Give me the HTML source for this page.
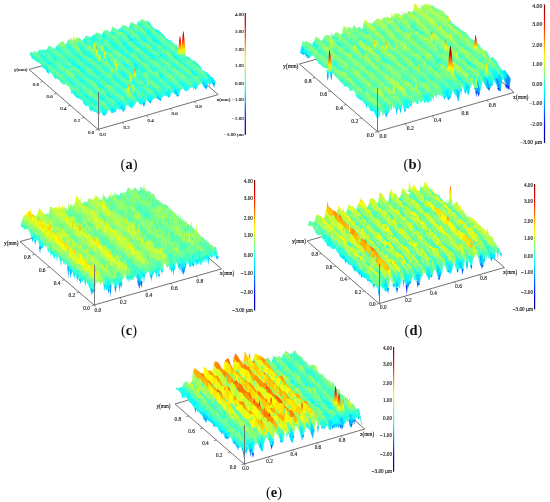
<!DOCTYPE html>
<html lang="en"><head><meta charset="utf-8"><title>Surface topography (a)-(e)</title>
<style>
html,body{margin:0;padding:0;background:#fff}
body{width:550px;height:502px;overflow:hidden}
svg{display:block}
text{font-family:"Liberation Serif","DejaVu Serif",serif;fill:#111;stroke:#111;stroke-width:.12}
text.cap{stroke:none;fill:#111}
path[class^=q]{stroke-width:1.6;stroke-linejoin:round}
.q0{fill:#000080;stroke:#000080}.r0{fill:#000080}
.q1{fill:#00009b;stroke:#00009b}.r1{fill:#00009b}
.q2{fill:#0000b7;stroke:#0000b7}.r2{fill:#0000b7}
.q3{fill:#0000d2;stroke:#0000d2}.r3{fill:#0000d2}
.q4{fill:#0000ee;stroke:#0000ee}.r4{fill:#0000ee}
.q5{fill:#000aff;stroke:#000aff}.r5{fill:#000aff}
.q6{fill:#0026ff;stroke:#0026ff}.r6{fill:#0026ff}
.q7{fill:#0041ff;stroke:#0041ff}.r7{fill:#0041ff}
.q8{fill:#005dff;stroke:#005dff}.r8{fill:#005dff}
.q9{fill:#0079ff;stroke:#0079ff}.r9{fill:#0079ff}
.q10{fill:#0094ff;stroke:#0094ff}.r10{fill:#0094ff}
.q11{fill:#00b0ff;stroke:#00b0ff}.r11{fill:#00b0ff}
.q12{fill:#00cbff;stroke:#00cbff}.r12{fill:#00cbff}
.q13{fill:#00e7ff;stroke:#00e7ff}.r13{fill:#00e7ff}
.q14{fill:#03fffc;stroke:#03fffc}.r14{fill:#03fffc}
.q15{fill:#1fffe0;stroke:#1fffe0}.r15{fill:#1fffe0}
.q16{fill:#3bffc4;stroke:#3bffc4}.r16{fill:#3bffc4}
.q17{fill:#56ffa9;stroke:#56ffa9}.r17{fill:#56ffa9}
.q18{fill:#72ff8d;stroke:#72ff8d}.r18{fill:#72ff8d}
.q19{fill:#8dff72;stroke:#8dff72}.r19{fill:#8dff72}
.q20{fill:#a9ff56;stroke:#a9ff56}.r20{fill:#a9ff56}
.q21{fill:#c4ff3b;stroke:#c4ff3b}.r21{fill:#c4ff3b}
.q22{fill:#e0ff1f;stroke:#e0ff1f}.r22{fill:#e0ff1f}
.q23{fill:#fcff03;stroke:#fcff03}.r23{fill:#fcff03}
.q24{fill:#ffe700;stroke:#ffe700}.r24{fill:#ffe700}
.q25{fill:#ffcb00;stroke:#ffcb00}.r25{fill:#ffcb00}
.q26{fill:#ffb000;stroke:#ffb000}.r26{fill:#ffb000}
.q27{fill:#ff9400;stroke:#ff9400}.r27{fill:#ff9400}
.q28{fill:#ff7900;stroke:#ff7900}.r28{fill:#ff7900}
.q29{fill:#ff5d00;stroke:#ff5d00}.r29{fill:#ff5d00}
.q30{fill:#ff4100;stroke:#ff4100}.r30{fill:#ff4100}
.q31{fill:#ff2600;stroke:#ff2600}.r31{fill:#ff2600}
.q32{fill:#ff0a00;stroke:#ff0a00}.r32{fill:#ff0a00}
.q33{fill:#ee0000;stroke:#ee0000}.r33{fill:#ee0000}
.q34{fill:#d20000;stroke:#d20000}.r34{fill:#d20000}
.q35{fill:#b70000;stroke:#b70000}.r35{fill:#b70000}
.q36{fill:#9b0000;stroke:#9b0000}.r36{fill:#9b0000}
.q37{fill:#800000;stroke:#800000}.r37{fill:#800000}
</style></head><body>
<svg width="550" height="502" viewBox="0 0 550 502">
<defs>
<filter id="bl" x="-5%" y="-10%" width="110%" height="120%"><feGaussianBlur stdDeviation="0.45"/></filter>
<linearGradient id="cba" x1="0" y1="0" x2="0" y2="1"><stop offset="0.000" stop-color="#800000"/><stop offset="0.036" stop-color="#a40000"/><stop offset="0.071" stop-color="#c80000"/><stop offset="0.107" stop-color="#ed0000"/><stop offset="0.143" stop-color="#ff1200"/><stop offset="0.179" stop-color="#ff3700"/><stop offset="0.214" stop-color="#ff5b00"/><stop offset="0.250" stop-color="#ff8000"/><stop offset="0.286" stop-color="#ffa400"/><stop offset="0.321" stop-color="#ffc800"/><stop offset="0.357" stop-color="#ffed00"/><stop offset="0.393" stop-color="#edff12"/><stop offset="0.429" stop-color="#c8ff37"/><stop offset="0.464" stop-color="#a4ff5b"/><stop offset="0.500" stop-color="#80ff80"/><stop offset="0.536" stop-color="#5bffa4"/><stop offset="0.571" stop-color="#37ffc8"/><stop offset="0.607" stop-color="#12ffed"/><stop offset="0.643" stop-color="#00edff"/><stop offset="0.679" stop-color="#00c8ff"/><stop offset="0.714" stop-color="#00a4ff"/><stop offset="0.750" stop-color="#0080ff"/><stop offset="0.786" stop-color="#005bff"/><stop offset="0.821" stop-color="#0037ff"/><stop offset="0.857" stop-color="#0012ff"/><stop offset="0.893" stop-color="#0000ed"/><stop offset="0.929" stop-color="#0000c8"/><stop offset="0.964" stop-color="#0000a4"/><stop offset="1.000" stop-color="#000080"/></linearGradient>
<linearGradient id="ga0" gradientUnits="userSpaceOnUse" x1="0" y1="36.0" x2="0" y2="55.0"><stop offset="0.00" stop-color="#8e0000"/><stop offset="0.17" stop-color="#de0000"/><stop offset="0.33" stop-color="#ff2f00"/><stop offset="0.50" stop-color="#ff8000"/><stop offset="0.67" stop-color="#ffd000"/><stop offset="0.83" stop-color="#deff21"/><stop offset="1.00" stop-color="#8eff71"/></linearGradient>
<linearGradient id="ga1" gradientUnits="userSpaceOnUse" x1="0" y1="31.0" x2="0" y2="55.0"><stop offset="0.00" stop-color="#800000"/><stop offset="0.17" stop-color="#ba0000"/><stop offset="0.33" stop-color="#ff1200"/><stop offset="0.50" stop-color="#ff6a00"/><stop offset="0.67" stop-color="#ffc100"/><stop offset="0.83" stop-color="#e5ff1a"/><stop offset="1.00" stop-color="#8eff71"/></linearGradient>
<linearGradient id="ga2" gradientUnits="userSpaceOnUse" x1="0" y1="35.0" x2="0" y2="44.0"><stop offset="0.00" stop-color="#ffed00"/><stop offset="0.17" stop-color="#f4ff0b"/><stop offset="0.33" stop-color="#d7ff28"/><stop offset="0.50" stop-color="#baff45"/><stop offset="0.67" stop-color="#9dff62"/><stop offset="0.83" stop-color="#80ff80"/><stop offset="1.00" stop-color="#62ff9d"/></linearGradient>
<linearGradient id="ga3" gradientUnits="userSpaceOnUse" x1="0" y1="37.0" x2="0" y2="44.0"><stop offset="0.00" stop-color="#f4ff0b"/><stop offset="0.17" stop-color="#dcff23"/><stop offset="0.33" stop-color="#c3ff3c"/><stop offset="0.50" stop-color="#abff54"/><stop offset="0.67" stop-color="#93ff6c"/><stop offset="0.83" stop-color="#7bff84"/><stop offset="1.00" stop-color="#62ff9d"/></linearGradient>
<linearGradient id="ga4" gradientUnits="userSpaceOnUse" x1="0" y1="45.0" x2="0" y2="57.0"><stop offset="0.00" stop-color="#ff6a00"/><stop offset="0.17" stop-color="#ff9800"/><stop offset="0.33" stop-color="#ffc600"/><stop offset="0.50" stop-color="#fff400"/><stop offset="0.67" stop-color="#dcff23"/><stop offset="0.83" stop-color="#aeff51"/><stop offset="1.00" stop-color="#80ff80"/></linearGradient>
<linearGradient id="ga5" gradientUnits="userSpaceOnUse" x1="0" y1="45.0" x2="0" y2="52.0"><stop offset="0.00" stop-color="#ffed00"/><stop offset="0.17" stop-color="#f6ff09"/><stop offset="0.33" stop-color="#dcff23"/><stop offset="0.50" stop-color="#c1ff3e"/><stop offset="0.67" stop-color="#a6ff59"/><stop offset="0.83" stop-color="#8cff73"/><stop offset="1.00" stop-color="#71ff8e"/></linearGradient>
<linearGradient id="ga6" gradientUnits="userSpaceOnUse" x1="0" y1="59.0" x2="0" y2="66.0"><stop offset="0.00" stop-color="#fffb00"/><stop offset="0.17" stop-color="#eaff15"/><stop offset="0.33" stop-color="#d2ff2d"/><stop offset="0.50" stop-color="#baff45"/><stop offset="0.67" stop-color="#a2ff5e"/><stop offset="0.83" stop-color="#89ff76"/><stop offset="1.00" stop-color="#71ff8e"/></linearGradient>
<linearGradient id="ga7" gradientUnits="userSpaceOnUse" x1="0" y1="68.0" x2="0" y2="78.0"><stop offset="0.00" stop-color="#ff4d00"/><stop offset="0.17" stop-color="#ff8000"/><stop offset="0.33" stop-color="#ffb200"/><stop offset="0.50" stop-color="#ffe500"/><stop offset="0.67" stop-color="#e5ff1a"/><stop offset="0.83" stop-color="#b2ff4d"/><stop offset="1.00" stop-color="#80ff80"/></linearGradient>
<linearGradient id="ga8" gradientUnits="userSpaceOnUse" x1="0" y1="74.0" x2="0" y2="83.0"><stop offset="0.00" stop-color="#ffd000"/><stop offset="0.17" stop-color="#ffef00"/><stop offset="0.33" stop-color="#efff10"/><stop offset="0.50" stop-color="#d0ff2f"/><stop offset="0.67" stop-color="#b0ff4f"/><stop offset="0.83" stop-color="#91ff6e"/><stop offset="1.00" stop-color="#71ff8e"/></linearGradient>
<linearGradient id="ga9" gradientUnits="userSpaceOnUse" x1="0" y1="84.0" x2="0" y2="93.0"><stop offset="0.00" stop-color="#ff8700"/><stop offset="0.17" stop-color="#ffb200"/><stop offset="0.33" stop-color="#ffde00"/><stop offset="0.50" stop-color="#f4ff0b"/><stop offset="0.67" stop-color="#c8ff37"/><stop offset="0.83" stop-color="#9dff62"/><stop offset="1.00" stop-color="#71ff8e"/></linearGradient>
<linearGradient id="ga10" gradientUnits="userSpaceOnUse" x1="0" y1="68.0" x2="0" y2="74.0"><stop offset="0.00" stop-color="#f4ff0b"/><stop offset="0.17" stop-color="#dcff23"/><stop offset="0.33" stop-color="#c3ff3c"/><stop offset="0.50" stop-color="#abff54"/><stop offset="0.67" stop-color="#93ff6c"/><stop offset="0.83" stop-color="#7bff84"/><stop offset="1.00" stop-color="#62ff9d"/></linearGradient>
<linearGradient id="ga11" gradientUnits="userSpaceOnUse" x1="0" y1="91.0" x2="0" y2="98.0"><stop offset="0.00" stop-color="#f4ff0b"/><stop offset="0.17" stop-color="#dcff23"/><stop offset="0.33" stop-color="#c3ff3c"/><stop offset="0.50" stop-color="#abff54"/><stop offset="0.67" stop-color="#93ff6c"/><stop offset="0.83" stop-color="#7bff84"/><stop offset="1.00" stop-color="#62ff9d"/></linearGradient>
<linearGradient id="ga12" gradientUnits="userSpaceOnUse" x1="0" y1="80.0" x2="0" y2="86.0"><stop offset="0.00" stop-color="#d7ff28"/><stop offset="0.17" stop-color="#c3ff3c"/><stop offset="0.33" stop-color="#b0ff4f"/><stop offset="0.50" stop-color="#9dff62"/><stop offset="0.67" stop-color="#89ff76"/><stop offset="0.83" stop-color="#76ff89"/><stop offset="1.00" stop-color="#62ff9d"/></linearGradient>
<linearGradient id="ga13" gradientUnits="userSpaceOnUse" x1="0" y1="43.0" x2="0" y2="52.0"><stop offset="0.00" stop-color="#ffde00"/><stop offset="0.17" stop-color="#fffb00"/><stop offset="0.33" stop-color="#e5ff1a"/><stop offset="0.50" stop-color="#c8ff37"/><stop offset="0.67" stop-color="#abff54"/><stop offset="0.83" stop-color="#8eff71"/><stop offset="1.00" stop-color="#71ff8e"/></linearGradient>
<linearGradient id="ga14" gradientUnits="userSpaceOnUse" x1="0" y1="51.0" x2="0" y2="61.0"><stop offset="0.00" stop-color="#ffa400"/><stop offset="0.17" stop-color="#ffc800"/><stop offset="0.33" stop-color="#ffed00"/><stop offset="0.50" stop-color="#edff12"/><stop offset="0.67" stop-color="#c8ff37"/><stop offset="0.83" stop-color="#a4ff5b"/><stop offset="1.00" stop-color="#80ff80"/></linearGradient>
<linearGradient id="ga15" gradientUnits="userSpaceOnUse" x1="0" y1="51.0" x2="0" y2="59.0"><stop offset="0.00" stop-color="#fffb00"/><stop offset="0.17" stop-color="#eaff15"/><stop offset="0.33" stop-color="#d2ff2d"/><stop offset="0.50" stop-color="#baff45"/><stop offset="0.67" stop-color="#a2ff5e"/><stop offset="0.83" stop-color="#89ff76"/><stop offset="1.00" stop-color="#71ff8e"/></linearGradient>
<linearGradient id="ga16" gradientUnits="userSpaceOnUse" x1="0" y1="37.0" x2="0" y2="42.0"><stop offset="0.00" stop-color="#e5ff1a"/><stop offset="0.17" stop-color="#d0ff2f"/><stop offset="0.33" stop-color="#baff45"/><stop offset="0.50" stop-color="#a4ff5b"/><stop offset="0.67" stop-color="#8eff71"/><stop offset="0.83" stop-color="#78ff87"/><stop offset="1.00" stop-color="#62ff9d"/></linearGradient>
<linearGradient id="ga17" gradientUnits="userSpaceOnUse" x1="0" y1="63.0" x2="0" y2="71.0"><stop offset="0.00" stop-color="#ffed00"/><stop offset="0.17" stop-color="#f6ff09"/><stop offset="0.33" stop-color="#dcff23"/><stop offset="0.50" stop-color="#c1ff3e"/><stop offset="0.67" stop-color="#a6ff59"/><stop offset="0.83" stop-color="#8cff73"/><stop offset="1.00" stop-color="#71ff8e"/></linearGradient>
<linearGradient id="ga18" gradientUnits="userSpaceOnUse" x1="0" y1="84.0" x2="0" y2="92.0"><stop offset="0.00" stop-color="#fffb00"/><stop offset="0.17" stop-color="#eaff15"/><stop offset="0.33" stop-color="#d2ff2d"/><stop offset="0.50" stop-color="#baff45"/><stop offset="0.67" stop-color="#a2ff5e"/><stop offset="0.83" stop-color="#89ff76"/><stop offset="1.00" stop-color="#71ff8e"/></linearGradient>
<linearGradient id="cbb" x1="0" y1="0" x2="0" y2="1"><stop offset="0.000" stop-color="#800000"/><stop offset="0.036" stop-color="#a40000"/><stop offset="0.071" stop-color="#c80000"/><stop offset="0.107" stop-color="#ed0000"/><stop offset="0.143" stop-color="#ff1200"/><stop offset="0.179" stop-color="#ff3700"/><stop offset="0.214" stop-color="#ff5b00"/><stop offset="0.250" stop-color="#ff8000"/><stop offset="0.286" stop-color="#ffa400"/><stop offset="0.321" stop-color="#ffc800"/><stop offset="0.357" stop-color="#ffed00"/><stop offset="0.393" stop-color="#edff12"/><stop offset="0.429" stop-color="#c8ff37"/><stop offset="0.464" stop-color="#a4ff5b"/><stop offset="0.500" stop-color="#80ff80"/><stop offset="0.536" stop-color="#5bffa4"/><stop offset="0.571" stop-color="#37ffc8"/><stop offset="0.607" stop-color="#12ffed"/><stop offset="0.643" stop-color="#00edff"/><stop offset="0.679" stop-color="#00c8ff"/><stop offset="0.714" stop-color="#00a4ff"/><stop offset="0.750" stop-color="#0080ff"/><stop offset="0.786" stop-color="#005bff"/><stop offset="0.821" stop-color="#0037ff"/><stop offset="0.857" stop-color="#0012ff"/><stop offset="0.893" stop-color="#0000ed"/><stop offset="0.929" stop-color="#0000c8"/><stop offset="0.964" stop-color="#0000a4"/><stop offset="1.000" stop-color="#000080"/></linearGradient>
<linearGradient id="gb0" gradientUnits="userSpaceOnUse" x1="0" y1="80.5" x2="0" y2="70.0"><stop offset="0.00" stop-color="#004cff"/><stop offset="0.17" stop-color="#0071ff"/><stop offset="0.33" stop-color="#0095ff"/><stop offset="0.50" stop-color="#00baff"/><stop offset="0.67" stop-color="#00deff"/><stop offset="0.83" stop-color="#04fffb"/><stop offset="1.00" stop-color="#28ffd7"/></linearGradient>
<linearGradient id="gb1" gradientUnits="userSpaceOnUse" x1="0" y1="80.0" x2="0" y2="70.0"><stop offset="0.00" stop-color="#004cff"/><stop offset="0.17" stop-color="#0071ff"/><stop offset="0.33" stop-color="#0095ff"/><stop offset="0.50" stop-color="#00baff"/><stop offset="0.67" stop-color="#00deff"/><stop offset="0.83" stop-color="#04fffb"/><stop offset="1.00" stop-color="#28ffd7"/></linearGradient>
<linearGradient id="gb2" gradientUnits="userSpaceOnUse" x1="0" y1="50.0" x2="0" y2="72.0"><stop offset="0.00" stop-color="#800000"/><stop offset="0.17" stop-color="#d90000"/><stop offset="0.33" stop-color="#ff3400"/><stop offset="0.50" stop-color="#ff8e00"/><stop offset="0.67" stop-color="#ffe800"/><stop offset="0.83" stop-color="#bcff43"/><stop offset="1.00" stop-color="#62ff9d"/></linearGradient>
<linearGradient id="gb3" gradientUnits="userSpaceOnUse" x1="0" y1="32.0" x2="0" y2="50.0"><stop offset="0.00" stop-color="#ffa400"/><stop offset="0.17" stop-color="#ffcb00"/><stop offset="0.33" stop-color="#fff200"/><stop offset="0.50" stop-color="#e5ff1a"/><stop offset="0.67" stop-color="#bfff40"/><stop offset="0.83" stop-color="#98ff67"/><stop offset="1.00" stop-color="#71ff8e"/></linearGradient>
<linearGradient id="gb4" gradientUnits="userSpaceOnUse" x1="0" y1="46.0" x2="0" y2="72.0"><stop offset="0.00" stop-color="#800000"/><stop offset="0.17" stop-color="#9d0000"/><stop offset="0.33" stop-color="#f40000"/><stop offset="0.50" stop-color="#ff4d00"/><stop offset="0.67" stop-color="#ffa400"/><stop offset="0.83" stop-color="#fffb00"/><stop offset="1.00" stop-color="#abff54"/></linearGradient>
<linearGradient id="gb5" gradientUnits="userSpaceOnUse" x1="0" y1="64.0" x2="0" y2="80.0"><stop offset="0.00" stop-color="#ffa400"/><stop offset="0.17" stop-color="#ffcd00"/><stop offset="0.33" stop-color="#fff600"/><stop offset="0.50" stop-color="#deff21"/><stop offset="0.67" stop-color="#b5ff4a"/><stop offset="0.83" stop-color="#8cff73"/><stop offset="1.00" stop-color="#62ff9d"/></linearGradient>
<linearGradient id="gb6" gradientUnits="userSpaceOnUse" x1="0" y1="35.0" x2="0" y2="50.0"><stop offset="0.00" stop-color="#9d0000"/><stop offset="0.17" stop-color="#e50000"/><stop offset="0.33" stop-color="#ff2f00"/><stop offset="0.50" stop-color="#ff7800"/><stop offset="0.67" stop-color="#ffc100"/><stop offset="0.83" stop-color="#f4ff0b"/><stop offset="1.00" stop-color="#abff54"/></linearGradient>
<linearGradient id="gb7" gradientUnits="userSpaceOnUse" x1="0" y1="39.0" x2="0" y2="52.0"><stop offset="0.00" stop-color="#ff5b00"/><stop offset="0.17" stop-color="#ff8c00"/><stop offset="0.33" stop-color="#ffbc00"/><stop offset="0.50" stop-color="#ffed00"/><stop offset="0.67" stop-color="#e1ff1e"/><stop offset="0.83" stop-color="#b0ff4f"/><stop offset="1.00" stop-color="#80ff80"/></linearGradient>
<linearGradient id="gb8" gradientUnits="userSpaceOnUse" x1="0" y1="31.0" x2="0" y2="42.0"><stop offset="0.00" stop-color="#ff6a00"/><stop offset="0.17" stop-color="#ff9800"/><stop offset="0.33" stop-color="#ffc600"/><stop offset="0.50" stop-color="#fff400"/><stop offset="0.67" stop-color="#dcff23"/><stop offset="0.83" stop-color="#aeff51"/><stop offset="1.00" stop-color="#80ff80"/></linearGradient>
<linearGradient id="gb9" gradientUnits="userSpaceOnUse" x1="0" y1="41.0" x2="0" y2="52.0"><stop offset="0.00" stop-color="#ff6a00"/><stop offset="0.17" stop-color="#ff9800"/><stop offset="0.33" stop-color="#ffc600"/><stop offset="0.50" stop-color="#fff400"/><stop offset="0.67" stop-color="#dcff23"/><stop offset="0.83" stop-color="#aeff51"/><stop offset="1.00" stop-color="#80ff80"/></linearGradient>
<linearGradient id="gb10" gradientUnits="userSpaceOnUse" x1="0" y1="84.0" x2="0" y2="96.0"><stop offset="0.00" stop-color="#ffde00"/><stop offset="0.17" stop-color="#fffe00"/><stop offset="0.33" stop-color="#e1ff1e"/><stop offset="0.50" stop-color="#c1ff3e"/><stop offset="0.67" stop-color="#a2ff5e"/><stop offset="0.83" stop-color="#82ff7d"/><stop offset="1.00" stop-color="#62ff9d"/></linearGradient>
<linearGradient id="gb11" gradientUnits="userSpaceOnUse" x1="0" y1="83.0" x2="0" y2="94.0"><stop offset="0.00" stop-color="#ffde00"/><stop offset="0.17" stop-color="#fffe00"/><stop offset="0.33" stop-color="#e1ff1e"/><stop offset="0.50" stop-color="#c1ff3e"/><stop offset="0.67" stop-color="#a2ff5e"/><stop offset="0.83" stop-color="#82ff7d"/><stop offset="1.00" stop-color="#62ff9d"/></linearGradient>
<linearGradient id="gb12" gradientUnits="userSpaceOnUse" x1="0" y1="11.0" x2="0" y2="20.0"><stop offset="0.00" stop-color="#ffd000"/><stop offset="0.17" stop-color="#fff200"/><stop offset="0.33" stop-color="#eaff15"/><stop offset="0.50" stop-color="#c8ff37"/><stop offset="0.67" stop-color="#a6ff59"/><stop offset="0.83" stop-color="#84ff7b"/><stop offset="1.00" stop-color="#62ff9d"/></linearGradient>
<linearGradient id="gb13" gradientUnits="userSpaceOnUse" x1="0" y1="15.0" x2="0" y2="24.0"><stop offset="0.00" stop-color="#ff8700"/><stop offset="0.17" stop-color="#ffb200"/><stop offset="0.33" stop-color="#ffde00"/><stop offset="0.50" stop-color="#f4ff0b"/><stop offset="0.67" stop-color="#c8ff37"/><stop offset="0.83" stop-color="#9dff62"/><stop offset="1.00" stop-color="#71ff8e"/></linearGradient>
<linearGradient id="gb14" gradientUnits="userSpaceOnUse" x1="0" y1="13.0" x2="0" y2="20.0"><stop offset="0.00" stop-color="#fffb00"/><stop offset="0.17" stop-color="#e8ff17"/><stop offset="0.33" stop-color="#cdff32"/><stop offset="0.50" stop-color="#b3ff4c"/><stop offset="0.67" stop-color="#98ff67"/><stop offset="0.83" stop-color="#7dff82"/><stop offset="1.00" stop-color="#62ff9d"/></linearGradient>
<linearGradient id="gb15" gradientUnits="userSpaceOnUse" x1="0" y1="63.0" x2="0" y2="76.0"><stop offset="0.00" stop-color="#ffc100"/><stop offset="0.17" stop-color="#ffe300"/><stop offset="0.33" stop-color="#f9ff06"/><stop offset="0.50" stop-color="#d7ff28"/><stop offset="0.67" stop-color="#b5ff4a"/><stop offset="0.83" stop-color="#93ff6c"/><stop offset="1.00" stop-color="#71ff8e"/></linearGradient>
<linearGradient id="gb16" gradientUnits="userSpaceOnUse" x1="0" y1="43.0" x2="0" y2="52.0"><stop offset="0.00" stop-color="#ffed00"/><stop offset="0.17" stop-color="#f6ff09"/><stop offset="0.33" stop-color="#dcff23"/><stop offset="0.50" stop-color="#c1ff3e"/><stop offset="0.67" stop-color="#a6ff59"/><stop offset="0.83" stop-color="#8cff73"/><stop offset="1.00" stop-color="#71ff8e"/></linearGradient>
<linearGradient id="gb17" gradientUnits="userSpaceOnUse" x1="0" y1="41.0" x2="0" y2="50.0"><stop offset="0.00" stop-color="#ff8700"/><stop offset="0.17" stop-color="#ffb200"/><stop offset="0.33" stop-color="#ffde00"/><stop offset="0.50" stop-color="#f4ff0b"/><stop offset="0.67" stop-color="#c8ff37"/><stop offset="0.83" stop-color="#9dff62"/><stop offset="1.00" stop-color="#71ff8e"/></linearGradient>
<linearGradient id="gb18" gradientUnits="userSpaceOnUse" x1="0" y1="44.0" x2="0" y2="52.0"><stop offset="0.00" stop-color="#f4ff0b"/><stop offset="0.17" stop-color="#deff21"/><stop offset="0.33" stop-color="#c8ff37"/><stop offset="0.50" stop-color="#b3ff4c"/><stop offset="0.67" stop-color="#9dff62"/><stop offset="0.83" stop-color="#87ff78"/><stop offset="1.00" stop-color="#71ff8e"/></linearGradient>
<linearGradient id="gb19" gradientUnits="userSpaceOnUse" x1="0" y1="52.0" x2="0" y2="60.0"><stop offset="0.00" stop-color="#fffb00"/><stop offset="0.17" stop-color="#eaff15"/><stop offset="0.33" stop-color="#d2ff2d"/><stop offset="0.50" stop-color="#baff45"/><stop offset="0.67" stop-color="#a2ff5e"/><stop offset="0.83" stop-color="#89ff76"/><stop offset="1.00" stop-color="#71ff8e"/></linearGradient>
<linearGradient id="gb20" gradientUnits="userSpaceOnUse" x1="0" y1="50.0" x2="0" y2="60.0"><stop offset="0.00" stop-color="#ffd000"/><stop offset="0.17" stop-color="#ffef00"/><stop offset="0.33" stop-color="#efff10"/><stop offset="0.50" stop-color="#d0ff2f"/><stop offset="0.67" stop-color="#b0ff4f"/><stop offset="0.83" stop-color="#91ff6e"/><stop offset="1.00" stop-color="#71ff8e"/></linearGradient>
<linearGradient id="gb21" gradientUnits="userSpaceOnUse" x1="0" y1="78.0" x2="0" y2="88.0"><stop offset="0.00" stop-color="#ffed00"/><stop offset="0.17" stop-color="#f4ff0b"/><stop offset="0.33" stop-color="#d7ff28"/><stop offset="0.50" stop-color="#baff45"/><stop offset="0.67" stop-color="#9dff62"/><stop offset="0.83" stop-color="#80ff80"/><stop offset="1.00" stop-color="#62ff9d"/></linearGradient>
<linearGradient id="cbc" x1="0" y1="0" x2="0" y2="1"><stop offset="0.000" stop-color="#800000"/><stop offset="0.036" stop-color="#a40000"/><stop offset="0.071" stop-color="#c80000"/><stop offset="0.107" stop-color="#ed0000"/><stop offset="0.143" stop-color="#ff1200"/><stop offset="0.179" stop-color="#ff3700"/><stop offset="0.214" stop-color="#ff5b00"/><stop offset="0.250" stop-color="#ff8000"/><stop offset="0.286" stop-color="#ffa400"/><stop offset="0.321" stop-color="#ffc800"/><stop offset="0.357" stop-color="#ffed00"/><stop offset="0.393" stop-color="#edff12"/><stop offset="0.429" stop-color="#c8ff37"/><stop offset="0.464" stop-color="#a4ff5b"/><stop offset="0.500" stop-color="#80ff80"/><stop offset="0.536" stop-color="#5bffa4"/><stop offset="0.571" stop-color="#37ffc8"/><stop offset="0.607" stop-color="#12ffed"/><stop offset="0.643" stop-color="#00edff"/><stop offset="0.679" stop-color="#00c8ff"/><stop offset="0.714" stop-color="#00a4ff"/><stop offset="0.750" stop-color="#0080ff"/><stop offset="0.786" stop-color="#005bff"/><stop offset="0.821" stop-color="#0037ff"/><stop offset="0.857" stop-color="#0012ff"/><stop offset="0.893" stop-color="#0000ed"/><stop offset="0.929" stop-color="#0000c8"/><stop offset="0.964" stop-color="#0000a4"/><stop offset="1.000" stop-color="#000080"/></linearGradient>
<linearGradient id="cbd" x1="0" y1="0" x2="0" y2="1"><stop offset="0.000" stop-color="#800000"/><stop offset="0.036" stop-color="#a40000"/><stop offset="0.071" stop-color="#c80000"/><stop offset="0.107" stop-color="#ed0000"/><stop offset="0.143" stop-color="#ff1200"/><stop offset="0.179" stop-color="#ff3700"/><stop offset="0.214" stop-color="#ff5b00"/><stop offset="0.250" stop-color="#ff8000"/><stop offset="0.286" stop-color="#ffa400"/><stop offset="0.321" stop-color="#ffc800"/><stop offset="0.357" stop-color="#ffed00"/><stop offset="0.393" stop-color="#edff12"/><stop offset="0.429" stop-color="#c8ff37"/><stop offset="0.464" stop-color="#a4ff5b"/><stop offset="0.500" stop-color="#80ff80"/><stop offset="0.536" stop-color="#5bffa4"/><stop offset="0.571" stop-color="#37ffc8"/><stop offset="0.607" stop-color="#12ffed"/><stop offset="0.643" stop-color="#00edff"/><stop offset="0.679" stop-color="#00c8ff"/><stop offset="0.714" stop-color="#00a4ff"/><stop offset="0.750" stop-color="#0080ff"/><stop offset="0.786" stop-color="#005bff"/><stop offset="0.821" stop-color="#0037ff"/><stop offset="0.857" stop-color="#0012ff"/><stop offset="0.893" stop-color="#0000ed"/><stop offset="0.929" stop-color="#0000c8"/><stop offset="0.964" stop-color="#0000a4"/><stop offset="1.000" stop-color="#000080"/></linearGradient>
<linearGradient id="gd0" gradientUnits="userSpaceOnUse" x1="0" y1="185.5" x2="0" y2="204.0"><stop offset="0.00" stop-color="#ff5b00"/><stop offset="0.17" stop-color="#ff8c00"/><stop offset="0.33" stop-color="#ffbc00"/><stop offset="0.50" stop-color="#ffed00"/><stop offset="0.67" stop-color="#e1ff1e"/><stop offset="0.83" stop-color="#b0ff4f"/><stop offset="1.00" stop-color="#80ff80"/></linearGradient>
<linearGradient id="gd1" gradientUnits="userSpaceOnUse" x1="0" y1="182.0" x2="0" y2="192.0"><stop offset="0.00" stop-color="#ffde00"/><stop offset="0.17" stop-color="#fff900"/><stop offset="0.33" stop-color="#eaff15"/><stop offset="0.50" stop-color="#d0ff2f"/><stop offset="0.67" stop-color="#b5ff4a"/><stop offset="0.83" stop-color="#9aff65"/><stop offset="1.00" stop-color="#80ff80"/></linearGradient>
<linearGradient id="cbe" x1="0" y1="0" x2="0" y2="1"><stop offset="0.000" stop-color="#800000"/><stop offset="0.036" stop-color="#a40000"/><stop offset="0.071" stop-color="#c80000"/><stop offset="0.107" stop-color="#ed0000"/><stop offset="0.143" stop-color="#ff1200"/><stop offset="0.179" stop-color="#ff3700"/><stop offset="0.214" stop-color="#ff5b00"/><stop offset="0.250" stop-color="#ff8000"/><stop offset="0.286" stop-color="#ffa400"/><stop offset="0.321" stop-color="#ffc800"/><stop offset="0.357" stop-color="#ffed00"/><stop offset="0.393" stop-color="#edff12"/><stop offset="0.429" stop-color="#c8ff37"/><stop offset="0.464" stop-color="#a4ff5b"/><stop offset="0.500" stop-color="#80ff80"/><stop offset="0.536" stop-color="#5bffa4"/><stop offset="0.571" stop-color="#37ffc8"/><stop offset="0.607" stop-color="#12ffed"/><stop offset="0.643" stop-color="#00edff"/><stop offset="0.679" stop-color="#00c8ff"/><stop offset="0.714" stop-color="#00a4ff"/><stop offset="0.750" stop-color="#0080ff"/><stop offset="0.786" stop-color="#005bff"/><stop offset="0.821" stop-color="#0037ff"/><stop offset="0.857" stop-color="#0012ff"/><stop offset="0.893" stop-color="#0000ed"/><stop offset="0.929" stop-color="#0000c8"/><stop offset="0.964" stop-color="#0000a4"/><stop offset="1.000" stop-color="#000080"/></linearGradient>
<linearGradient id="ge0" gradientUnits="userSpaceOnUse" x1="0" y1="386.0" x2="0" y2="406.0"><stop offset="0.00" stop-color="#800000"/><stop offset="0.17" stop-color="#cd0000"/><stop offset="0.33" stop-color="#ff1c00"/><stop offset="0.50" stop-color="#ff6a00"/><stop offset="0.67" stop-color="#ffb700"/><stop offset="0.83" stop-color="#f9ff06"/><stop offset="1.00" stop-color="#abff54"/></linearGradient>
<linearGradient id="ge1" gradientUnits="userSpaceOnUse" x1="0" y1="393.0" x2="0" y2="411.0"><stop offset="0.00" stop-color="#ba0000"/><stop offset="0.17" stop-color="#fe0000"/><stop offset="0.33" stop-color="#ff4300"/><stop offset="0.50" stop-color="#ff8700"/><stop offset="0.67" stop-color="#ffcb00"/><stop offset="0.83" stop-color="#efff10"/><stop offset="1.00" stop-color="#abff54"/></linearGradient>
<linearGradient id="ge2" gradientUnits="userSpaceOnUse" x1="0" y1="399.0" x2="0" y2="411.0"><stop offset="0.00" stop-color="#ff6a00"/><stop offset="0.17" stop-color="#ff9500"/><stop offset="0.33" stop-color="#ffc100"/><stop offset="0.50" stop-color="#ffed00"/><stop offset="0.67" stop-color="#e5ff1a"/><stop offset="0.83" stop-color="#baff45"/><stop offset="1.00" stop-color="#8eff71"/></linearGradient>
<linearGradient id="ge3" gradientUnits="userSpaceOnUse" x1="0" y1="398.0" x2="0" y2="409.0"><stop offset="0.00" stop-color="#ffa400"/><stop offset="0.17" stop-color="#ffc800"/><stop offset="0.33" stop-color="#ffed00"/><stop offset="0.50" stop-color="#edff12"/><stop offset="0.67" stop-color="#c8ff37"/><stop offset="0.83" stop-color="#a4ff5b"/><stop offset="1.00" stop-color="#80ff80"/></linearGradient>
<linearGradient id="ge4" gradientUnits="userSpaceOnUse" x1="0" y1="397.0" x2="0" y2="408.0"><stop offset="0.00" stop-color="#e50000"/><stop offset="0.17" stop-color="#ff1e00"/><stop offset="0.33" stop-color="#ff5600"/><stop offset="0.50" stop-color="#ff8e00"/><stop offset="0.67" stop-color="#ffc600"/><stop offset="0.83" stop-color="#fffe00"/><stop offset="1.00" stop-color="#c8ff37"/></linearGradient>
<linearGradient id="ge5" gradientUnits="userSpaceOnUse" x1="0" y1="402.0" x2="0" y2="415.0"><stop offset="0.00" stop-color="#f40000"/><stop offset="0.17" stop-color="#ff2f00"/><stop offset="0.33" stop-color="#ff6a00"/><stop offset="0.50" stop-color="#ffa400"/><stop offset="0.67" stop-color="#ffde00"/><stop offset="0.83" stop-color="#e5ff1a"/><stop offset="1.00" stop-color="#abff54"/></linearGradient>
<linearGradient id="ge6" gradientUnits="userSpaceOnUse" x1="0" y1="353.0" x2="0" y2="362.0"><stop offset="0.00" stop-color="#ff6a00"/><stop offset="0.17" stop-color="#ff8c00"/><stop offset="0.33" stop-color="#ffae00"/><stop offset="0.50" stop-color="#ffd000"/><stop offset="0.67" stop-color="#fff200"/><stop offset="0.83" stop-color="#eaff15"/><stop offset="1.00" stop-color="#c8ff37"/></linearGradient>
</defs>
<rect width="550" height="502" fill="#fff"/>
<!-- panel a -->
<path d="M98.0 129.4 L29.0 69.5 L149.2 34.7 L218.2 94.6 Z" fill="none" stroke="#444" stroke-width=".75"/>
<path d="M98.0 129.4 l2.0 1.7M98.0 129.4 l-2.5 0.7M122.0 122.4 l2.0 1.7M84.2 117.4 l-2.5 0.7M146.1 115.5 l2.0 1.7M70.4 105.4 l-2.5 0.7M170.1 108.5 l2.0 1.7M56.6 93.5 l-2.5 0.7M194.2 101.6 l2.0 1.7M42.8 81.5 l-2.5 0.7" stroke="#444" stroke-width=".6" fill="none"/>
<g filter="url(#bl)">
<g transform="scale(0.2500)">
<path class="q15" d="M593 98l-11-6 6-9 10 7zM656 152l-11-10-10-2 5-12 11 9 10 13zM677 171l-10-12 5 1 10 1zM709 199l-11-11 5-8 11 15zM793 274l-11-8-10-10-11-11-10-12 5-4 10 12 11 2 10 8 11 11zM824 300l-10-14 5 2 10 3z"/>
<path class="q14" d="M603 116l-10-18 5-8 11 18zM635 140l-11-9-10-11 5-4 11 3 10 9zM667 159l-11-7 5-2 11 10zM719 211l-10-12 5-4 10 10zM751 233l-11-8 5 2 11 2zM814 286l-11-9-10-3 5-12 10 21 11 5zM845 321l-10-10-11-11 5-9 11 13 10 6z"/>
<path class="q13" d="M614 120l-11-4 6-8 10 8zM740 225l-10-1-11-13 5-6 11 14 10 8zM856 338l-11-17 5-11 11 18z"/>
<path class="q16" d="M698 188l-10-18-11 1 5-10 11 13 10 6z"/>
<path class="q15" d="M588 97l-11-13 5 8 11 6zM672 163l-11 0-10-16-11-11-10-6 5 10 10 2 11 10 11 7 10 12zM703 199l-10-13-11-8 6-8 10 18 11 11zM819 295l-10-4-11-16-10-11-11-7-10-11-11-5-11-7-10-9 5 0 11 8 10 12 11 11 10 10 11 8 10 3 11 9 10 14z"/>
<path class="q14" d="M630 130l-11-8-10-7-11-6-10-12 5 1 10 18 11 4 10 11 11 9zM735 225l-11-6-10-15-11-5 6 0 10 12 11 13 10 1zM830 308l-11-13 5 5 11 11z"/>
<path class="q16" d="M682 178l-10-15 5 8 11-1z"/>
<path class="q13" d="M840 326l-10-18 5 3 10 10z"/>
<path class="q12" d="M851 334l-11-8 5-5 11 17z"/>
<path class="q16" d="M740 231l-10-15-11-6-10-13-11-3-10-20-11 0-10-8-11-12-10-8-11-9-10-7-11-15-10-9-11-9-10-8-11-9 5 4 11 13 10 12 11 6 10 7 11 8 10 6 11 11 10 16 11 0 10 15 11 8 10 13 11 5 10 15 11 6 10 9zM761 242l-10-1 5 0 11 5zM824 297l-10-5-11-8-10-16 5 7 11 16 10 4 11 13z"/>
<path class="q15" d="M751 241l-11-10 5 3 11 7zM835 317l-11-20 6 11 10 18z"/>
<path class="q17" d="M793 268l-11-6-10-13-11-7 6 4 10 11 11 7 10 11z"/>
<path class="q14" d="M845 327l-10-10 5 9 11 8z"/>
<path class="q18" d="M609 113l-10-5-11-18-10-7-11-5 5 2 11 9 10 8 11 9 10 9zM651 148l-10-10 5 8 10 8zM704 197l-11-14-10-5 5-4 10 20 11 3zM735 222l-10-10-11-6 5 4 11 6 10 15zM819 299l-10-13-11-11-10-5-11-9-10-7-11-11 5-1 11 7 10 13 11 6 10 16 11 8 10 5z"/>
<path class="q17" d="M641 138l-11-2-10-12-11-11 5 2 11 15 10 7 11 9zM683 178l-11-4-10-14-11-12 5 6 11 12 10 8 11 0zM714 206l-10-9 5 0 10 13zM756 243l-10-5-11-16 5 9 11 10 10 1zM830 307l-11-8 5-2 11 20z"/>
<path class="q15" d="M840 331l-10-24 5 10 10 10z"/>
<path class="q18" d="M657 164l-11-10-10-12-11-6-10-13-11-8-10-4-11-10-10-11-11-9 5-3 11 5 10 7 11 18 10 5 11 11 10 12 11 2 10 10 11 12zM699 200l-11-14-10-5 5-3 10 5 11 14zM730 227l-10-6 5-9 10 10zM814 299l-10-9-11-11-10-5 5-4 10 5 11 11 10 13z"/>
<path class="q17" d="M678 181l-11-6-10-11 5-4 10 14 11 4zM720 221l-11-8-10-13 5-3 10 9 11 6zM783 274l-11-6-10-8-11-12-10-3-11-18 5-5 11 16 10 5 11 11 10 7 11 9zM825 313l-11-14 5 0 11 8z"/>
<path class="q16" d="M835 334l-10-21 5-6 10 24z"/>
<path class="q17" d="M610 132l-11-8-11-13-10-9-11-1-10-13 5-7 11 9 10 11 11 10 10 4 11 8zM673 185l-11-7-10-17-11 1-10-9-11-17 5 0 11 6 10 12 11 10 10 11 11 6zM704 215l-10-15 5 0 10 13zM820 315l-11-7-10-10-11-14-10-4-11-13-10-7-11-13-10-5 5 3 10 3 11 12 10 8 11 6 10 5 11 11 10 9 11 14z"/>
<path class="q18" d="M620 136l-10-4 5-9 10 13zM694 200l-11-5-10-10 5-4 10 5 11 14z"/>
<path class="q16" d="M736 242l-11-6-10-8-11-13 5-2 11 8 10 6 11 18z"/>
<path class="q15" d="M830 334l-10-19 5-2 10 21z"/>
<path class="q16" d="M583 127l-10-15-11-11-10-14 5 1 10 13 11 1 10 9zM636 163l-11-2-10-13-11-7 6-9 10 4 11 17 10 9zM678 198l-11-1-10-14 5-5 11 7 10 10zM699 227l-11-17 6-10 10 15zM741 258l-10-12-11-10-10-6 5-2 10 8 11 6 10 5zM804 311l-10-14-11-1-10-10-11-13 5-6 11 13 10 4 11 14 10 10z"/>
<path class="q15" d="M604 141l-10-3-11-11 5-16 11 13 11 8zM710 230l-11-3 5-12 11 13zM815 328l-11-17 5-3 11 7z"/>
<path class="q17" d="M657 183l-11-11-10-9 5-1 11-1 10 17zM688 210l-10-12 5-3 11 5zM762 273l-10-15-11 0 5-11 11 13 10 7z"/>
<path class="q14" d="M825 349l-10-21 5-13 10 19z"/>
<path class="q15" d="M557 112l-10-13 5-12 10 14zM610 159l-11-19 5 1 11 7zM683 220l-10-9-11-12-10-6-11-11-10-9 5-10 10 9 11 11 10 14 11 1 10 12zM757 288l-11-13-10-15-11-2-10-14-11-7 6-7 10 6 11 10 10 12 11 0 10 15zM788 304l-10-3 5-5 11 1zM810 328l-11-18 5 1 11 17z"/>
<path class="q14" d="M568 128l-11-16 5-11 11 11zM599 140l-10-2 5 0 10 3zM631 173l-11-2-10-12 5-11 10 13 11 2zM704 237l-10-4-11-13 5-10 11 17 11 3zM778 301l-11-5-10-8 5-15 11 13 10 10z"/>
<path class="q13" d="M589 138l-11-3-10-7 5-16 10 15 11 11z"/>
<path class="q16" d="M799 310l-11-6 6-7 10 14z"/>
<path class="q12" d="M820 353l-10-25 5 0 10 21z"/>
<path class="q13" d="M563 117l-11-2-10-9 5-7 10 13 11 16zM615 166l-10-11 5 4 10 12zM689 231l-11-10 5-1 11 13zM815 344l-11-18 6 2 10 25z"/>
<path class="q14" d="M584 130l-11-10-10-3 5 11 10 7 11 3zM605 155l-11-10 5-5 11 19zM678 221l-10-16-11-3-10-10-11-11-10-9-11-6 5 5 11 2 10 9 11 11 10 6 11 12 10 9zM720 248l-10-1-11-12-10-4 5 2 10 4 11 7 10 14zM773 301l-11-10-10-9-11-10 5 3 11 13 10 8 11 5z"/>
<path class="q15" d="M594 145l-10-15 5 8 10 2zM741 272l-10-11-11-13 5 10 11 2 10 15zM783 302l-10-1 5 0 10 3zM804 326l-10-14 5-2 11 18z"/>
<path class="q16" d="M794 312l-11-10 5 2 11 6z"/>
<path class="q14" d="M547 106l-10-10 5 10 10 9z"/>
<path class="q15" d="M558 104l-11 2 5 9 11 2zM663 203l-11-7-10-11-11-5-10-10-11-5-10-17 5 7 10 11 11 6 10 9 11 11 10 10 11 3zM694 231l-10-10-11-17 5 17 11 10 10 4zM736 266l-10-3 5-2 10 11zM778 307l-10-11 5 5 10 1zM810 337l-11-14 5 3 11 18z"/>
<path class="q16" d="M568 119l-10-15 5 13 10 3zM600 148l-11-14-10-7 5 3 10 15 11 10zM673 204l-10-1 5 2 10 16zM726 263l-11-18-10-8-11-6 5 4 11 12 10 1 11 13zM768 296l-11-17-10-7-11-6 5 6 11 10 10 9 11 10zM799 323l-10-12-11-4 5-5 11 10 10 14z"/>
<path class="q17" d="M579 127l-11-8 5 1 11 10z"/>
<path class="q16" d="M542 99l-11-7 6 4 10 10zM626 179l-10-14-11-11-10-7 5 1 10 17 11 5 10 10zM773 304l-10-15 5 7 10 11z"/>
<path class="q18" d="M584 133l-10-14-11-8-10-8-11-4 5 7 11-2 10 15 11 8 10 7zM679 211l-11-2 5-5 11 17zM763 289l-11-12-10-8 5 3 10 7 11 17z"/>
<path class="q17" d="M595 147l-11-14 5 1 11 14zM668 209l-10-11-11-10-10-11-11 2 5 1 11 5 10 11 11 7 10 1zM742 269l-11-5-10-9-11-12-10-6-11-13-10-13 5 10 10 10 11 6 10 8 11 18 10 3 11 6zM805 327l-11-13-10-9-11-1 5 3 11 4 10 12 11 14z"/>
<path class="q18" d="M558 118l-11-10-10-11-11-8 5 3 11 7 11 4 10 8zM579 140l-11-13 6-8 10 14zM610 163l-10-12 5 3 11 11zM663 207l-10-3-11-12-11-7 6-8 10 11 11 10 10 11zM789 317l-10-9-11-8-10-15-11-2-10-7-11-12-10-10-11-10-10-4-11-20 5 4 11 13 10 6 11 12 10 9 11 5 10 8 11 12 10 15 11 1 10 9z"/>
<path class="q19" d="M568 127l-10-9 5-7 11 8zM684 220l-10-7-11-6 5 2 11 2 10 13z"/>
<path class="q17" d="M600 151l-11-1-10-10 5-7 11 14 10 7zM631 185l-10-9-11-13 6 2 10 14 11-2zM800 337l-11-20 5-3 11 13z"/>
<path class="q18" d="M542 110l-10-9-11-5 5-7 11 8 10 11zM668 217l-10-1 5-9 11 6zM710 261l-10-14-11-10-10-6 5-11 11 20 10 4 11 10zM763 304l-10-10-11-7 5-4 11 2 10 15z"/>
<path class="q17" d="M574 147l-11-14-10-8-11-15 5-2 11 10 10 9 11 13zM616 179l-11-12-10-1-11-13 5-3 11 1 10 12 11 13zM658 216l-11-14-10-3-11-8 5-6 11 7 11 12 10 3zM742 287l-11-7-10-9-11-10 6-7 10 10 11 12 10 7zM795 336l-11-11-10-7-11-14 5-4 11 8 10 9 11 20z"/>
<path class="q16" d="M584 153l-10-6 5-7 10 10zM626 191l-10-12 5-3 10 9z"/>
<path class="q19" d="M679 231l-11-14 6-4 10 7z"/>
<path class="q16" d="M527 108l-11 1 5-13 11 5zM674 240l-11-6-10-7-11-14-10-10-11-8-10-8-11-11-10-6 5-4 10 1 11 12 10 12 11 8 10 3 11 14 10 1 11 14zM789 349l-10-22-11-6-10-9-11-8-10-4-11-13-10-8-11-9-10-16 5-7 10 14 11 10 10 9 11 7 11 7 10 10 11 14 10 7 11 11z"/>
<path class="q18" d="M537 111l-10-3 5-7 10 9z"/>
<path class="q17" d="M548 131l-11-20 5-1 11 15zM695 254l-11-7-10-7 5-9 10 6 11 10z"/>
<path class="q15" d="M590 170l-11-11-10-5-11-7-10-16 5-6 10 8 11 14 10 6 11 13z"/>
<path class="q14" d="M522 121l-11-1 5-11 11-1zM585 175l-11-11-10-8-11-9 5 0 11 7 10 5 11 11zM658 239l-10-7-11-15 5-4 11 14 10 7zM711 284l-11-6-10-9 5-15 10 16 11 9zM784 356l-10-23 5-6 10 22z"/>
<path class="q16" d="M543 129l-11-1-10-7 5-13 10 3 11 20zM774 333l-11-13-10-6 5-2 10 9 11 6z"/>
<path class="q15" d="M553 147l-10-18 5 2 10 16zM637 217l-10-12-11-4-10-10-11-9-10-7 5-5 10 6 11 11 10 8 11 8 10 10zM690 269l-11-22-10-1-11-7 5-5 11 6 10 7 11 7zM753 314l-11-3-10-16-11-4-10-7 5-5 10 8 11 13 10 4 11 8z"/>
<path class="q13" d="M517 124l-11-16 5 12 11 1zM695 277l-10-9 5 1 10 9z"/>
<path class="q14" d="M527 130l-10-6 5-3 10 7zM611 200l-10-4 5-5 10 10zM664 245l-11-5-10-8-11-14 5-1 11 15 10 7 11 7zM716 294l-10-11-11-6 5 1 11 6 10 7zM779 352l-10-17 5-2 10 23z"/>
<path class="q15" d="M601 196l-11-21-10-7-11-6-10-11-11-9-10-6-11-6 5-2 11 1 10 18 11 9 10 8 11 11 10 7 11 9zM632 218l-10-11-11-7 5 1 11 4 10 12zM685 268l-11-18-10-5 5 1 10 1 11 22zM748 316l-11-10-10-8-11-4 5-3 11 4 10 16 11 3z"/>
<path class="q16" d="M769 335l-11-13-10-6 5-2 10 6 11 13z"/>
<path class="q15" d="M522 123l-11-11-10-9 5 5 11 16 10 6zM606 194l-10-8 5 10 10 4zM659 244l-11-10-10-12-11-11 5 7 11 14 10 8 11 5zM690 263l-10-4-11-8 5-1 11 18 10 9zM711 287l-10-13 5 9 10 11zM774 346l-10-16 5 5 10 17z"/>
<path class="q16" d="M596 186l-11-10-11-5-10-12-11-11-10-12-11-10-10-3 5 7 11 6 10 6 11 9 10 11 11 6 10 7 11 21zM627 211l-10-7-11-10 5 6 11 7 10 11zM669 251l-10-7 5 1 10 5zM701 274l-11-11 5 14 11 6zM722 293l-11-6 5 7 11 4zM764 330l-11-11 5 3 11 13z"/>
<path class="q17" d="M753 319l-10-12-11-10-10-4 5 5 10 8 11 10 10 6z"/>
<path class="q17" d="M517 115l-11-4-10-9 5 1 10 9 11 11zM590 177l-10-6-11-2-10-15 5 5 10 12 11 5 11 10zM622 208l-11-8-10-14 5 8 11 10 10 7zM674 247l-10-1-11-12-10-5-11-19 6 12 10 12 11 10 10 7 11 8zM717 290l-11-12 5 9 11 6zM759 331l-11-13 5 1 11 11z"/>
<path class="q18" d="M559 154l-11-16-10-6-11-15-10-2 5 8 10 3 11 10 10 12 11 11zM601 186l-11-9 6 9 10 8zM632 210l-10-2 5 3 11 11zM706 278l-11-10-10-8-11-13 6 12 10 4 11 11 10 13zM748 318l-10-12-11-8-10-8 5 3 10 4 11 10 10 12z"/>
<path class="q16" d="M769 347l-10-16 5-1 10 16z"/>
<path class="q17" d="M501 112l-10-10 5 0 10 9zM575 177l-11-12-10-6 5-5 10 15 11 2zM753 332l-10-14 5 0 11 13z"/>
<path class="q18" d="M554 159l-11-15-10-3-11-13-10-7-11-9 5-1 11 4 10 2 11 15 10 6 11 16zM585 178l-10-1 5-6 10 6zM743 318l-11-5-10-17-11-5-10-8-11-12-10-4-11-11-10-7-11-11-10-13-11-7-10-4-11-13-10-8 5-7 10 14 11 8 10 2 11 19 10 5 11 12 10 1 11 13 10 8 11 10 11 12 10 8 11 8 10 12z"/>
<path class="q19" d="M596 193l-11-15 5-1 11 9z"/>
<path class="q16" d="M764 344l-11-12 6-1 10 16z"/>
<path class="q17" d="M580 189l-10-4-11-13-10-11-11-10-10-1-11-15-10-10-11-8-10-8 5-7 10 10 11 9 10 7 11 13 10 3 11 15 10 6 11 12 10 1zM612 220l-11-15 5-4 11 13zM675 267l-11-5-10-10-11-4-10-5 5-18 10 13 11 11 10 7 11 11zM759 347l-11-13-10-8-11-13 5 0 11 5 10 14 11 12z"/>
<path class="q18" d="M601 205l-10-14-11-2 5-11 11 15 10 8zM727 313l-10-14-11-4-10-11-11-6-10-11 5 0 10 4 11 12 10 8 11 5 10 17z"/>
<path class="q16" d="M633 243l-11-7-10-16 5-6 10 4 11 7z"/>
<path class="q16" d="M491 119l-10-5 5-5 10 8zM512 143l-10-18 5 0 10 10zM596 218l-10-12-11-9-10-14-11-11-10 3 5-14 10 11 11 13 10 4 11 2 10 14zM659 268l-10-5-11-16 5 1 11 4 10 10zM743 342l-10-8-11-7 5-14 11 13 10 8z"/>
<path class="q17" d="M502 125l-11-6 5-2 11 8zM722 327l-10-19-11-6-10-8-11-11-10-13-11-2 5-6 11 5 10 11 11 6 10 11 11 4 10 14z"/>
<path class="q15" d="M544 175l-11-11-10-8-11-13 5-8 11 15 10 1 11 10zM638 247l-10-3-11-10-10-5-11-11 5-13 11 15 10 16 11 7 10 5zM754 358l-11-16 5-8 11 13z"/>
<path class="q15" d="M507 156l-11-22-10-1-11-16 6-3 10 5 11 6 10 18zM570 206l-10-14-11-4 5-16 11 11 10 14zM633 252l-10-9-11-5 5-4 11 10 10 3zM686 299l-11-7 5-9 11 11zM717 329l-10-8 5-13 10 19z"/>
<path class="q13" d="M528 168l-11-2-10-10 5-13 11 13 10 8z"/>
<path class="q14" d="M549 188l-11-7-10-13 5-4 11 11 10-3zM612 238l-10-7-11-6-10-14-11-5 5-9 11 9 10 12 11 11 10 5zM749 361l-11-12-10-8-11-12 5-2 11 7 10 8 11 16z"/>
<path class="q16" d="M675 292l-10-11-11-15-10-6-11-8 5-5 11 16 10 5 11 2 10 13zM707 321l-11-16-10-6 5-5 10 8 11 6z"/>
<path class="q14" d="M502 144l-11-3-10-10-11-2 5-12 11 16 10 1 11 22zM533 175l-10-7 5 0 10 13zM575 209l-10-7-11-6-10-7 5-1 11 4 10 14 11 5zM607 238l-11-9-10-14 5 10 11 6 10 7zM744 364l-11-17-10-7-11-9 5-2 11 12 10 8 11 12z"/>
<path class="q13" d="M523 168l-11-11-10-13 5 12 10 10 11 2zM544 189l-11-14 5 6 11 7z"/>
<path class="q15" d="M586 215l-11-6 6 2 10 14zM638 263l-10-8-11-6-10-11 5 0 11 5 10 9 11 8zM681 295l-11-1-10-14 5 1 10 11 11 7zM712 331l-10-14-11-13 5 1 11 16 10 8z"/>
<path class="q16" d="M660 280l-11-10-11-7 6-3 10 6 11 15zM691 304l-10-9 5 4 10 6z"/>
<path class="q14" d="M476 129l-11-7 5 7 11 2z"/>
<path class="q15" d="M486 133l-10-4 5 2 10 10zM560 195l-11-10-10-4-11-13-10-6-11-14 5 9 11 11 10 7 11 14 10 7 11 6zM612 246l-10-13 5 5 10 11zM665 287l-11-7 6 0 10 14zM738 356l-10-10-11-6-10-17 5 8 11 9 10 7 11 17z"/>
<path class="q16" d="M507 148l-10-14-11-1 5 8 11 3 10 13zM602 233l-11-13-10-9-11-4-10-12 5 7 10 7 11 6 10 14 11 9zM654 280l-10-9-11-13-10-11-11-1 5 3 11 6 10 8 11 7 11 10zM675 298l-10-11 5 7 11 1zM707 323l-11-8-10-14 5 3 11 13 10 14z"/>
<path class="q17" d="M686 301l-11-3 6-3 10 9z"/>
<path class="q16" d="M481 127l-10-2-11-12 5 9 11 7 10 4zM607 243l-10-10 5 0 10 13zM733 350l-10-8-11-12 5 10 11 6 10 10z"/>
<path class="q18" d="M502 144l-10-10-11-7 5 6 11 1 10 14zM628 248l-10-4 5 3 10 11zM702 315l-11-7-10-9 5 2 10 14 11 8z"/>
<path class="q17" d="M597 233l-11-10-10-6-11-13-10-13-11-6-10-12-11-8-10-5-11-16 5 4 11 14 10 6 11 13 10 4 11 10 10 12 11 4 10 9 11 13zM618 244l-11-1 5 3 11 1zM681 299l-11-8-10-7-11-9-10-9-11-18 5 10 11 13 10 9 11 7 10 11 11 3zM712 330l-10-15 5 8 10 17z"/>
<path class="q17" d="M476 128l-10-7-11-8 5 0 11 12 10 2zM602 240l-10-10-11-5-10-12-11-12 5 3 11 13 10 6 11 10 10 10zM728 355l-10-17-11-8 5 0 11 12 10 8z"/>
<path class="q19" d="M497 143l-10-11-11-4 5-1 11 7 10 10zM634 265l-11-15-10-5 5-1 10 4 11 18zM686 306l-10-10 5 3 10 9z"/>
<path class="q18" d="M560 201l-10-11-11-3-10-13-11-15-10-10-11-6 5 1 11 16 10 5 11 8 10 12 11 6 10 13zM613 245l-11-5 5 3 11 1zM676 296l-11-2-10-12-11-6-10-11 5 1 10 9 11 9 10 7 11 8zM707 330l-10-6-11-18 5 2 11 7 10 15z"/>
<path class="q18" d="M471 124l-11-4-10-13 5 6 11 8 10 7zM524 178l-11-7-10-11-11-10-11-11 6-7 10 11 11 6 10 10 11 15zM545 190l-11-2 5-1 11 3zM566 216l-11-15 5 0 11 12zM618 270l-10-20-11-11-10-5 5-4 10 10 11 5 10 5zM671 302l-11-7-10-5 5-8 10 12 11 2zM702 334l-10-13-11-8 5-7 11 18 10 6z"/>
<path class="q19" d="M481 139l-10-15 5 4 11 4zM555 201l-10-11 5 0 10 11zM681 313l-10-11 5-6 10 10z"/>
<path class="q17" d="M534 188l-10-10 5-4 10 13zM587 234l-11-5-10-13 5-3 10 12 11 5zM650 290l-11-7-10-11-11-2 5-20 11 15 10 11 11 6zM723 358l-10-13-11-11 5-4 11 8 10 17z"/>
<path class="q17" d="M455 132l-10-9 5-16 10 13zM539 199l-10-3-11-13-10-5 5-7 11 7 10 10 11 2zM560 225l-10-17 5-7 11 15zM603 258l-11-15-11-5-10-8 5-1 11 5 10 5 11 11zM697 342l-10-15-11-6-10-9-11-5 5-12 11 7 10 11 11 8 10 13z"/>
<path class="q18" d="M476 151l-10-19-11 0 5-12 11 4 10 15zM550 208l-11-9 6-9 10 11z"/>
<path class="q16" d="M508 178l-11-9-10-6-11-12 5-12 11 11 11 10 10 11zM571 230l-11-5 6-9 10 13zM613 271l-10-13 5-8 10 20zM655 307l-10-9-11-9-10-7 5-10 10 11 11 7 10 5zM718 363l-10-10-11-11 5-8 11 11 10 13z"/>
<path class="q15" d="M624 282l-11-11 5-1 11 2z"/>
<path class="q14" d="M450 141l-10-4 5-14 10 9zM503 191l-11-12-10-12 5-4 10 6 11 9zM650 315l-11-7-10-14 5-5 11 9 10 9zM713 384l-10-27 5-4 10 10z"/>
<path class="q16" d="M471 149l-10-8-11 0 5-9 11 0 10 19zM545 218l-11-4 5-15 11 9zM597 263l-10-9-11-10-10-5 5-9 10 8 11 5 11 15zM681 338l-10-10-11-9 6-7 10 9 11 6z"/>
<path class="q15" d="M482 167l-11-18 5 2 11 12zM534 214l-10-7-11-12-10-4 5-13 10 5 11 13 10 3zM566 239l-11-5-10-16 5-10 10 17 11 5zM629 294l-11-10-10-10-11-11 6-5 10 13 11 11 10 7zM660 319l-10-4 5-8 11 5zM703 357l-11-8-11-11 6-11 10 15 11 11z"/>
<path class="q14" d="M445 137l-10-11 5 11 10 4zM487 176l-10-7 5-2 10 12zM529 206l-10-1-11-5 5-5 11 12 10 7zM571 249l-10-6-11-7-10-10 5-8 10 16 11 5 10 5zM634 307l-10-8-11-13-10-8-11-8 5-7 11 11 10 10 11 10 10 14zM655 322l-10-6 5-1 10 4zM697 364l-10-12-11-4-10-16 5-4 10 10 11 11 11 8z"/>
<path class="q15" d="M456 143l-11-6 5 4 11 0zM477 169l-11-14 5-6 11 18zM540 226l-11-20 5 8 11 4zM592 270l-10-15-11-6 5-5 11 10 10 9zM666 332l-11-10 5-3 11 9z"/>
<path class="q16" d="M466 155l-10-12 5-2 10 8z"/>
<path class="q13" d="M508 200l-10-7-11-17 5 3 11 12 10 4zM645 316l-11-9 5 1 11 7z"/>
<path class="q12" d="M708 382l-11-18 6-7 10 27z"/>
<path class="q16" d="M472 162l-11-13-10-6-11-9-10-12 5 4 10 11 11 6 10 12 11 14zM598 267l-11-11-10-1 5 0 10 15 11 8z"/>
<path class="q15" d="M493 180l-11-13-10-5 5 7 10 7 11 17zM577 255l-11-8-10-14-11-14-10-7-11 2-10-6 5-3 10 1 11 20 10 10 11 7 10 6 11 6zM671 339l-10-13-11-9-10-8-11-14-10-1-11-10-10-17 5 11 10 8 11 13 10 8 11 9 10 6 11 10 10 16z"/>
<path class="q14" d="M514 208l-11-18-10-10 5 13 10 7 11 5zM692 364l-10-16-11-9 5 9 11 4 10 12z"/>
<path class="q12" d="M703 378l-11-14 5 0 11 18z"/>
<path class="q17" d="M446 141l-11-10-11-10 6 1 10 12 11 9zM488 178l-11-15 5 4 11 13zM551 231l-11-13 5 1 11 14zM582 255l-10-6 5 6 10 1zM603 276l-10-11 5 2 10 17zM624 285l-10 5 5 4 10 1zM656 321l-11-7-10-12 5 7 10 8 11 9z"/>
<path class="q18" d="M477 163l-10-11-11-13-10 2 5 2 10 6 11 13 10 5zM540 218l-10-5 5-1 10 7zM593 265l-11-10 5 1 11 11zM635 302l-11-17 5 10 11 14z"/>
<path class="q16" d="M498 190l-10-12 5 2 10 10zM530 213l-11-4 5 5 11-2zM572 249l-11-2-10-16 5 2 10 14 11 8zM614 290l-11-14 5 8 11 10zM687 351l-10-11-11-6-10-13 5 5 10 13 11 9 10 16z"/>
<path class="q15" d="M519 209l-10-6-11-13 5 0 11 18 10 6z"/>
<path class="q14" d="M698 375l-11-24 5 13 11 14z"/>
<path class="q18" d="M451 145l-11-5-10-11-11-7 5-1 11 10 11 10 10-2zM482 182l-10-18 5-1 11 15zM556 237l-10-10-11-10-11-1 6-3 10 5 11 13 10 16zM598 276l-10-8-11-16-10-3 5 0 10 6 11 10 10 11zM619 296l-10-8 5 2 10-5zM640 315l-10-16 5 3 10 12zM682 352l-10-14 5 2 10 11z"/>
<path class="q19" d="M472 164l-11-12-10-7 5-6 11 13 10 11zM630 299l-11-3 5-11 11 17z"/>
<path class="q17" d="M503 193l-10-5-11-6 6-4 10 12 11 13zM524 216l-10-6 5-1 11 4zM567 249l-11-12 5 10 11 2zM609 288l-11-12 5 0 11 14zM672 338l-11-4-10-11-11-8 5-1 11 7 10 13 11 6z"/>
<path class="q16" d="M514 210l-11-17 6 10 10 6zM693 365l-11-13 5-1 11 24z"/>
<path class="q18" d="M435 146l-10-14-11-5 5-5 11 7 10 11zM624 310l-10-15-11-7-10-10-11-10-10-7-11-8-10-8-11-10-10-10-11-7 5-2 11 1 11 10 10 10 11 12 10 3 11 16 10 8 11 12 10 8 11 3zM677 353l-10-13 5-2 10 14z"/>
<path class="q17" d="M519 218l-10-12-11-6-10-9-11-6-10-8-11-9-10-11-11-11 5-6 11 5 10 7 11 12 10 18 11 6 10 5 11 17 10 6zM667 340l-11 2-11-19-10-5-11-8 6-11 10 16 11 8 10 11 11 4zM688 369l-11-16 5-1 11 13z"/>
<path class="q16" d="M441 164l-11-14-10-7-11-7 5-9 11 5 10 14 11 11zM493 202l-10-2-11-9 5-6 11 6 10 9zM567 272l-11-4-10-13-11-10-10-12-11-3-10-15 5-9 10 12 11 7 10 10 11 10 10 8 11 8zM630 322l-11-3-10-13 5-11 10 15 11 8zM661 348l-10-1-11-12 5-12 11 19 11-2zM682 377l-10-21 5-3 11 16z"/>
<path class="q15" d="M472 191l-10-8-11-8-10-11 5-7 10 11 11 9 10 8z"/>
<path class="q17" d="M504 215l-11-13 5-2 11 6zM609 306l-11-8-10-14-11-7-10-5 5-11 10 7 11 10 10 10 11 7zM640 335l-10-13 5-4 10 5zM672 356l-11-8 6-8 10 13z"/>
<path class="q14" d="M415 150l-11 0 5-14 11 7zM467 195l-10-3-11-13-10-13 5-2 10 11 11 8 10 8zM509 231l-10-6 5-10 10 15zM572 288l-10-4-11-12-10-14-11-6 5-7 11 10 10 13 11 4 10 5zM677 391l-10-21 5-14 10 21z"/>
<path class="q15" d="M436 166l-11-13-10-3 5-7 10 7 11 14zM499 225l-11-12-10-13-11-5 5-4 11 9 10 2 11 13zM530 252l-10-10-11-11 5-1 11 3 10 12zM583 291l-11-3 5-11 11 7zM656 357l-10-6-11-10-10-9-11-10-10-4-11-21 5 1 11 8 10 13 11 3 10 13 11 12 10 1z"/>
<path class="q16" d="M593 297l-10-6 5-7 10 14zM667 370l-11-13 5-9 11 8z"/>
<path class="q13" d="M410 161l-11-19 5 8 11 0zM462 201l-10-3-11-19 5 0 11 13 10 3zM557 279l-11-1-10-6-11-16-10-8 5-6 10 10 11 6 10 14 11 12zM641 360l-11-14 5-5 11 10zM672 385l-10-13 5-2 10 21z"/>
<path class="q14" d="M420 165l-10-4 5-11 10 3zM441 179l-10-12 5-1 10 13zM473 202l-11-1 5-6 11 5zM494 221l-11-4 5-4 11 12zM515 248l-11-19 5 2 11 11zM567 283l-10-4 5 5 10 4zM630 346l-10-8-11-10-10-12 5 2 10 4 11 10 10 9zM662 372l-11-13-10 1 5-9 10 6 11 13z"/>
<path class="q15" d="M431 167l-11-2 5-12 11 13zM483 217l-10-15 5-2 10 13zM504 229l-10-8 5 4 10 6zM578 292l-11-9 5 5 11 3zM599 316l-11-18 5-1 11 21z"/>
<path class="q16" d="M588 298l-10-6 5-1 10 6z"/>
<path class="q14" d="M404 151l-10-13 5 4 11 19zM425 167l-10-7 5 5 11 2zM457 190l-11 3-10-18 5 4 11 19 10 3zM552 269l-11 4-10-23-11-6 5 12 11 16 10 6 11 1zM646 356l-10-6-11-7-10-12-11-10 5 7 11 10 10 8 11 14 10-1zM667 384l-10-20 5 8 10 13z"/>
<path class="q13" d="M415 160l-11-9 6 10 10 4z"/>
<path class="q15" d="M436 175l-11-8 6 0 10 12zM488 215l-10-5-11-11-10-9 5 11 11 1 10 15 11 4zM520 244l-10-8-11-10 5 3 11 19 10 8zM604 321l-10-15 5 10 10 12zM657 364l-11-8 5 3 11 13z"/>
<path class="q16" d="M499 226l-11-11 6 6 10 8zM594 306l-11-9-10-5-11-13-10-10 5 10 10 4 11 9 10 6 11 18z"/>
<path class="q16" d="M452 186l-11-11-10-6-11-12-10-6-11-17-10-1 5 5 10 13 11 9 10 7 11 8 10 18 11-3zM483 217l-10-8-11-12 5 2 11 11 10 5zM504 235l-10-10 5 1 11 10zM546 272l-10-8-11-18 6 4 10 23 11-4zM567 291l-10-7 5-5 11 13zM631 339l-11-8-10-10 5 10 10 12 11 7zM652 370l-11-24 5 10 11 8z"/>
<path class="q17" d="M462 197l-10-11 5 4 10 9zM494 225l-11-8 5-2 11 11zM515 237l-11-2 6 1 10 8zM557 284l-11-12 6-3 10 10zM578 290l-11 1 6 1 10 5zM610 321l-11-11 5 11 11 10zM641 346l-10-7 5 11 10 6z"/>
<path class="q18" d="M525 246l-10-9 5 7 11 6zM599 310l-11-15-10-5 5 7 11 9 10 15z"/>
<path class="q15" d="M662 383l-10-13 5-6 10 20z"/>
<path class="q18" d="M415 154l-10-1-11-15-10-7 5 2 10 1 11 17 10 6zM436 174l-10-15 5 10 10 6zM520 250l-10-10-11-9 5 4 11 2 10 9zM636 352l-11-12-10-14-11-1-10-17 5 2 11 11 10 10 11 8 10 7z"/>
<path class="q19" d="M426 159l-11-5 5 3 11 12zM594 308l-11-12-10 2 5-8 10 5 11 15z"/>
<path class="q17" d="M499 231l-10-9-11-7-10-5-11-9-10-5-11-22 5 1 11 11 10 11 11 12 10 8 11 8 10 10zM531 267l-11-17 5-4 11 18zM573 298l-11-7 5 0 11-1zM646 359l-10-7 5-6 11 24z"/>
<path class="q16" d="M562 291l-10-6-11-10-10-8 5-3 10 8 11 12 10 7zM657 377l-11-18 6 11 10 13z"/>
<path class="q17" d="M400 156l-11-8-10-8 5-9 10 7 11 15zM463 203l-11-6-10-8-11-9 5-6 11 22 10 5 11 9zM536 273l-10-10-11-10 5-3 11 17 10 8zM599 330l-10-8 5-14 10 17zM641 368l-10-16 5 0 10 7z"/>
<path class="q18" d="M431 180l-10-9-11-8-10-7 5-3 10 1 11 5 10 15zM515 253l-10-8-11-8-10-17-11-6-10-11 5 7 10 5 11 7 10 9 11 9 10 10zM589 322l-11-17-10 2 5-9 10-2 11 12zM631 352l-11-10-10-9-11-3 5-5 11 1 10 14 11 12z"/>
<path class="q16" d="M568 307l-11-13-10-5-11-16 5 2 11 10 10 6 11 7zM652 383l-11-15 5-9 11 18z"/>
<path class="q16" d="M416 185l-11-14-10-11-11-2-10-19 5 1 10 8 11 8 10 7 11 8zM594 333l-10-4-11-13-10-11-11-6-10-13-11-9 5-4 11 16 10 5 11 13 10-2 11 17 10 8z"/>
<path class="q17" d="M447 199l-10-2-11-12-10 0 5-14 10 9 11 9 10 8zM531 277l-10-12-11-5-10-9-11-8-10-14 5-9 10 17 11 8 10 8 11 10 10 10zM605 335l-11-2 5-3 11 3zM636 375l-10-19 5-4 10 16z"/>
<path class="q18" d="M479 229l-11-13-10-5-11-12 5-2 11 6 10 11 11 6zM626 356l-11-10-10-11 5-2 10 9 11 10z"/>
<path class="q15" d="M647 385l-11-10 5-7 11 15z"/>
<path class="q15" d="M389 165l-10-5-11-14 6-7 10 19 11 2zM421 190l-11-4-10-13 5-2 11 14 10 0zM516 276l-11-3-10-16-11-9 5-5 11 8 10 9 11 5zM589 339l-10-5-11-10-10-9-11-13-10-8 5-8 10 13 11 6 10 11 11 13 10 4zM631 381l-10-16 5-9 10 19z"/>
<path class="q16" d="M400 173l-11-8 6-5 10 11zM442 203l-11-1-10-12 5-5 11 12 10 2zM484 248l-10-14 5-5 10 14zM537 294l-11-9-10-9 5-11 10 12 11 9zM621 365l-11-6-10-6-11-14 5-6 11 2 10 11 11 10z"/>
<path class="q17" d="M474 234l-11-7-10-8-11-16 5-4 11 12 10 5 11 13z"/>
<path class="q14" d="M642 400l-11-19 5-6 11 10z"/>
<path class="q15" d="M374 161l-11-11 5-4 11 14zM447 232l-10-12-11-15-10-9-11-3-10-16-11-5 5-7 11 8 10 13 11 4 10 12 11 1 11 16zM489 258l-10-11 5 1 11 9zM531 301l-10-17-11-11-10-3 5 3 11 3 10 9 11 9z"/>
<path class="q14" d="M384 172l-10-11 5-1 10 5zM458 235l-11-3 6-13 10 8zM500 270l-11-12 6-1 10 16zM616 378l-11-10-10-10-11-13-10-9-11-15-10-3-11-10-11-7 6-7 10 8 11 13 10 9 11 10 10 5 11 14 10 6 11 6z"/>
<path class="q16" d="M479 247l-11-12-10 0 5-8 11 7 10 14z"/>
<path class="q13" d="M626 392l-10-14 5-13 10 16z"/>
<path class="q12" d="M637 397l-11-5 5-11 11 19z"/>
<path class="q15" d="M411 184l-11 4-10-16-11-7-10-4-11-14 5 3 11 11 10 11 11 5 10 16 11 3zM463 242l-10-13 5 6 10 0zM495 265l-11-10 5 3 11 12zM516 290l-11-15 5-2 11 11zM579 345l-11-18-10-4-11-5 6 0 10 3 11 15 10 9z"/>
<path class="q16" d="M421 205l-10-21 5 12 10 9zM484 255l-10-8-11-5 5-7 11 12 10 11zM505 275l-10-10 5 5 10 3z"/>
<path class="q14" d="M432 219l-11-14 5 0 11 15zM453 229l-11-2 5 5 11 3zM547 318l-10-9-11-7-10-12 5-6 10 17 11 7 11 10zM621 377l-11-11-10-2-11-10-10-9 5 0 11 13 10 10 11 10 10 14z"/>
<path class="q13" d="M442 227l-10-8 5 1 10 12zM631 394l-10-17 5 15 11 5z"/>
<path class="q16" d="M364 157l-11-10 5 0 11 14zM385 165l-11 9 5-9 11 7zM437 209l-10 4 5 6 10 8zM553 317l-11-11-10-8-11-9-10-10-11-5 5 1 11 15 10 12 11 7 10 9 11 5zM605 361l-10-8-11-11-10-10 5 13 10 9 11 10 10 2zM626 382l-10-13 5 8 10 17z"/>
<path class="q15" d="M374 174l-10-17 5 4 10 4zM427 213l-11-13 5 5 11 14z"/>
<path class="q17" d="M416 200l-10-15-11-12-10-8 5 7 10 16 11-4 10 21zM500 274l-10-15-11-8-10-12-11-7-10-12-11-11 5 18 11 2 10 13 11 5 10 8 11 10 10 10zM574 332l-11-13-10-2 5 6 10 4 11 18zM616 369l-11-8 5 5 11 11z"/>
<path class="q17" d="M359 154l-11-11 5 4 11 10zM380 170l-11-2 5 6 11-9zM422 208l-11-11 5 3 11 13zM621 393l-10-22 5-2 10 13z"/>
<path class="q16" d="M369 168l-10-14 5 3 10 17z"/>
<path class="q18" d="M411 197l-10-9-11-8-10-10 5-5 10 8 11 12 10 15zM432 211l-10-3 5 5 10-4zM611 371l-11-11-10-10-11-8-10-8-11-7-10-12-11-9-10-11-11-13-10-4-11-10-10-10-11-6-10-7-11-12-10-9 5-4 10 12 11 7 10 12 11 8 10 15 11 5 10 10 11 9 10 8 11 11 10 2 11 13 10 10 11 11 10 8 11 8z"/>
<path class="q19" d="M443 224l-11-13 5-2 11 11z"/>
<path class="q17" d="M353 160l-10-14 5-3 11 11zM396 190l-11-5-11-7-10-11 5 1 11 2 10 10 11 8zM417 208l-11-8 5-3 11 11zM574 346l-10-7-11-7-10-8-11-8-10-11 5-10 10 11 11 9 10 12 11 7 10 8z"/>
<path class="q16" d="M364 167l-11-7 6-6 10 14zM616 394l-10-19 5-4 10 22z"/>
<path class="q18" d="M406 200l-10-10 5-2 10 9zM522 305l-11-13-10-11-11-8-10-14-11-10-10-4-11-9-10-9-11-10-10-9 5 0 10 3 11 13 10 9 11 12 10 7 11 6 10 10 11 10 10 4 11 13zM606 375l-11-15-10-2-11-12 5-4 11 8 10 10 11 11z"/>
<path class="q16" d="M411 216l-10-5-11-7-10-17-11-6-10-8-11-11-10-9 5-7 10 14 11 7 10 11 11 7 11 5 10 10 11 8zM559 341l-11-2-10-14-11-8-10-15 5 3 10 11 11 8 10 8 11 7z"/>
<path class="q17" d="M464 255l-11-2-10-7-11-14-10-17-11 1 6-8 10 9 11 10 10 9 11 9 10 4zM517 302l-11-4-10-12-11-8-11-12 6-7 10 14 11 8 10 11 11 13zM601 383l-11-14-10-12-11-15-10-1 5-2 10 7 11 12 10 2 11 15z"/>
<path class="q18" d="M474 266l-10-11 5-6 11 10z"/>
<path class="q15" d="M611 397l-10-14 5-8 10 19z"/>
<path class="q15" d="M343 166l-10-6 5-7 10 9zM364 187l-10-15 5 1 10 8zM385 212l-10-21 5-4 10 17zM406 217l-10 4 5-10 10 5zM448 259l-10-7-11-10 5-10 11 14 10 7zM501 306l-11-9-10-9 5-10 11 8 10 12zM553 350l-10-6-11-11-10-11 5-5 11 8 10 14 11 2zM595 393l-10-12 5-12 11 14z"/>
<path class="q16" d="M354 172l-11-6 5-4 11 11zM375 191l-11-4 5-6 11 6zM427 242l-10-9-11-16 5-1 11-1 10 17zM480 288l-11-14-10-5-11-10 5-6 11 2 10 11 11 12zM522 322l-11-8-10-8 5-8 11 4 10 15zM585 381l-11-15-10-6-11-10 6-9 10 1 11 15 10 12z"/>
<path class="q14" d="M396 221l-11-9 5-8 11 7zM606 407l-11-14 6-10 10 14z"/>
<path class="q14" d="M338 176l-10-8 5-8 10 6zM380 210l-10-16 5-3 10 21zM401 227l-10-7 5 1 10-4zM454 274l-11-7-10-9-11-12-10-11 5-2 10 9 11 10 10 7 11 10zM538 343l-11-4-10-8-11-7-10-12-11-10-10-15 5 1 10 9 11 9 10 8 11 8 10 11 11 11zM590 395l-10-22 5 8 10 12z"/>
<path class="q15" d="M370 194l-11-2-10-13-11-3 5-10 11 6 10 15 11 4zM412 235l-11-8 5-10 11 16zM475 287l-11-16-10 3 5-5 10 5 11 14zM580 373l-11-2-10-8-11-13-10-7 5 1 10 6 11 10 10 6 11 15z"/>
<path class="q13" d="M391 220l-11-10 5 2 11 9zM601 410l-11-15 5-2 11 14z"/>
<path class="q14" d="M333 167l-10-5 5 6 10 8zM396 226l-10-9-11-10 5 3 11 10 10 7zM449 270l-11-8-10-9-11-3-10-17 5 2 10 11 11 12 10 9 11 7zM522 333l-10-5-11-11-10-7-11-9-10-10 5-4 10 15 11 10 10 12 11 7 10 8zM564 374l-10-12 5 1 10 8z"/>
<path class="q15" d="M375 207l-10-14-11-10-10-9-11-7 5 9 11 3 10 13 11 2 10 16zM407 233l-11-7 5 1 11 8zM459 275l-10-5 5 4 10-3zM554 362l-11-15-10-3-11-11 5 6 11 4 10 7 11 13zM585 388l-10-7-11-7 5-3 11 2 10 22z"/>
<path class="q16" d="M470 291l-11-16 5-4 11 16z"/>
<path class="q13" d="M596 409l-11-21 5 7 11 15z"/>
<path class="q16" d="M328 166l-11-14 6 10 10 5zM381 215l-11-16 5 8 11 10zM412 239l-10-13-11-2 5 2 11 7 10 17zM444 260l-11-7-10-7 5 7 10 9 11 8zM465 282l-11-10 5 3 11 16zM549 357l-11-9-10-14-11-4-10-12 5 10 10 5 11 11 10 3 11 15zM580 382l-10-10 5 9 10 7z"/>
<path class="q17" d="M370 199l-10-18-11-1-10-11-11-3 5 1 11 7 10 9 11 10 10 14zM454 272l-10-12 5 10 10 5z"/>
<path class="q15" d="M391 224l-10-9 5 2 10 9zM423 246l-11-7 5 11 11 3zM507 318l-11-2-10-13-11-6-10-15 5 9 10 10 11 9 10 7 11 11zM570 372l-11-1-10-14 5 5 10 12 11 7zM591 402l-11-20 5 6 11 21z"/>
<path class="q17" d="M344 183l-11-8-10-11-11-11 5-1 11 14 11 3 10 11zM417 249l-10-17-11-2-10-15-11-12 6 12 10 9 11 2 10 13 11 7zM502 318l-11-7-10-14-11-8-10-6-11-13 5 2 11 10 10 15 11 6 10 13 11 2zM565 370l-11-7-10-11-11-8 5 4 11 9 10 14 11 1zM586 393l-11-13 5 2 11 20z"/>
<path class="q18" d="M354 187l-10-4 5-3 11 1zM375 203l-10-11 5 7 11 16zM449 270l-11-11-10-14-11 4 6-3 10 7 11 7 10 12zM533 344l-10-13-11-11-10-2 5 0 10 12 11 4 10 14zM575 380l-10-10 5 2 10 10z"/>
<path class="q19" d="M365 192l-11-5 6-6 10 18z"/>
<path class="q18" d="M318 163l-11-13 5 3 11 11zM349 185l-10 1 5-3 10 4zM423 253l-11-12-10-5-11-11-10-7-11-9 5-6 11 12 10 15 11 2 10 17 11-4zM444 275l-11-12 5-4 11 11zM517 341l-10-17-11-4-10-14-11-5-10-12-11-5 6-1 10 6 11 8 10 14 11 7 10 2 11 11zM570 385l-10-18-11 1-11-14-10-4 5-6 11 8 10 11 11 7 10 10z"/>
<path class="q17" d="M339 186l-11-14-10-9 5 1 10 11 11 8zM454 284l-10-9 5-5 11 13zM528 350l-11-9 6-10 10 13zM581 406l-11-21 5-5 11 13z"/>
<path class="q19" d="M370 209l-10-12-11-12 5 2 11 5 10 11zM433 263l-10-10 5-8 10 14z"/>
<path class="q18" d="M323 176l-10-9-11-11 5-6 11 13 10 9zM355 206l-11-13 5-8 11 12zM418 263l-11-15-10-3 5-9 10 5 11 12zM554 375l-10-9 5 2 11-1z"/>
<path class="q17" d="M344 193l-10-4-11-13 5-4 11 14 10-1zM397 245l-11-13-10-8-11-5-10-13 5-9 10 12 11 9 10 7 11 11zM544 366l-11-5-10-8-11-12-10-1-11-12-10-15-11-5-10-14-11-2-10-15-11-5-10-9 5-10 10 10 11 12 10 9 11 5 10 12 11 5 10 14 11 4 10 17 11 9 10 4 11 14zM565 393l-11-18 6-8 10 18z"/>
<path class="q15" d="M575 419l-10-26 5-8 11 21z"/>
<path class="q17" d="M308 175l-11-11 5-8 11 11z"/>
<path class="q16" d="M350 217l-11-9-10-11-11-12-10-10 5-8 10 9 11 13 10 4 11 13zM486 331l-10-13-11 0-10-16-11-11-10-3-11-14-10-11-11 0-10-12-11-9-10-8 5-10 10 8 11 13 10 3 11 15 10 9 11 5 10 15 11 2 10 14 11 5 10 15zM518 361l-11-12 5-8 11 12zM560 395l-11-7-10-8-11-4 5-15 11 5 10 9 11 18z"/>
<path class="q15" d="M371 234l-11-12-10-5 5-11 10 13 11 5zM507 349l-10-4-11-14 5-3 11 12 10 1zM528 376l-10-15 5-8 10 8z"/>
<path class="q14" d="M570 412l-10-17 5-2 10 26z"/>
<path class="q14" d="M408 274l-11-5-10-15-11-4-10-16-11 1-10-15-11-12-10-7-11-6-10-8-11-11 5-12 11 11 10 10 11 12 10 11 11 9 10 5 11 12 10 8 11 9 10 12 11 0zM471 329l-11-1-10-19 5-7 10 16 11 0zM534 381l-11-3-10-12-11-9-10-9-11-8 5-9 11 14 10 4 11 12 10 15 11 4zM565 416l-10-18 5-3 10 17z"/>
<path class="q15" d="M450 309l-11-11-10-11-11-6-10-7 5-11 10 11 11 14 10 3 11 11zM481 340l-10-11 5-11 10 13zM555 398l-11-7-10-10 5-1 10 8 11 7z"/>
<path class="q14" d="M403 271l-11-8-11-8-10-8-11-11-10-8-11-8-10-12-11-7-10-11-11-12-10-4 5 2 11 11 10 8 11 6 10 7 11 12 10 15 11-1 10 16 11 4 10 15 11 5zM466 325l-11-13 5 16 11 1zM529 380l-11-6-10-13-11-3-10-5-11-20 5 7 11 8 10 9 11 9 10 12 11 3zM560 414l-10-11 5-5 10 18z"/>
<path class="q15" d="M455 312l-10-9-11-7-10-6-11-11-10-8 5 3 10 7 11 6 10 11 11 11 10 19zM476 333l-10-8 5 4 10 11zM550 403l-11-13-10-10 5 1 10 10 11 7z"/>
<path class="q15" d="M292 179l-10-9 5 4 10 4zM366 242l-11-4-10-12-11-11-10-13 5 6 10 12 11 8 10 8 11 11zM492 347l-11-8-10-5 5-1 11 20 10 5zM555 408l-10-8-11-15 5 5 11 13 10 11z"/>
<path class="q16" d="M324 202l-11-16-10-7-11 0 5-1 11 12 10 11 11 7zM429 291l-11-7-10-12-11-12-10-6-11-10-10-2 5 5 10 8 11 8 11 8 10 8 11 11 10 6zM471 334l-11-13-10-11 5 2 11 13 10 8zM534 385l-10-13-11-8-10-5-11-12 5 11 11 3 10 13 11 6 10 10z"/>
<path class="q17" d="M450 310l-11-16-10-3 5 5 11 7 10 9z"/>
<path class="q17" d="M287 177l-10-20 5 13 10 9zM329 217l-10-20 5 5 10 13zM361 232l-11-3 5 9 11 4zM424 286l-11 1-10-13 5-2 10 12 11 7zM497 352l-10-5-11-7-10-9-11-10-10-12 5 1 10 11 11 13 10 5 11 8 11 12zM539 394l-10-18 5 9 11 15z"/>
<path class="q18" d="M298 173l-11 4 5 2 11 0zM319 197l-11-16 5 5 11 16zM403 274l-11-9-10-12-11-10-10-11 5 10 10 2 11 10 10 6 11 12zM445 309l-11-11-10-12 5 5 10 3 11 16zM508 354l-11-2 6 7 10 5zM529 376l-11-13 6 9 10 13z"/>
<path class="q19" d="M308 181l-10-8 5 6 10 7zM518 363l-10-9 5 10 11 8z"/>
<path class="q16" d="M350 229l-10-5-11-7 5-2 11 11 10 12zM550 404l-11-10 6 6 10 8z"/>
<path class="q18" d="M293 181l-11-5-10-14 5-5 10 20 11-4zM324 207l-10-9 5-1 10 20zM377 263l-11-17-10-4-11-15 5 2 11 3 10 11 11 10zM398 269l-11-4 5 0 11 9zM440 309l-11-10-10 1 5-14 10 12 11 11zM503 363l-11-3 5-8 11 2zM534 396l-10-11 5-9 10 18z"/>
<path class="q19" d="M314 198l-11-14-10-3 5-8 10 8 11 16zM524 385l-11-20 5-2 11 13z"/>
<path class="q17" d="M345 227l-10-7-11-13 5 10 11 7 10 5zM387 265l-10-2 5-10 10 12zM419 300l-11-14-10-17 5 5 10 13 11-1zM492 360l-10-8-11-13-10-10-11-6-10-14 5 0 10 12 11 10 10 9 11 7 10 5zM545 406l-11-10 5-2 11 10z"/>
<path class="q20" d="M513 365l-10-2 5-9 10 9z"/>
<path class="q17" d="M288 191l-11-6-10-11 5-12 10 14 11 5zM372 262l-11-7-10-10-11-12-10-6 5-7 10 7 11 15 10 4 11 17zM393 275l-11 0 5-10 11 4zM445 320l-10-1-11-9-10-11-11-15 5 2 11 14 10-1 11 10 10 14zM477 352l-11-6-10-16 5-1 10 10 11 13zM498 372l-11-5 5-7 11 3zM529 397l-10-10 5-2 10 11z"/>
<path class="q18" d="M298 192l-10-1 5-10 10 3zM330 227l-11-18-10-7 5-4 10 9 11 13zM403 284l-10-9 5-6 10 17zM456 330l-11-10 5 3 11 6zM519 387l-11-8-10-7 5-9 10 2 11 20z"/>
<path class="q19" d="M309 202l-11-10 5-8 11 14z"/>
<path class="q16" d="M382 275l-10-13 5 1 10 2zM487 367l-10-15 5 0 10 8zM540 417l-11-20 5-1 11 10z"/>
<path class="q15" d="M282 200l-10-13-11-7 6-6 10 11 11 6zM430 329l-11-11 5-8 11 9zM493 386l-11-12-10-13 5-9 10 15 11 5zM535 422l-11-21 5-4 11 20z"/>
<path class="q16" d="M293 203l-11-3 6-9 10 1zM419 318l-10-13-11-7-10-8-11-11-10-12-11-10-10-10-11-9-11-11 6 0 10 6 11 12 10 10 11 7 10 13 11 0 10 9 11 15 10 11zM440 330l-10-1 5-10 10 1zM472 361l-11-9-10-10 5-12 10 16 11 6zM503 384l-10 2 5-14 10 7z"/>
<path class="q17" d="M324 227l-10-7-11-7-10-10 5-11 11 10 10 7 11 18zM451 342l-11-12 5-10 11 10zM524 401l-10-8-11-9 5-5 11 8 10 10z"/>
<path class="q14" d="M288 213l-11-11-10-1-11-10 5-11 11 7 10 13 11 3zM393 302l-11-6-10-12 5-5 11 11 10 8zM456 360l-10-9-11-9-11-9-10-6-11-17 6-5 10 13 11 11 10 1 11 12 10 10zM509 410l-11-10-10-11-11-15 5 0 11 12 10-2 11 9zM530 429l-11-17 5-11 11 21z"/>
<path class="q15" d="M372 284l-11-16-10 1-11-11-10-10-11-2-10-16-11-14-10-3 5-10 10 10 11 7 10 7 11 11 11 9 10 10 11 10 10 12zM403 310l-10-8 5-4 11 7zM477 374l-10-11-11-3 5-8 11 9 10 13zM519 412l-10-2 5-17 10 8z"/>
<path class="q13" d="M262 188l-11-1 5 4 11 10zM314 244l-10-15 5 1 10 16zM419 330l-10-4-11-9 5-7 11 17 10 6zM451 362l-11-11 6 0 10 9zM524 432l-10-18-11-8-10-8-11-17 6 8 10 11 11 10 10 2 11 17z"/>
<path class="q14" d="M293 219l-10-8-11-4-10-19 5 13 10 1 11 11 10 3zM356 273l-10-3-11-14-10-13-11 1 5 2 11 2 10 10 11 11 10-1zM398 317l-10-11-11-18 5 8 11 6 10 8zM440 351l-10-13-11-8 5 3 11 9 11 9zM461 365l-10-3 5-2 11 3z"/>
<path class="q15" d="M304 229l-11-10 5-3 11 14zM377 288l-10-11-11-4 5-5 11 16 10 12zM482 381l-10-10-11-6 6-2 10 11 11 15z"/>
<path class="q16" d="M267 190l-10-9-11-2 5 8 11 1 10 19zM299 225l-11-13-10-9 5 8 10 8 11 10zM372 291l-10-16-11-8 5 6 11 4 10 11zM477 375l-10-6-11-5 5 1 11 6 10 10zM509 404l-11-14 5 16 11 8z"/>
<path class="q15" d="M278 203l-11-13 5 17 11 4zM351 267l-10-7-11-5-10-10-11-17-10-3 5 4 10 15 11-1 10 13 11 14 10 3zM456 364l-10-10-11-12-10-8-11-10-10-11-11-7-10-10-11-5 5-3 11 18 10 11 11 9 10 4 11 8 10 13 11 11 10 3zM498 390l-10 2-11-17 5 6 11 17 10 8z"/>
<path class="q14" d="M519 419l-10-15 5 10 10 18z"/>
<path class="q18" d="M252 166l-11 5 5 8 11 2zM273 198l-11-12 5 4 11 13zM504 405l-11-18-10-8 5 13 10-2 11 14z"/>
<path class="q19" d="M262 186l-10-20 5 15 10 9z"/>
<path class="q17" d="M294 223l-11-14-10-11 5 5 10 9 11 13zM483 379l-11-6-10-6-11-20-10-6-11-4-10-12-11-6-10-14-11-1-10-14-11-5-10-12-11-7-10-12-11-9-10-7 5 7 10 10 11 5 10 7 11 8 10 16 11 5 10 10 11 7 10 11 11 10 10 8 11 12 10 10 11 5 10 6 11 17z"/>
<path class="q16" d="M315 238l-11 0-10-15 5 2 10 3 11 17zM514 425l-10-20 5-1 10 15z"/>
<path class="q19" d="M257 193l-11-10-10-7 5-5 11-5 10 20zM446 357l-10-10 5-6 10 6z"/>
<path class="q18" d="M278 215l-11-12-10-10 5-7 11 12 10 11zM331 261l-11-12-10-12 5 1 10 7 11 9zM373 297l-11-18-10-5 5-1 10 12 11 5zM436 347l-11-13-10-3-11-10-10-6 5-10 10 14 11 6 10 12 11 4zM457 371l-11-14 5-10 11 20zM499 404l-11-10-10-11-11-9 5-1 11 6 10 8 11 18z"/>
<path class="q17" d="M310 237l-11-11-10 1-11-12 5-6 11 14 10 15 11 0zM352 274l-11-3-10-10 5-7 10 12 11 7zM394 315l-11-8-10-10 5-7 10 14 11 1zM467 374l-10-3 5-4 10 6z"/>
<path class="q16" d="M509 420l-10-16 5 1 10 20z"/>
<path class="q18" d="M262 203l-10-11-11-9-10-3 5-4 10 7 11 10 10 10zM315 249l-11-6-10-15-11-7 6 6 10-1 11 11 10 12zM367 294l-10-8-11-5 6-7 10 5 11 18zM441 359l-10-9-11-9-10-6 5-4 10 3 11 13 10 10zM483 397l-10-10-11-5 5-8 11 9 10 11z"/>
<path class="q17" d="M283 221l-10-5-11-13 5 0 11 12 11 12zM346 281l-10-10-11-12-10-10 5 0 11 12 10 10 11 3zM378 308l-11-14 6 3 10 10zM410 335l-11-1 5-13 11 10zM462 382l-10-5-11-18 5-2 11 14 10 3zM494 414l-11-17 5-3 11 10z"/>
<path class="q16" d="M399 334l-11-12-10-14 5-1 11 8 10 6zM504 420l-10-6 5-10 10 16z"/>
<path class="q17" d="M289 242l-11-14-10-12-11 0-10-11-11-14-10-6 5-5 10 3 11 9 10 11 11 13 10 5 11 7zM320 267l-10-6 5-12 10 10zM362 305l-10-9-11-13 5-2 11 5 10 8zM446 375l-10-11-11-10-10-6 5-7 11 9 10 9 11 18z"/>
<path class="q16" d="M310 261l-11-7-10-12 5-14 10 15 11 6zM341 283l-10-4-11-12 5-8 11 12 10 10zM383 323l-10-5-11-13 5-11 11 14 10 14zM415 348l-11-1 6-12 10 6zM478 410l-11-8-10-13-11-14 6 2 10 5 11 5 10 10z"/>
<path class="q15" d="M404 347l-10-13-11-11 5-1 11 12 11 1zM499 438l-11-21-10-7 5-13 11 17 10 6z"/>
<path class="q15" d="M263 229l-11-10-10-7-11-12-10-4 5-11 10 6 11 14 10 11 11 0zM284 257l-11-19 5-10 11 14zM389 345l-11-16-10-4-11-15-10-6-11-9-10-10 5-6 10 4 11 13 10 9 11 13 10 5 11 11zM420 367l-10-8 5-11 10 6zM452 397l-11-12 5-10 11 14z"/>
<path class="q16" d="M273 238l-10-9 5-13 10 12zM441 385l-10-10-11-8 5-13 11 10 10 11z"/>
<path class="q14" d="M326 285l-11-1-10-12-11-15-10 0 5-15 10 12 11 7 10 6 11 12zM410 359l-11-1-10-13 5-11 10 13 11 1zM483 427l-10-10-11-9-10-11 5-8 10 13 11 8 10 7z"/>
<path class="q13" d="M494 447l-11-20 5-10 11 21z"/>
<path class="q14" d="M226 200l-10-2 5-2 10 4zM342 296l-11 2-10-9-11-15-10-5-11-9 5-3 11 15 10 12 11 1 10 10 11 9zM384 337l-11-6-10-9-11-14 5 2 11 15 10 4 11 16zM426 385l-11-16-10-12 5 2 10 8 11 8z"/>
<path class="q15" d="M268 241l-10-13-11-8-10-12-11-8 5 0 11 12 10 7 11 10 10 9zM352 308l-10-12 5 8 10 6z"/>
<path class="q13" d="M289 260l-10-7-11-12 5-3 11 19 10 0zM405 357l-11-4-10-16 5 8 10 13 11 1zM478 428l-10-11-11-11-10-5-11-4-10-12 5-10 10 10 11 12 10 11 11 9 10 10z"/>
<path class="q12" d="M489 435l-11-7 5-1 11 20z"/>
<path class="q15" d="M253 225l-11 0-11-16-10-9-11-9 6 7 10 2 11 8 10 12 11 8zM326 293l-10-15-11-7-10-3-11-13-10-8-11-18 5 12 11 12 10 7 11 9 10 5 11 15 10 9zM368 326l-10-12 5 8 10 9zM421 367l-11-2-10-9-11-17 5 14 11 4 10 12 11 16zM452 398l-10-10 5 13 10 5z"/>
<path class="q16" d="M263 229l-10-4 5 3 10 13zM358 314l-11-5-10-18-11 2 5 5 11-2 10 12 11 14zM389 339l-10-9-11-4 5 5 11 6 10 16z"/>
<path class="q14" d="M442 388l-11-1-10-20 5 18 10 12 11 4zM484 436l-11-17-10-2-11-19 5 8 11 11 10 11 11 7z"/>
<path class="q16" d="M247 219l-10-5-11-12-10-5-11-5 5-1 11 9 10 9 11 16 11 0zM300 267l-11-7-10-8-11-12 6 7 10 8 11 13 10 3zM353 315l-11-6-11-9 6-9 10 18 11 5zM468 417l-10-16-11-3-10-10-11-7-10-16 5 2 10 20 11 1 10 10 11 19 10 2z"/>
<path class="q17" d="M268 240l-10-9-11-12 6 6 10 4 11 18zM331 300l-10-14-11-11-10-8 5 4 11 7 10 15 11-2zM374 328l-11-5-10-8 5-1 10 12 11 4zM416 365l-11-12-10-4-11-9 5-1 11 17 10 9 11 2z"/>
<path class="q18" d="M384 340l-10-12 5 2 10 9z"/>
<path class="q15" d="M479 438l-11-21 5 2 11 17z"/>
<path class="q17" d="M221 205l-10-9-11-10 5 6 11 5 10 5zM326 300l-10-16 5 2 10 14zM358 319l-11-4-10-8 5 2 11 6 10 8zM442 395l-11-4-10-12 5 2 11 7 10 10zM463 417l-10-12 5-4 10 16z"/>
<path class="q18" d="M316 284l-11-6-10-11-11-12-10-9-11-8-10-7-11-9-10-13-11-4 5-3 11 12 10 5 11 12 10 9 11 12 10 8 11 7 10 8 11 11zM389 343l-10-5-11-14-10-5 5 4 11 5 10 12 11 9zM421 379l-11-18 6 4 10 16zM453 405l-11-10 5 3 11 3z"/>
<path class="q16" d="M337 307l-11-7 5 0 11 9z"/>
<path class="q19" d="M410 361l-10-9-11-9 6 6 10 4 11 12z"/>
<path class="q15" d="M474 437l-11-20 5 0 11 21z"/>
<path class="q18" d="M237 223l-10-12-11-5-10-13-11-10 5 3 11 10 10 9 11 4 10 13zM279 264l-10-10 5-8 10 9zM321 297l-10-17-11-6 5 4 11 6 10 16zM374 339l-11-7-10-5-11-15 5 3 11 4 10 5 11 14zM416 379l-11-6-10-12 5-9 10 9 11 18zM458 413l-11-9-10-5 5-4 11 10 10 12z"/>
<path class="q17" d="M269 254l-11-6-10-11-11-14 5-1 11 9 10 7 11 8zM300 274l-10 2-11-12 5-9 11 12 10 11zM342 312l-10-6-11-9 5 3 11 7 10 8zM437 399l-11-9-10-11 5 0 10 12 11 4z"/>
<path class="q19" d="M395 361l-11-13-10-9 5-1 10 5 11 9z"/>
<path class="q16" d="M468 433l-10-20 5 4 11 20z"/>
<path class="q17" d="M211 207l-10 0-11-12 5-12 11 10 10 13zM243 241l-11-10-10-12 5-8 10 12 11 14zM285 270l-11-5-10-6 5-5 10 10 11 12zM348 337l-11-16-10-10-11-2-10-18 5-11 10 17 11 9 10 6 11 15zM369 342l-11 3 5-13 11 7zM390 375l-11-19 5-8 11 13zM453 421l-11-11-10-9-11-1 5-10 11 9 10 5 11 9z"/>
<path class="q18" d="M222 219l-11-12 5-1 11 5zM306 291l-11-14-10-7 5 6 10-2 11 6zM379 356l-10-14 5-3 10 9z"/>
<path class="q16" d="M264 259l-11-9-10-9 5-4 10 11 11 6zM358 345l-10-8 5-10 10 5zM421 400l-10-10-11-5-10-10 5-14 10 12 11 6 10 11zM463 442l-10-21 5-8 10 20z"/>
<path class="q15" d="M196 211l-11-10 5-6 11 12zM269 278l-10-14 5-5 10 6zM353 344l-10-1-11-11-10-12-11-8-10-12 5-9 10 18 11 2 10 10 11 16 10 8zM385 381l-11-15 5-10 11 19zM427 408l-11-4 5-4 11 1zM458 443l-10-15 5-7 10 21z"/>
<path class="q16" d="M259 264l-11-10-10-13-11-1-10-16-11-6-10-7 5-4 10 0 11 12 10 12 11 10 10 9 11 9zM280 280l-11-2 5-13 11 5zM301 300l-11-7 5-16 11 14zM374 366l-10-14-11-8 5 1 11-3 10 14zM448 428l-11-14-10-6 5-7 10 9 11 11z"/>
<path class="q17" d="M290 293l-10-13 5-10 10 7z"/>
<path class="q14" d="M416 404l-10-2-11-15-10-6 5-6 10 10 11 5 10 10z"/>
<path class="q15" d="M211 239l-10-24-11-6-10 2 5-10 11 10 10 7 11 6zM264 278l-11-13-10-10-11-3-10-11 5-1 11 1 10 13 11 10 10 14zM317 323l-11-9 5-2 11 8zM369 370l-10-14-11-4 5-8 11 8 10 14zM443 440l-11-17-10-13-11-6 5 0 11 4 10 6 11 14z"/>
<path class="q14" d="M222 241l-11-2 6-15 10 16zM306 314l-10-2-11-13-11-5-10-16 5 0 11 2 10 13 11 7 10 12zM348 352l-10-8-11-11-10-10 5-3 10 12 11 11 10 1zM411 404l-10-10-11-9-10 0-11-15 5-4 11 15 10 6 11 15 10 2z"/>
<path class="q13" d="M453 451l-10-11 5-12 10 15z"/>
<path class="q15" d="M185 202l-10-1 5 10 10-2zM248 265l-10-8-11-11-10-6-11-17 5 16 11 2 10 11 11 3 10 10zM438 430l-11-10-10-6-11-11-10-8-11-15-11-7-10-8-11-9-10-12-11-7-10-9-11-8-10-11 5 5 11 9 10 10 11 11 10 8 11 4 10 14 11 15 10 0 11 9 10 10 11 6 10 13 11 17z"/>
<path class="q16" d="M206 223l-10-7-11-14 5 7 11 6 10 24z"/>
<path class="q14" d="M301 309l-11-2-10-14-11-8-10 0-11-20 5 0 11 13 10 16 11 5 11 13 10 2z"/>
<path class="q13" d="M448 451l-10-21 5 10 10 11z"/>
<path class="q16" d="M222 245l-10-11-11-9-10-5-11-10-10-12 5 3 10 1 11 14 10 7 11 17 10 6zM264 277l-10-7-11-14 5 9 11 20 10 0zM327 335l-10-5-11-12 5 2 11 8 10 9zM432 431l-10-19-11-6-10-10-11-9 6 8 10 8 11 11 10 6 11 10z"/>
<path class="q17" d="M243 256l-10-12-11 1 5 1 11 11 10 8zM306 318l-10-19-11-10-10-5-11-7 5 8 11 8 10 14 11 2 10 11zM390 387l-10-13-11-3-10-15-11-6-10-12-11-3 5 2 11 7 10 12 11 9 10 8 11 7 11 15z"/>
<path class="q15" d="M443 442l-11-11 6-1 10 21z"/>
<path class="q16" d="M186 214l-11-4-10-7 5-5 10 12 11 10zM438 441l-11-19 5 9 11 11z"/>
<path class="q17" d="M228 254l-11-12-10-13-11 1-10-16 5 6 10 5 11 9 10 11 11-1zM333 340l-11-5-10-11-11-13 5 7 11 12 10 5 11 3zM354 366l-11-14 5-2 11 6z"/>
<path class="q18" d="M270 279l-11-4-10-9-11-4-10-8 5-10 10 12 11 14 10 7 11 7zM301 311l-10-7 5-5 10 19zM343 352l-10-12 5-2 10 12zM375 373l-11-7-10 0 5-10 10 15 11 3zM427 422l-10-15-11-3-10-12-11-13 5 8 11 9 10 10 11 6 10 19z"/>
<path class="q19" d="M291 304l-11-18-10-7 5 5 10 5 11 10zM385 379l-10-6 5 1 10 13z"/>
<path class="q17" d="M181 222l-11-13-10-10 5 4 10 7 11 4zM233 264l-10-6-11-9-10-12-11-5 5-2 11-1 10 13 11 12 10 8zM349 363l-11-14-10 1-11-15-10-10 5-1 10 11 11 5 10 12 11 14zM401 410l-10-5 5-13 10 12zM433 438l-11-12 5-4 11 19z"/>
<path class="q16" d="M191 232l-10-10 5-8 10 16z"/>
<path class="q18" d="M265 289l-11-8-10-16-11-1 5-2 11 4 10 9 11 4zM307 325l-11-9-10-15 5 3 10 7 11 13zM359 366l-10-3 5 3 10 0zM391 405l-11-14-10-13 5-5 10 6 11 13zM422 426l-10-13-11-3 5-6 11 3 10 15z"/>
<path class="q19" d="M286 301l-11-9-10-3 5-10 10 7 11 18zM370 378l-11-12 5 0 11 7z"/>
<path class="q16" d="M186 232l-11-10-10-1-11-16 6-6 10 10 11 13 10 10zM228 266l-11-3-10-8-11-18 6 0 10 12 11 9 10 6zM323 354l-11-11 5-8 11 15zM396 415l-10-9-11-9 5-6 11 14 10 5zM428 450l-11-14 5-10 11 12z"/>
<path class="q17" d="M196 237l-10-5 5 0 11 5zM260 295l-11-11 5-3 11 8zM312 343l-10-9-11-8-10-14 5-11 10 15 11 9 10 10zM333 359l-10-5 5-4 10-1zM375 397l-10-15 5-4 10 13zM417 436l-10-9-11-12 5-5 11 3 10 13z"/>
<path class="q18" d="M249 284l-10-11-11-7 5-2 11 1 10 16zM281 312l-11-12-10-5 5-6 10 3 11 9zM354 363l-10-1-11-3 5-10 11 14 10 3z"/>
<path class="q19" d="M365 382l-11-19 5 3 11 12z"/>
<path class="q15" d="M181 238l-11-5-10-6-11-15 5-7 11 16 10 1 11 10zM223 275l-11-7-10-11-11-6 5-14 11 18 10 8 11 3zM296 338l-10-1-11-13 6-12 10 14 11 8zM328 369l-11-13-10-11 5-2 11 11 10 5zM391 420l-10-5-11-13 5-5 11 9 10 9zM412 449l-10-21 5-1 10 9z"/>
<path class="q16" d="M191 251l-10-13 5-6 10 5zM275 324l-10-12-11-10-10-9-11-12-10-6 5-9 11 7 10 11 11 11 10 5 11 12zM307 345l-11-7 6-4 10 9zM338 377l-10-8 5-10 11 3zM370 402l-10-8 5-12 10 15zM402 428l-11-8 5-5 11 12z"/>
<path class="q17" d="M360 394l-11-13-11-4 6-15 10 1 11 19z"/>
<path class="q14" d="M423 456l-11-7 5-13 11 14z"/>
<path class="q14" d="M197 262l-11-8-10-11-11-11-10-1-11-15 5-4 11 15 10 6 11 5 10 13 11 6zM218 283l-11-15 5 0 11 7zM291 346l-10-13-11-11-10-5 5-5 10 12 11 13 10 1zM386 427l-11-5-10-8-11-12-10-9-11-9-10-10 5-5 10 8 11 4 11 13 10 8 11 13 10 5zM407 449l-11-14 6-7 10 21z"/>
<path class="q15" d="M207 268l-10-6 5-5 10 11zM260 317l-11-15-10-3-11-10-10-6 5-8 10 6 11 12 10 9 11 10zM302 346l-11 0 5-8 11 7zM323 374l-11-22 5 4 11 13zM396 435l-10-8 5-7 11 8z"/>
<path class="q16" d="M312 352l-10-6 5-1 10 11z"/>
<path class="q13" d="M417 463l-10-14 5 0 11 7z"/>
<path class="q15" d="M181 252l-10-17-11-8-10-11-11-10 5 10 11 15 10 1 11 11 10 11zM234 289l-11-5-10-7-11-11-10-5 5 1 10 6 11 15 10 6 11 10zM297 342l-11 0-10-12-11-6-10-10-11-14 5 2 11 15 10 5 11 11 10 13 11 0zM318 367l-11-11 5-4 11 22zM391 430l-10-8 5 5 10 8z"/>
<path class="q14" d="M192 261l-11-9 5 2 11 8zM381 422l-11-4-10-14-11-11-10-9-11-8-10-9 5 7 10 10 11 9 10 9 11 12 10 8 11 5zM402 441l-11-11 5 5 11 14z"/>
<path class="q16" d="M244 300l-10-11 5 10 10 3zM307 356l-10-14 5 4 10 6z"/>
<path class="q13" d="M412 455l-10-14 5 8 10 14z"/>
<path class="q17" d="M166 235l-11-15-10-8-11-4 5-2 11 10 10 11 11 8zM250 301l-11-1-10-12-11-13-10-5 5 7 10 7 11 5 10 11 11 14zM397 430l-11-6-10-9 5 7 10 8 11 11z"/>
<path class="q16" d="M208 270l-11-6-10-11-11-9-10-9 5 0 10 17 11 9 10 5 11 11zM376 415l-11-9-10-5-11-10-10-4-11-13-10-12-11-7-10-7-11-16-10-2-11-11-10-18 5 13 10 10 11 6 10 12 11 0 10 14 11 11 10 9 11 8 10 9 11 11 10 14 11 4zM407 448l-10-18 5 11 10 14z"/>
<path class="q17" d="M139 214l-10-1 5-5 11 4zM192 260l-11-10-10-7-11-8-10-9 5-6 11 15 10 9 11 9 10 11zM308 353l-11 3-10-10-11-13-10-3-11-15 5 4 11 11 10 2 11 16 10 7 11 7zM339 392l-10-16-11-8 5 6 11 13 10 4zM381 424l-10-3-11-17-10 1 5-4 10 5 11 9 10 9zM402 448l-10-10 5-8 10 18z"/>
<path class="q18" d="M150 226l-11-12 6-2 10 8zM255 315l-10-14-11-1-10-19-11-4-10-12-11-5 5 4 11 6 10 5 11 13 10 12 11 1 10 18zM318 368l-10-15 5 9 10 12zM392 438l-11-14 5 0 11 6z"/>
<path class="q16" d="M350 405l-11-13 5-1 11 10z"/>
<path class="q17" d="M134 218l-10-10 5 5 10 1zM187 264l-11-1-10-15-11-14 5 1 11 8 10 7 11 10zM239 312l-10-6 5-6 11 1zM271 333l-11 0-10-16 5-2 11 15 10 3zM334 397l-10-12-11-4-10-14-11-8-11-19 6 6 10 10 11-3 10 15 11 8 10 16zM355 402l-10 6 5-3 10-1zM376 434l-10-15 5 2 10 3z"/>
<path class="q18" d="M155 234l-10-7-11-9 5-4 11 12 10 9zM229 306l-11-19-10-5-11-6-10-12 5-4 11 5 10 12 11 4 10 19zM250 317l-11-5 6-11 10 14zM281 340l-10-7 5 0 11 13zM366 419l-11-17 5 2 11 17z"/>
<path class="q16" d="M345 408l-11-11 5-5 11 13zM397 456l-10-12-11-10 5-10 11 14 10 10z"/>
<path class="q16" d="M171 269l-10-18-11-3-10-6-11-11-10-13 5-10 10 10 11 9 10 7 11 14 10 15zM203 287l-11 2 5-13 11 6zM255 334l-10-6-11-10-10-6-11-9 5-16 11 19 10 6 11 5 10 16zM329 401l-11-6 6-10 10 12zM360 434l-10-15-11 0 6-11 10-6 11 17z"/>
<path class="q15" d="M192 289l-10-11-11-9 5-6 11 1 10 12zM318 395l-10-6-11-9-10-13 5-8 11 8 10 14 11 4zM339 419l-10-18 5-4 11 11zM392 455l-11-8-10-4-11-9 6-15 10 15 11 10 10 12z"/>
<path class="q17" d="M213 303l-10-16 5-5 10 5zM266 336l-11-2 5-1 11 0zM287 367l-11-21 5-6 11 19z"/>
<path class="q18" d="M276 346l-10-10 5-3 10 7z"/>
<path class="r10" d="M707 380l4 9 4-9zM821 346l4 13 4-13zM852 335l4 17 4-17z"/>
<path class="r11" d="M637 397l4 8 4-8zM572 414l4 12 4-12zM597 407l4 8 4-8zM823 340l4 18 4-18zM573 411l4 16 4-16zM638 395l4 10 4-10zM570 414l4 13 4-13z"/>
<path class="r12" d="M846 330l4 10 4-10zM675 382l4 6 4-6zM854 330l4 14 4-14zM561 413l4 8 4-8zM631 393l4 6 4-6zM778 351l4 9 4-9z"/>
<path class="r13" d="M611 167l3-9 3 9zM407 161l3-6 3 6zM410 328l3-7 3 7zM513 165l3-7 3 7zM318 246l3-6 3 6zM390 352l3-8 3 8zM485 440l3-11 3 11zM545 277l3-7 3 7zM457 439l4 10 4-10zM482 432l4 9 4-9zM739 359l4 6 4-6zM419 451l4 9 4-9zM458 439l4 12 4-12zM409 453l4 9 4-9zM835 329l4 18 4-18zM712 368l4 6 4-6zM443 446l4 8 4-8zM496 431l4 10 4-10zM455 440l4 10 4-10zM627 390l4 6 4-6zM420 451l4 8 4-8zM361 434l4 16 4-16zM333 412l4 5 4-5zM184 281l4 11 4-11zM189 285l4 14 4-14zM303 385l4 8 4-8z"/>
<path class="r14" d="M361 414l3-14 3 14zM560 412l3-13 3 13zM362 417l3-18 3 18zM338 222l3-6 3 6zM472 126l3-8 3 8zM369 373l3-7 3 7zM591 401l3-14 3 14zM698 238l3-6 3 6zM568 204l3-6 3 6zM684 271l3-14 3 14zM487 352l3-10 3 10zM447 196l3-11 3 11zM518 337l3-7 3 7zM657 379l4 7 4-7zM648 380l4 8 4-8zM588 401l4 6 4-6zM578 398l4 16 4-16zM841 324l4 7 4-7zM770 342l4 21 4-21zM735 354l4 9 4-9zM646 381l4 10 4-10zM555 409l4 8 4-8zM441 442l4 6 4-6zM217 306l4 12 4-12zM294 377l4 6 4-6zM357 431l4 10 4-10zM125 227l4 11 4-11zM341 416l4 13 4-13zM356 430l4 12 4-12zM167 265l4 8 4-8zM359 433l4 6 4-6zM372 442l4 6 4-6zM218 307l4 10 4-10zM212 302l4 9 4-9zM358 432l4 7 4-7zM283 364l4 14 4-14zM133 236l4 5 4-5z"/>
<path class="r15" d="M606 236l3-7 3 7zM477 378l3-7 3 7zM552 363l3-8 3 8zM597 319l3-12 3 12zM618 240l3-7 3 7zM365 164l3-11 3 11zM632 140l3-16 3 16zM455 232l3-10 3 10zM352 394l3-8 3 8zM596 195l3-10 3 10zM822 303l3-11 3 11zM490 298l3-7 3 7zM467 202l3-6 3 6zM582 352l3-10 3 10zM311 229l3-6 3 6zM560 372l3-7 3 7zM422 169l3-6 3 6zM395 395l3-13 3 13zM395 357l3-15 3 15zM468 324l3-8 3 8zM277 327l3-6 3 6zM321 202l3-10 3 10zM482 383l3-14 3 14zM338 222l3-12 3 12zM517 168l3-23 3 23zM221 202l3-11 3 11zM488 176l3-11 3 11zM637 228l3-10 3 10zM611 368l3-7 3 7zM260 236l3-10 3 10zM524 381l3-13 3 13zM357 318l3-6 3 6zM538 174l3-11 3 11zM373 158l3-12 3 12zM339 178l3-10 3 10zM445 176l3-16 3 16zM447 310l3-10 3 10zM419 287l3-7 3 7zM350 265l3-12 3 12zM335 389l3-16 3 16zM606 315l3-7 3 7zM451 144l3-7 3 7zM685 272l3-13 3 13zM649 196l3-13 3 13zM655 327l3-7 3 7zM374 420l3-23 3 23zM685 364l4 9 4-9zM715 358l4 10 4-10zM438 438l4 9 4-9zM426 441l4 6 4-6zM394 451l4 6 4-6zM652 375l4 6 4-6zM689 364l4 7 4-7zM250 330l4 12 4-12zM150 246l4 7 4-7zM379 445l4 5 4-5zM242 326l4 7 4-7zM164 260l4 9 4-9zM241 325l4 11 4-11z"/>
<path class="r16" d="M574 115l3-9 3 9zM750 321l3-8 3 8zM690 262l3-7 3 7zM508 282l3-6 3 6zM560 108l3-11 3 11zM482 124l3-10 3 10zM415 165l3-17 3 17zM429 296l3-17 3 17zM366 367l3-12 3 12zM703 190l3-16 3 16zM343 228l3-16 3 16zM548 408l3-11 3 11zM454 196l3-14 3 14zM350 340l3-9 3 9zM254 230l3-14 3 14zM628 206l3-9 3 9zM499 404l3-11 3 11zM351 355l3-9 3 9zM567 293l3-6 3 6zM564 98l3-7 3 7zM505 355l3-15 3 15zM510 280l3-6 3 6zM392 142l3-7 3 7zM240 261l3-8 3 8zM186 261l3-17 3 17zM542 273l3-8 3 8zM317 372l3-9 3 9zM749 279l3-27 3 27zM771 287l3-7 3 7zM590 257l3-8 3 8zM584 398l3-13 3 13zM578 293l3-7 3 7zM699 319l3-7 3 7zM179 275l3-16 3 16zM422 203l3-14 3 14zM370 441l3-12 3 12zM437 214l3-11 3 11zM402 234l3-11 3 11zM492 131l3-10 3 10zM386 345l3-8 3 8zM322 357l3-6 3 6zM470 196l3-13 3 13zM774 286l3-6 3 6zM363 245l3-10 3 10zM404 219l3-7 3 7zM263 198l3-18 3 18zM334 262l3-14 3 14zM468 193l3-13 3 13zM402 404l3-7 3 7zM330 258l3-8 3 8zM322 397l3-10 3 10zM359 174l3-9 3 9zM418 288l3-12 3 12zM501 231l3-11 3 11zM719 255l3-8 3 8zM481 388l3-6 3 6zM713 294l3-14 3 14zM437 266l3-19 3 19zM389 171l3-8 3 8zM566 274l3-11 3 11zM761 342l4 8 4-8zM726 350l4 6 4-6zM760 341l4 10 4-10zM757 342l4 11 4-11zM200 285l4 11 4-11zM254 331l4 9 4-9zM159 251l4 5 4-5z"/>
<path class="r17" d="M255 222l3-22 3 22zM249 333l3-11 3 11zM621 211l3-7 3 7zM669 172l3-9 3 9zM617 209l3-13 3 13zM427 189l3-6 3 6zM549 149l3-9 3 9zM499 232l3-15 3 15zM638 330l3-7 3 7zM191 215l3-9 3 9zM452 191l3-10 3 10zM758 265l3-13 3 13zM567 252l3-12 3 12zM308 338l3-7 3 7zM560 175l3-12 3 12zM485 181l3-7 3 7zM440 376l3-13 3 13zM509 413l3-10 3 10zM799 311l3-11 3 11zM536 408l3-13 3 13zM220 258l3-6 3 6zM349 400l3-9 3 9zM528 256l3-11 3 11zM404 336l3-8 3 8zM553 341l3-7 3 7zM203 292l3-13 3 13zM790 273l3-11 3 11zM197 268l3-8 3 8zM759 266l3-12 3 12zM625 135l3-7 3 7zM539 354l3-6 3 6zM558 262l3-13 3 13zM641 167l3-7 3 7zM407 268l3-16 3 16zM154 208l3-7 3 7zM565 168l3-12 3 12zM380 299l3-7 3 7zM256 261l3-15 3 15zM649 321l3-9 3 9zM557 179l3-6 3 6zM596 232l3-15 3 15zM259 330l3-8 3 8zM631 367l3-10 3 10zM730 245l3-6 3 6zM260 283l3-19 3 19zM493 287l3-9 3 9zM206 234l3-6 3 6zM412 327l3-13 3 13zM375 378l3-11 3 11zM275 206l3-7 3 7zM442 141l3-12 3 12zM311 364l3-17 3 17zM327 170l3-8 3 8zM264 335l4 12 4-12z"/>
<path class="r18" d="M525 228l3-10 3 10zM262 337l3-6 3 6zM801 295l3-6 3 6zM758 341l3-18 3 18zM446 320l3-8 3 8zM530 187l3-11 3 11zM441 365l3-7 3 7zM698 277l3-10 3 10zM255 318l3-11 3 11zM500 320l3-15 3 15zM484 399l3-11 3 11zM717 294l3-8 3 8zM344 231l3-21 3 21zM443 154l3-12 3 12zM243 319l3-11 3 11zM500 162l3-9 3 9zM705 303l3-14 3 14zM588 285l3-10 3 10zM559 114l3-11 3 11zM789 317l3-11 3 11zM248 225l3-11 3 11zM334 351l3-9 3 9zM589 265l3-7 3 7zM572 97l3-8 3 8zM448 188l3-11 3 11zM313 303l3-18 3 18zM569 218l3-15 3 15zM320 297l3-10 3 10zM309 252l3-8 3 8zM339 181l3-8 3 8zM402 284l3-10 3 10zM410 339l3-14 3 14zM648 208l3-13 3 13zM678 274l3-9 3 9zM525 219l3-6 3 6zM430 440l3-16 3 16zM263 193l3-11 3 11zM568 387l3-16 3 16zM552 241l3-11 3 11zM490 394l3-15 3 15zM653 204l3-10 3 10zM485 349l3-8 3 8zM657 205l3-6 3 6zM436 415l3-15 3 15zM419 387l3-7 3 7zM268 339l4 6 4-6z"/>
<path class="r19" d="M726 265l3-16 3 16zM203 196l3-12 3 12zM545 110l3-10 3 10zM665 256l3-10 3 10zM553 243l3-10 3 10zM521 381l3-7 3 7zM541 238l3-15 3 15zM471 220l3-10 3 10zM446 226l3-9 3 9zM357 365l3-17 3 17zM689 316l3-6 3 6zM589 359l3-14 3 14zM713 292l3-11 3 11zM275 210l3-14 3 14zM587 179l3-6 3 6zM440 219l3-7 3 7zM361 238l3-7 3 7zM657 286l3-21 3 21zM556 245l3-12 3 12zM547 104l3-14 3 14zM303 359l3-13 3 13zM234 217l3-8 3 8zM427 168l3-9 3 9zM435 263l3-8 3 8zM589 181l3-11 3 11zM611 127l3-6 3 6z"/>
<path class="r20" d="M503 365l3-11 3 11zM242 303l3-10 3 10zM628 299l3-22 3 22zM666 212l3-19 3 19zM752 287l3-12 3 12zM422 249l3-14 3 14zM386 346l3-11 3 11zM364 327l3-12 3 12zM482 388l3-20 3 20z"/>
</g>
<path d="M177.2 55.0 L178.3 49.3 L179.1 41.3 L179.7 36.8 L180.0 36.0 L180.3 36.8 L181.0 41.3 L181.8 49.3 L182.8 55.0Z" fill="url(#ga0)"/>
<path d="M180.5 55.0 L181.6 47.8 L182.4 37.7 L183.0 32.0 L183.3 31.0 L183.6 32.0 L184.3 37.7 L185.1 47.8 L186.1 55.0Z" fill="url(#ga1)"/>
<path d="M71.8 44.0 L72.5 41.3 L73.0 37.5 L73.4 35.4 L73.6 35.0 L73.8 35.4 L74.3 37.5 L74.8 41.3 L75.4 44.0Z" fill="url(#ga2)"/>
<path d="M74.9 44.0 L75.6 41.9 L76.0 39.0 L76.3 37.3 L76.5 37.0 L76.7 37.3 L77.1 39.0 L77.5 41.9 L78.1 44.0Z" fill="url(#ga3)"/>
<path d="M95.1 57.0 L95.8 53.4 L96.3 48.4 L96.8 45.5 L97.0 45.0 L97.2 45.5 L97.7 48.4 L98.2 53.4 L98.9 57.0Z" fill="url(#ga4)"/>
<path d="M100.0 52.0 L100.8 49.9 L101.3 47.0 L101.8 45.3 L102.0 45.0 L102.2 45.3 L102.8 47.0 L103.3 49.9 L104.0 52.0Z" fill="url(#ga5)"/>
<path d="M113.0 66.0 L113.8 63.9 L114.3 61.0 L114.8 59.3 L115.0 59.0 L115.2 59.3 L115.8 61.0 L116.3 63.9 L117.0 66.0Z" fill="url(#ga6)"/>
<path d="M133.1 78.0 L133.8 75.0 L134.3 70.8 L134.8 68.4 L135.0 68.0 L135.2 68.4 L135.7 70.8 L136.2 75.0 L136.9 78.0Z" fill="url(#ga7)"/>
<path d="M128.5 83.0 L129.3 80.3 L129.8 76.5 L130.3 74.4 L130.5 74.0 L130.7 74.4 L131.3 76.5 L131.8 80.3 L132.5 83.0Z" fill="url(#ga8)"/>
<path d="M126.5 93.0 L127.2 90.3 L127.7 86.5 L128.2 84.4 L128.4 84.0 L128.6 84.4 L129.1 86.5 L129.6 90.3 L130.3 93.0Z" fill="url(#ga9)"/>
<path d="M110.1 74.0 L110.8 72.2 L111.3 69.7 L111.8 68.2 L112.0 68.0 L112.2 68.2 L112.7 69.7 L113.2 72.2 L113.9 74.0Z" fill="url(#ga10)"/>
<path d="M126.2 98.0 L126.9 95.9 L127.4 93.0 L127.8 91.3 L128.0 91.0 L128.2 91.3 L128.7 93.0 L129.2 95.9 L129.8 98.0Z" fill="url(#ga11)"/>
<path d="M146.2 86.0 L146.9 84.2 L147.4 81.7 L147.8 80.2 L148.0 80.0 L148.2 80.2 L148.7 81.7 L149.2 84.2 L149.8 86.0Z" fill="url(#ga12)"/>
<path d="M92.7 52.0 L93.4 49.3 L93.9 45.5 L94.3 43.4 L94.5 43.0 L94.7 43.4 L95.2 45.5 L95.7 49.3 L96.3 52.0Z" fill="url(#ga13)"/>
<path d="M97.7 61.0 L98.4 58.0 L98.9 53.8 L99.3 51.4 L99.5 51.0 L99.7 51.4 L100.2 53.8 L100.7 58.0 L101.3 61.0Z" fill="url(#ga14)"/>
<path d="M102.7 59.0 L103.4 56.6 L103.9 53.2 L104.3 51.3 L104.5 51.0 L104.7 51.3 L105.2 53.2 L105.7 56.6 L106.3 59.0Z" fill="url(#ga15)"/>
<path d="M69.9 42.0 L70.6 40.5 L71.0 38.4 L71.3 37.2 L71.5 37.0 L71.7 37.2 L72.1 38.4 L72.5 40.5 L73.1 42.0Z" fill="url(#ga16)"/>
<path d="M114.7 71.0 L115.4 68.6 L115.9 65.2 L116.3 63.3 L116.5 63.0 L116.7 63.3 L117.2 65.2 L117.7 68.6 L118.3 71.0Z" fill="url(#ga17)"/>
<path d="M131.2 92.0 L131.9 89.6 L132.4 86.2 L132.8 84.3 L133.0 84.0 L133.2 84.3 L133.7 86.2 L134.2 89.6 L134.8 92.0Z" fill="url(#ga18)"/>
</g>
<path d="M98.5 129.4 V92.0" stroke="#6a6a70" stroke-width=".9" fill="none"/>
<rect x="244.7" y="13.0" width="1.2" height="121.9" fill="url(#cba)"/>
<text x="243.7" y="16.4" font-size="5.0" text-anchor="end">4.00</text>
<text x="243.7" y="32.5" font-size="5.0" text-anchor="end">3.00</text>
<text x="243.7" y="51.0" font-size="5.0" text-anchor="end">2.00</text>
<text x="243.7" y="67.4" font-size="5.0" text-anchor="end">1.00</text>
<text x="243.7" y="85.4" font-size="5.0" text-anchor="end">0.00</text>
<text x="243.7" y="101.4" font-size="5.0" text-anchor="end">−1.00</text>
<text x="243.7" y="119.8" font-size="5.0" text-anchor="end">−2.00</text>
<text x="243.7" y="135.8" font-size="5.0" text-anchor="end">−3.00 µm</text>
<text x="27.5" y="71.2" font-size="5.0" text-anchor="end">y(mm)</text>
<text x="216.7" y="101.4" font-size="5.0" text-anchor="start">x(mm)</text>
<text x="102.5" y="135.6" font-size="5.0" text-anchor="middle">0.0</text>
<text x="126.5" y="128.6" font-size="5.0" text-anchor="middle">0.2</text>
<text x="150.6" y="121.6" font-size="5.0" text-anchor="middle">0.4</text>
<text x="174.6" y="114.7" font-size="5.0" text-anchor="middle">0.6</text>
<text x="198.7" y="107.7" font-size="5.0" text-anchor="middle">0.8</text>
<text x="91.0" y="134.1" font-size="5.0" text-anchor="middle">0.0 </text>
<text x="77.2" y="122.1" font-size="5.0" text-anchor="middle">0.2 </text>
<text x="63.4" y="110.1" font-size="5.0" text-anchor="middle">0.4 </text>
<text x="49.6" y="98.1" font-size="5.0" text-anchor="middle">0.6 </text>
<text x="35.8" y="86.1" font-size="5.0" text-anchor="middle">0.8 </text>
<text x="129.0" y="169.0" font-size="14.5" text-anchor="middle" class="cap">(<tspan font-weight="bold">a</tspan>)</text>
<!-- panel b -->
<path d="M377.4 131.6 L299.4 64.0 L436.0 24.8 L514.0 92.4 Z" fill="none" stroke="#444" stroke-width=".75"/>
<path d="M377.4 131.6 l2.0 1.7M377.4 131.6 l-2.5 0.7M404.7 123.8 l2.0 1.7M361.8 118.1 l-2.5 0.7M432.0 115.9 l2.0 1.7M346.2 104.6 l-2.5 0.7M459.4 108.1 l2.0 1.7M330.6 91.0 l-2.5 0.7M486.7 100.2 l2.0 1.7M315.0 77.5 l-2.5 0.7" stroke="#444" stroke-width=".6" fill="none"/>
<g filter="url(#bl)">
<g transform="scale(0.2500)">
<path class="q17" d="M1740 33l-12-11 5 11 12 4zM1846 129l-11-7-12-11-12-9-12-23 6 10 12 10 12 9 11 8 12 10zM1942 213l-12-12-12-9-12-5-12-9-12-17-12-15 6 3 12 9 12 5 12 10 12 20 11 9 12 3zM1977 251l-12-19 6-4 12 13z"/>
<path class="q18" d="M1751 38l-11-5 5 4 12 3zM1799 79l-12-15 6 10 12 15zM1870 146l-12-11-12-6 6-3 12 3 12 20z"/>
<path class="q19" d="M1787 64l-12-2-12-4-12-20 6 2 12 3 12 12 12 19z"/>
<path class="q16" d="M1965 232l-12 5-11-24 5-8 12 31 12-8z"/>
<path class="q15" d="M1989 267l-12-16 6-10 12 22z"/>
<path class="q14" d="M2013 290l-12-8-12-15 6-4 12 23 12-6z"/>
<path class="q13" d="M2025 319l-12-29 6-10 11 16z"/>
<path class="q10" d="M2037 351l-12-32 5-23 12 19z"/>
<path class="q18" d="M1734 27l-12 2 6-7 12 11zM1793 92l-12-14-12-9-11-11-12-15 5-5 12 20 12 4 12 2 12 15z"/>
<path class="q19" d="M1746 43l-12-16 6 6 11 5z"/>
<path class="q17" d="M1817 113l-12-14-12-7 6-13 12 23 12 9zM1936 217l-12-7-12-17-12-17-12-1-12-15-12-4-11-14-12-7-12-9 6-4 11 7 12 6 12 11 12 15 12 17 12 9 12 5 12 9 12 12z"/>
<path class="q16" d="M1829 126l-12-13 6-2 12 11zM1983 252l-12 1-12-15-11-17-12-4 6-4 11 24 12-5 12 19 12 16z"/>
<path class="q15" d="M2007 280l-12-10-12-18 6 15 12 15 12 8z"/>
<path class="q13" d="M2019 312l-12-32 6 10 12 29z"/>
<path class="q8" d="M2031 346l-12-34 6 7 12 32z"/>
<path class="q18" d="M1775 79l-11-22-12-4-12-5-12-7-12-17 6 5 12-2 12 16 12 15 11 11 12 9zM1799 96l-12-9 6 5 12 7zM1906 194l-12-9-12-15-11-14-12-4-12-20-12-4 6 7 12 7 11 14 12 4 12 15 12 1 12 17zM1930 198l-12 2 6 10 12 7zM1954 229l-12-14 6 6 11 17z"/>
<path class="q17" d="M1787 87l-12-8 6-1 12 14zM1835 128l-12-12-12-4-12-16 6 3 12 14 12 13 12 9zM1918 200l-12-6 6-1 12 17zM1989 271l-12-13-11-10-12-19 5 9 12 15 12-1 12 18z"/>
<path class="q19" d="M1942 215l-12-17 6 19 12 4z"/>
<path class="q16" d="M2001 292l-12-21 6-1 12 10z"/>
<path class="q14" d="M2013 303l-12-11 6-12 12 32z"/>
<path class="q10" d="M2025 345l-12-42 6 9 12 34z"/>
<path class="q19" d="M1746 54l-12-11-12-20-12-5 6 6 12 17 12 7 12 5zM1770 79l-12-21 6-1 11 22zM1805 106l-12-16-11-12 5 9 12 9 12 16zM1877 165l-12-13-12-6 6 6 12 4 11 14z"/>
<path class="q20" d="M1758 58l-12-4 6-1 12 4zM1936 221l-12-17-12-8 6 4 12-2 12 17z"/>
<path class="q18" d="M1782 78l-12 1 5 0 12 8zM1853 146l-12-4-12-11-12-4-12-21 6 6 12 4 12 12 12 4 12 20zM1912 196l-12-9-12-11-11-11 5 5 12 15 12 9 12 6zM1960 241l-12-2-12-18 6-6 12 14 12 19z"/>
<path class="q17" d="M1984 270l-12-15-12-14 6 7 11 10 12 13z"/>
<path class="q16" d="M1995 279l-11-9 5 1 12 21z"/>
<path class="q15" d="M2007 292l-12-13 6 13 12 11z"/>
<path class="q13" d="M2019 319l-12-27 6 11 12 42z"/>
<path class="q21" d="M1716 29l-11-14 5 3 12 5zM1788 89l-12-22 6 11 11 12z"/>
<path class="q20" d="M1776 67l-12 2-12-11-12-9-12-8-12-12 6-6 12 20 12 11 12 4 12 21 12-1zM1800 97l-12-8 5 1 12 16zM1883 178l-12-16-12-2 6-8 12 13 11 11z"/>
<path class="q19" d="M1859 160l-12-15-12-13-12-15-12-3-11-17 5 9 12 21 12 4 12 11 12 4 12 6zM1966 246l-12-10-12-10-12-6-12-9-12-6-11-22-12-5 5-2 12 11 12 9 12 8 12 17 12 18 12 2 12 14z"/>
<path class="q18" d="M1978 262l-12-16 6 9 12 15zM2002 279l-12 1 5-1 12 13z"/>
<path class="q17" d="M1990 280l-12-18 6 8 11 9z"/>
<path class="q16" d="M2013 314l-11-35 5 13 12 27z"/>
<path class="q21" d="M1711 27l-12-9 6-3 11 14zM1782 90l-12-2 6-21 12 22z"/>
<path class="q20" d="M1770 88l-12-9-12-14-12-13-12-12-11-13 5 2 12 12 12 8 12 9 12 11 12-2zM1841 151l-12-16-11-1-12-16-12-10-12-18 6-1 12 8 11 17 12 3 12 15 12 13zM1865 167l-12-12 6 5 12 2zM1889 186l-12-3 6-5 12 5zM1960 248l-12-16-12-5-12-11 6 4 12 6 12 10 12 10z"/>
<path class="q19" d="M1853 155l-12-4 6-6 12 15zM1877 183l-12-16 6-5 12 16zM1924 216l-11-5-12-9-12-16 6-3 11 22 12 6 12 9zM1972 271l-12-23 6-2 12 16z"/>
<path class="q18" d="M1996 298l-12-19-12-8 6-9 12 18 12-1z"/>
<path class="q16" d="M2008 314l-12-16 6-19 11 35z"/>
<path class="q20" d="M1740 62l-11-1-12-14-12-14-12-10 6-5 12 9 11 13 12 12 12 13z"/>
<path class="q19" d="M1752 86l-12-24 6 3 12 14zM1788 120l-12-18-12-9 6-5 12 2 12 18zM1883 198l-12-15-12-1 6-15 12 16 12 3z"/>
<path class="q18" d="M1764 93l-12-7 6-7 12 9zM1859 182l-12-11-12-6-11-18-12-9-12-11-12-7 6-12 12 10 12 16 11 1 12 16 12 4 12 12zM1919 245l-12-25-12-6-12-16 6-12 12 16 12 9 11 5zM1954 266l-12-4-11-9 5-26 12 5 12 16z"/>
<path class="q17" d="M1931 253l-12-8 5-29 12 11zM1966 285l-12-19 6-18 12 23z"/>
<path class="q15" d="M1978 308l-12-23 6-14 12 8z"/>
<path class="q14" d="M1990 318l-12-10 6-29 12 19z"/>
<path class="q12" d="M2002 363l-12-45 6-20 12 16z"/>
<path class="q20" d="M1711 54l-12-21-12-11 6 1 12 10 12 14z"/>
<path class="q18" d="M1770 108l-12-11-11-5-12-9-12-15-12-14 6-7 12 14 11 1 12 24 12 7 12 9z"/>
<path class="q17" d="M1830 168l-12-14-12-4-12-14-12-13-12-15 6-6 12 18 12 7 12 11 12 9 11 18zM1865 203l-12-14 6-7 12 1zM1901 235l-12-21 6 0 12 6z"/>
<path class="q16" d="M1853 189l-11-9-12-12 5-3 12 6 12 11zM1889 214l-12 2-12-13 6-20 12 15 12 16zM1925 249l-12-17-12 3 6-15 12 25 12 8zM1948 273l-11-10 5-1 12 4z"/>
<path class="q15" d="M1937 263l-12-14 6 4 11 9zM1960 291l-12-18 6-7 12 19z"/>
<path class="q14" d="M1972 299l-12-8 6-6 12 23z"/>
<path class="q13" d="M1984 314l-12-15 6 9 12 10z"/>
<path class="q9" d="M1996 363l-12-49 6 4 12 45z"/>
<path class="q19" d="M1705 52l-12-3-12-14 6-13 12 11 12 21z"/>
<path class="q18" d="M1717 68l-12-16 6 2 12 14zM1753 92l-12-14-12-2 6 7 12 9 11 5z"/>
<path class="q17" d="M1729 76l-12-8 6 0 12 15zM1765 126l-12-34 5 5 12 11zM1836 172l-12-15-12-7-12-12-12-2 6 0 12 14 12 4 12 14 12 12zM1919 252l-12-13-12-18-12-9 6 2 12 21 12-3 12 17z"/>
<path class="q16" d="M1788 136l-12-11-11 1 5-18 12 15 12 13zM1860 203l-12-20-12-11 6 8 11 9 12 14zM1883 212l-12 1 6 3 12-2zM1955 278l-12-7-12-8-12-11 6-3 12 14 11 10 12 18z"/>
<path class="q15" d="M1871 213l-11-10 5 0 12 13zM1966 300l-11-22 5 13 12 8z"/>
<path class="q14" d="M1978 316l-12-16 6-1 12 15z"/>
<path class="q10" d="M1990 345l-12-29 6-2 12 49z"/>
<path class="q18" d="M1699 53l-12-3-11-12 5-3 12 14 12 3zM1842 186l-12-16-12-5-12-16-12-14-12-11-11-5 5 6 12 11 12 2 12 12 12 7 12 15 12 11zM1901 229l-12-6-11-18-12-1 5 9 12-1 12 9 12 18z"/>
<path class="q19" d="M1747 102l-12-22-12-7-12-15-12-5 6-1 12 16 12 8 12 2 12 14z"/>
<path class="q17" d="M1771 119l-12-11-12-6 6-10 12 34 11-1zM1866 204l-12-11-12-7 6-3 12 20 11 10zM1925 257l-12-14-12-14 6 10 12 13 12 11z"/>
<path class="q16" d="M1961 289l-12-10-12-1-12-21 6 6 12 8 12 7 11 22z"/>
<path class="q15" d="M1973 306l-12-17 5 11 12 16z"/>
<path class="q13" d="M1984 327l-11-21 5 10 12 29z"/>
<path class="q19" d="M1694 49l-12-7-12-9 6 5 11 12 12 3zM1741 94l-12-16 6 2 12 22zM1800 144l-11-8-12-6-12-10 6-1 11 5 12 11 12 14zM1884 223l-12-21-12 0 6 2 12 1 11 18z"/>
<path class="q20" d="M1729 78l-12-13-12-4-11-12 5 4 12 5 12 15 12 7z"/>
<path class="q18" d="M1765 120l-12-10-12-16 6 8 12 6 12 11zM1860 202l-12-15-12 3-12-22-12-7-12-17 6 5 12 16 12 5 12 16 12 7 12 11zM1955 281l-12-7-12-24-12 0-12-3-12-9-11-15 5 0 12 6 12 14 12 14 12 21 12 1 12 10z"/>
<path class="q17" d="M1967 308l-12-27 6 8 12 17z"/>
<path class="q15" d="M1979 321l-12-13 6-2 11 21z"/>
<path class="q21" d="M1688 45l-12-8-12-20 6 16 12 9 12 7zM1735 89l-12-13-12 0 6-11 12 13 12 16z"/>
<path class="q20" d="M1711 76l-11-8-12-23 6 4 11 12 12 4zM1747 106l-12-17 6 5 12 16zM1818 166l-11-17-12-5-12-9-12-18-12-6 6 9 12 10 12 6 11 8 12 17 12 7zM1937 263l-12-7-12-11 6 5 12 0 12 24z"/>
<path class="q19" d="M1759 111l-12-5 6 4 12 10zM1830 181l-12-15 6 2 12 22zM1878 225l-12-13-12-15-12 1 6-11 12 15 12 0 12 21zM1913 245l-11-10 5 12 12 3zM1949 289l-12-26 6 11 12 7z"/>
<path class="q18" d="M1842 198l-12-17 6 9 12-3zM1902 235l-12 0-12-10 6-2 11 15 12 9zM1961 296l-12-7 6-8 12 27z"/>
<path class="q16" d="M1973 317l-12-21 6 12 12 13z"/>
<path class="q22" d="M1670 34l-12-17 6 0 12 20z"/>
<path class="q21" d="M1682 56l-12-22 6 3 12 8zM1729 93l-11-8 5-9 12 13zM1777 134l-12-15-12-2 6-6 12 6 12 18z"/>
<path class="q20" d="M1694 67l-12-11 6-11 12 23zM1718 85l-12-2 5-7 12 0zM1753 117l-12-14-12-10 6-4 12 17 12 5zM1813 173l-12-16-12-2-12-21 6 1 12 9 12 5 11 17zM1872 216l-12-13-12-10 6 4 12 15 12 13zM1931 276l-11-15-12-11-12-10-12-14 6 9 12 0 11 10 12 11 12 7z"/>
<path class="q19" d="M1706 83l-12-16 6 1 11 8zM1848 193l-12-3-11-6-12-11 5-7 12 15 12 17 12-1zM1884 226l-12-10 6 9 12 10zM1943 294l-12-18 6-13 12 26z"/>
<path class="q18" d="M1955 302l-12-8 6-5 12 7z"/>
<path class="q16" d="M1967 334l-12-32 6-6 12 21z"/>
<path class="q21" d="M1664 47l-12-2 6-28 12 17z"/>
<path class="q20" d="M1676 63l-12-16 6-13 12 22zM1736 110l-12-11-12-10 6-4 11 8 12 10zM1771 145l-12-12 6-14 12 15zM1866 234l-12-23-12 5 6-23 12 10 12 13z"/>
<path class="q19" d="M1712 89l-12-11-12-2-12-13 6-7 12 11 12 16 12 2zM1759 133l-12-2-11-21 5-7 12 14 12 2zM1783 157l-12-12 6-11 12 21zM1842 216l-11-16 5-10 12 3zM1878 247l-12-13 6-18 12 10zM1914 281l-12-25-12 4 6-20 12 10 12 11z"/>
<path class="q18" d="M1831 200l-12-6-12-11-12-13-12-13 6-2 12 2 12 16 12 11 11 6zM1890 260l-12-13 6-21 12 14zM1926 282l-12-1 6-20 11 15z"/>
<path class="q17" d="M1938 306l-12-24 5-6 12 18z"/>
<path class="q16" d="M1949 317l-11-11 5-12 12 8z"/>
<path class="q14" d="M1961 352l-12-35 6-15 12 32z"/>
<path class="q17" d="M1658 63l-11-6 5-12 12 2zM1789 181l-12-15-12-7-11-15-12-4-12-11 6-19 11 21 12 2 12 12 12 12 12 13zM1825 212l-12-13 6-5 12 6zM1860 250l-11-22-12 3 5-15 12-5 12 23z"/>
<path class="q18" d="M1730 129l-12-13-12-13-12-12-12-4-12-21-12-3 6-16 12 16 12 13 12 2 12 11 12 10 12 11z"/>
<path class="q16" d="M1813 199l-12-10-12-8 6-11 12 13 12 11zM1837 231l-12-19 6-12 11 16zM1920 297l-12-6-12-15-12 1 6-17 12-4 12 25 12 1z"/>
<path class="q15" d="M1884 277l-12-14-12-13 6-16 12 13 12 13zM1932 320l-12-23 6-15 12 24z"/>
<path class="q13" d="M1944 336l-12-16 6-14 11 11z"/>
<path class="q11" d="M1955 357l-11-21 5-19 12 35z"/>
<path class="q16" d="M1653 68l-12-9 6-2 11 6zM1736 134l-12-10 6 5 12 11zM1819 212l-12-12-12-6-12-18-12-6-11-16 5 5 12 7 12 15 12 8 12 10 12 13zM1902 286l-12-19 6 9 12 15z"/>
<path class="q17" d="M1724 124l-12-12-12-5-12-18-12-5-11-14-12-2 5-5 12 3 12 21 12 4 12 12 12 13 12 13zM1760 154l-12-7-12-13 6 6 12 4 11 15z"/>
<path class="q15" d="M1855 249l-12-17-12-10-12-10 6 0 12 19 12-3 11 22zM1890 267l-12 6 6 4 12-1zM1914 294l-12-8 6 5 12 6z"/>
<path class="q14" d="M1878 273l-11-16-12-8 5 1 12 13 12 14zM1926 314l-12-20 6 3 12 23z"/>
<path class="q12" d="M1938 332l-12-18 6 6 12 16z"/>
<path class="q10" d="M1950 355l-12-23 6 4 11 21z"/>
<path class="q18" d="M1778 163l-12-1-12-14-12-11-12-6-12-9-12-11-12-20-11-4-12-11-12-12-12-14-12-5 6 14 12 9 12 2 11 14 12 5 12 18 12 5 12 12 12 10 12 13 12 7 11 16 12 6z"/>
<path class="q17" d="M1825 215l-12-11-12-13-12-1-11-27 5 13 12 18 12 6 12 12 12 10zM1920 290l-12-8-12-7-12-5 6-3 12 19 12 8 12 20z"/>
<path class="q16" d="M1837 238l-12-23 6 7 12 10zM1884 270l-11-7-12-21-12 1 6 6 12 8 11 16 12-6z"/>
<path class="q15" d="M1849 243l-12-5 6-6 12 17zM1932 316l-12-26 6 24 12 18z"/>
<path class="q13" d="M1944 333l-12-17 6 16 12 23z"/>
<path class="q19" d="M1641 57l-12-3 6-9 12 5zM1701 116l-12-19-12-10-12-11 6 0 12 11 11 4 12 20zM1736 133l-12-5 6 3 12 6zM1784 176l-12-4-12-17-12-13 6 6 12 14 12 1 11 27zM1819 209l-12-9-11-9 5 0 12 13 12 11zM1914 299l-12-16 6-1 12 8z"/>
<path class="q20" d="M1665 76l-12-19-12 0 6-7 12 14 12 12zM1748 142l-12-9 6 4 12 11z"/>
<path class="q18" d="M1724 128l-12-2-11-10 5-5 12 11 12 9zM1796 191l-12-15 5 14 12 1zM1902 283l-11-5-12-15-12-6 6 6 11 7 12 5 12 7z"/>
<path class="q17" d="M1867 257l-12-3-12-13-12-14-12-18 6 6 12 23 12 5 12-1 12 21zM1926 313l-12-14 6-9 12 26z"/>
<path class="q16" d="M1938 326l-12-13 6 3 12 17z"/>
<path class="q18" d="M1635 55l-12-1 6 0 12 3zM1861 250l-12-10-12-9 6 10 12 13 12 3zM1932 322l-12-24-11 1 5 0 12 14 12 13z"/>
<path class="q20" d="M1683 93l-12-15-12-2-12-16-12-5 6 2 12 0 12 19 12 11 12 10zM1754 157l-12-9-12-9 6-6 12 9 12 13zM1825 215l-11-15-12-10-12 1 6 0 11 9 12 9 12 18z"/>
<path class="q19" d="M1730 139l-12-3-11-22-12-14-12-7 6 4 12 19 11 10 12 2 12 5zM1790 191l-12-7-12-9-12-18 6-2 12 17 12 4 12 15zM1837 231l-12-16 6 12 12 14zM1909 299l-12-24-12 0-12-14-12-11 6 7 12 6 12 15 11 5 12 16z"/>
<path class="q19" d="M1630 59l-12-3 5-2 12 1zM1725 141l-12-13-12-8 6-6 11 22 12 3zM1784 191l-12-8-12-13-12-9 6-4 12 18 12 9 12 7zM1843 238l-12 0-11-14 5-9 12 16 12 9zM1879 272l-12-6-12-8 6-8 12 11 12 14zM1915 304l-12-4-12-15 6-10 12 24 11-1z"/>
<path class="q20" d="M1701 120l-12-14-12-3-12-15-12-8-12-8-11-13 5-4 12 5 12 16 12 2 12 15 12 7 12 14zM1748 161l-12-14-11-6 5-2 12 9 12 9zM1796 200l-12-9 6 0 12-1zM1820 224l-12-13 6-11 11 15zM1855 258l-12-20 6 2 12 10zM1891 285l-12-13 6 3 12 0z"/>
<path class="q21" d="M1808 211l-12-11 6-10 12 10z"/>
<path class="q18" d="M1927 336l-12-32 5-6 12 24z"/>
<path class="q18" d="M1624 63l-12-5 6-2 12 3zM1647 98l-11-26 5 0 12 8zM1683 129l-12-16-12-5 6-20 12 15 12 3zM1719 151l-12-8 6-15 12 13zM1778 197l-12-1 6-13 12 8zM1826 241l-12-10 6-7 11 14zM1849 268l-11-13 5-17 12 20zM1909 325l-12-18-12-9-12-11-12-5 6-16 12 6 12 13 12 15 12 4z"/>
<path class="q19" d="M1636 72l-12-9 6-4 11 13zM1707 143l-12-21-12 7 6-23 12 14 12 8zM1766 196l-12-25-11-4-12-7-12-9 6-10 11 6 12 14 12 9 12 13zM1814 231l-12-9-12-8-12-17 6-6 12 9 12 11 12 13zM1838 255l-12-14 5-3 12 0z"/>
<path class="q17" d="M1659 108l-12-10 6-18 12 8zM1861 282l-12-14 6-10 12 8z"/>
<path class="q15" d="M1921 360l-12-35 6-21 12 32z"/>
<path class="q17" d="M1618 72l-12-4 6-10 12 5zM1642 106l-12-27 6-7 11 26zM1737 186l-12-15-12-10-12-12-12-14-12-6 6 0 12-7 12 21 12 8 12 9 12 7zM1796 234l-12-12-12-17-11-3 5-6 12 1 12 17 12 8zM1832 264l-12-12-12-2 6-19 12 10 12 14z"/>
<path class="q18" d="M1630 79l-12-7 6-9 12 9zM1761 202l-12-21-12 5 6-19 11 4 12 25z"/>
<path class="q15" d="M1654 115l-12-9 5-8 12 10zM1867 301l-11-8-12-15 5-10 12 14 12 5zM1903 345l-12-23 6-15 12 18z"/>
<path class="q16" d="M1677 129l-12-7-11-7 5-7 12 5 12 16zM1808 250l-12-16 6-12 12 9zM1844 278l-12-14 6-9 11 13zM1891 322l-12-10-12-11 6-14 12 11 12 9z"/>
<path class="q11" d="M1915 373l-12-28 6-20 12 35z"/>
<path class="q17" d="M1624 93l-12-17-12-14 6 6 12 4 12 7zM1743 188l-12-9-12-23-12-8-12 4 6-3 12 12 12 10 12 15 12-5z"/>
<path class="q16" d="M1636 95l-12-2 6-14 12 27zM1695 152l-12-3 6-14 12 14zM1790 236l-12-16-11-4-12-8-12-20 6-7 12 21 11 3 12 17 12 12zM1850 280l-12-10-12-4 6-2 12 14 12 15z"/>
<path class="q15" d="M1683 149l-11-12-12-17-12-2-12-23 6 11 12 9 11 7 12 7 12 6zM1826 266l-12-4-12-8-12-18 6-2 12 16 12 2 12 12zM1885 316l-11-4-12-15-12-17 6 13 11 8 12 11 12 10z"/>
<path class="q14" d="M1897 340l-12-24 6 6 12 23z"/>
<path class="q10" d="M1909 376l-12-36 6 5 12 28z"/>
<path class="q18" d="M1606 77l-12-23 6 8 12 14zM1701 148l-11 2 5 2 12-4zM1844 277l-12-14 6 7 12 10z"/>
<path class="q16" d="M1618 87l-12-10 6-1 12 17zM1690 150l-12-16-12-6-12-10-12-13 6 13 12 2 12 17 11 12 12 3zM1761 209l-12-13 6 12 12 8zM1820 260l-12-7-12-17 6 18 12 8 12 4zM1891 329l-11-21 5 8 12 24z"/>
<path class="q17" d="M1642 105l-12-24-12 6 6 6 12 2 12 23zM1749 196l-12-10-12-3-12-13 6-14 12 23 12 9 12 20zM1796 236l-11-15-12-6-12-6 6 7 11 4 12 16 12 18zM1832 263l-12-3 6 6 12 4zM1880 308l-12-13-12-11-12-7 6 3 12 17 12 15 11 4z"/>
<path class="q19" d="M1713 170l-12-22 6 0 12 8z"/>
<path class="q12" d="M1903 359l-12-30 6 11 12 36z"/>
<path class="q19" d="M1601 68l-12-9 5-5 12 23zM1636 100l-12-12-12-12 6 11 12-6 12 24zM1707 154l-11-8-12-6 6 10 11-2 12 22zM1743 190l-12-15-12-10 6 18 12 3 12 10zM1791 235l-12-19-12 1 6-2 12 6 11 15zM1850 275l-12-7-12-3 6-2 12 14 12 7zM1874 296l-12-7 6 6 12 13z"/>
<path class="q18" d="M1612 76l-11-8 5 9 12 10zM1648 117l-12-17 6 5 12 13zM1684 140l-12-8-12-6 6 2 12 6 12 16zM1719 165l-12-11 6 16 12 13zM1767 217l-12-8-12-19 6 6 12 13 12 6zM1803 246l-12-11 5 1 12 17zM1826 265l-12-6 6 1 12 3zM1886 320l-12-24 6 12 11 21z"/>
<path class="q17" d="M1660 126l-12-9 6 1 12 10zM1814 259l-11-13 5 7 12 7z"/>
<path class="q20" d="M1862 289l-12-14 6 9 12 11z"/>
<path class="q15" d="M1898 345l-12-25 5 9 12 30z"/>
<path class="q20" d="M1630 91l-11-11-12-12-12-7-12-9 6 7 12 9 11 8 12 12 12 12zM1737 186l-12-7-11-11-12-6-12-13-12-12 6 3 12 6 11 8 12 11 12 10 12 15zM1821 254l-12-7 5 12 12 6zM1868 307l-12-13-12-17 6-2 12 14 12 7z"/>
<path class="q19" d="M1642 112l-12-21 6 9 12 17zM1678 137l-12-11 6 6 12 8zM1749 207l-12-21 6 4 12 19zM1809 247l-12 0-12-11-12-10-12-13 6 4 12-1 12 19 12 11 11 13zM1880 316l-12-9 6-11 12 24z"/>
<path class="q18" d="M1666 126l-12 3-12-17 6 5 12 9 12 6zM1761 213l-12-6 6 2 12 8zM1892 314l-12 2 6 4 12 25z"/>
<path class="q21" d="M1844 277l-12-15-11-8 5 11 12 3 12 7z"/>
<path class="q20" d="M1589 63l-12-1 6-10 12 9zM1637 113l-12-12-12-13 6-8 11 11 12 21zM1672 139l-12-2 6-11 12 11zM1850 299l-12-16 6-6 12 17zM1886 340l-12-31 6 7 12-2z"/>
<path class="q21" d="M1613 88l-12-10-12-15 6-2 12 7 12 12zM1838 283l-11-9-12-11-12-14 6-2 12 7 11 8 12 15z"/>
<path class="q18" d="M1648 125l-11-12 5-1 12 17zM1791 251l-12-10-12-6-12-8-12-23 6 3 12 6 12 13 12 10 12 11z"/>
<path class="q19" d="M1660 137l-12-12 6 4 12-3zM1743 204l-11-13-12 2-12-17-12-13-12-3-12-21 6-2 12 12 12 13 12 6 11 11 12 7 12 21zM1803 249l-12 2 6-4 12 0zM1874 309l-12 6-12-16 6-5 12 13 12 9z"/>
<path class="q19" d="M1595 101l-12-25-12-5 6-9 12 1 12 15zM1833 298l-12-14-12-11-12-7 6-17 12 14 12 11 11 9z"/>
<path class="q18" d="M1738 220l-12-19-12-13-12-4-12-13-12-9-12-11-12-8-11-5-12-16-12-3-12-21-12 3 6-23 12 10 12 13 12 12 11 12 12 12 12 2 12 21 12 3 12 13 12 17 12-2 11 13zM1797 266l-12-7 6-8 12-2zM1845 312l-12-14 5-15 12 16zM1868 332l-12-7 6-10 12-6z"/>
<path class="q17" d="M1785 259l-12-1-12-22-11-2-12-14 5-16 12 23 12 8 12 6 12 10zM1856 325l-11-13 5-13 12 16zM1880 350l-12-18 6-23 12 31z"/>
<path class="q17" d="M1577 90l-11-21 5 2 12 5zM1672 174l-11-13 5-10 12 11zM1720 213l-12-8-12-18-12 4 6-20 12 13 12 4 12 13zM1815 299l-12-15-12-8 6-10 12 7 12 11z"/>
<path class="q16" d="M1637 143l-12-5-12-22-12 2-12-15-12-13 6-14 12 25 12-3 12 21 12 3 12 16zM1661 161l-12 6 5-24 12 8zM1684 191l-12-17 6-12 12 9zM1767 263l-11-21-12-7-12-11-12-11 6-12 12 19 12 14 11 2 12 22zM1791 276l-12-13 6-4 12 7zM1827 318l-12-19 6-15 12 14z"/>
<path class="q15" d="M1649 167l-12-24 6-5 11 5zM1779 263l-12 0 6-5 12 1zM1863 347l-12-12-12-14-12-3 6-20 12 14 11 13 12 7z"/>
<path class="q13" d="M1874 380l-11-33 5-15 12 18z"/>
<path class="q17" d="M1584 90l-12-5-12-10 6-6 11 21 12 13z"/>
<path class="q16" d="M1619 132l-12-19-12-6-11-17 5 13 12 15 12-2 12 22zM1679 175l-12-4-12-7 6-3 11 13 12 17zM1738 236l-12-15-12-11-12-9-12 7 6-21 12 18 12 8 12 11 12 11zM1797 290l-12-14-11-14-12-2 5 3 12 0 12 13 12 8z"/>
<path class="q15" d="M1655 164l-12-16-12-5-12-11 6 6 12 5 12 24 12-6zM1690 208l-11-33 5 16 12-4zM1762 260l-12 0-12-24 6-1 12 7 11 21zM1809 306l-12-16 6-6 12 15zM1845 331l-12-6 6-4 12 14z"/>
<path class="q14" d="M1833 325l-12-12-12-7 6-7 12 19 12 3zM1857 346l-12-15 6 4 12 12z"/>
<path class="q13" d="M1869 359l-12-13 6 1 11 33z"/>
<path class="q17" d="M1566 89l-12-18 6 4 12 10zM1625 134l-12-6-12-8-11-11 5-2 12 6 12 19 12 11zM1673 182l-12-11-12-18 6 11 12 7 12 4zM1720 223l-12-11-11-15 5 4 12 9 12 11z"/>
<path class="q18" d="M1590 109l-12-21-12 1 6-4 12 5 11 17zM1649 153l-12-19-12 0 6 9 12 5 12 16z"/>
<path class="q16" d="M1697 197l-12-6-12-9 6-7 11 33 12-7zM1732 232l-12-9 6-2 12 15zM1803 294l-11-14-12-3-12-13-12-5 6 1 12 2 11 14 12 14 12 16z"/>
<path class="q15" d="M1756 259l-12-14-12-13 6 4 12 24 12 0zM1851 338l-12-9-12-7-12-8-12-20 6 12 12 7 12 12 12 6 12 15z"/>
<path class="q14" d="M1863 370l-12-32 6 8 12 13z"/>
<path class="q19" d="M1584 106l-12-22-12-9-12-7 6 3 12 18 12-1 12 21zM1631 138l-12-5 6 1 12 0zM1655 161l-12-16 6 8 12 18z"/>
<path class="q17" d="M1608 127l-12-9-12-12 6 3 11 11 12 8zM1714 221l-11-16 5 7 12 11zM1762 257l-12-3-12-15 6 6 12 14 12 5zM1845 330l-12-8-12-13 6 13 12 7 12 9z"/>
<path class="q18" d="M1619 133l-11-6 5 1 12 6zM1703 205l-12-10-12-17-12-5-12-12 6 10 12 11 12 9 12 6 11 15zM1738 239l-12-16-12-2 6 2 12 9 12 13zM1798 294l-12-22-12-13-12-2 6 7 12 13 12 3 11 14z"/>
<path class="q20" d="M1643 145l-12-7 6-4 12 19z"/>
<path class="q16" d="M1821 309l-11-2-12-13 5 0 12 20 12 8zM1857 352l-12-22 6 8 12 32z"/>
<path class="q20" d="M1554 71l-12 2 6-5 12 7zM1578 98l-12-18 6 4 12 22zM1649 163l-12-15-11-8 5-2 12 7 12 16zM1780 271l-12-8 6-4 12 13z"/>
<path class="q21" d="M1566 80l-12-9 6 4 12 9z"/>
<path class="q19" d="M1590 113l-12-15 6 8 12 12zM1626 140l-12-11-12-8 6 6 11 6 12 5zM1732 239l-11-21-12-1-12-21-12 2-12-13-12-15-12-7 6-2 12 12 12 5 12 17 12 10 11 16 12 2 12 16zM1768 263l-12-1 6-5 12 2zM1827 321l-11-21-12-6-12-14-12-9 6 1 12 22 12 13 11 2 12 13z"/>
<path class="q18" d="M1602 121l-12-8 6 5 12 9zM1756 262l-12-15-12-8 6 0 12 15 12 3zM1851 339l-12-7-12-11 6 1 12 8 12 22z"/>
<path class="q19" d="M1548 87l-11-18 5 4 12-2zM1620 142l-12 0-12-18-12-13-12-2-12-11 6-18 12 18 12 15 12 8 12 8 12 11zM1691 205l-12-7-12-12-12-3-12-25 6 5 12 7 12 15 12 13 12-2zM1762 271l-12-10 6 1 12 1zM1834 324l-12 0-12-12 6-12 11 21 12 11z"/>
<path class="q20" d="M1560 98l-12-11 6-16 12 9zM1643 158l-11-9-12-7 6-2 11 8 12 15zM1727 235l-12-18-12-7-12-5 6-9 12 21 12 1 11 21zM1810 312l-12-19-12-5-12-20-12 3 6-8 12 8 12 9 12 14 12 6z"/>
<path class="q18" d="M1750 261l-11-5-12-21 5 4 12 8 12 15zM1845 358l-11-34 5 8 12 7z"/>
<path class="q19" d="M1543 88l-12-11 6-8 11 18zM1590 129l-12-7 6-11 12 13zM1626 154l-12 0 6-12 12 7zM1650 177l-12-15 5-4 12 25zM1709 244l-12-22 6-12 12 7z"/>
<path class="q18" d="M1555 103l-12-15 5-1 12 11zM1578 122l-12-2 6-11 12 2zM1614 154l-12-14-12-11 6-5 12 18 12 0zM1697 222l-12 1-12-19-12-12-11-15 5 6 12 3 12 12 12 7 12 5zM1721 249l-12-5 6-27 12 18zM1804 320l-12-2-12-13-12-8-11-11 5-15 12-3 12 20 12 5 12 19z"/>
<path class="q17" d="M1566 120l-11-17 5-5 12 11zM1757 286l-12-9-12-10-12-18 6-14 12 21 11 5 12 10zM1828 359l-12-20-12-19 6-8 12 12 12 0z"/>
<path class="q20" d="M1638 162l-12-8 6-5 11 9z"/>
<path class="q16" d="M1840 367l-12-8 6-35 11 34z"/>
<path class="q17" d="M1549 109l-12-9-12-12 6-11 12 11 12 15zM1596 148l-12-7-11-12-12-8 5-1 12 2 12 7 12 11zM1679 228l-11-21-12 3-12-20 6-13 11 15 12 12 12 19z"/>
<path class="q16" d="M1561 121l-12-12 6-6 11 17zM1727 275l-12-19-12-11-12-6-12-11 6-5 12-1 12 22 12 5 12 18zM1810 341l-12-9-12-10 6-4 12 2 12 19z"/>
<path class="q18" d="M1644 190l-12-3-12-15-12-21-12-3 6-8 12 14 12 0 12 8 12 15z"/>
<path class="q15" d="M1786 322l-12-8-11-12-12-4-12-16-12-7 6-8 12 10 12 9 11 11 12 8 12 13z"/>
<path class="q14" d="M1822 363l-12-22 6-2 12 20z"/>
<path class="q12" d="M1834 404l-12-41 6-4 12 8z"/>
<path class="q18" d="M1531 87l-12-8 6 9 12 12z"/>
<path class="q17" d="M1543 108l-12-21 6 13 12 9zM1602 164l-12-15-11-12-12-7 6-1 11 12 12 7 12 3z"/>
<path class="q16" d="M1567 130l-12-9-12-13 6 1 12 12 12 8zM1614 177l-12-13 6-13 12 21zM1709 261l-12-23-11-4-12-17-12 2 6-12 11 21 12 11 12 6 12 11zM1792 329l-11-21-12-10-12 1 6 3 11 12 12 8 12 10z"/>
<path class="q15" d="M1662 219l-12-6-12-10-12-13-12-13 6-5 12 15 12 3 12 20 12-3zM1721 274l-12-13 6-5 12 19zM1757 299l-12-11 6 10 12 4zM1816 357l-12-17-12-11 6 3 12 9 12 22z"/>
<path class="q14" d="M1745 288l-12-1-12-13 6 1 12 7 12 16z"/>
<path class="q12" d="M1828 370l-12-13 6 6 12 41z"/>
<path class="q19" d="M1537 92l-12-4-12-13 6 4 12 8 12 21zM1775 314l-12-27 6 11 12 10z"/>
<path class="q18" d="M1573 132l-12-12-12-10-12-18 6 16 12 13 12 9 12 7zM1692 241l-12-18-12-9 6 3 12 17 11 4zM1763 287l-12 9 6 3 12-1z"/>
<path class="q17" d="M1585 158l-12-26 6 5 11 12zM1608 165l-11-6 5 5 12 13zM1668 214l-12-2 6 7 12-2zM1703 244l-11-3 5-3 12 23zM1787 326l-12-12 6-6 11 21z"/>
<path class="q16" d="M1597 159l-12-1 5-9 12 15zM1656 212l-12-17-12 2-12-15-12-17 6 12 12 13 12 13 12 10 12 6zM1715 267l-12-23 6 17 12 13zM1751 296l-12-10-12-9 6 10 12 1 12 11zM1799 350l-12-24 5 3 12 11z"/>
<path class="q15" d="M1727 277l-12-10 6 7 12 13zM1810 353l-11-3 5-10 12 17z"/>
<path class="q14" d="M1822 381l-12-28 6 4 12 13z"/>
<path class="q20" d="M1543 106l-12-10-11-10-12-11 5 0 12 13 12 4 12 18z"/>
<path class="q19" d="M1567 128l-12-3-12-19 6 4 12 10 12 12zM1615 169l-12-7 5 3 12 17zM1674 218l-12-5-12-12 6 11 12 2 12 9z"/>
<path class="q18" d="M1579 146l-12-18 6 4 12 26zM1603 162l-12-4 6 1 11 6zM1626 191l-11-22 5 13 12 15zM1650 201l-12-3 6-3 12 17zM1710 264l-12-20-12 2-12-28 6 5 12 18 11 3 12 23zM1769 319l-12-16-12-13 6 6 12-9 12 27z"/>
<path class="q17" d="M1591 158l-12-12 6 12 12 1zM1638 198l-12-7 6 6 12-2zM1745 290l-12-3-12-16-11-7 5 3 12 10 12 9 12 10zM1781 326l-12-7 6-5 12 12z"/>
<path class="q16" d="M1817 349l-12-1-12-12-12-10 6 0 12 24 11 3 12 28z"/>
<path class="q20" d="M1561 129l-12-11-12-12-11-2-12-18-12-5 6-6 12 11 11 10 12 10 12 19 12 3zM1644 198l-11-11 5 11 12 3zM1668 220l-12 1 6-8 12 5z"/>
<path class="q19" d="M1573 146l-12-17 6-1 12 18zM1633 187l-12-9-12 4-12-17-12-8 6 1 12 4 12 7 11 22 12 7zM1656 221l-12-23 6 3 12 12zM1680 240l-12-20 6-2 12 28zM1751 300l-12-18-11-9-12-10-12-6-12-7 6-6 12 20 11 7 12 16 12 3 12 13z"/>
<path class="q18" d="M1585 157l-12-11 6 0 12 12zM1692 250l-12-10 6 6 12-2zM1763 310l-12-10 6 3 12 16zM1811 361l-12-19-12-7 6 1 12 12 12 1z"/>
<path class="q17" d="M1787 335l-12-6-12-19 6 9 12 7 12 10z"/>
<path class="q20" d="M1532 118l-12-21-12-12-12 1 6-5 12 5 12 18 11 2zM1591 163l-12-15-12-11-12-5-11-4 5-10 12 11 12 17 12 11 12 8zM1639 202l-12-7-12-13 6-4 12 9 11 11zM1746 299l-12-18-12 3 6-11 11 9 12 18z"/>
<path class="q19" d="M1544 128l-12-10 5-12 12 12zM1615 182l-12-2-12-17 6 2 12 17 12-4zM1674 244l-12-16-12-6-11-20 5-4 12 23 12-1 12 20zM1722 284l-12-16-12-4 6-7 12 6 12 10zM1757 311l-11-12 5 1 12 10z"/>
<path class="q18" d="M1698 264l-12-11-12-9 6-4 12 10 12 7zM1793 355l-12-17-12-12-12-15 6-1 12 19 12 6 12 7z"/>
<path class="q16" d="M1805 377l-12-22 6-13 12 19z"/>
<path class="q19" d="M1514 113l-12-12-12-8 6-7 12-1 12 12zM1562 155l-12-8 5-15 12 5zM1633 215l-12-13-12-3-12-25-12 8-12-24 6-10 12 15 12 17 12 2 12 13 12 7z"/>
<path class="q18" d="M1526 129l-12-16 6-16 12 21zM1550 147l-12-5 6-14 11 4zM1645 229l-12-14 6-13 11 20zM1752 324l-12-8-12-10-12-13-12-13-12-15-12-6 6-6 12 11 12 4 12 16 12-3 12 18 11 12z"/>
<path class="q17" d="M1538 142l-12-13 6-11 12 10zM1680 259l-12-5-11-6-12-19 5-7 12 6 12 16 12 9zM1763 345l-11-21 5-13 12 15z"/>
<path class="q20" d="M1573 158l-11-3 5-18 12 11z"/>
<path class="q16" d="M1787 359l-12-10-12-4 6-19 12 12 12 17z"/>
<path class="q14" d="M1799 391l-12-32 6-4 12 22z"/>
<path class="q17" d="M1508 129l-12-18-12-3 6-15 12 8 12 12zM1591 195l-11-8-12-11-12-14-12-7 6-8 12 8 11 3 12 24 12-8zM1639 242l-12-19-12-10-12-15 6 1 12 3 12 13 12 14zM1686 274l-11-7 5-8 12 6zM1710 297l-12-20 6 3 12 13z"/>
<path class="q16" d="M1544 155l-12-15-12-2-12-9 6-16 12 16 12 13 12 5zM1675 267l-12-4 5-9 12 5zM1722 319l-12-22 6-4 12 13zM1758 339l-12-9-12-9 6-5 12 8 11 21z"/>
<path class="q18" d="M1603 198l-12-3 6-21 12 25zM1698 277l-12-3 6-9 12 15z"/>
<path class="q15" d="M1663 263l-12-2-12-19 6-13 12 19 11 6zM1734 321l-12-2 6-13 12 10zM1781 372l-11-21-12-12 5 6 12 4 12 10z"/>
<path class="q13" d="M1793 397l-12-25 6-13 12 32z"/>
<path class="q17" d="M1491 108l-12-16 5 16 12 3zM1550 156l-12-5-12-13-12-13 6 13 12 2 12 15 12 7zM1597 199l-11-13 5 9 12 3zM1621 226l-12-24 6 11 12 10zM1704 295l-11-7-12-12 5-2 12 3 12 20z"/>
<path class="q16" d="M1514 125l-12-8-11-9 5 3 12 18 12 9zM1586 186l-12 2-12-12-12-20 6 6 12 14 12 11 11 8zM1633 242l-12-16 6-3 12 19zM1681 276l-12-12-12-13 6 12 12 4 11 7zM1716 312l-12-17 6 2 12 22zM1764 351l-12-8-12-25-12 0 6 3 12 9 12 9 12 12z"/>
<path class="q18" d="M1609 202l-12-3 6-1 12 15z"/>
<path class="q15" d="M1657 251l-12-2-12-7 6 0 12 19 12 2zM1728 318l-12-6 6 7 12 2zM1776 363l-12-12 6 0 11 21z"/>
<path class="q13" d="M1788 387l-12-24 5 9 12 25z"/>
<path class="q17" d="M1520 137l-11 0-12-17-12-6-12-16 6-6 12 16 11 9 12 8 12 13zM1556 170l-12-3-12-19 6 3 12 5 12 20zM1580 187l-12-4 6 5 12-2zM1615 228l-11-10 5-16 12 24zM1710 304l-11-12-12-6-12-10-12-15-12-8-12-14-12-9 6 12 12 7 12 2 12 13 12 12 12 12 11 7 12 17zM1746 342l-12-12-12-8 6-4 12 0 12 25z"/>
<path class="q18" d="M1532 148l-12-11 6 1 12 13zM1604 218l-12-16-12-15 6-1 11 13 12 3z"/>
<path class="q16" d="M1568 183l-12-13 6 6 12 12zM1627 230l-12-2 6-2 12 16zM1722 322l-12-18 6 8 12 6zM1770 366l-12-14-12-10 6 1 12 8 12 12z"/>
<path class="q14" d="M1782 388l-12-22 6-3 12 24z"/>
<path class="q18" d="M1515 136l-12-16-12-5-12-9-12-16 6 8 12 16 12 6 12 17 11 0zM1562 182l-12-17-12-12-12-13 6 8 12 19 12 3 12 13zM1586 201l-12-5 6-9 12 15zM1657 269l-12-21 6 5 12 8zM1705 302l-12-6 6-4 11 12z"/>
<path class="q19" d="M1526 140l-11-4 5 1 12 11zM1645 248l-12-17-11-3 5 2 12 9 12 14z"/>
<path class="q17" d="M1574 196l-12-14 6 1 12 4zM1622 228l-12-3-12-10-12-14 6 1 12 16 11 10 12 2zM1693 296l-12-9-12-9-12-9 6-8 12 15 12 10 12 6zM1717 321l-12-19 5 2 12 18zM1764 357l-12-10-12-13-12-1 6-3 12 12 12 10 12 14z"/>
<path class="q16" d="M1728 333l-11-12 5 1 12 8z"/>
<path class="q15" d="M1776 391l-12-34 6 9 12 22z"/>
<path class="q20" d="M1533 156l-12-17-12-10-12-18-12-8-12-9-12-15 6 11 12 16 12 9 12 5 12 16 11 4 12 13zM1639 250l-11-20-12-2 6 0 11 3 12 17z"/>
<path class="q19" d="M1556 178l-12-12-11-10 5-3 12 12 12 17zM1616 228l-12-12 6 9 12 3zM1651 253l-12-3 6-2 12 21zM1699 300l-12-13 6 9 12 6zM1746 335l-11-4 5 3 12 13z"/>
<path class="q18" d="M1604 216l-12-7-12-7-12-12-12-12 6 4 12 14 12 5 12 14 12 10zM1687 287l-12-7-12-14-12-13 6 16 12 9 12 9 12 9zM1735 331l-12-9-12-13-12-9 6 2 12 19 11 12 12 1zM1758 355l-12-20 6 12 12 10z"/>
<path class="q17" d="M1770 367l-12-12 6 2 12 34z"/>
<path class="q21" d="M1491 123l-12-8-12-14-11-12 5-10 12 15 12 9 12 8z"/>
<path class="q20" d="M1515 146l-12-7-12-16 6-12 12 18 12 10zM1657 277l-11-28-12-6-12-1 6-12 11 20 12 3 12 13z"/>
<path class="q19" d="M1574 206l-12-26-11-6-12 4-12-21-12-11 6-7 12 17 11 10 12 12 12 12 12 12zM1622 242l-12-10-12-12-12-7 6-4 12 7 12 12 12 2zM1693 305l-12-12-12-6-12-10 6-11 12 14 12 7 12 13zM1753 355l-12-5-12-15 6-4 11 4 12 20z"/>
<path class="q18" d="M1586 213l-12-7 6-4 12 7zM1729 335l-12-4-12-9-12-17 6-5 12 9 12 13 12 9zM1764 380l-11-25 5 0 12 12z"/>
<path class="q18" d="M1545 184l-12-11-12-5-12-8-12-13-12-6-12-11-11-13-12-1 6-27 11 12 12 14 12 8 12 16 12 7 12 11 12 21 12-4zM1628 261l-12-8 6-11 12 1zM1652 285l-12-17 6-19 11 28zM1675 306l-11-16 5-3 12 6zM1747 367l-12-16-12-6 6-10 12 15 12 5z"/>
<path class="q19" d="M1569 206l-12-10-12-12 6-10 11 6 12 26zM1640 268l-12-7 6-18 12 6z"/>
<path class="q17" d="M1616 253l-12-7-12-9-12-7-11-24 5 0 12 7 12 7 12 12 12 10zM1664 290l-12-5 5-8 12 10zM1687 326l-12-20 6-13 12 12zM1723 345l-12-12-12-2 6-9 12 9 12 4zM1759 381l-12-14 6-12 11 25z"/>
<path class="q16" d="M1699 331l-12-5 6-21 12 17z"/>
<path class="q16" d="M1527 187l-12-6-12-13-12-14-11-7-12-9-12-12-12-5 6-5 12 1 11 13 12 11 12 6 12 13 12 8 12 5zM1622 270l-12-5-12-16 6-3 12 7 12 8zM1646 296l-12-23 6-5 12 17zM1682 328l-12-24 5 2 12 20z"/>
<path class="q17" d="M1563 220l-12-18-12-7-12-8 6-14 12 11 12 12 12 10zM1634 273l-12-3 6-9 12 7zM1670 304l-12-13-12 5 6-11 12 5 11 16zM1753 373l-12-6-12-8-12-11-12-15-12-4 6 2 12 2 12 12 12 6 12 16 12 14z"/>
<path class="q15" d="M1575 239l-12-19 6-14 11 24zM1598 249l-12 0 6-12 12 9zM1693 329l-11-1 5-2 12 5z"/>
<path class="q14" d="M1586 249l-11-10 5-9 12 7z"/>
<path class="q16" d="M1450 130l-12-22 6 13 12 5zM1557 212l-12-6-12-4-12-20-12-12-11-5-12-3 5-8 12 14 12 13 12 6 12 8 12 7 12 18zM1616 263l-12-3 6 5 12 5zM1688 328l-12-6-12-6 6-12 12 24 11 1zM1735 366l-12 2-12-15 6-5 12 11 12 8z"/>
<path class="q15" d="M1486 162l-12-6-12-18-12-8 6-4 12 12 12 9 11 7zM1569 231l-12-19 6 8 12 19zM1604 260l-11-3 5-8 12 16z"/>
<path class="q14" d="M1593 257l-12-9-12-17 6 8 11 10 12 0z"/>
<path class="q17" d="M1664 316l-12-24-12-7-12-14-12-8 6 7 12 3 12 23 12-5 12 13zM1711 353l-12-16-11-9 5 1 12 4 12 15zM1747 378l-12-12 6 1 12 6z"/>
<path class="q16" d="M1480 154l-12-18-12-2-12-8-12-14 6-4 12 22 12 8 12 18 12 6zM1587 237l-12-5-12-13 6 12 12 17 12 9zM1717 356l-11-11 5 8 12 15z"/>
<path class="q17" d="M1492 153l-12 1 6 8 12 3zM1563 219l-12-6-12-7-12-17-11-9 5 2 12 20 12 4 12 6 12 19zM1611 264l-12-16-12-11 6 20 11 3 12 3zM1682 328l-12-15-12-8-12-4-12-18 6 2 12 7 12 24 12 6 12 6zM1706 345l-12-17 5 9 12 16zM1729 363l-12-7 6 12 12-2z"/>
<path class="q18" d="M1516 180l-12-10-12-17 6 12 11 5 12 12zM1634 283l-12-11-11-8 5-1 12 8 12 14zM1694 328l-12 0 6 0 11 9zM1741 378l-12-15 6 3 12 12z"/>
<path class="q17" d="M1450 124l-12 1-11-13 5 0 12 14 12 8zM1640 300l-11-15 5-2 12 18z"/>
<path class="q18" d="M1474 138l-12 3-12-17 6 10 12 2 12 18zM1629 285l-12-9-12-14-12-9 6-5 12 16 11 8 12 11zM1688 329l-12 0-12-15-12-18-12 4 6 1 12 4 12 8 12 15 12 0zM1712 346l-12-1 6 0 11 11zM1735 382l-11-20 5 1 12 15z"/>
<path class="q19" d="M1569 218l-12-9-12 3-12-30-11 1-12-21-12 1-12-12-12-13 6 16 12-1 12 17 12 10 11 9 12 17 12 7 12 6 12 13zM1593 253l-12-21 6 5 12 11zM1700 345l-12-16 6-1 12 17zM1724 362l-12-16 5 10 12 7z"/>
<path class="q20" d="M1581 232l-12-14 6 14 12 5z"/>
<path class="q18" d="M1445 129l-12-9-12-10 6 2 11 13 12-1zM1646 303l-11-5-12-12-12-10-12-20 6 6 12 14 12 9 11 15 12-4zM1682 332l-12-6-12-18 6 6 12 15 12 0zM1730 384l-12-24 6 2 11 20z"/>
<path class="q19" d="M1468 149l-12-13-11-7 5-5 12 17 12-3zM1599 256l-12-10 6 7 12 9zM1658 308l-12-5 6-7 12 18zM1694 344l-12-12 6-3 12 16z"/>
<path class="q20" d="M1516 180l-12-4-12-10-12-10-12-7 6-11 12 13 12 12 12-1 12 21zM1587 246l-12-14-12-6-12-4-11-22-12-5 5-13 12 30 12-3 12 9 12 14 12 21zM1718 360l-12-24-12 8 6 1 12 1 12 16z"/>
<path class="q21" d="M1528 195l-12-15 6 3 11-1z"/>
<path class="q19" d="M1427 126l-12-25 6 9 12 10zM1546 226l-12-5-12-15-12-15-12-8-12-14-12-11-12-3-11-13 5-6 12 13 12 7 12 10 12 10 12 4 12 15 12 5 11 22zM1617 282l-12-11-12-2-12-13-12-15-11-4 5-11 12 6 12 14 12 10 12 20 12 10zM1664 328l-11-12 5-8 12 18zM1700 356l-12 0 6-12 12-8z"/>
<path class="q18" d="M1451 142l-12-1-12-15 6-6 12 9 11 7zM1558 237l-12-11 5-4 12 4zM1653 316l-12-2-12-21-12-11 6 4 12 12 11 5 12 5zM1688 356l-12-18-12-10 6-2 12 6 12 12z"/>
<path class="q20" d="M1712 368l-12-12 6-20 12 24z"/>
<path class="q17" d="M1724 405l-12-37 6-8 12 24z"/>
<path class="q18" d="M1421 127l-12-9 6-17 12 25zM1457 159l-12-16-12-11 6 9 12 1 11 13zM1623 304l-12-12-12-1 6-20 12 11 12 11zM1659 340l-12-18 6-6 11 12z"/>
<path class="q17" d="M1433 132l-12-5 6-1 12 15zM1576 276l-12-22-12-9-12-7-12-17-12-9-12-6-12-11-12-12-11-4-12-20 5-4 12 3 12 11 12 14 12 8 12 15 12 15 12 5 12 11 11 4 12 15zM1599 291l-12-7 6-15 12 2zM1647 322l-12-5-12-13 6-11 12 21 12 2zM1682 363l-11-18-12-5 5-12 12 10 12 18zM1706 381l-12-1 6-24 12 12z"/>
<path class="q16" d="M1587 284l-11-8 5-20 12 13zM1694 380l-12-17 6-7 12 0z"/>
<path class="q15" d="M1718 400l-12-19 6-13 12 37z"/>
<path class="q18" d="M1415 130l-12-17 6 5 12 9zM1439 146l-12-1 6-13 12 11z"/>
<path class="q17" d="M1427 145l-12-15 6-3 12 5zM1451 171l-12-25 6-3 12 16zM1629 313l-12 0 6-9 12 13z"/>
<path class="q15" d="M1510 224l-12-8-11-7-12-15-12-10-12-13 6-12 12 20 11 4 12 12 12 11 12 6zM1546 258l-12-16 6-4 12 7zM1582 276l-12-4 6 4 11 8zM1689 384l-12-18 5-3 12 17z"/>
<path class="q16" d="M1534 242l-12-15-12-3 6-12 12 9 12 17zM1570 272l-12-16-12 2 6-13 12 9 12 22zM1617 313l-12-11-12-16-11-10 5 8 12 7 12 1 12 12zM1677 366l-12-11-12-11-12-3-12-28 6 4 12 5 12 18 12 5 11 18z"/>
<path class="q14" d="M1712 412l-12-19-11-9 5-4 12 1 12 19z"/>
<path class="q18" d="M1409 129l-11-20 5 4 12 17z"/>
<path class="q17" d="M1433 157l-12-15-12-13 6 1 12 15 12 1zM1600 298l-12-16-12-11-12-6-12-10 6 1 12 16 12 4 11 10 12 16z"/>
<path class="q16" d="M1445 167l-12-10 6-11 12 25zM1516 229l-11-19-12-4 5 10 12 8 12 3zM1552 255l-12 3 6 0 12-2zM1671 368l-12-20-12-2-12-21-12 3-12-18-11-12 5 4 12 11 12 0 12 28 12 3 12 11 12 11z"/>
<path class="q15" d="M1493 206l-12-3-12-17-12 2-12-21 6 4 12 13 12 10 12 15 11 7zM1528 251l-12-22 6-2 12 15zM1683 378l-12-10 6-2 12 18z"/>
<path class="q14" d="M1540 258l-12-7 6-9 12 16zM1706 401l-11-9-12-14 6 6 11 9 12 19z"/>
<path class="q19" d="M1404 125l-12-14 6-2 11 20z"/>
<path class="q18" d="M1416 134l-12-9 5 4 12 13zM1511 223l-12-12 6-1 11 19zM1606 298l-12-11-12 0-12-15-12-11-12-7 6 1 12 10 12 6 12 11 12 16 11 12z"/>
<path class="q17" d="M1439 160l-12-7-11-19 5 8 12 15 12 10zM1499 211l-12-3-12-16-12-6 6 0 12 17 12 3 12 4zM1546 254l-12-8 6 12 12-3zM1641 345l-12-24-11 0-12-23 5 12 12 18 12-3 12 21z"/>
<path class="q16" d="M1463 186l-12-9-12-17 6 7 12 21 12-2zM1522 241l-11-18 5 6 12 22zM1689 378l-12-5-12-9-12-14-12-5 6 1 12 2 12 20 12 10 12 14z"/>
<path class="q15" d="M1534 246l-12-5 6 10 12 7zM1701 402l-12-24 6 14 11 9z"/>
<path class="q18" d="M1457 175l-12-7-11-11-12-11-12-3-12-6-12-16 6-10 12 14 12 9 11 19 12 7 12 17 12 9zM1588 290l-12 0-12-17-12-8-12-13-11-5-12-23 5 17 12 5 12 8 12 7 12 11 12 15 12 0zM1647 342l-11-13-12-4-12-6 6 2 11 0 12 24 12 5zM1683 368l-12-6 6 11 12 5z"/>
<path class="q19" d="M1517 224l-12-12-12-7-12-18-12-3-12-9 6 11 12 6 12 16 12 3 12 12 11 18zM1600 314l-12-24 6-3 12 11z"/>
<path class="q17" d="M1612 319l-12-5 6-16 12 23zM1671 362l-12-2-12-18 6 8 12 14 12 9zM1695 403l-12-35 6 10 12 24z"/>
<path class="q19" d="M1416 157l-12-28-12-4-12-19 6 15 12 16 12 6 12 3zM1440 169l-12-4 6-8 11 11zM1523 247l-12-25 6 2 12 23zM1582 294l-12-15-12-8-11-13-12-3 5-3 12 13 12 8 12 17 12 0zM1630 334l-12-7 6-2 12 4zM1665 356l-12-6-11-15 5 7 12 18 12 2z"/>
<path class="q18" d="M1428 165l-12-8 6-11 12 11zM1535 255l-12-8 6 0 11 5zM1594 307l-12-13 6-4 12 24zM1618 327l-12-8 6 0 12 6zM1689 386l-12-14 6-4 12 35z"/>
<path class="q20" d="M1463 180l-11-8-12-3 5-1 12 7 12 9zM1511 222l-12 1-12-26 6 8 12 7 12 12zM1642 335l-12-1 6-5 11 13zM1677 372l-12-16 6 6 12 6z"/>
<path class="q21" d="M1487 197l-12-2-12-15 6 4 12 3 12 18z"/>
<path class="q17" d="M1606 319l-12-12 6 7 12 5z"/>
<path class="q21" d="M1386 122l-12-12 6-4 12 19zM1481 209l-12-16-11-14-12-6 6-1 11 8 12 15 12 2z"/>
<path class="q20" d="M1398 149l-12-27 6 3 12 4zM1446 173l-12 1 6-5 12 3zM1517 234l-12-9-12-3-12-13 6-12 12 26 12-1 12 25zM1576 293l-11-18-12-7-12-5 6-5 11 13 12 8 12 15zM1671 383l-11-25-12-1-12-16-12-9 6 2 12 1 11 15 12 6 12 16z"/>
<path class="q18" d="M1434 174l-12-10-12-4-12-11 6-20 12 28 12 8 12 4zM1612 320l-12 1-12-17 6 3 12 12 12 8zM1683 408l-12-25 6-11 12 14z"/>
<path class="q19" d="M1541 263l-12-6-12-23 6 13 12 8 12 3zM1588 304l-12-11 6 1 12 13zM1624 332l-12-12 6 7 12 7z"/>
<path class="q19" d="M1381 141l-12-8 5-23 12 12zM1440 189l-12-13 6-2 12-1zM1476 218l-12-1-12-21 6-17 11 14 12 16zM1511 256l-12-17 6-14 12 9zM1571 308l-12-25-12 4 6-19 12 7 11 18zM1630 352l-12-7-12-10 6-15 12 12 12 9z"/>
<path class="q18" d="M1392 157l-11-16 5-19 12 27zM1499 239l-12-2-11-19 5-9 12 13 12 3zM1547 287l-12-17-12-9-12-5 6-22 12 23 12 6 12 5zM1606 335l-12-10-12-11-11-6 5-15 12 11 12 17 12-1zM1666 382l-12-6-12-7-12-17 6-11 12 16 12 1 11 25z"/>
<path class="q17" d="M1428 176l-12 6-12-24-12-1 6-8 12 11 12 4 12 10zM1678 392l-12-10 5 1 12 25z"/>
<path class="q20" d="M1452 196l-12-7 6-16 12 6z"/>
<path class="q16" d="M1375 141l-12 4 6-12 12 8zM1470 231l-12 1-12-20-12-4-12-15-12-9-12-21 6-5 12 24 12-6 12 13 12 7 12 21 12 1zM1529 280l-12 3-12-17-11-14-12-13 5-2 12 2 12 17 12 5 12 9zM1612 351l-12-2-11-19 5-5 12 10 12 10z"/>
<path class="q17" d="M1398 163l-11-6-12-16 6 0 11 16 12 1zM1482 239l-12-8 6-13 11 19zM1589 330l-12-14-12-8-12-3-12-15-12-10 6-10 12 17 12-4 12 25 11 6 12 11zM1672 415l-12-20-12-21-12 3-12-23-12-3 6-6 12 7 12 17 12 7 12 6 12 10z"/>
<path class="q15" d="M1369 147l-12 1 6-3 12-4zM1452 218l-12-8-12-7-12-15 6 5 12 15 12 4 12 20zM1666 413l-12-25 6 7 12 20z"/>
<path class="q16" d="M1416 188l-11-8-12-9-12-11-12-13 6-6 12 16 11 6 12 21 12 9zM1464 227l-12-9 6 14 12-1zM1559 315l-12-10-12-11-12-17-11-14-12-7-12-4-12-20 6 7 12 13 11 14 12 17 12-3 12 10 12 15 12 3zM1595 339l-12-8 6-1 11 19zM1642 382l-12-3-12-18 6-7 12 23 12-3z"/>
<path class="q17" d="M1476 232l-12-5 6 4 12 8zM1583 331l-12-18-12 2 6-7 12 8 12 14zM1618 361l-11-18-12-4 5 10 12 2 12 3zM1654 388l-12-6 6-8 12 21z"/>
<path class="q16" d="M1363 147l-12-2 6 3 12-1zM1399 180l-12-19 6 10 12 9zM1541 297l-12-5 6 2 12 11zM1636 379l-11-1-12-14 5-3 12 18 12 3z"/>
<path class="q17" d="M1387 161l-12-11-12-3 6 0 12 13 12 11zM1458 221l-12-4-12-17-11-13-12-7-12 0 6 0 11 8 12 15 12 7 12 8 12 9zM1494 250l-12-4-12-11 6-3 12 20 12 4zM1529 292l-11-18 5 3 12 17zM1553 302l-12-5 6 8 12 10zM1589 337l-12-5-12-17 6-2 12 18 12 8zM1613 364l-12-13 6-8 11 18zM1660 405l-12-18 6 1 12 25z"/>
<path class="q18" d="M1470 235l-12-14 6 6 12 5zM1518 274l-12-13-12-11 6 6 12 7 11 14zM1565 315l-12-13 6 13 12-2zM1601 351l-12-14 6 2 12 4zM1648 387l-12-8 6 3 12 6z"/>
<path class="q17" d="M1357 138l-12-5 6 12 12 2zM1631 386l-12-26 6 18 11 1z"/>
<path class="q18" d="M1405 179l-12-3-12-14-12-6-12-18 6 9 12 3 12 11 12 19 12 0zM1452 225l-11-10-12-8 5-7 12 17 12 4zM1536 293l-12-6-12-23 6 10 11 18 12 5zM1571 319l-12-7 6 3 12 17zM1619 360l-12-1-12-25 6 17 12 13 12 14zM1654 410l-12-30-11 6 5-7 12 8 12 18z"/>
<path class="q19" d="M1429 207l-12-18-12-10 6 1 12 7 11 13zM1512 264l-12-3-12-10-12-18-12-15-12 7 6-4 12 14 12 11 12 4 12 11 12 13zM1559 312l-12-12-11-7 5 4 12 5 12 13zM1595 334l-12-8-12-7 6 13 12 5 12 14z"/>
<path class="q19" d="M1352 132l-12 0 5 1 12 5zM1375 162l-12-22 6 16 12 6zM1458 234l-11-14-12-18-12-11-12-3-12-6 6-3 12 10 12 18 12 8 11 10 12-7zM1530 288l-12-1-12-15-12-8-12-15 6 2 12 10 12 3 12 23 12 6zM1637 391l-12-17 6 12 11-6z"/>
<path class="q20" d="M1363 140l-11-8 5 6 12 18zM1482 249l-12-17 6 1 12 18zM1565 313l-11-7-12-5-12-13 6 5 11 7 12 12 12 7zM1625 374l-12-24 6 10 12 26z"/>
<path class="q18" d="M1399 182l-12-8-12-12 6 0 12 14 12 3zM1649 402l-12-11 5-11 12 30z"/>
<path class="q21" d="M1470 232l-12 2 6-16 12 15zM1613 350l-12-8-12-16-12 0-12-13 6 6 12 7 12 8 12 25 12 1z"/>
<path class="q18" d="M1346 143l-12 1 6-12 12 0zM1405 198l-12-9-12-13 6-2 12 8 12 6zM1524 304l-12-14 6-3 12 1z"/>
<path class="q20" d="M1370 158l-12-5-12-10 6-11 11 8 12 22zM1429 211l-12-14-12 1 6-10 12 3 12 11zM1476 252l-11-10-12-15 5 7 12-2 12 17zM1548 324l-12-24 6 1 12 5zM1595 357l-12-4-11-12-12-9 5-19 12 13 12 0 12 16zM1619 383l-12-15 6-18 12 24z"/>
<path class="q19" d="M1381 176l-11-18 5 4 12 12zM1453 227l-12 2-12-18 6-9 12 18 11 14zM1512 290l-12-13-12-8-12-17 6-3 12 15 12 8 12 15zM1536 300l-12 4 6-16 12 13zM1560 332l-12-8 6-18 11 7zM1631 387l-12-4 6-9 12 17z"/>
<path class="q21" d="M1607 368l-12-11 6-15 12 8z"/>
<path class="q17" d="M1643 420l-12-33 6 4 12 11z"/>
<path class="q17" d="M1352 165l-12-7-12-16 6 2 12-1 12 10zM1399 202l-11-7-12-1-12-18 6-18 11 18 12 13 12 9zM1530 328l-12-25-12-1-12-14-11-3-12-17 5-16 12 17 12 8 12 13 12 14 12-4zM1589 373l-11-8-12-18-12-6 6-9 12 9 11 12 12 4zM1625 402l-12-8 6-11 12 4z"/>
<path class="q18" d="M1364 176l-12-11 6-12 12 5zM1411 210l-12-8 6-4 12-1zM1471 268l-12-7-12-19-12-10-12-16 6-5 12 18 12-2 12 15 11 10zM1554 341l-12-21-12 8 6-28 12 24 12 8zM1613 394l-12-20-12-1 6-16 12 11 12 15z"/>
<path class="q19" d="M1423 216l-12-6 6-13 12 14z"/>
<path class="q16" d="M1637 428l-12-26 6-15 12 33z"/>
<path class="q15" d="M1334 162l-12 2 6-22 12 16zM1370 189l-12 3-12-17 6-10 12 11 12 18zM1501 308l-12-5-12-10-12-9-12-18 6-5 12 7 12 17 11 3 12 14zM1619 412l-12-11 6-7 12 8z"/>
<path class="q16" d="M1346 175l-12-13 6-4 12 7zM1405 227l-11-16-12-9-12-13 6 5 12 1 11 7 12 8zM1453 266l-12-17 6-7 12 19zM1536 330l-12-6-12-10-11-6 5-6 12 1 12 25 12-8zM1560 357l-12-10 6-6 12 6zM1607 401l-11-16 5-11 12 20z"/>
<path class="q17" d="M1441 249l-12-6-12-22-12 6 6-17 12 6 12 16 12 10zM1548 347l-12-17 6-10 12 21zM1596 385l-12-22-12-10-12 4 6-10 12 18 11 8 12 1z"/>
<path class="q14" d="M1631 432l-12-20 6-10 12 26z"/>
<path class="q16" d="M1340 173l-12-18-11-12 5 21 12-2 12 13zM1435 244l-12 3-11-7-12-17-12-14-12-6-12-11 6-3 12 13 12 9 11 16 12-6 12 22 12 6zM1471 274l-12-6-12-11 6 9 12 18 12 9zM1554 349l-12-7-12-2 6-10 12 17 12 10zM1602 401l-12-20 6 4 11 16z"/>
<path class="q14" d="M1352 191l-12-18 6 2 12 17zM1495 310l-12-6 6-1 12 5zM1625 431l-11-23 5 4 12 20z"/>
<path class="q15" d="M1364 192l-12-1 6 1 12-3zM1483 304l-12-30 6 19 12 10zM1530 340l-12-5-11-13-12-12 6-2 11 6 12 10 12 6zM1614 408l-12-7 5 0 12 11z"/>
<path class="q17" d="M1447 257l-12-13 6 5 12 17zM1566 357l-12-8 6 8 12-4zM1590 381l-12-4 6-14 12 22z"/>
<path class="q18" d="M1578 377l-12-20 6-4 12 10z"/>
<path class="q18" d="M1323 153l-12-11 6 1 11 12zM1441 256l-11-15 5 3 12 13z"/>
<path class="q17" d="M1335 161l-12-8 5 2 12 18zM1394 221l-12-15-12-13-12-6 6 5 12 11 12 6 12 14zM1430 241l-12-1 5 7 12-3zM1513 315l-12-15-12-11-12-4-12-3-12-12-12-14 6 1 12 11 12 6 12 30 12 6 12 12 11 13zM1596 392l-12-16-12-5-12-5-12-16-12-12-11-10 5 12 12 2 12 7 12 8 12 20 12 4 12 20z"/>
<path class="q16" d="M1358 187l-12-13-11-13 5 12 12 18 12 1zM1418 240l-12-12-12-7 6 2 12 17 11 7zM1525 328l-12-13 5 20 12 5zM1608 409l-12-17 6 9 12 7z"/>
<path class="q14" d="M1620 445l-12-36 6-1 11 23z"/>
<path class="q18" d="M1448 269l-12-14-12-12-12-6-12-20-12-4-12-10-12-14-12-5-11-11-12-14-12-2-12-16 6 1 12 11 12 8 11 13 12 13 12 6 12 13 12 15 12 7 12 12 12 1 11 15 12 14zM1471 287l-12-11 6 6 12 3zM1590 393l-12-18-12-6-12-15-11-3-12-19-12-2 6-2 11 10 12 12 12 16 12 5 12 5 12 16z"/>
<path class="q17" d="M1459 276l-11-7 5 1 12 12zM1602 405l-12-12 6-1 12 17z"/>
<path class="q19" d="M1519 330l-12-20-12-7-12-12-12-4 6-2 12 4 12 11 12 15 12 13z"/>
<path class="q15" d="M1614 417l-12-12 6 4 12 36z"/>
<path class="q18" d="M1311 153l-12-7 6-5 12 16zM1608 417l-12-20-12-12 6 8 12 12 12 12z"/>
<path class="q19" d="M1359 188l-12-3-12-19-12-4-12-9 6 4 12 2 12 14 11 11 12 5zM1584 385l-12-15-11-4-12-18-12 3-12-19-12 1-12-19-12-4-12-16-12-13-11-16-12-3-12-13-12-8-12-11-12-10-12-8-12-21 6 12 12 10 12 4 12 20 12 6 12 12 12 14 11 7 12 11 12 4 12 12 12 7 12 20 12 2 12 19 11 3 12 15 12 6 12 18z"/>
<path class="q20" d="M1370 191l-11-3 5 1 12 14z"/>
<path class="q18" d="M1305 155l-12 0 6-9 12 7zM1353 208l-12-19 6-4 12 3zM1519 340l-12 0-12-20 6-6 12 19 12-1zM1602 434l-12-36 6-1 12 20z"/>
<path class="q19" d="M1341 189l-12-11-12-14-12-9 6-2 12 9 12 4 12 19zM1495 320l-12-11-11-8-12-12-12-9-12-6-12-12-12-16-12-3-12-21-11-4-12-9-12-1 6-20 11 3 12 21 12 8 12 10 12 11 12 8 12 13 12 3 11 16 12 13 12 16 12 4zM1531 344l-12-4 6-8 12 19z"/>
<path class="q20" d="M1590 398l-12-15-11-10-12-3-12-13-12-13 6 7 12-3 12 18 11 4 12 15 12 12z"/>
<path class="q17" d="M1299 163l-11 0 5-8 12 0zM1371 236l-12-17-12-10-12-17 6-3 12 19 12 1 12 9zM1442 292l-12-9-12-10 6-11 12 12 12 6zM1478 314l-12 2-12-22 6-5 12 12 11 8zM1513 347l-12-1-11-15 5-11 12 20 12 0z"/>
<path class="q18" d="M1335 192l-12-11-12-10-12-8 6-8 12 9 12 14 12 11zM1418 273l-12-23-12-11-11-9-12 6 6-18 11 4 12 21 12 3 12 16zM1454 294l-12-2 6-12 12 9zM1490 331l-12-17 5-5 12 11zM1537 364l-12 0-12-17 6-7 12 4 12 13zM1585 420l-12-25 5-12 12 15z"/>
<path class="q19" d="M1573 395l-12-11-12-11-12-9 6-7 12 13 12 3 11 10z"/>
<path class="q16" d="M1596 432l-11-12 5-22 12 36z"/>
<path class="q15" d="M1294 177l-12-3 6-11 11 0zM1460 322l-12-10 6-18 12 22zM1496 357l-12-23 6-3 11 15zM1591 436l-12-10 6-6 11 12z"/>
<path class="q16" d="M1306 181l-12-4 5-14 12 8zM1377 244l-12-15-12-11-12 3-12-16 6-13 12 17 12 10 12 17 12-6zM1448 312l-12-19-12-7-12-11 6-2 12 10 12 9 12 2zM1472 323l-12-1 6-6 12-2zM1531 379l-12-10-11-12-12 0 5-11 12 1 12 17 12 0zM1579 426l-12-18 6-13 12 25z"/>
<path class="q17" d="M1329 205l-12-14-11-10 5-10 12 10 12 11zM1412 275l-11-16-12 0-12-15 6-14 11 9 12 11 12 23zM1484 334l-12-11 6-9 12 17zM1567 408l-12-12-12-4-12-13 6-15 12 9 12 11 12 11z"/>
<path class="q14" d="M1288 189l-12-25 6 10 12 3z"/>
<path class="q15" d="M1300 182l-12 7 6-12 12 4zM1383 256l-12-10 6-2 12 15zM1502 359l-12-5-12-14 6-6 12 23 12 0zM1585 438l-12-21 6 9 12 10z"/>
<path class="q16" d="M1347 217l-12-6-11-11-12-4-12-14 6-1 11 10 12 14 12 16 12-3zM1371 246l-12-15 6-2 12 15zM1407 268l-12 1-12-13 6 3 12 0 11 16zM1478 340l-12-16-12-18-12-7-12-1-11-20 5 8 12 7 12 19 12 10 12 1 12 11zM1573 417l-12-14-12-4-12-20-12-7-11-12-12-1 6-2 11 12 12 10 12 13 12 4 12 12 12 18z"/>
<path class="q17" d="M1359 231l-12-14 6 1 12 11zM1419 278l-12-10 5 7 12 11z"/>
<path class="q16" d="M1306 187l-12-7-12-19-12-7 6 10 12 25 12-7 12 14zM1496 353l-12-15-12-8 6 10 12 14 12 5z"/>
<path class="q17" d="M1318 193l-12-6 6 9 12 4zM1401 272l-12-19-12-4-12-15-12-9-12-8 6 0 12 14 12 15 12 10 12 13 12-1zM1472 330l-12-17 6 11 12 16zM1508 361l-12-8 6 6 12 1zM1579 424l-12-15-12-6-12-8-11-12 5-4 12 20 12 4 12 14 12 21z"/>
<path class="q18" d="M1341 217l-11-15-12-9 6 7 11 11 12 6zM1460 313l-12-3-11-17-12-12-12-7-12-2 6-4 12 10 11 20 12 1 12 7 12 18zM1532 383l-12-11-12-11 6-1 11 12 12 7z"/>
<path class="q19" d="M1288 171l-12-14-12-10 6 7 12 7 12 19zM1336 212l-12-6 6-4 11 15zM1395 269l-12-22-12-4 6 6 12 4 12 19zM1419 287l-12-9 6-4 12 7zM1514 356l-12-5-12-6-12-15-12-4-12-15-11-7-12-20 6 9 11 17 12 3 12 17 12 8 12 15 12 8 12 11zM1538 391l-12-28 6 20 11 12z"/>
<path class="q18" d="M1324 206l-12-8-12-20-12-7 6 9 12 7 12 6 12 9zM1371 243l-12-2-11-15-12-14 5 5 12 8 12 9 12 15zM1407 278l-12-9 6 3 12 2zM1573 420l-12-11-11-10-12-8 5 4 12 8 12 6 12 15z"/>
<path class="q20" d="M1431 284l-12 3 6-6 12 12zM1526 363l-12-7 6 16 12 11z"/>
<path class="q19" d="M1366 245l-12-14-12-4-12-10-12-19-12-12-12-6-12-7-11-12-12-1 5-13 12 10 12 14 12 7 12 20 12 8 12 6 12 14 11 15 12 2zM1389 273l-12-28 6 2 12 22zM1425 297l-12-8 6-2 12-3zM1461 328l-12-8-12-13 6-3 11 7 12 15zM1568 415l-12 2-12-19-12-15 6 8 12 8 11 10 12 11z"/>
<path class="q20" d="M1377 245l-11 0 5-2 12 4zM1437 307l-12-10 6-13 12 20zM1496 351l-12-10-12-13-11 0 5-2 12 4 12 15 12 6zM1532 383l-12-2 6-18 12 28z"/>
<path class="q18" d="M1413 289l-12-2-12-14 6-4 12 9 12 9z"/>
<path class="q21" d="M1520 381l-12-22-12-8 6 0 12 5 12 7z"/>
<path class="q17" d="M1265 179l-12-10 6-9 12 1z"/>
<path class="q18" d="M1277 181l-12-2 6-18 11 12zM1455 336l-12-10-12-5-12-14-12-4-12-29-11-4 5 3 12 14 12 2 12 8 12 10 12 13 12 8zM1562 436l-12-20-12-9 6-9 12 19 12-2z"/>
<path class="q19" d="M1300 196l-12-5-11-10 5-8 12 7 12 6zM1336 222l-12-3-12-19 6-2 12 19 12 10zM1384 270l-12-18 5-7 12 28zM1467 336l-12 0 6-8 11 0zM1538 407l-12-16-12-6-12-7-12-7-11-23 5-7 12 10 12 8 12 22 12 2 12 15z"/>
<path class="q20" d="M1312 200l-12-4 6-10 12 12zM1372 252l-12-4-12-24-12-2 6 5 12 4 12 14 11 0zM1479 348l-12-12 5-8 12 13z"/>
<path class="q14" d="M1259 196l-12-6 6-21 12 10z"/>
<path class="q15" d="M1271 194l-12 2 6-17 12 2z"/>
<path class="q17" d="M1283 191l-12 3 6-13 11 10zM1401 303l-11-14 5-15 12 29zM1461 353l-12-8-12-14 6-5 12 10 12 0zM1485 374l-12-4 6-22 11 23zM1532 428l-12-20-12-4 6-19 12 6 12 16z"/>
<path class="q18" d="M1295 208l-12-17 5 0 12 5zM1390 289l-12-9-12-10-12-5-12-22 6-19 12 24 12 4 12 18 11 4zM1473 370l-12-17 6-17 12 12z"/>
<path class="q19" d="M1342 243l-12-5-12-25-12-5-11 0 5-12 12 4 12 19 12 3 12 2z"/>
<path class="q16" d="M1437 331l-12 3-12-23-12-8 6 0 12 4 12 14 12 5zM1508 404l-11-13-12-17 5-3 12 7 12 7zM1556 447l-12-22-12 3 6-21 12 9 12 20z"/>
<path class="q13" d="M1253 192l-12-10 6 8 12 6z"/>
<path class="q14" d="M1265 195l-12-3 6 4 12-2zM1503 402l-12-1 6-10 11 13zM1538 439l-12-8 6-3 12-3z"/>
<path class="q16" d="M1289 218l-12-7-12-16 6-1 12-3 12 17zM1336 263l-12-13 6-12 12 5zM1408 321l-12-9-12-15-12-1-12-27-12 4 6-8 12 5 12 10 12 9 11 14 12 8zM1455 359l-12-4-12-18-12-9 6 6 12-3 12 14 12 8z"/>
<path class="q17" d="M1301 224l-12-6 6-10 11 0zM1324 250l-11-20 5-17 12 25z"/>
<path class="q18" d="M1313 230l-12-6 5-16 12 5z"/>
<path class="q15" d="M1348 273l-12-10 6-20 12 22zM1419 328l-11-7 5-10 12 23zM1491 401l-12-16-12-9-12-17 6-6 12 17 12 4 12 17zM1526 431l-12-20-11-9 5 2 12 4 12 20zM1550 452l-12-13 6-14 12 22z"/>
<path class="q15" d="M1247 184l-12-4 6 2 12 10zM1295 225l-12-7-12-13 6 6 12 7 12 6zM1390 311l-12-14-12-5-12-6-12-17-11-8-12-13 5 2 12 13 12 10 12-4 12 27 12 1 12 15zM1497 398l-12-10-12-6-12-4-12-15-12-20 6 12 12 4 12 17 12 9 12 16 12 1zM1532 438l-11-19 5 12 12 8z"/>
<path class="q16" d="M1271 205l-12-18-12-3 6 8 12 3 12 16zM1319 248l-12-13-12-10 6-1 12 6 11 20zM1402 308l-12 3 6 1 12 9zM1437 343l-11-5-12-17 5 7 12 9 12 18zM1521 419l-12-14-12-7 6 4 11 9 12 20z"/>
<path class="q17" d="M1414 321l-12-13 6 13 11 7z"/>
<path class="q13" d="M1544 462l-12-24 6 1 12 13z"/>
<path class="q16" d="M1242 174l-12 1 5 5 12 4zM1289 223l-12-7-12-14 6 3 12 13 12 7zM1348 278l-11-15-12-3 6 1 11 8 12 17zM1372 290l-12-5 6 7 12 5zM1444 359l-12-6-12-18 6 3 11 5 12 20zM1467 370l-12 2 6 6 12 4zM1527 423l-12-6 6 2 11 19z"/>
<path class="q17" d="M1265 202l-12-16-11-12 5 10 12 3 12 18zM1313 248l-12-25-12 0 6 2 12 10 12 13zM1384 294l-12-4 6 7 12 14zM1420 335l-12-17 6 3 12 17zM1479 373l-12-3 6 12 12 6zM1515 417l-12-19 6 7 12 14z"/>
<path class="q15" d="M1325 260l-12-12 6 0 12 13zM1360 285l-12-7 6 8 12 6zM1455 372l-11-13 5 4 12 15zM1539 435l-12-12 5 15 12 24z"/>
<path class="q18" d="M1408 318l-12-8-12-16 6 17 12-3 12 13zM1503 398l-12-6-12-19 6 15 12 10 12 7z"/>
<path class="q18" d="M1260 204l-12-20-12-10-12-9 6 10 12-1 11 12 12 16zM1295 229l-12-2 6-4 12 0zM1366 283l-11 1 5 1 12 5zM1414 334l-12-16 6 0 12 17zM1461 370l-11-6 5 8 12-2zM1521 418l-12-11-12-2-12-15 6 2 12 6 12 19 12 6z"/>
<path class="q17" d="M1283 227l-12-17-11-6 5-2 12 14 12 7zM1307 247l-12-18 6-6 12 25zM1355 284l-12-11-12-10-12-14 6 11 12 3 11 15 12 7zM1450 364l-12-10-12-12-12-8 6 1 12 18 12 6 11 13zM1533 461l-12-43 6 5 12 12z"/>
<path class="q16" d="M1319 249l-12-2 6 1 12 12z"/>
<path class="q19" d="M1402 318l-12-14-12-16-12-5 6 7 12 4 12 16 12 8zM1485 390l-12-15-12-5 6 0 12 3 12 19z"/>
<path class="q18" d="M1361 290l-12-10-12-10-12-11-12-11-12-8-12-11-12-15-11-10-12-7-12-10-12-2-12-15 6-5 12 9 12 10 12 20 11 6 12 17 12 2 12 18 12 2 12 14 12 10 12 11 11-1zM1432 348l-12-3-12-21 6 10 12 8 12 12z"/>
<path class="q20" d="M1396 312l-12-8-11-11-12-3 5-7 12 5 12 16 12 14zM1503 404l-12-9 6 10 12 2z"/>
<path class="q19" d="M1408 324l-12-12 6 6 12 16zM1491 395l-12-4-11 0-12-24-12-13-12-6 6 6 12 10 11 6 12 5 12 15 12 15zM1515 425l-12-21 6 3 12 11z"/>
<path class="q17" d="M1527 443l-12-18 6-7 12 43z"/>
<path class="q18" d="M1236 191l-12-11-12-16 6 6 12 15 12 2zM1331 273l-12-12-12-8 6-5 12 11 12 11zM1426 361l-12-15 6-1 12 3zM1474 394l-12-9-12-11 6-7 12 24 11 0zM1521 442l-12-19 6 2 12 18z"/>
<path class="q19" d="M1307 253l-12-20-11-1-12-19-12 1-12-19-12-4 6-4 12 10 12 7 11 10 12 15 12 11 12 8zM1391 321l-12-6-12-7-12-19-12-16-12 0 6-3 12 10 12 10 12 3 11 11 12 8zM1414 346l-12-16 6-6 12 21zM1450 374l-12-10-12-3 6-13 12 6 12 13zM1509 423l-12-2-11-17-12-10 5-3 12 4 12 9 12 21z"/>
<path class="q20" d="M1402 330l-11-9 5-9 12 12z"/>
<path class="q17" d="M1230 205l-12-10-11-11 5-20 12 16 12 11zM1456 398l-12-9-12-14-12-15-12-8-11-5-12-11-12-13-12-10 6-5 12 7 12 6 11 9 12 16 12 15 12 3 12 10 12 11z"/>
<path class="q18" d="M1337 287l-12-7-12-15-11-1-12-13-12-13-12-9-12-11-12-14-12 1 6-14 12 4 12 19 12-1 12 19 11 1 12 20 12 8 12 12 12 0zM1361 313l-12-17 6-7 12 19zM1480 416l-12-15-12-3 6-13 12 9 12 10z"/>
<path class="q19" d="M1349 296l-12-9 6-14 12 16z"/>
<path class="q16" d="M1515 462l-11-24-12 3-12-25 6-12 11 17 12 2 12 19z"/>
<path class="q13" d="M1213 214l-12-1 6-29 11 11z"/>
<path class="q14" d="M1224 218l-11-4 5-19 12 10zM1486 443l-12-16 6-11 12 25zM1510 478l-12-35 6-5 11 24z"/>
<path class="q15" d="M1236 230l-12-12 6-13 12-1zM1450 403l-12-6-12-15 6-7 12 14 12 9zM1498 443l-12 0 6-2 12-3z"/>
<path class="q16" d="M1248 219l-12 11 6-26 12 14zM1308 272l-12-1-12-11-12-13 6-9 12 13 12 13 11 1zM1403 361l-12-14-12-4-12-14-12-10 6-6 12 10 12 13 12 11 11 5zM1474 427l-12-11-12-13 6-5 12 3 12 15z"/>
<path class="q17" d="M1272 247l-12-17-12-11 6-1 12 11 12 9zM1355 319l-12-13-12-14-11-4-12-16 5-7 12 15 12 7 12 9 12 17zM1426 382l-11-22-12 1 5-9 12 8 12 15z"/>
<path class="r5" d="M2029 345l4 16 4-16z"/>
<path class="r6" d="M1989 352l4 10 4-10zM2024 342l4 16 4-16z"/>
<path class="r7" d="M2021 342l4 7 4-7zM2020 339l4 15 4-15zM1911 369l4 20 4-20zM1910 370l4 16 4-16z"/>
<path class="r8" d="M1901 363l4 26 4-26zM1952 352l4 13 4-13z"/>
<path class="r10" d="M1790 393l4 8 4-8z"/>
<path class="r11" d="M1911 365l3-21 3 21zM1616 439l4 10 4-10zM1541 457l4 15 4-15zM1796 385l4 12 4-12zM1206 210l4 9 4-9zM1209 211l4 11 4-11z"/>
<path class="r12" d="M1958 344l3-16 3 16zM1897 352l4 15 4-15zM1583 434l4 28 4-28zM1628 428l4 7 4-7zM1544 452l4 11 4-11zM1961 335l4 11 4-11zM1774 387l4 14 4-14zM1857 363l4 15 4-15zM1598 431l4 26 4-26zM1215 213l4 5 4-5zM1220 214l4 19 4-19zM1227 221l4 17 4-17zM1225 220l4 9 4-9zM1232 226l4 9 4-9zM1500 458l4 7 4-7z"/>
<path class="r13" d="M1862 359l3-16 3 16zM2018 303l3-9 3 9zM1548 446l4 8 4-8zM1965 323l4 25 4-25zM1840 356l4 23 4-23zM1479 437l4 7 4-7zM1462 417l4 18 4-18z"/>
<path class="r14" d="M1485 445l3-7 3 7zM1485 445l3-11 3 11zM1772 387l3-13 3 13zM1817 366l3-12 3 12zM1595 430l4 12 4-12zM1668 409l4 7 4-7zM1695 399l4 10 4-10zM1697 399l4 13 4-13zM1975 318l4 12 4-12zM2004 311l4 10 4-10zM1513 451l4 18 4-18zM1975 319l4 7 4-7zM2005 311l4 12 4-12zM1854 353l4 14 4-14zM1600 425l4 13 4-13zM1642 404l4 31 4-31zM1693 400l4 14 4-14zM1638 417l4 10 4-10zM1453 408l4 8 4-8zM1428 387l4 10 4-10zM1373 337l4 12 4-12zM1495 444l4 14 4-14zM1236 223l4 6 4-6zM1459 414l4 7 4-7z"/>
<path class="r15" d="M1751 257l3-15 3 15zM1449 368l3-8 3 8zM1874 312l3-10 3 10zM1755 260l3-7 3 7zM1534 432l3-13 3 13zM1250 183l3-15 3 15zM1689 391l3-14 3 14zM1917 305l3-11 3 11zM2001 295l3-19 3 19zM1457 378l3-9 3 9zM1473 156l3-8 3 8zM1801 375l3-11 3 11zM1433 392l3-8 3 8zM1277 174l3-8 3 8zM1411 185l3-7 3 7zM1764 369l4 27 4-27zM1972 316l4 8 4-8zM1601 421l4 15 4-15zM1729 380l4 25 4-25zM1681 398l4 16 4-16zM1397 356l4 9 4-9zM1492 440l4 7 4-7zM1361 325l4 10 4-10zM1359 323l4 5 4-5zM1272 249l4 10 4-10zM1320 286l4 12 4-12zM1424 381l4 11 4-11zM1489 440l4 6 4-6z"/>
<path class="r16" d="M1589 289l3-9 3 9zM1699 204l3-7 3 7zM1669 318l3-13 3 13zM1388 159l3-9 3 9zM1233 214l3-12 3 12zM1919 245l3-14 3 14zM1773 265l3-11 3 11zM1906 293l3-10 3 10zM1353 281l3-8 3 8zM1636 248l3-11 3 11zM2004 314l3-12 3 12zM1340 272l3-18 3 18zM1366 236l3-12 3 12zM1620 185l3-11 3 11zM1670 323l3-8 3 8zM1380 200l3-7 3 7zM1479 428l3-16 3 16zM1752 208l3-17 3 17zM1657 264l3-25 3 25zM1387 314l3-15 3 15zM1752 210l3-12 3 12zM1668 322l3-9 3 9zM1524 448l3-10 3 10zM1630 237l3-12 3 12zM1755 262l3-11 3 11zM1651 209l3-13 3 13zM1407 182l3-7 3 7zM1622 191l3-13 3 13zM1744 239l3-7 3 7zM1789 239l3-9 3 9zM1502 212l3-8 3 8zM1642 160l3-18 3 18zM1951 232l3-12 3 12zM1501 218l3-16 3 16zM1687 389l4 17 4-17zM1649 405l4 8 4-8zM1726 380l4 14 4-14zM1740 375l4 21 4-21zM1742 375l4 11 4-11zM1385 343l4 6 4-6zM1243 217l4 7 4-7zM1266 241l4 5 4-5zM1402 357l4 6 4-6zM1264 239l4 6 4-6zM1260 233l4 5 4-5z"/>
<path class="r17" d="M1913 242l3-11 3 11zM1499 264l3-18 3 18zM1748 257l3-21 3 21zM1454 271l3-13 3 13zM1488 256l3-14 3 14zM1800 251l3-10 3 10zM1934 262l3-30 3 30zM1358 193l3-19 3 19zM1810 207l3-8 3 8zM1469 289l3-30 3 30zM1655 123l3-14 3 14zM1542 347l3-11 3 11zM1816 109l3-10 3 10zM1829 165l3-7 3 7zM1620 122l3-10 3 10zM1714 305l3-20 3 20zM1953 269l3-8 3 8zM1575 410l3-8 3 8zM1497 303l3-16 3 16zM1309 181l3-7 3 7zM1683 287l3-14 3 14zM1928 255l3-24 3 24zM1488 351l3-9 3 9zM1403 173l3-17 3 17zM1514 173l3-15 3 15zM1648 351l3-8 3 8zM1405 318l3-23 3 23zM1507 209l3-7 3 7zM1658 211l3-15 3 15zM1755 353l3-10 3 10zM1448 366l3-26 3 26zM1521 188l3-14 3 14zM1491 161l3-12 3 12zM1805 305l3-23 3 23zM1349 147l3-23 3 23zM1438 294l3-14 3 14zM1541 382l3-10 3 10zM1466 190l3-20 3 20zM1349 220l3-10 3 10zM1653 307l3-9 3 9zM1547 248l3-16 3 16zM1475 192l3-23 3 23zM1942 274l3-20 3 20zM1809 312l3-16 3 16zM1846 322l3-23 3 23zM1648 118l3-9 3 9zM1498 203l3-8 3 8zM1502 114l3-8 3 8zM1712 359l3-10 3 10zM1338 272l3-17 3 17zM1605 308l3-12 3 12zM1488 338l3-15 3 15zM1613 315l3-21 3 21zM1370 203l3-14 3 14zM1844 245l3-11 3 11zM1639 203l3-8 3 8zM1618 319l3-14 3 14zM1562 404l3-12 3 12zM1819 215l3-20 3 20zM1488 111l3-8 3 8zM1381 193l3-7 3 7zM1362 150l3-8 3 8zM1928 319l4 8 4-8zM1848 339l4 12 4-12zM1534 433l4 9 4-9zM1562 416l4 32 4-32zM1745 373l4 11 4-11zM1684 383l4 27 4-27zM1571 418l4 20 4-20z"/>
<path class="r18" d="M1903 266l3-8 3 8zM1575 319l3-10 3 10zM1581 409l3-13 3 13zM1486 118l3-22 3 22zM1752 212l3-9 3 9zM1572 190l3-25 3 25zM1806 204l3-20 3 20zM1911 250l3-9 3 9zM1236 203l3-13 3 13zM1534 92l3-13 3 13zM1782 319l3-9 3 9zM1847 131l3-13 3 13zM1851 289l3-8 3 8zM1581 244l3-9 3 9zM1844 280l3-11 3 11zM1469 313l3-11 3 11zM1404 262l3-20 3 20zM1819 161l3-16 3 16zM1922 307l3-9 3 9zM1726 385l3-15 3 15zM1294 162l3-15 3 15zM1619 306l3-11 3 11zM1537 133l3-8 3 8zM1962 303l3-21 3 21zM1576 133l3-12 3 12zM1899 192l3-13 3 13zM1320 276l3-13 3 13zM1612 87l3-14 3 14zM1830 125l3-19 3 19zM1273 196l3-17 3 17zM1597 400l3-31 3 31zM1440 339l3-18 3 18zM1577 378l3-7 3 7zM1654 167l3-20 3 20zM1739 130l3-7 3 7zM1815 333l3-18 3 18zM1762 240l3-14 3 14zM1895 281l3-13 3 13zM1731 290l3-11 3 11zM1679 291l3-8 3 8zM1397 312l3-7 3 7zM1739 375l3-11 3 11zM1604 78l3-23 3 23zM1622 376l3-10 3 10zM1978 262l3-19 3 19zM1355 228l3-21 3 21zM1585 284l3-16 3 16zM1453 224l3-15 3 15zM1525 225l3-11 3 11zM1738 191l3-13 3 13zM1404 275l3-8 3 8zM1666 389l3-7 3 7zM1467 234l3-23 3 23zM1262 233l3-12 3 12zM1685 170l3-8 3 8zM1785 90l3-11 3 11zM1676 168l3-17 3 17zM1813 261l3-8 3 8zM1863 240l3-18 3 18zM1613 88l3-13 3 13zM1782 226l3-24 3 24zM1988 279l3-22 3 22zM1428 157l3-21 3 21zM1462 231l3-21 3 21zM1757 235l3-15 3 15zM1554 103l3-8 3 8zM1531 225l3-11 3 11zM1510 262l3-19 3 19zM1577 324l3-11 3 11zM1607 247l3-17 3 17zM1559 356l3-13 3 13zM1746 296l3-12 3 12zM1216 181l3-9 3 9zM1296 156l3-10 3 10zM1830 339l3-8 3 8zM1892 188l3-11 3 11zM1703 207l3-22 3 22zM1777 83l3-11 3 11zM1886 258l3-17 3 17zM1562 118l3-25 3 25zM1579 280l3-11 3 11zM1816 200l3-19 3 19zM1264 233l3-17 3 17zM1674 187l3-14 3 14zM1889 320l4 20 4-20zM1846 338l4 10 4-10zM1812 347l4 9 4-9zM1569 417l4 11 4-11z"/>
<path class="r19" d="M1465 381l3-8 3 8zM1567 417l3-14 3 14zM1924 210l3-27 3 27zM1642 395l3-14 3 14zM1726 67l3-11 3 11zM1625 139l3-17 3 17zM1969 264l3-12 3 12zM1538 227l3-19 3 19zM1698 341l3-10 3 10zM1820 185l3-13 3 13zM1344 281l3-14 3 14zM1632 58l3-8 3 8zM1340 147l3-9 3 9zM1719 330l3-15 3 15zM1518 290l3-13 3 13zM1301 247l3-10 3 10zM1800 301l3-16 3 16zM1466 301l3-13 3 13zM1442 128l3-9 3 9zM1749 54l3-15 3 15zM1524 168l3-9 3 9zM1232 177l3-9 3 9zM1775 232l3-7 3 7zM1681 112l3-8 3 8zM1579 191l3-8 3 8zM1840 158l3-14 3 14zM1685 127l3-23 3 23zM1617 135l3-9 3 9zM1593 303l3-10 3 10zM1756 362l3-17 3 17zM1704 179l3-13 3 13zM1538 223l3-10 3 10zM1768 302l3-12 3 12zM1593 296l3-18 3 18zM1506 431l3-14 3 14zM1650 303l3-9 3 9zM1508 135l3-29 3 29zM1419 301l3-11 3 11zM1761 318l3-10 3 10zM1563 295l3-8 3 8zM1684 378l3-15 3 15zM1404 231l3-11 3 11zM1882 216l3-7 3 7zM1542 399l3-23 3 23zM1451 145l3-8 3 8zM1287 195l3-13 3 13zM1451 143l3-10 3 10zM1624 88l3-9 3 9zM1418 113l3-7 3 7zM1495 241l3-14 3 14zM1525 431l3-15 3 15zM1288 179l3-24 3 24zM1417 125l3-16 3 16zM1611 291l3-11 3 11zM1894 236l3-19 3 19zM1585 209l3-11 3 11zM1437 252l3-16 3 16zM1567 418l3-14 3 14zM1383 169l3-16 3 16zM1324 270l3-18 3 18zM1718 30l3-16 3 16zM1353 202l3-16 3 16zM1654 273l3-11 3 11zM1403 324l3-13 3 13zM1588 291l3-17 3 17zM1429 368l3-17 3 17zM1652 186l3-14 3 14zM1598 317l3-14 3 14zM1290 234l3-8 3 8zM1380 176l3-15 3 15zM1691 78l3-8 3 8zM1746 297l3-7 3 7zM1584 158l3-12 3 12zM1354 287l3-23 3 23zM1654 183l3-20 3 20zM1574 276l3-18 3 18zM1756 259l3-10 3 10zM1554 312l3-8 3 8zM1442 221l3-14 3 14zM1573 80l3-25 3 25zM1697 261l3-8 3 8zM1719 197l3-13 3 13zM1585 305l3-8 3 8zM1897 237l3-17 3 17zM1476 289l3-8 3 8zM1283 228l3-13 3 13zM1462 187l3-14 3 14zM1679 233l3-14 3 14zM1432 137l3-10 3 10zM1886 317l4 16 4-16z"/>
<path class="r20" d="M1489 255l3-12 3 12zM1421 298l3-8 3 8zM1605 270l3-19 3 19zM1367 300l3-12 3 12zM1483 293l3-9 3 9zM1423 203l3-22 3 22zM1613 231l3-13 3 13zM1698 222l3-15 3 15zM1963 250l3-11 3 11zM1854 161l3-18 3 18zM1371 167l3-11 3 11zM1553 312l3-15 3 15zM1415 188l3-17 3 17zM1694 208l3-9 3 9zM1409 195l3-13 3 13zM1387 234l3-27 3 27zM1622 138l3-17 3 17zM1557 409l3-19 3 19zM1593 261l3-14 3 14zM1420 150l3-11 3 11zM1437 173l3-11 3 11zM1693 84l3-16 3 16zM1493 261l3-17 3 17zM1741 293l3-9 3 9zM1960 247l3-14 3 14zM1496 404l3-27 3 27zM1777 199l3-18 3 18zM1791 241l3-19 3 19zM1748 305l3-22 3 22zM1556 273l3-10 3 10zM1546 401l3-28 3 28zM1329 211l3-19 3 19zM1565 372l3-17 3 17zM1905 285l3-15 3 15zM1937 274l3-10 3 10zM1517 140l3-16 3 16zM1850 200l3-14 3 14zM1835 135l3-18 3 18zM1332 170l3-15 3 15zM1724 228l3-16 3 16zM1628 139l3-26 3 26zM1576 70l3-15 3 15zM1952 240l3-14 3 14zM1785 294l3-18 3 18zM1622 86l3-10 3 10zM1460 373l3-18 3 18zM1596 216l3-13 3 13zM1467 375l3-13 3 13zM1935 213l3-15 3 15zM1750 124l3-14 3 14zM1479 118l3-10 3 10zM1693 70l3-18 3 18zM1814 307l3-18 3 18zM1437 170l3-13 3 13zM1876 178l3-7 3 7zM1742 143l3-10 3 10zM1710 45l3-13 3 13zM1769 56l3-12 3 12zM1464 234l3-26 3 26zM1507 84l3-8 3 8zM1610 172l3-14 3 14zM1725 141l3-12 3 12zM1418 243l3-19 3 19zM1723 141l3-17 3 17zM1476 113l3-10 3 10zM1859 153l3-10 3 10zM1807 115l3-15 3 15zM1363 215l3-29 3 29zM1768 264l3-7 3 7zM1704 86l3-15 3 15zM1660 135l3-15 3 15zM1639 145l3-20 3 20zM1866 314l3-17 3 17zM1611 282l3-25 3 25z"/>
<path class="r21" d="M1399 224l3-19 3 19zM1791 194l3-13 3 13zM1619 197l3-20 3 20zM1518 371l3-9 3 9zM1591 125l3-23 3 23zM1568 322l3-13 3 13zM1808 204l3-8 3 8zM1525 90l3-26 3 26zM1463 196l3-12 3 12zM1647 60l3-9 3 9zM1310 196l3-13 3 13zM1525 339l3-18 3 18zM1618 194l3-19 3 19zM1671 281l3-33 3 33zM1702 65l3-17 3 17zM1641 251l3-27 3 27zM1769 270l3-21 3 21zM1714 361l3-15 3 15zM1814 314l3-21 3 21zM1510 363l3-7 3 7zM1743 298l3-18 3 18zM1914 215l3-26 3 26zM1611 175l3-19 3 19zM1498 168l3-8 3 8zM1555 272l3-30 3 30zM1843 241l3-10 3 10zM1658 73l3-13 3 13zM1450 275l3-15 3 15zM1552 359l3-11 3 11zM1714 92l3-17 3 17zM1744 109l3-12 3 12zM1421 207l3-15 3 15zM1735 145l3-13 3 13zM1824 221l3-10 3 10zM1425 293l3-10 3 10zM1603 74l3-20 3 20zM1936 230l3-17 3 17zM1728 84l3-11 3 11zM1740 198l3-30 3 30zM1667 135l3-12 3 12zM1842 276l3-10 3 10zM1672 38l3-8 3 8z"/>
<path class="r22" d="M1621 88l3-12 3 12zM1540 111l3-33 3 33zM1668 87l3-30 3 30zM1493 115l3-11 3 11zM1572 231l3-17 3 17zM1759 115l3-21 3 21zM1669 39l3-7 3 7zM1457 181l3-11 3 11zM1418 193l3-15 3 15zM1488 111l3-10 3 10z"/>
<path class="r23" d="M1682 46l3-20 3 20zM1800 154l3-29 3 29z"/>
</g>
<path d="M326.1 70.0 L326.8 73.2 L327.2 77.6 L327.6 80.1 L327.8 80.5 L328.0 80.1 L328.4 77.6 L328.9 73.2 L329.5 70.0Z" fill="url(#gb0)"/>
<path d="M329.5 70.0 L330.2 73.0 L330.6 77.2 L331.0 79.6 L331.2 80.0 L331.4 79.6 L331.8 77.2 L332.3 73.0 L332.9 70.0Z" fill="url(#gb1)"/>
<path d="M327.0 72.0 L328.0 65.4 L328.7 56.2 L329.3 50.9 L329.6 50.0 L329.9 50.9 L330.6 56.2 L331.3 65.4 L332.2 72.0Z" fill="url(#gb2)"/>
<path d="M329.4 50.0 L330.2 44.6 L330.7 37.0 L331.2 32.7 L331.4 32.0 L331.6 32.7 L332.2 37.0 L332.7 44.6 L333.4 50.0Z" fill="url(#gb3)"/>
<path d="M446.8 72.0 L448.2 64.2 L449.2 53.3 L450.0 47.0 L450.4 46.0 L450.8 47.0 L451.8 53.3 L452.7 64.2 L454.0 72.0Z" fill="url(#gb4)"/>
<path d="M450.1 80.0 L451.1 75.2 L451.7 68.5 L452.3 64.6 L452.5 64.0 L452.8 64.6 L453.4 68.5 L454.0 75.2 L454.9 80.0Z" fill="url(#gb5)"/>
<path d="M473.3 50.0 L474.2 45.5 L474.8 39.2 L475.4 35.6 L475.6 35.0 L475.9 35.6 L476.5 39.2 L477.1 45.5 L477.9 50.0Z" fill="url(#gb6)"/>
<path d="M443.4 52.0 L444.3 48.1 L444.9 42.6 L445.4 39.5 L445.6 39.0 L445.9 39.5 L446.4 42.6 L447.0 48.1 L447.8 52.0Z" fill="url(#gb7)"/>
<path d="M429.6 42.0 L430.4 38.7 L430.9 34.1 L431.4 31.4 L431.6 31.0 L431.8 31.4 L432.4 34.1 L432.9 38.7 L433.6 42.0Z" fill="url(#gb8)"/>
<path d="M384.0 52.0 L384.8 48.7 L385.3 44.1 L385.8 41.4 L386.0 41.0 L386.2 41.4 L386.8 44.1 L387.3 48.7 L388.0 52.0Z" fill="url(#gb9)"/>
<path d="M391.8 96.0 L392.7 92.4 L393.3 87.4 L393.8 84.5 L394.0 84.0 L394.3 84.5 L394.8 87.4 L395.4 92.4 L396.2 96.0Z" fill="url(#gb10)"/>
<path d="M413.8 94.0 L414.7 90.7 L415.3 86.1 L415.8 83.4 L416.0 83.0 L416.3 83.4 L416.8 86.1 L417.4 90.7 L418.2 94.0Z" fill="url(#gb11)"/>
<path d="M401.7 20.0 L402.4 17.3 L402.9 13.5 L403.3 11.4 L403.5 11.0 L403.7 11.4 L404.2 13.5 L404.7 17.3 L405.3 20.0Z" fill="url(#gb12)"/>
<path d="M446.1 24.0 L446.8 21.3 L447.3 17.5 L447.8 15.4 L448.0 15.0 L448.2 15.4 L448.7 17.5 L449.2 21.3 L449.9 24.0Z" fill="url(#gb13)"/>
<path d="M390.2 20.0 L390.9 17.9 L391.4 15.0 L391.8 13.3 L392.0 13.0 L392.2 13.3 L392.7 15.0 L393.2 17.9 L393.8 20.0Z" fill="url(#gb14)"/>
<path d="M484.3 76.0 L485.2 72.1 L485.8 66.6 L486.3 63.5 L486.5 63.0 L486.8 63.5 L487.3 66.6 L487.9 72.1 L488.7 76.0Z" fill="url(#gb15)"/>
<path d="M402.6 52.0 L403.6 49.3 L404.2 45.5 L404.8 43.4 L405.0 43.0 L405.3 43.4 L405.9 45.5 L406.5 49.3 L407.4 52.0Z" fill="url(#gb16)"/>
<path d="M372.8 50.0 L373.5 47.3 L374.0 43.5 L374.4 41.4 L374.6 41.0 L374.8 41.4 L375.3 43.5 L375.8 47.3 L376.4 50.0Z" fill="url(#gb17)"/>
<path d="M394.2 52.0 L394.9 49.6 L395.4 46.2 L395.8 44.3 L396.0 44.0 L396.2 44.3 L396.7 46.2 L397.2 49.6 L397.8 52.0Z" fill="url(#gb18)"/>
<path d="M426.0 60.0 L426.8 57.6 L427.3 54.2 L427.8 52.3 L428.0 52.0 L428.2 52.3 L428.8 54.2 L429.3 57.6 L430.0 60.0Z" fill="url(#gb19)"/>
<path d="M455.0 60.0 L455.8 57.0 L456.3 52.8 L456.8 50.4 L457.0 50.0 L457.2 50.4 L457.8 52.8 L458.3 57.0 L459.0 60.0Z" fill="url(#gb20)"/>
<path d="M473.8 88.0 L474.7 85.0 L475.3 80.8 L475.8 78.4 L476.0 78.0 L476.3 78.4 L476.8 80.8 L477.4 85.0 L478.2 88.0Z" fill="url(#gb21)"/>
</g>
<path d="M377.5 131.6 V88.0" stroke="#6a6a70" stroke-width=".9" fill="none"/>
<rect x="543.9" y="4.4" width="1.2" height="138.6" fill="url(#cbb)"/>
<text x="542.3" y="7.9" font-size="5.7" text-anchor="end">4.00</text>
<text x="542.3" y="26.3" font-size="5.7" text-anchor="end">3.00</text>
<text x="542.3" y="47.3" font-size="5.7" text-anchor="end">2.00</text>
<text x="542.3" y="65.9" font-size="5.7" text-anchor="end">1.00</text>
<text x="542.3" y="86.3" font-size="5.7" text-anchor="end">0.00</text>
<text x="542.3" y="104.5" font-size="5.7" text-anchor="end">−1.00</text>
<text x="542.3" y="125.9" font-size="5.7" text-anchor="end">−2.00</text>
<text x="542.3" y="143.9" font-size="5.7" text-anchor="end">−3.00 µm</text>
<text x="298.5" y="68.3" font-size="5.7" text-anchor="end">y(mm)</text>
<text x="513.0" y="99.3" font-size="5.7" text-anchor="start">x(mm)</text>
<text x="383.0" y="138.0" font-size="5.7" text-anchor="middle">0.0</text>
<text x="410.3" y="130.1" font-size="5.7" text-anchor="middle">0.2</text>
<text x="437.6" y="122.3" font-size="5.7" text-anchor="middle">0.4</text>
<text x="465.0" y="114.5" font-size="5.7" text-anchor="middle">0.6</text>
<text x="492.3" y="106.6" font-size="5.7" text-anchor="middle">0.8</text>
<text x="370.4" y="136.6" font-size="5.7" text-anchor="middle">0.0 </text>
<text x="354.8" y="123.1" font-size="5.7" text-anchor="middle">0.2 </text>
<text x="339.2" y="109.5" font-size="5.7" text-anchor="middle">0.4 </text>
<text x="323.6" y="96.0" font-size="5.7" text-anchor="middle">0.6 </text>
<text x="308.0" y="82.5" font-size="5.7" text-anchor="middle">0.8 </text>
<text x="412.5" y="169.0" font-size="14.5" text-anchor="middle" class="cap">(<tspan font-weight="bold">b</tspan>)</text>
<!-- panel c -->
<path d="M94.0 305.0 L20.0 241.6 L147.5 205.5 L221.5 268.9 Z" fill="none" stroke="#444" stroke-width=".75"/>
<path d="M94.0 305.0 l2.0 1.7M94.0 305.0 l-2.5 0.7M119.5 297.8 l2.0 1.7M79.2 292.3 l-2.5 0.7M145.0 290.6 l2.0 1.7M64.4 279.6 l-2.5 0.7M170.5 283.3 l2.0 1.7M49.6 267.0 l-2.5 0.7M196.0 276.1 l2.0 1.7M34.8 254.3 l-2.5 0.7" stroke="#444" stroke-width=".6" fill="none"/>
<g filter="url(#bl)">
<g transform="scale(0.2500)">
<path class="q15" d="M586 782l-11-19 5-1 11 13zM642 813l-11 10-11-26 5 7 12 8 11 9zM868 1030l-11-27 5-16 11 45z"/>
<path class="q16" d="M597 765l-11 17 5-7 12 9zM620 797l-11-8 5-13 11 28zM721 885l-11-9-11-22 5 13 11 7 12 6zM789 930l-11 4 5 7 11 0zM811 951l-11-4 6 12 11 2zM857 1003l-12-7-11-17 5-2 12 21 11-11z"/>
<path class="q17" d="M609 789l-12-24 6 19 11-8zM699 854l-11-10-12-5-11-9-11-10-12-7 6 8 11-3 11 5 12 25 11 0 11 19zM755 912l-11-1-11-23-12-3 6-5 11 5 11 9 12 10zM778 934l-12-23 6-1 11 31zM800 947l-11-17 5 11 12 18zM834 979l-11-15-12-13 6 10 11 11 11 5z"/>
<path class="q18" d="M766 911l-11 1 6-8 11 6z"/>
<path class="q16" d="M581 762l-12-3 6 4 11 19zM626 799l-12 2-11-19 6 7 11 8 11 26zM727 893l-11 2-11-32 5 13 11 9 12 3zM862 1000l-11-15 6 18 11 27z"/>
<path class="q17" d="M603 782l-11-11-11-9 5 20 11-17 12 24zM671 844l-11-13-12-4-11-23-11-5 5 24 11-10 12 7 11 10 11 9zM772 920l-11 5-11-7-12-30-11 5 6-5 11 23 11 1 11-1 12 23zM851 985l-11-4-11-2-12-12-11-5 5-11 12 13 11 15 11 17 12 7z"/>
<path class="q18" d="M682 841l-11 3 5-5 12 5zM705 863l-12-15 6 6 11 22zM806 962l-11-26-11 2-12-18 6 14 11-4 11 17 11 4z"/>
<path class="q19" d="M693 848l-11-7 6 3 11 10z"/>
<path class="q17" d="M575 771l-11-24 5 12 12 3zM711 884l-12-15 6-6 11 32zM767 922l-11 12-12-40 6 24 11 7 11-5zM834 987l-11-7-11-19 5 6 12 12 11 2z"/>
<path class="q18" d="M665 829l-11-6-11-5-11-11-12-11-11-14-11 0-11-18-12 7 6-9 11 9 11 11 11 19 12-2 11 5 11 23 12 4 11 13zM699 869l-11-7 5-14 12 15zM744 894l-11-5-11 1 5 3 11-5 12 30zM812 961l-11-14 5 15 11 5zM857 1012l-11-23-12-2 6-6 11 4 11 15z"/>
<path class="q19" d="M688 862l-11-19-12-14 6 15 11-3 11 7zM801 947l-12-18-11-9-11 2 5-2 12 18 11-2 11 26z"/>
<path class="q16" d="M722 890l-11-6 5 11 11-2z"/>
<path class="q17" d="M570 772l-11-4 5-21 11 24zM750 939l-11-35 5-10 12 40zM852 1025l-12-26-11 2-11-25 5 4 11 7 12 2 11 23z"/>
<path class="q18" d="M604 789l-12 0-11-20-11 3 5-1 12-7 11 18 11 0zM637 818l-11-5-11-12 5-5 12 11 11 11zM694 856l-11-1-12-1 6-11 11 19 11 7zM773 937l-12-5 6-10 11-2zM818 976l-11-11-12-6 6-12 11 14 11 19z"/>
<path class="q19" d="M615 801l-11-12 5-7 11 14zM671 854l-11-26-11-8-12-2 6 0 11 5 11 6 12 14zM739 904l-11-20-12-4-11-17-11-7 5 13 12 15 11 6 11-1 11 5zM795 959l-11-13-11-9 5-17 11 9 12 18z"/>
<path class="q16" d="M761 932l-11 7 6-5 11-12z"/>
<path class="q16" d="M564 762l-11 6 6 0 11 4zM745 946l-11-26 5-16 11 35zM790 971l-11 1 5-26 11 13zM835 1012l-11-8-12-22 6-6 11 25 11-2z"/>
<path class="q18" d="M576 778l-12-16 6 10 11-3zM643 836l-11-12 5-6 12 2zM666 868l-11-26 5-14 11 26zM688 880l-11-6 6-19 11 1zM734 920l-12-27 6-9 11 20z"/>
<path class="q17" d="M632 824l-11-1-11-7-12-5-11-16-11-17 5-9 11 20 12 0 11 12 11 12 11 5zM677 874l-11-6 5-14 12 1zM779 972l-12-31-11 5 5-14 12 5 11 9zM812 982l-11 2-11-13 5-12 12 6 11 11z"/>
<path class="q19" d="M655 842l-12-6 6-16 11 8zM722 893l-11-1-11-9-12-3 6-24 11 7 11 17 12 4z"/>
<path class="q15" d="M756 946l-11 0 5-7 11-7zM846 1030l-11-18 5-13 12 26z"/>
<path class="q16" d="M559 791l-11-16 5-7 11-6zM615 830l-11-8-11-24-11 0 5-3 11 16 12 5 11 7zM683 885l-11-3-12-32 6 18 11 6 11 6zM739 920l-11-12 6 12 11 26zM796 967l-12 0-11-7-11-10-11-5 5 1 11-5 12 31 11-1 11 13zM818 1001l-11-19 5 0 12 22zM841 1007l-11 8 5-3 11 18z"/>
<path class="q17" d="M582 798l-12-21-11 14 5-29 12 16 11 17zM627 822l-12 8 6-7 11 1zM660 850l-11 0-11-14 5 0 12 6 11 26zM706 902l-12-20-11 3 5-5 12 3 11 9zM807 982l-11-15 5 17 11-2z"/>
<path class="q18" d="M638 836l-11-14 5 2 11 12zM728 908l-11-9-11 3 5-10 11 1 12 27z"/>
<path class="q15" d="M751 945l-12-25 6 26 11 0zM830 1015l-12-14 6 3 11 8z"/>
<path class="q16" d="M565 787l-11-19-12-15 6 22 11 16 11-14zM610 823l-11-9 5 8 11 8zM835 1036l-11-34-11-8 5 7 12 14 11-8z"/>
<path class="q17" d="M576 784l-11 3 5-10 12 21zM599 814l-12-25 6 9 11 24zM621 823l-11 0 5 7 12-8zM644 854l-11-21 5 3 11 14zM678 875l-12-19 6 26 11 3zM779 961l-11-13-11-9-12-4-11-16 5 1 12 25 11 5 11 10 11 7zM813 994l-11-3-12-22 6-2 11 15 11 19z"/>
<path class="q18" d="M587 789l-11-5 6 14 11 0zM633 833l-12-10 6-1 11 14zM666 856l-11-10-11 8 5-4 11 0 12 32zM734 919l-11-4-12-17-11-11-11-16-11 4 5 10 11-3 12 20 11-3 11 9 11 12zM790 969l-11-8 5 6 12 0z"/>
<path class="q18" d="M548 775l-11-23 5 1 12 15zM571 788l-11-12 5 11 11-3zM593 801l-11-10 5-2 12 25zM650 853l-12-14-11 6-11-13 5-9 12 10 11 21 11-8zM751 938l-11-7-11-12-12 0-11-30 5 9 12 17 11 4 11 16 12 4zM796 983l-11-30 5 16 12 22zM819 995l-12-9 6 8 11 8z"/>
<path class="q17" d="M560 776l-12-1 6-7 11 19zM616 832l-11-9-12-22 6 13 11 9 11 0zM807 986l-11-3 6 8 11 3z"/>
<path class="q19" d="M582 791l-11-3 5-4 11 5zM706 889l-11-3-12-6-11-9-11-16-11-2 5-7 11 10 12 19 11-4 11 16 11 11zM774 938l-12 3-11-3 6 1 11 9 11 13z"/>
<path class="q20" d="M785 953l-11-15 5 23 11 8z"/>
<path class="q16" d="M830 1022l-11-27 5 7 11 34z"/>
<path class="q18" d="M565 797l-11-16-11-7-11-15 5-7 11 23 12 1 11 12zM599 813l-11-2-11 7 5-27 11 10 12 22zM678 892l-11-24 5 3 11 9zM723 921l-11-13 5 11 12 0zM746 945l-12-14 6 0 11 7zM802 992l-11-4-11-14 5-21 11 30 11 3zM825 1025l-12-34 6 4 11 27z"/>
<path class="q17" d="M577 818l-12-21 6-9 11 3zM622 828l-12 12-11-27 6 10 11 9 11 13z"/>
<path class="q19" d="M667 868l-11 4-12-23-11-17-11-4 5 17 11-6 12 14 11 2 11 16zM689 887l-11 5 5-12 12 6zM712 908l-11-18 5-1 11 30zM734 931l-11-10 6-2 11 12zM757 951l-11-6 5-7 11 3zM813 991l-11 1 5-6 12 9z"/>
<path class="q20" d="M701 890l-12-3 6-1 11 3zM780 974l-12-28-11 5 5-10 12-3 11 15z"/>
<path class="q18" d="M560 784l-11-5-12-4-11-9 6-7 11 15 11 7 11 16zM616 848l-11-18-11-11-11-17 5 9 11 2 11 27 12-12zM650 880l-11-40 5 9 12 23zM695 916l-11-5 5-24 12 3zM752 955l-12-4-11-16-11-13 5-1 11 10 12 14 11 6zM797 988l-12-6-11-14 6 6 11 14 11 4z"/>
<path class="q17" d="M583 802l-12 2-11-20 5 13 12 21 11-7zM684 911l-11-18-12-4-11-9 6-8 11-4 11 24 11-5zM819 1032l-11-25 5-16 12 34z"/>
<path class="q19" d="M628 842l-12 6 6-20 11 4zM718 922l-12-19-11 13 6-26 11 18 11 13zM774 968l-11-12-11-1 5-4 11-5 12 28zM808 1007l-11-19 5 4 11-1z"/>
<path class="q20" d="M639 840l-11 2 5-10 11 17z"/>
<path class="q18" d="M577 800l-11 19-11-30-12-5-11-13-11-14 5 9 11 9 12 4 11 5 11 20 12-2zM600 841l-12-22 6 0 11 11zM622 855l-11-10 5 3 12-6zM645 871l-12-14 6-17 11 40zM701 914l-11-2 5 4 11-13zM757 957l-11 9-11-23-11-14-12 2 6-9 11 13 11 16 12 4 11 1zM803 1011l-12-14-11-12-11-3 5-14 11 14 12 6 11 19z"/>
<path class="q19" d="M588 819l-11-19 6 2 11 17zM633 857l-11-2 6-13 11-2zM712 931l-11-17 5-11 12 19zM769 982l-12-25 6-1 11 12z"/>
<path class="q17" d="M611 845l-11-4 5-11 11 18z"/>
<path class="q16" d="M690 912l-11-3-12-10-11-6-11-22 5 9 11 9 12 4 11 18 11 5zM814 1031l-11-20 5-4 11 25z"/>
<path class="q19" d="M527 779l-12-28 6 6 11 14zM583 827l-11-25-12-7-11-19-11 12 5-4 12 5 11 30 11-19 11 19zM707 906l-11 4-12-14 6 16 11 2 11 17zM729 941l-11-11 6-1 11 14zM786 990l-11-13-12-14-11-5 5-1 12 25 11 3 11 12z"/>
<path class="q18" d="M538 788l-11-9 5-8 11 13zM662 884l-11-10-12-12-11 3-11-14-11-15-12-3 6 8 11 4 11 10 11 2 12 14 11 22 11 6zM752 958l-11 0-12-17 6 2 11 23 11-9zM797 1001l-11-11 5 7 12 14z"/>
<path class="q17" d="M594 833l-11-6 5-8 12 22zM684 896l-11 16-11-28 5 15 12 10 11 3z"/>
<path class="q20" d="M718 930l-11-24 5 25 12-2z"/>
<path class="q16" d="M808 1051l-11-50 6 10 11 20z"/>
<path class="q19" d="M521 780l-11-24 5-5 12 28zM544 785l-12-3 6 6 11-12zM578 822l-12-11-11-11 5-5 12 7 11 25zM611 846l-11-5 6-5 11 15zM656 893l-11-20-11-10-11-3 5 5 11-3 12 12 11 10zM702 922l-12 5-11-12-11-28 5 25 11-16 12 14 11-4zM747 966l-12-13 6 5 11 0z"/>
<path class="q18" d="M532 782l-11-2 6-1 11 9zM600 841l-11-7-11-12 5 5 11 6 12 3zM623 860l-12-14 6 5 11 14zM668 887l-12 6 6-9 11 28zM792 1015l-12-6-11-25 6-7 11 13 11 11z"/>
<path class="q20" d="M555 800l-11-15 5-9 11 19zM735 953l-11-26-11-2-11-3 5-16 11 24 11 11 12 17zM769 984l-11-17-11-1 5-8 11 5 12 14z"/>
<path class="q15" d="M803 1059l-11-44 5-14 11 50z"/>
<path class="q18" d="M572 840l-11-25-11-4-12-2-11-25-11 3-11-18 5-13 11 24 11 2 12 3 11 15 11 11 12 11zM617 864l-11-9-11-1 5-13 11 5 12 14zM674 923l-12-16-11-7 5-7 12-6 11 28zM764 997l-12-1 6-29 11 17z"/>
<path class="q17" d="M595 854l-12-1-11-13 6-18 11 12 11 7zM696 940l-11-6-11-11 5-8 11 12 12-5zM752 996l-11-13-11-12 5-18 12 13 11 1zM786 1010l-11-7-11-6 5-13 11 25 12 6z"/>
<path class="q19" d="M651 900l-11-29-11 1-12-8 6-4 11 3 11 10 11 20zM707 934l-11 6 6-18 11 3zM730 971l-11-20 5-24 11 26z"/>
<path class="q20" d="M719 951l-12-17 6-9 11 2z"/>
<path class="q15" d="M798 1033l-12-23 6 5 11 44z"/>
<path class="q16" d="M510 786l-11 12 6-29 11 18zM533 833l-11-37 5-12 11 25zM601 869l-12-6-11-13-11-13-12 0 6-22 11 25 11 13 12 1 11 1zM679 949l-11-31 6 5 11 11zM725 987l-12-26 6-10 11 20zM758 998l-11 11 5-13 12 1zM792 1040l-11-17 5-13 12 23z"/>
<path class="q17" d="M522 796l-12-10 6 1 11-3zM555 837l-11-19 6-7 11 4zM623 890l-11-19-11-2 5-14 11 9 12 8zM668 918l-11-5-11-7-12-11 6-24 11 29 11 7 12 16zM713 961l-11-3-11-5 5-13 11-6 12 17zM781 1023l-11-13-12-12 6-1 11 6 11 7z"/>
<path class="q15" d="M544 818l-11 15 5-24 12 2zM691 953l-12-4 6-15 11 6zM747 1009l-11-10-11-12 5-16 11 12 11 13z"/>
<path class="q18" d="M634 895l-11-5 6-18 11-1z"/>
<path class="q16" d="M505 783l-11-1 5 16 11-12zM528 799l-12-1 6-2 11 37zM618 877l-12 11-11-28-11-6-11-5-12-10-11-13 5 11 12 0 11 13 11 13 12 6 11 2 11 19zM652 917l-12-5-11-17 5 0 12 11 11 7zM674 930l-11-4 5-8 11 31zM719 970l-11 3-11-16-12-10 6 6 11 5 11 3 12 26zM787 1047l-11-42 5 18 11 17z"/>
<path class="q17" d="M516 798l-11-15 5 3 12 10zM550 826l-11-26-11-1 5 34 11-15 11 19zM629 895l-11-18 5 13 11 5zM663 926l-11-9 5-4 11 5zM753 982l-11 11 5 16 11-11zM776 1005l-12-1 6 6 11 13z"/>
<path class="q15" d="M685 947l-11-17 5 19 12 4zM742 993l-12-11-11-12 6 17 11 12 11 10z"/>
<path class="q18" d="M764 1004l-11-22 5 16 12 12z"/>
<path class="q18" d="M522 802l-11-6-11-25-12 4 6 7 11 1 11 15 12 1zM545 826l-12-28 6 2 11 26zM624 885l-12-3 6-5 11 18zM770 1016l-11-7-11-6-12-12 6 2 11-11 11 22 12 1z"/>
<path class="q19" d="M533 798l-11 4 6-3 11 1z"/>
<path class="q17" d="M567 847l-11-12-11-9 5 0 11 13 12 10zM612 882l-11-12 5 18 12-11zM691 954l-11-20-11-7-12 3-11-25-11-1-11-19 5 10 11 17 12 5 11 9 11 4 11 17 12 10zM736 991l-11-12-11-2 5-7 11 12 12 11z"/>
<path class="q16" d="M601 870l-11 3-12 3-11-29 6 2 11 5 11 6 11 28zM714 977l-12-17-11-6 6 3 11 16 11-3zM781 1045l-11-29 6-11 11 42z"/>
<path class="q18" d="M517 804l-12-17-11 2-11-17 5 3 12-4 11 25 11 6zM539 833l-11-27 5-8 12 28zM686 954l-11-15 5-5 11 20zM731 992l-11-23-12 2 6 6 11 2 11 12z"/>
<path class="q19" d="M528 806l-11-2 5-2 11-4z"/>
<path class="q16" d="M584 864l-11-7-11-5-11-2-12-17 6-7 11 9 11 12 11 29 12-3zM663 950l-11-21 5 1 12-3z"/>
<path class="q17" d="M652 929l-11-19-12-1-11-13-11-6-11-4-12-22 6 9 11-3 11 12 12 3 11 19 11 1 11 25zM675 939l-12 11 6-23 11 7zM708 971l-11-6-11-11 5 0 11 6 12 17zM765 1038l-12-27-11-12-11-7 5-1 12 12 11 6 11 7z"/>
<path class="q15" d="M776 1053l-11-15 5-22 11 29z"/>
<path class="q17" d="M500 799l-11 1-11-17 5-11 11 17 11-2zM579 883l-11-23-12-7 6-1 11 5 11 7zM624 906l-11-11-12-8 6 3 11 6 11 13zM703 977l-11-8-12-7-11-16 6-7 11 15 11 11 11 6zM748 1015l-11-10-12-1-11-19 6-16 11 23 11 7 11 12z"/>
<path class="q18" d="M534 821l-11 0-12-11-11-11 5-12 12 17 11 2 11 27zM647 924l-12-15-11-3 5 3 12 1 11 19zM714 985l-11-8 5-6 12-2z"/>
<path class="q16" d="M545 861l-11-40 5 12 12 17zM601 887l-11-4-11 0 5-19 12 22 11 4zM669 946l-11 2-11-24 5 5 11 21 12-11zM759 1038l-11-23 5-4 12 27z"/>
<path class="q15" d="M556 853l-11 8 6-11 11 2z"/>
<path class="q14" d="M771 1064l-12-26 6 0 11 15z"/>
<path class="q16" d="M517 834l-11-12-11-11-12-17-11-8 6-3 11 17 11-1 11 11 12 11zM551 847l-11 0-12-14 6-12 11 40 11-8zM585 876l-11-5-12-6 6-5 11 23 11 0zM630 929l-11-8 5-15 11 3zM686 959l-11 12-11-22 5-3 11 16 12 7zM720 992l-11 5-11-17 5-3 11 8 11 19zM754 1033l-11-10-12-15 6-3 11 10 11 23z"/>
<path class="q17" d="M528 833l-11 1 6-13 11 0zM562 865l-11-18 5 6 12 7zM619 921l-12-20-11-7-11-18 5 7 11 4 12 8 11 11zM664 949l-12-17-11 1-11-4 5-20 12 15 11 24 11-2zM698 980l-12-21 6 10 11 8zM731 1008l-11-16 5 12 12 1z"/>
<path class="q14" d="M765 1055l-11-22 5 5 12 26z"/>
<path class="q17" d="M489 807l-11-19-11-10 5 8 11 8 12 17zM546 843l-12 5-11-16-11-10 5 12 11-1 12 14 11 0zM636 912l-12 6-11-20-11-7-11-5-12-2-11-13-11-26 5 20 12 6 11 5 11 18 11 7 12 20 11 8 11 4zM692 978l-11-7-11-19-12-17 6 14 11 22 11-12 12 21zM737 1013l-11-11-11 4 5-14 11 16 12 15z"/>
<path class="q16" d="M512 822l-11-3-12-12 6 4 11 11 11 12zM715 1006l-12-14-11-14 6 2 11 17 11-5zM748 1033l-11-20 6 10 11 10z"/>
<path class="q18" d="M557 845l-11-2 5 4 11 18zM658 935l-11-13-11-10 5 21 11-1 12 17z"/>
<path class="q14" d="M760 1067l-12-34 6 0 11 22z"/>
<path class="q17" d="M506 818l-11 3-11-20-11 7-12-28 6-2 11 10 11 19 12 12 11 3zM687 968l-12-2 6 5 11 7zM721 1008l-12-19 6 17 11-4z"/>
<path class="q18" d="M529 819l-11 3-12-4 6 4 11 10 11 16zM585 871l-11 2-11-13 5 11 11 13 12 2zM630 928l-11-10 5 0 12-6zM675 966l-11-18 6 4 11 19zM709 989l-11-20-11-1 5 10 11 14 12 14zM743 1015l-11-3-11-4 5-6 11 11 11 20z"/>
<path class="q19" d="M563 860l-12-3-11-21-11-17 5 29 12-5 11 2 11 26zM597 889l-12-18 6 15 11 5zM619 918l-11-33 5 13 11 20zM642 926l-12 2 6-16 11 10zM664 948l-11-13 5 0 12 17z"/>
<path class="q20" d="M608 885l-11 4 5 2 11 7zM653 935l-11-9 5-4 11 13z"/>
<path class="q16" d="M754 1040l-11-25 5 18 12 34z"/>
<path class="q17" d="M478 799l-11-10-11-4 5-5 12 28 11-7zM501 832l-11-24 5 13 11-3zM636 954l-11-23 5-3 12-2zM749 1049l-11-27 5-7 11 25z"/>
<path class="q18" d="M490 808l-12-9 6 2 11 20zM512 826l-11 6 5-14 12 4zM580 894l-11-13 5-8 11-2zM625 931l-11-17 5 4 11 10zM659 955l-11-6-12 5 6-28 11 9 11 13zM738 1022l-12-3-11-17 6 6 11 4 11 3z"/>
<path class="q19" d="M524 834l-12-8 6-4 11-3zM569 881l-12-24-11 3-11-12 5-12 11 21 12 3 11 13zM591 895l-11-1 5-23 12 18zM614 914l-12-14 6-15 11 33zM715 1002l-11-22-11 3-12-10-11-17-11-1 5-7 11 18 12 2 11 1 11 20 12 19z"/>
<path class="q20" d="M535 848l-11-14 5-15 11 17zM602 900l-11-5 6-6 11-4z"/>
<path class="q18" d="M496 822l-12-16-11 4-11-16-12-12 6 3 11 4 11 10 12 9 11 24zM529 854l-11-6-11-9 5-13 12 8 11 14zM620 926l-12-5-11-15-11-2-12-13 6 3 11 1 11 5 12 14 11 17zM653 960l-11-13 6 2 11 6zM721 1016l-11-9-12 0-11-18-11-23 5 7 12 10 11-3 11 22 11 17z"/>
<path class="q17" d="M507 839l-11-17 5 10 11-6zM541 871l-12-17 6-6 11 12zM574 891l-11-4 6-6 11 13zM642 947l-11-10-11-11 5 5 11 23 12-5zM732 1032l-11-16 5 3 12 3z"/>
<path class="q19" d="M563 887l-11-32-11 16 5-11 11-3 12 24zM676 966l-11-6-12 0 6-5 11 1 11 17z"/>
<path class="q16" d="M744 1054l-12-22 6-10 11 27z"/>
<path class="q18" d="M479 810l-11-13-12-3-11-5 5-7 12 12 11 16 11-4zM501 840l-11-26 6 8 11 17zM580 896l-11-8-11-6-11-14-12 8 6-5 11-16 11 32 11 4 12 13zM625 932l-11 1-11-12 5 0 12 5 11 11zM682 991l-11-7-12-15 6-9 11 6 11 23zM716 1022l-12-19-11-9 5 13 12 0 11 9z"/>
<path class="q19" d="M490 814l-11-4 5-4 12 16zM603 921l-11-26-12 1 6 8 11 2 11 15zM659 969l-11-24-11-4-12-9 6 5 11 10 11 13 12 0z"/>
<path class="q17" d="M513 855l-12-15 6-1 11 9zM693 994l-11-3 5-2 11 18zM727 1047l-11-25 5-6 11 16z"/>
<path class="q16" d="M535 876l-11 0-11-21 5-7 11 6 12 17z"/>
<path class="q15" d="M738 1071l-11-24 5-15 12 22z"/>
<path class="q18" d="M451 798l-11-18 5 9 11 5zM507 831l-11-1-11 0 5-16 11 26 12 15zM541 856l-11 6 5 14 12-8zM620 944l-11-18-12-13 6 8 11 12 11-1zM665 982l-11-13 5 0 12 15zM688 1001l-12-7 6-3 11 3z"/>
<path class="q19" d="M485 830l-12-27-11-8-11 3 5-4 12 3 11 13 11 4zM597 913l-11 2-11-19-11-8-12-15-11-17 6 12 11 14 11 6 11 8 12-1 11 26zM631 944l-11 0 5-12 12 9zM654 969l-11-16 5-8 11 24zM710 1005l-11-20-11 16 5-7 11 9 12 19z"/>
<path class="q17" d="M519 860l-12-29 6 24 11 21zM676 994l-11-12 6 2 11 7zM721 1028l-11-23 6 17 11 25z"/>
<path class="q16" d="M530 862l-11-2 5 16 11 0z"/>
<path class="q20" d="M643 953l-12-9 6-3 11 4z"/>
<path class="q13" d="M733 1092l-12-64 6 19 11 24z"/>
<path class="q18" d="M446 794l-12-3 6-11 11 18zM491 824l-12 3 6 3 11 0zM524 851l-11 5-11-7 5-18 12 29 11 2zM581 905l-11 0 5-9 11 19zM682 1006l-11-16-11-15-12-11-11 8-11-20-11-8 5 0 11 0 12 9 11 16 11 13 11 12 12 7z"/>
<path class="q19" d="M457 796l-11-2 5 4 11-3zM479 827l-11-19 5-5 12 27zM502 849l-11-25 5 6 11 1zM570 905l-12-15-11-10-11-1-12-28 6 11 11-6 11 17 12 15 11 8zM592 908l-11-3 5 10 11-2zM615 944l-12-28 6 10 11 18zM694 996l-12 10 6-5 11-16zM716 1027l-11-14 5-8 11 23z"/>
<path class="q20" d="M468 808l-11-12 5-1 11 8zM603 916l-11-8 5 5 12 13zM705 1013l-11-17 5-11 11 20z"/>
<path class="q15" d="M727 1065l-11-38 5 1 12 64z"/>
<path class="q17" d="M440 809l-11-10 5-8 12 3zM553 907l-11-7-12-21 6 0 11 1 11 10zM677 1009l-11-14 5-5 11 16zM711 1048l-12-20 6-15 11 14z"/>
<path class="q18" d="M463 818l-12 2-11-11 6-15 11 2 11 12zM530 879l-11-15-11 0-12-17 6 2 11 7 11-5 12 28zM564 904l-11 3 5-17 12 15zM666 995l-12-8-11-15-11-2-12-22-11 3-11-12 5-23 12 28 11 8 11 20 11-8 12 11 11 15zM699 1028l-11-12-11-7 5-3 12-10 11 17z"/>
<path class="q19" d="M474 809l-11 9 5-10 11 19zM496 847l-11-16 6-7 11 25zM598 939l-11-7-12-20-11-8 6 1 11 0 11 3 11 8z"/>
<path class="q20" d="M485 831l-11-22 5 18 12-3z"/>
<path class="q16" d="M722 1053l-11-5 5-21 11 38z"/>
<path class="q16" d="M446 824l-11-8-12-11 6-6 11 10 11 11zM559 922l-12-13-11-2-11-16 5-12 12 21 11 7 11-3zM604 955l-11 1-12-17-11-1 5-26 12 20 11 7 11 12zM705 1043l-11-6-11-11-12-10 6-7 11 7 11 12 12 20z"/>
<path class="q17" d="M457 827l-11-3 5-4 12-2zM525 891l-11-12-12-15 6 0 11 0 11 15zM570 938l-11-16 5-18 11 8zM671 1016l-11-14-11-7-11-13-12-8-11-6-11-13 5-4 11-3 12 22 11 2 11 15 12 8 11 14z"/>
<path class="q18" d="M469 841l-12-14 6-9 11-9zM502 864l-11-24 5 7 12 17z"/>
<path class="q19" d="M491 840l-11 0-11 1 5-32 11 22 11 16z"/>
<path class="q15" d="M717 1072l-12-29 6 5 11 5z"/>
<path class="q16" d="M474 852l-11-1-11-14-11-16-12-12-11-3 5-1 12 11 11 8 11 3 12 14 11-1zM565 929l-12-17-11-6-11-11-11-2-12-8-11-3 5-18 12 15 11 12 11 16 11 2 12 13 11 16zM598 959l-11-7 6 4 11-1zM711 1055l-11-15-11-5-12-11-11-16 5 8 12 10 11 11 11 6 12 29z"/>
<path class="q18" d="M486 848l-12 4 6-12 11 0zM666 1008l-11-25-12 5 6 7 11 7 11 14z"/>
<path class="q17" d="M497 882l-11-34 5-8 11 24zM643 988l-11-15-11-3-11-15-12 4 6-4 11 13 11 6 12 8 11 13z"/>
<path class="q15" d="M587 952l-11-7-11-16 5 9 11 1 12 17z"/>
<path class="q18" d="M424 795l-11-13 5 24 11 3zM480 849l-11-7 5 10 12-4zM661 1011l-12-6-11-6 5-11 12-5 11 25z"/>
<path class="q17" d="M435 822l-11-27 5 14 12 12zM469 842l-11-12 5 21 11 1zM492 874l-12-25 6-1 11 34zM514 889l-11-22 5 18 12 8zM570 928l-11-6-11-2-11-19-12-1 6-5 11 11 11 6 12 17 11 16zM638 999l-11-16-11-4-12-11-11-9 5 0 12-4 11 15 11 3 11 15zM672 1024l-11-13 5-3 11 16zM706 1049l-12-14-11 7 6-7 11 5 11 15z"/>
<path class="q16" d="M458 830l-12-2-11-6 6-1 11 16 11 14zM503 867l-11 7 5 8 11 3zM525 900l-11-11 6 4 11 2zM593 959l-11-11-12-20 6 17 11 7 11 7zM683 1042l-11-18 5 0 12 11z"/>
<path class="q18" d="M475 853l-11-12-12-5-11-23-11 0-11-1-12-2 6-28 11 13 11 27 11 6 12 2 11 12 11 7zM509 883l-12-6 6-10 11 22zM588 948l-12-18-11 12 5-14 12 20 11 11zM644 1002l-11-26 5 23 11 6z"/>
<path class="q17" d="M497 877l-11-8-11-16 5-4 12 25 11-7zM565 942l-11-15-11-6-12-21-11-2-11-15 5 6 11 11 12 1 11 19 11 2 11 6zM610 981l-11-23-11-10 5 11 11 9 12 11zM633 976l-12 13 6-6 11 16zM666 1026l-11-13-11-11 5 3 12 6 11 13zM700 1058l-11-5 5-18 12 14z"/>
<path class="q16" d="M621 989l-11-8 6-2 11 4zM689 1053l-11-20-12-7 6-2 11 18 11-7z"/>
<path class="q17" d="M413 812l-11-12 5 10 12 2zM447 846l-11-1 5-32 11 23zM503 890l-11-5-11-16 5 0 11 8 12 6zM571 950l-11 0-12-27-11-8 6 6 11 6 11 15 11-12zM605 984l-12-18 6-8 11 23zM627 993l-11 1 5-5 12-13zM672 1044l-11-26 5 8 12 7z"/>
<path class="q18" d="M436 845l-12-28-11-5 6 0 11 1 11 0zM458 835l-11 11 5-10 12 5zM481 869l-12-18 6 2 11 16zM537 915l-11-12-11-16-12 3 6-7 11 15 11 2 12 21zM593 966l-11-6-11-10 5-20 12 18 11 10zM661 1018l-11-24-11 3-12-4 6-17 11 26 11 11 11 13z"/>
<path class="q19" d="M469 851l-11-16 6 6 11 12z"/>
<path class="q16" d="M616 994l-11-10 5-3 11 8zM684 1051l-12-7 6-11 11 20z"/>
<path class="q15" d="M695 1072l-11-21 5 2 11 5z"/>
<path class="q17" d="M430 833l-11-11-11-6-12-4 6-12 11 12 11 5 12 28zM475 881l-11-22 5-8 12 18zM509 905l-11-4 5-11 12-3zM622 994l-11-16-12 3-11-18-11-7-11-3-12-25 6 22 11 0 11 10 11 6 12 18 11 10 11-1zM678 1034l-11 0-11-6 5-10 11 26 12 7z"/>
<path class="q16" d="M442 845l-12-12 6 12 11 1zM498 901l-11-13-12-7 6-12 11 16 11 5zM689 1070l-11-36 6 17 11 21z"/>
<path class="q18" d="M464 859l-11-12-11-2 5 1 11-11 11 16zM554 928l-11-9-11 3-12-19-11 2 6-18 11 16 11 12 11 8 12 27zM633 994l-11 0 5-1 12 4zM656 1028l-12-10 6-24 11 24z"/>
<path class="q19" d="M644 1018l-11-24 6 3 11-3z"/>
<path class="q17" d="M402 799l-11 9 5 4 12 4zM504 893l-12-10-11-7-11-20 5 25 12 7 11 13 11 4zM594 971l-11 2-12-15 6-2 11 7 11 18z"/>
<path class="q18" d="M470 856l-11-5-12-8-11-7-11-6-11-17-12-14 6 17 11 6 11 11 12 12 11 2 11 12 11 22zM515 898l-11-5 5 12 11-2zM571 958l-11-33 6 28 11 3zM616 993l-11-15-11-7 5 10 12-3 11 16zM673 1050l-11-21-12-20-11-6 5 15 12 10 11 6 11 0z"/>
<path class="q19" d="M560 925l-11 0-11-14-12-11-11-2 5 5 12 19 11-3 11 9 12 25zM639 1003l-11-9-12-1 6 1 11 0 11 24z"/>
<path class="q16" d="M684 1080l-11-30 5-16 11 36z"/>
<path class="q19" d="M453 845l-11 3-11-14-12-19-11 3-11-14-11-20 5 24 11-9 12 14 11 17 11 6 11 7 12 8zM566 946l-11 4 5-25 11 33zM622 996l-11-17 5 14 12 1zM667 1030l-11-17 6 16 11 21z"/>
<path class="q20" d="M510 890l-12-9-11-11-11-12-11 4-12-17 6 6 11 5 11 20 11 7 12 10 11 5zM555 950l-12-27-11-16 6 4 11 14 11 0zM611 979l-11-18-11 0 5 10 11 7 11 15zM656 1013l-11-6-11-4-12-7 6-2 11 9 11 6 12 20z"/>
<path class="q21" d="M532 907l-11-15-11-2 5 8 11 2 12 11z"/>
<path class="q18" d="M589 961l-12 12-11-27 5 12 12 15 11-2z"/>
<path class="q17" d="M679 1058l-12-28 6 20 11 30z"/>
<path class="q20" d="M414 809l-11 3-12-21-11 0 6-7 11 20 11 14 11-3zM470 861l-11 0-11-15 5-1 12 17 11-4zM504 898l-11-9 5-8 12 9zM549 932l-11-15 5 6 12 27zM594 981l-11-10 6-10 11 0zM628 1005l-11-12-11-12 5-2 11 17 12 7z"/>
<path class="q21" d="M425 823l-11-14 5 6 12 19zM493 889l-11-22-12-6 6-3 11 12 11 11zM538 917l-11-2-12-7-11-10 6-8 11 2 11 15 11 16zM606 981l-12 0 6-20 11 18zM662 1020l-11-4-12-14-11 3 6-2 11 4 11 6 11 17z"/>
<path class="q19" d="M448 846l-11 3-12-26 6 11 11 14 11-3zM583 971l-11-10-11-7-12-22 6 18 11-4 11 27 12-12zM673 1055l-11-35 5 10 12 28z"/>
<path class="q20" d="M386 793l-11 9 5-11 11 0zM431 841l-11-20 5 2 12 26zM533 928l-12-9-11-11-11-11-11-7-12-1-11-20-11-13-12 5 6-15 11 15 11 0 12 6 11 22 11 9 11 10 12 7 11 2zM555 957l-11-23 5-2 12 22zM623 995l-11 7-12-12 6-9 11 12 11 12z"/>
<path class="q21" d="M420 821l-11-3-12-8-11-17 5-2 12 21 11-3 11 14zM544 934l-11-6 5-11 11 15zM657 1040l-12-24-11-4-11-17 5 10 11-3 12 14 11 4z"/>
<path class="q19" d="M442 861l-11-20 6 8 11-3zM600 990l-11-6-11-9-12-10-11-8 6-3 11 7 11 10 11 10 12 0zM668 1064l-11-24 5-20 11 35z"/>
<path class="q20" d="M381 799l-12 10 6-7 11-9zM403 825l-11-12 5-3 12 8zM460 888l-12-24-11-26-11 0 5 3 11 20 12-5 11 13zM493 898l-11-13-11-1 5 5 12 1 11 7zM538 937l-11 1-11-17-11-22 5 9 11 11 12 9 11 6zM617 999l-11 1-11-15 5 5 12 12 11-7zM651 1042l-11-11-11-16 5-3 11 4 12 24z"/>
<path class="q21" d="M392 813l-11-14 5-6 11 17zM426 838l-11-10-12-3 6-7 11 3 11 20zM505 899l-12-1 6-1 11 11zM629 1015l-12-16 6-4 11 17z"/>
<path class="q19" d="M471 884l-11 4 5-19 11 20zM595 985l-11-4-12-14-11-10-11 2-12-22 6-3 11 23 11 8 12 10 11 9 11 6z"/>
<path class="q18" d="M662 1055l-11-13 6-2 11 24z"/>
<path class="q19" d="M375 798l-11 8 5 3 12-10zM465 877l-11-3-11-18 5 8 12 24 11-4z"/>
<path class="q20" d="M398 816l-11 1-12-19 6 1 11 14 11 12zM556 952l-12-5-11-15-11-8-11-1-12-14-11 0-11-18-12-14 6 7 11 1 11 13 12 1 11 22 11 17 11-1 12 22 11-2zM589 984l-11-9-11-16 5 8 12 14 11 4zM657 1049l-11-21-11 0-12-12 6-1 11 16 11 11 11 13z"/>
<path class="q21" d="M409 819l-11-3 5 9 12 3zM443 856l-11-17 5-1 11 26zM567 959l-11-7 5 5 11 10zM623 1016l-11-18-11-12-12-2 6 1 11 15 11-1 12 16z"/>
<path class="q22" d="M432 839l-12-12-11-8 6 9 11 10 11 0z"/>
<path class="q20" d="M370 804l-11-8 5 10 11-8zM460 873l-11 7-11-15 5-9 11 18 11 3zM483 909l-12-25 6 7 11 18zM505 927l-11-7 5-11 12 14zM584 999l-11-27 5 3 11 9zM629 1022l-11-7-11 3 5-20 11 18 12 12z"/>
<path class="q21" d="M392 819l-11-10-11-5 5-6 12 19 11-1zM438 865l-12-8-11-10 5-20 12 12 11 17zM471 884l-11-11 5 4 12 14zM573 972l-12-13-11 6-11-23-11 8-12-31-11 8 6-4 11 1 11 8 11 15 12 5 11 7 11 16zM607 1018l-12-22-11 3 5-15 12 2 11 12zM640 1040l-11-18 6 6 11 0z"/>
<path class="q22" d="M415 847l-11-26-12-2 6-3 11 3 11 8z"/>
<path class="q19" d="M494 920l-11-11 5 0 11 0zM652 1071l-12-31 6-12 11 21z"/>
<path class="q20" d="M410 858l-12-21-11 6-11-18-12-2-11-24 6-3 11 8 11 5 11 10 12 2 11 26zM455 885l-12-14-11-3 6-3 11 15 11-7zM477 908l-11-12 5-12 12 25zM534 962l-12-19-11-8-11-6 5-2 11-8 12 31 11-8zM567 987l-11 8 5-36 12 13zM635 1046l-11-4-12-14 6-13 11 7 11 18z"/>
<path class="q19" d="M432 868l-11 0-11-10 5-11 11 10 12 8zM500 929l-12-3-11-18 6 1 11 11 11 7zM545 990l-11-28 5-20 11 23zM612 1028l-11-7-11-14-11-5-12-15 6-15 11 27 11-3 12 22 11-3z"/>
<path class="q21" d="M466 896l-11-11 5-12 11 11z"/>
<path class="q18" d="M556 995l-11-5 5-25 11-6z"/>
<path class="q17" d="M646 1087l-11-41 5-6 12 31z"/>
<path class="q18" d="M404 865l-11-16-11-6-12-15-11-4-11-11 5-14 11 24 12 2 11 18 11-6 12 21zM427 876l-12 9 6-17 11 0zM528 962l-11 5-11-11-12-6 6-21 11 6 11 8 12 19zM618 1051l-11-14-11-13-12-7-11-14-11 10 5-26 12 15 11 5 11 14 11 7 12 14z"/>
<path class="q17" d="M415 885l-11-20 6-7 11 10zM494 950l-11-13 5-11 12 3zM562 1013l-11-33-12 3-11-21 6 0 11 28 11 5 11-8zM630 1068l-12-17 6-9 11 4z"/>
<path class="q19" d="M483 937l-11-30-11 2-12-7-11-10-11-16 5-8 11 3 12 14 11 11 11 12 11 18z"/>
<path class="q16" d="M641 1075l-11-7 5-22 11 41z"/>
<path class="q18" d="M376 842l-11-8-11-18-12-9 6 6 11 11 11 4 12 15zM399 867l-12-26 6 8 11 16zM444 904l-11-13-12-13 6-2 11 16 11 10zM478 931l-12-18-11 7 6-11 11-2 11 30zM545 997l-11-25-11 10 5-20 11 21 12-3zM579 1016l-11-7 5-6 11 14z"/>
<path class="q19" d="M387 841l-11 1 6 1 11 6z"/>
<path class="q17" d="M421 878l-11 3-11-14 5-2 11 20 12-9zM455 920l-11-16 5-2 12 7zM523 982l-12-20-11-7-11-10-11-14 5 6 11 13 12 6 11 11 11-5zM568 1009l-11-8-12-4 6-17 11 33 11-10zM613 1056l-11-20-12 3-11-23 5 1 12 7 11 13 11 14z"/>
<path class="q16" d="M624 1064l-11-8 5-5 12 17z"/>
<path class="q15" d="M635 1101l-11-37 6 4 11 7z"/>
<path class="q18" d="M360 832l-12 3-11-26 5-2 12 9 11 18zM438 915l-11-27-11-8-11-13-12-12 6 12 11 14 11-3 12 13 11 13zM506 969l-11-28-11-2-12-2-11-21-11-2 5 6 11-7 12 18 11 14 11 10 11 7zM562 1006l-11-11 6 6 11 8zM607 1049l-11-17-11 0-11-26 5 10 11 23 12-3 11 20z"/>
<path class="q19" d="M393 855l-11-7-11-19-11 3 5 2 11 8 11-1 12 26zM574 1006l-12 0 6 3 11 7z"/>
<path class="q17" d="M450 914l-12 1 6-11 11 16zM551 995l-11 0-11-10-12-2 6-1 11-10 11 25 12 4zM619 1064l-12-15 6 7 11 8z"/>
<path class="q16" d="M517 983l-11-14 5-7 12 20z"/>
<path class="q15" d="M630 1078l-11-14 5 0 11 37z"/>
<path class="q17" d="M354 843l-11-3-11-25 5-6 11 26 12-3zM444 921l-11-18 5 12 12-1zM512 981l-11-21 5 9 11 14zM546 1011l-12-15-11-5 6-6 11 10 11 0zM625 1081l-12-19-11-8 5-5 12 15 11 14z"/>
<path class="q19" d="M410 887l-11-21-11-10-11-4-12-14-11 5 6-11 11-3 11 19 11 7 12 12 11 13zM478 924l-11 1 5 12 12 2zM501 960l-12-22 6 3 11 28zM580 1027l-12-15-11-5 5-1 12 0 11 26z"/>
<path class="q18" d="M433 903l-11-14-12-2 6-7 11 8 11 27zM467 925l-11-2-12-2 6-7 11 2 11 21zM557 1007l-11 4 5-16 11 11zM602 1054l-11-10-11-17 5 5 11 0 11 17z"/>
<path class="q20" d="M489 938l-11-14 6 15 11 2z"/>
<path class="q16" d="M523 991l-11-10 5 2 12 2z"/>
<path class="q18" d="M337 830l-11-15 6 0 11 25zM450 916l-11 2 5 3 12 2zM518 971l-11 4 5 6 11 10zM552 1011l-12-15-11-21 5 21 12 15 11-4zM608 1069l-11-33-12 3-11-17 6 5 11 17 11 10 11 8z"/>
<path class="q17" d="M349 833l-12-3 6 10 11 3zM439 918l-11-7 5-8 11 18zM507 975l-12-2 6-13 11 21z"/>
<path class="q19" d="M428 911l-12-27-11-6-11-1-11-22-12-6-11-13-11-3 5 10 11-5 12 14 11 4 11 10 11 21 12 2 11 14zM461 929l-11-13 6 7 11 2zM495 973l-11-30 5-5 12 22zM529 975l-11-4 5 20 11 5zM574 1022l-11-5-11-6 5-4 11 5 12 15z"/>
<path class="q20" d="M484 943l-11-9-12-5 6-4 11-1 11 14z"/>
<path class="q16" d="M619 1086l-11-17 5-7 12 19z"/>
<path class="q19" d="M343 826l-11-3-11-7 5-1 11 15 12 3zM400 874l-12-7-11-3-11-14 5-1 12 6 11 22 11 1zM422 905l-11-14 5-7 12 27zM490 955l-11-16-12 10-11-16-11-11 5-6 11 13 12 5 11 9 11 30zM591 1043l-11-5-11-25 5 9 11 17 12-3z"/>
<path class="q20" d="M366 850l-11-22-12-2 6 7 11 3 11 13zM411 891l-11-17 5 4 11 6zM512 959l-11 3 6 13 11-4zM535 995l-11-22 5 2 11 21zM569 1013l-12-1 6 5 11 5z"/>
<path class="q17" d="M433 925l-11-20 6 6 11 7z"/>
<path class="q18" d="M445 922l-12 3 6-7 11-2zM501 962l-11-7 5 18 12 2zM557 1012l-11 5-11-22 5 1 12 15 11 6zM603 1066l-12-23 6-7 11 33z"/>
<path class="q21" d="M524 973l-12-14 6 12 11 4z"/>
<path class="q16" d="M614 1093l-11-27 5 3 11 17z"/>
<path class="q19" d="M327 821l-12-6 6 1 11 7zM428 915l-11-25 5 15 11 20zM473 947l-11-8-11-23-12 7 6-1 11 11 11 16 12-10zM552 1013l-11-1-11-20 5 3 11 22 11-5zM597 1055l-11-13-11-1-12-13 6-15 11 25 11 5 12 23z"/>
<path class="q20" d="M338 823l-11-2 5 2 11 3zM372 843l-12 7 6 0 11 14zM417 890l-11-18-12 9-11-25 5 11 12 7 11 17 11 14zM496 969l-12-12-11-10 6-8 11 16 11 7zM530 992l-12-12 6-7 11 22zM563 1028l-11-15 5-1 12 1z"/>
<path class="q21" d="M360 850l-11-22-11-5 5 3 12 2 11 22zM383 856l-11-13 5 21 11 3zM507 960l-11 9 5-7 11-3z"/>
<path class="q18" d="M439 923l-11-8 5 10 12-3z"/>
<path class="q22" d="M518 980l-11-20 5-1 12 14z"/>
<path class="q17" d="M608 1082l-11-27 6 11 11 27z"/>
<path class="q20" d="M321 815l-11-17 5 17 12 6zM434 898l-11 8-12-16 6 0 11 25 11 8zM490 957l-11-11-11-4 5 5 11 10 12 12zM547 1000l-12 3-11-5-11-24 5 6 12 12 11 20 11 1zM580 1046l-11-17-11-16 5 15 12 13 11 1z"/>
<path class="q21" d="M411 890l-11-3-11-13-11-10-12-4-11-17-11-11-11-7-12-10 6 6 11 2 11 5 11 22 12-7 11 13 11 25 12-9 11 18zM468 942l-12-22-11-5-11-17 5 25 12-7 11 23 11 8zM558 1013l-11-13 5 13 11 15z"/>
<path class="q22" d="M513 974l-11-31-12 14 6 12 11-9 11 20z"/>
<path class="q19" d="M592 1063l-12-17 6-4 11 13z"/>
<path class="q17" d="M603 1109l-11-46 5-8 11 27z"/>
<path class="q23" d="M316 800l-11-16 5 14 11 17z"/>
<path class="q21" d="M350 853l-12-14-11-9-11-30 5 15 12 10 11 7 11 11zM429 914l-12-9-11-8-11-11-12-12-11-7 6-3 11 10 11 13 11 3 12 16 11-8zM474 945l-12-2-11-14 5-9 12 22 11 4zM519 989l-12-14 6-1 11 24zM564 1034l-11-11-12-17-11-4 5 1 12-3 11 13 11 16z"/>
<path class="q20" d="M372 867l-11-9-11-5 5-10 11 17 12 4zM530 1002l-11-13 5 9 11 5zM575 1036l-11-2 5-5 11 17z"/>
<path class="q22" d="M451 929l-11-5-11-10 5-16 11 17 11 5zM507 975l-11 5-11-20-11-15 5 1 11 11 12-14 11 31z"/>
<path class="q19" d="M586 1063l-11-27 5 10 12 17z"/>
<path class="q17" d="M598 1074l-12-11 6 0 11 46z"/>
<path class="q22" d="M310 814l-11 1 6-31 11 16zM389 876l-11-8 5 6 12 12zM547 998l-11 0-11-16-12-1-11-7 5 1 12 14 11 13 11 4 12 17z"/>
<path class="q21" d="M322 831l-12-17 6-14 11 30zM378 868l-11 7 5-8 11 7zM401 907l-12-31 6 10 11 11zM446 944l-12-24-11-8-11-2 5-5 12 9 11 10 11 5zM479 960l-11-8-11-3 5-6 12 2 11 15zM502 974l-11 6 5 0 11-5zM570 1038l-12 0-11-40 6 25 11 11 11 2z"/>
<path class="q20" d="M367 875l-11-11-12-9-11-7-11-17 5-1 11 9 12 14 11 5 11 9zM412 910l-11-3 5-10 11 8zM457 949l-11-5 5-15 11 14zM491 980l-12-20 6 0 11 20zM581 1051l-11-13 5-2 11 27z"/>
<path class="q19" d="M592 1085l-11-34 5 12 12 11z"/>
<path class="q20" d="M316 843l-11-18-11-2 5-8 11-1 12 17zM361 875l-11-14-11-10 5 4 12 9 11 11zM418 914l-12 5-11-26 6 14 11 3 11 2zM452 953l-12-15 6 6 11 5zM564 1043l-11 4 5-9 12 0z"/>
<path class="q19" d="M339 851l-11 1-12-9 6-12 11 17 11 7z"/>
<path class="q21" d="M373 878l-12-3 6 0 11-7zM395 893l-11-3 5-14 12 31zM440 938l-11-15-11-9 5-2 11 8 12 24zM508 1008l-11-21-12-23-11 5-11-17-11 1 5-4 11 3 11 8 12 20 11-6 11 7zM553 1047l-11-26 5-23 11 40zM576 1061l-12-18 6-5 11 13z"/>
<path class="q22" d="M384 890l-11-12 5-10 11 8zM542 1021l-12 1-11-31-11 17 5-27 12 1 11 16 11 0z"/>
<path class="q18" d="M587 1084l-11-23 5-10 11 34z"/>
<path class="q19" d="M300 828l-12-2 6-3 11 2zM345 875l-12-7-11-19-11-13 5 7 12 9 11-1 11 10zM536 1038l-11-7 5-9 12-1z"/>
<path class="q20" d="M311 836l-11-8 5-3 11 18zM469 976l-12-6-11-19-11-1-11-12-12-13-11-7-11-16-11 9-12-24-11-22-11 10 5-14 11 14 12 3 11 12 11 3 11 26 12-5 11 9 11 15 12 15 11-1 11 17zM525 1031l-11-11-12-10-11-27 6 4 11 21 11-17 11 31zM570 1058l-11-17-11-3-12 0 6-17 11 26 11-4 12 18z"/>
<path class="q21" d="M491 983l-11-10-11 3 5-7 11-5 12 23z"/>
<path class="q18" d="M581 1089l-11-31 6 3 11 23z"/>
<path class="q19" d="M317 861l-12-4-11-15-11-25 5 9 12 2 11 8 11 13zM351 890l-12-18 6 3 11-10zM384 905l-11-3-11-12 5-3 12 24 11-9zM463 977l-11-14-11 4-12-17-11-11-11-4-11-20 5 3 11 7 12 13 11 12 11 1 11 19 12 6zM508 1026l-11-23-11 5 5-25 11 27 12 10zM565 1076l-12-11-11-18-11-10-11-8 5 2 11 7 12 0 11 3 11 17z"/>
<path class="q18" d="M339 872l-11 12-11-23 5-12 11 19 12 7zM520 1029l-12-3 6-6 11 11z"/>
<path class="q20" d="M362 890l-11 0 5-25 11 22zM396 915l-12-10 6-3 11 16zM486 1008l-11-24-12-7 6-1 11-3 11 10z"/>
<path class="q17" d="M576 1099l-11-23 5-18 11 31z"/>
<path class="q19" d="M289 839l-11-12 5-10 11 25zM390 932l-11-20-11 2 5-12 11 3 12 10zM469 1000l-11-16-11-7 5-14 11 14 12 7zM492 1012l-12-9 6 5 11-5z"/>
<path class="q18" d="M311 854l-11-12-11-3 5 3 11 15 12 4zM368 914l-12 0 6-24 11 12zM447 977l-12-9-11-3-11-8-11-13-12-12 6-17 11 20 11 4 11 11 12 17 11-4zM480 1003l-11-3 6-16 11 24zM503 1038l-11-26 5-9 11 23zM559 1077l-11-12-11 1 5-19 11 18 12 11z"/>
<path class="q17" d="M323 886l-12-32 6 7 11 23zM356 914l-11-8-11-9 5-25 12 18 11 0zM537 1066l-12-6-11-18-11-4 5-12 12 3 11 8 11 10zM571 1087l-12-10 6-1 11 23z"/>
<path class="q16" d="M334 897l-11-11 5-2 11-12z"/>
<path class="q18" d="M306 874l-11-11-12-23-11 4 6-17 11 12 11 3 11 12zM385 945l-11-27-12 7 6-11 11-2 11 20zM475 1015l-11-20 5 5 11 3z"/>
<path class="q17" d="M317 878l-11-4 5-20 12 32zM419 977l-12-29-11 4-11-7 5-13 12 12 11 13 11 8zM464 995l-12 14-11-21-11 0 5-20 12 9 11 7 11 16zM486 1035l-11-20 5-12 12 9zM509 1040l-11-4 5 2 11 4z"/>
<path class="q15" d="M340 908l-12 0-11-30 6 8 11 11 11 9zM531 1070l-11-3 5-7 12 6zM565 1134l-11-37 5-20 12 10z"/>
<path class="q16" d="M362 925l-11-16-11-1 5-2 11 8 12 0zM430 988l-11-11 5-12 11 3zM498 1036l-12-1 6-23 11 26zM520 1067l-11-27 5 2 11 18zM554 1097l-11-12-12-15 6-4 11-1 11 12z"/>
<path class="q16" d="M278 867l-11-20 5-3 11-4zM368 927l-11 7-11-25-12 2 6-3 11 1 11 16 12-7zM391 960l-12-26 6 11 11 7zM413 985l-11-26 5-11 12 29zM436 993l-11-19 5 14 11 0zM458 1006l-11 3 5 0 12-14zM481 1019l-11 5 5-9 11 20zM503 1062l-11-31 6 5 11 4z"/>
<path class="q17" d="M312 889l-11-25-12-12-11 15 5-27 12 23 11 11 11 4zM379 934l-11-7 6-9 11 27zM402 959l-11 1 5-8 11-4zM470 1024l-12-18 6-11 11 20zM492 1031l-11-12 5 16 12 1z"/>
<path class="q15" d="M334 911l-11-5-11-17 5-11 11 30 12 0zM425 974l-12 11 6-8 11 11zM447 1009l-11-16 5-5 11 21zM537 1088l-11-23-11 4-12-7 6-22 11 27 11 3 12 15z"/>
<path class="q14" d="M548 1101l-11-13 6-3 11 12z"/>
<path class="q12" d="M560 1137l-12-36 6-4 11 37z"/>
<path class="q17" d="M306 884l-11-6-11-18-11-10-12-18 6 15 11 20 11-15 12 12 11 25zM340 894l-11 14 5 3 12-2zM385 952l-11-12 5-6 12 26zM408 958l-11 3 5-2 11 26zM475 1016l-11-3-11-19-11 1 5 14 11-3 12 18 11-5zM498 1038l-11-5 5-2 11 31z"/>
<path class="q16" d="M318 894l-12-10 6 5 11 17zM397 961l-12-9 6 8 11-1zM442 995l-12-8-11-1-11-28 5 27 12-11 11 19 11 16zM532 1074l-11-9-12-11-11-16 5 24 12 7 11-4 11 23z"/>
<path class="q15" d="M329 908l-11-14 5 12 11 5zM543 1096l-11-22 5 14 11 13z"/>
<path class="q18" d="M374 940l-11-26-12-7-11-13 6 15 11 25 11-7 11 7zM487 1033l-12-17 6 3 11 12z"/>
<path class="q12" d="M554 1131l-11-35 5 5 12 36z"/>
<path class="q18" d="M267 852l-11-13 5-7 12 18zM369 937l-12-16 6-7 11 26zM504 1059l-11-25-12-5-11-6-11-4-11-17-12 5 6-12 11-1 11 19 11 3 12 17 11 5 11 16z"/>
<path class="q17" d="M278 867l-11-15 6-2 11 10zM324 906l-12-16-11-8 5 2 12 10 11 14zM436 1007l-11-30-11 2-12-5-11-16-11-10-11-11 5 3 11 12 12 9 11-3 11 28 11 1 12 8zM538 1081l-12-2-11-7-11-13 5-5 12 11 11 9 11 22z"/>
<path class="q16" d="M301 882l-11 4-12-19 6-7 11 18 11 6z"/>
<path class="q19" d="M335 877l-11 29 5 2 11-14z"/>
<path class="q21" d="M346 892l-11-15 5 17 11 13z"/>
<path class="q20" d="M357 921l-11-29 5 15 12 7z"/>
<path class="q15" d="M549 1112l-11-31 5 15 11 35z"/>
<path class="q18" d="M262 853l-11-10 5-4 11 13zM329 919l-11-7 6-6 11-29zM386 954l-12-4-11-17 6 4 11 11 11 10zM476 1029l-11 3 5-9 11 6zM498 1052l-11-18 6 0 11 25z"/>
<path class="q17" d="M318 912l-11-16-11-12-12-22-11 11-11-20 5-1 11 15 12 19 11-4 11 8 12 16zM465 1032l-12 1-11-25-11-3-11-10-12-16-11-4-11-21 5 4 11 16 12 5 11-2 11 30 12-5 11 17 11 4zM510 1065l-12-13 6 7 11 13z"/>
<path class="q20" d="M352 921l-11-7-12 5 6-42 11 15 11 29z"/>
<path class="q19" d="M363 933l-11-12 5 0 12 16zM487 1034l-11-5 5 0 12 5z"/>
<path class="q16" d="M544 1101l-12-9-11-1-11-26 5 7 11 7 12 2 11 31z"/>
<path class="q18" d="M256 843l-11 4 6-4 11 10zM358 946l-11-20-12 4-11-34 5 23 12-5 11 7 11 12zM504 1058l-11 2 5-8 12 13z"/>
<path class="q17" d="M301 895l-11-6-11-8-11-15-12-23 6 10 11 20 11-11 12 22 11 12zM324 896l-11 16 5 0 11 7zM437 1013l-12-7-11-27-11 5-11-15-12-6-11-10-11-7 5-13 11 17 12 4 11 21 11 4 12 16 11 10 11 3zM493 1060l-11 2-11-16-12-11 6-3 11-3 11 5 11 18zM538 1089l-11-5-11-9-12-17 6 7 11 26 11 1 12 9z"/>
<path class="q16" d="M313 912l-12-17 6 1 11 16zM459 1035l-11-13-11-9 5-5 11 25 12-1z"/>
<path class="q19" d="M251 856l-11-28 5 19 11-4zM330 913l-11-16 5-1 11 34zM397 966l-11-9 6 12 11 15zM510 1072l-11-17 5 3 12 17z"/>
<path class="q18" d="M274 875l-12-23-11 4 5-13 12 23 11 15zM319 897l-12 8 6 7 11-16zM341 934l-11-21 5 17 12-4zM386 957l-11 5 5 1 12 6zM420 995l-11 2-12-31 6 18 11-5 11 27zM476 1036l-11-13 6 23 11 16zM499 1055l-11 2 5 3 11-2z"/>
<path class="q17" d="M307 905l-11-19-11 4-11-15 5 6 11 8 11 6 12 17zM375 962l-11-11-12-7-11-10 6-8 11 20 11 7 11 10zM465 1023l-11 9-11-10-12-3-11-24 5 11 12 7 11 9 11 13 12 11zM488 1057l-12-21 6 26 11-2zM521 1097l-11-25 6 3 11 9z"/>
<path class="q16" d="M533 1120l-12-23 6-13 11 5z"/>
<path class="q19" d="M246 846l-12-5 6-13 11 28zM291 860l-12 32 6-2 11-4zM347 940l-11-36 5 30 11 10zM415 988l-12-12-11-3 5-7 12 31 11-2zM460 1030l-12-12-11-13 6 17 11 10 11-9zM494 1051l-12-1 6 7 11-2z"/>
<path class="q20" d="M268 853l-11-11-11 4 5 10 11-4 12 23zM336 904l-12 12-11-22-11-5-11-29 5 26 11 19 12-8 11 16 11 21zM392 973l-11-28-11 5 5 12 11-5 11 9zM482 1050l-11-27-11 7 5-7 11 13 12 21zM505 1065l-11-14 5 4 11 17z"/>
<path class="q18" d="M279 892l-11-39 6 22 11 15zM370 950l-12 8 6-7 11 11zM437 1005l-11-8-11-9 5 7 11 24 12 3zM516 1084l-11-19 5 7 11 25z"/>
<path class="q17" d="M358 958l-11-18 5 4 12 7z"/>
<path class="q16" d="M527 1108l-11-24 5 13 12 23z"/>
<path class="q19" d="M240 840l-11-1 5 2 12 5zM364 950l-11-17-11 0 5 7 11 18 12-8zM511 1072l-12 0 6-7 11 19z"/>
<path class="q21" d="M251 834l-11 6 6 6 11-4zM308 898l-11-8-12-21-11-1 5 24 12-32 11 29 11 5zM443 1013l-11-18-12-9 6 11 11 8 11 13z"/>
<path class="q22" d="M263 861l-12-27 6 8 11 11z"/>
<path class="q20" d="M274 868l-11-7 5-8 11 39zM342 933l-12-10-11-6-11-19 5-4 11 22 12-12 11 36zM420 986l-11 5-11-9-11-12-12-1-11-19 6 0 11-5 11 28 11 3 12 12 11 9zM499 1072l-11-23-11-6-11-6-12-4-11-20 5 5 12 12 11-7 11 27 12 1 11 14z"/>
<path class="q17" d="M522 1117l-11-45 5 12 11 24z"/>
<path class="q20" d="M235 853l-12-18 6 4 11 1zM269 872l-12-3 6-8 11 7zM302 905l-11-20 6 5 11 8zM347 944l-11-9 6-2 11 0zM404 986l-11-6-12-9-11-15-11-17 5 11 11 19 12 1 11 12 11 9zM471 1043l-11-4-11-14-11-14 5 2 11 20 12 4 11 6zM505 1082l-11-27 5 17 12 0z"/>
<path class="q21" d="M257 869l-11-13-11-3 5-13 11-6 12 27zM291 885l-11-10-11-3 5-4 11 1 12 21zM359 939l-12 5 6-11 11 17zM438 1011l-12-4-11-14-11-7 5 5 11-5 12 9 11 18zM494 1055l-11-6-12-6 6 0 11 6 11 23z"/>
<path class="q19" d="M336 935l-11-6-11-4-12-20 6-7 11 19 11 6 12 10z"/>
<path class="q18" d="M517 1098l-12-16 6-10 11 45z"/>
<path class="q19" d="M229 845l-11 1 5-11 12 18zM320 919l-12 2 6 4 11 4z"/>
<path class="q20" d="M252 853l-11 4-12-12 6 8 11 3 11 13zM308 921l-11-30 5 14 12 20zM342 938l-11-2-11-17 5 10 11 6 11 9zM387 980l-11-14 5 5 12 9zM455 1037l-12-5 6-7 11 14zM500 1088l-11-30 5-3 11 27z"/>
<path class="q21" d="M297 891l-11-9-12 5-11-20-11-14 5 16 12 3 11 3 11 10 11 20zM376 966l-11-9-12-2-11-17 5 6 12-5 11 17 11 15zM443 1032l-11-16-11-8-11-11-12-16-11-1 6 0 11 6 11 7 11 14 12 4 11 14zM489 1058l-12 6-11-21-11-6 5 2 11 4 12 6 11 6z"/>
<path class="q18" d="M511 1113l-11-25 5-6 12 16z"/>
<path class="q20" d="M224 828l-11 12 5 6 11-1zM325 928l-11 5-11-28 5 16 12-2 11 17z"/>
<path class="q22" d="M235 841l-11-13 5 17 12 12zM292 890l-12 4 6-12 11 9zM427 1006l-11-10-12-9-11-12-11-13-12 5 6-1 11 14 11 1 12 16 11 11 11 8z"/>
<path class="q21" d="M280 894l-11-17-11 2-12-14-11-24 6 16 11-4 11 14 11 20 12-5zM303 905l-11-15 5 1 11 30zM370 967l-11-4-11-21-11-3-12-11 6 8 11 2 11 17 12 2 11 9zM494 1077l-11-16-11-1-11-20-12-13-11-8-11-13 5 10 11 16 12 5 11 6 11 21 12-6 11 30z"/>
<path class="q18" d="M506 1105l-12-28 6 11 11 25z"/>
<path class="q22" d="M219 840l-12-12 6 12 11-12zM241 862l-11-21 5 0 11 24zM297 907l-11-10-11-20-11-4 5 4 11 17 12-4 11 15zM354 946l-11-10-12-2-11-12 5 6 12 11 11 3 11 21zM376 970l-11-3 5 0 12-5zM421 1009l-11-1-11-15 5-6 12 9 11 10zM455 1044l-11-17 5 0 12 13z"/>
<path class="q23" d="M230 841l-11-1 5-12 11 13zM399 993l-11-26-12 3 6-8 11 13 11 12zM444 1027l-11-19-12 1 6-3 11 13 11 8z"/>
<path class="q21" d="M264 873l-12-2-11-9 5 3 12 14 11-2zM320 922l-11-9-12-6 6-2 11 28 11-5zM365 967l-11-21 5 17 11 4zM489 1071l-11 2-11-17-12-12 6-4 11 20 11 1 11 16z"/>
<path class="q20" d="M500 1093l-11-22 5 6 12 28z"/>
<path class="q21" d="M236 869l-12-14-11-5-11-22 5 0 12 12 11 1 11 21zM258 886l-11 0 5-15 12 2zM292 906l-11 6-12-15 6-20 11 20 11 10zM416 1023l-11 0-12-31 6 1 11 15 11 1zM461 1058l-11-9 5-5 12 12z"/>
<path class="q20" d="M247 886l-11-17 5-7 11 9zM495 1110l-11-32-12 7-11-27 6-2 11 17 11-2 11 22z"/>
<path class="q22" d="M269 897l-11-11 6-13 11 4zM303 918l-11-12 5 1 12 6zM371 973l-11-3-12-8-11-19 6-7 11 10 11 21 11 3zM427 1030l-11-7 5-14 12-1zM450 1049l-11-20 5-2 11 17z"/>
<path class="q23" d="M337 943l-11-9-11-26-12 10 6-5 11 9 11 12 12 2zM393 992l-11-11-11-8 5-3 12-3 11 26zM439 1029l-12 1 6-22 11 19z"/>
<path class="q19" d="M208 865l-12-6 6-31 11 22zM275 926l-11-6-11-16-11-9-12-13 6-13 11 17 11 0 11 11 12 15zM343 985l-11-3 5-39 11 19zM411 1031l-12 9-11-23 5-25 12 31 11 0zM490 1113l-12-24-11-2-11-17 5-12 11 27 12-7 11 32z"/>
<path class="q20" d="M230 882l-11-18-11 1 5-15 11 5 12 14zM298 940l-11-18-12 4 6-14 11-6 11 12zM332 982l-12-29 6-19 11 9zM354 981l-11 4 5-23 12 8zM388 1017l-11-10 5-26 11 11zM422 1048l-11-17 5-8 11 7zM456 1070l-12-8 6-13 11 9z"/>
<path class="q21" d="M320 953l-11-5-11-8 5-22 12-10 11 26zM377 1007l-11-20-12-6 6-11 11 3 11 8zM444 1062l-11-21-11 7 5-18 12-1 11 20z"/>
<path class="q17" d="M202 874l-11-16 5 1 12 6zM281 941l-11-4-11-19-12-10 6-4 11 16 11 6 12-4zM304 957l-12 2 6-19 11 8zM338 987l-12-9 6 4 11 3zM428 1076l-12-7-11-26 6-12 11 17 11-7zM473 1112l-11-12 5-13 11 2z"/>
<path class="q18" d="M247 908l-11-11-11-12-11-4-12-7 6-9 11-1 11 18 12 13 11 9zM292 959l-11-18 6-19 11 18zM326 978l-11-19 5-6 12 29zM349 999l-11-12 5-2 11-4zM405 1043l-11-19-11-11-12 11-11-26 6-11 11 20 11 10 11 23 12-9zM462 1100l-12-15-11-6-11-3 5-35 11 21 12 8 11 17z"/>
<path class="q19" d="M315 959l-11-2 5-9 11 5zM360 998l-11 1 5-18 12 6z"/>
<path class="q16" d="M484 1141l-11-29 5-23 12 24z"/>
<path class="q17" d="M208 878l-11-3-11-19 5 2 11 16 12 7zM265 927l-12-15 6 6 11 19zM298 964l-11-14 5 9 12-2zM366 1020l-11-8-12-9-11-20 6 4 11 12 11-1 11 26zM411 1059l-11-14 5-2 11 26zM467 1110l-11-29-11 3-11-16-12 5 6 3 11 3 11 6 12 15 11 12z"/>
<path class="q18" d="M253 912l-11-8-11-5-12-16-11-5 6 3 11 4 11 12 11 11 12 10zM332 983l-11-8-11-17-12 6 6-7 11 2 11 19 12 9zM377 1022l-11-2 5 4 12-11zM400 1045l-11-23 5 2 11 19z"/>
<path class="q16" d="M287 950l-11 3-11-26 5 10 11 4 11 18zM422 1073l-11-14 5 10 12 7z"/>
<path class="q19" d="M389 1022l-12 0 6-9 11 11z"/>
<path class="q15" d="M479 1135l-12-25 6 2 11 29z"/>
<path class="q18" d="M192 876l-12-17 6-3 11 19zM248 907l-11 17-12-31 6 6 11 5 11 8zM338 996l-11-10-12-11-11-8 6-9 11 17 11 8 11 20zM372 1020l-11-4 5 4 11 2zM406 1052l-12-9 6 2 11 14zM462 1100l-11-12-12 0-11-18-11-7 5 10 12-5 11 16 11-3 11 29z"/>
<path class="q17" d="M203 883l-11-7 5-1 11 3zM270 939l-11-18 6 6 11 26zM304 967l-11-1 5-2 12-6zM361 1016l-12-8-11-12 5 7 12 9 11 8zM417 1063l-11-11 5 7 11 14z"/>
<path class="q19" d="M225 893l-11-23-11 13 5-5 11 5 12 16zM259 921l-11-14 5 5 12 15zM394 1043l-11-17-11-6 5 2 12 0 11 23z"/>
<path class="q16" d="M293 966l-11-5-12-22 6 14 11-3 11 14zM473 1117l-11-17 5 10 12 25z"/>
<path class="q18" d="M197 868l-11-6-11 10 5-13 12 17 11 7zM276 942l-11-5-11-9 5-7 11 18 12 22zM321 990l-11-13-11-10-11-9 5 8 11 1 11 8 12 11zM355 1007l-11-6-11 6 5-11 11 12 12 8zM457 1111l-12-13-11-16-11-13-11-5-12-4-11-15-11-7-12-15 6-3 11 6 11 17 12 9 11 11 11 7 11 18 12 0 11 12z"/>
<path class="q19" d="M220 899l-11-14-12-17 6 15 11-13 11 23zM254 928l-12-9 6-12 11 14zM366 1023l-11-16 6 9 11 4z"/>
<path class="q17" d="M242 919l-11 8-11-28 5-6 12 31 11-17zM288 958l-12-16 6 19 11 5zM333 1007l-12-17 6-4 11 10z"/>
<path class="q16" d="M468 1141l-11-30 5-11 11 17z"/>
<path class="q18" d="M181 871l-12-2 6 3 11-10zM215 902l-12-11 6-6 11 14zM282 973l-11-19-11-21-12 2-11-12 5-4 12 9 11 9 11 5 12 16zM338 998l-11 11 6-2 11-6zM395 1064l-11-21-12-4-11-16 5 0 12 15 11 7 11 15zM417 1073l-11 4 6-13 11 5z"/>
<path class="q19" d="M203 891l-11-11-11-9 5-9 11 6 12 17zM361 1023l-11-13-12-12 6 3 11 6 11 16zM440 1090l-11-17-12 0 6-4 11 13 11 16z"/>
<path class="q17" d="M237 923l-11-1-11-20 5-3 11 28 11-8zM327 1009l-11-14-11-2-12-24-11 4 6-15 11 9 11 10 11 13 12 17zM406 1077l-11-13 5-4 12 4zM451 1114l-11-24 5 8 12 13z"/>
<path class="q14" d="M462 1155l-11-41 6-3 11 30z"/>
<path class="q19" d="M187 887l-12-31-11-6 5 19 12 2 11 9zM220 911l-11-34-11 9 5 5 12 11 11 20zM254 943l-11-25-11-13 5 18 11 12 12-2zM344 1007l-11-5 5-4 12 12zM435 1087l-12-8-11-10 5 4 12 0 11 17z"/>
<path class="q18" d="M198 886l-11 1 5-7 11 11zM232 905l-12 6 6 11 11 1zM265 950l-11-7 6-10 11 21zM333 1002l-11 3 5 4 11-11zM412 1069l-11-13-12 3-11-25-11 13-11-33 5 9 11 16 12 4 11 21 11 13 11-4zM446 1102l-11-15 5 3 11 24z"/>
<path class="q17" d="M322 1005l-11-16-12-14-11 0-11-4-12-21 6 4 11 19 11-4 12 24 11 2 11 14z"/>
<path class="q20" d="M356 1014l-12-7 6 3 11 13z"/>
<path class="q16" d="M457 1119l-11-17 5 12 11 41z"/>
<path class="q21" d="M170 854l-11-18 5 14 11 6zM350 1008l-11-7 5 6 12 7z"/>
<path class="q20" d="M181 884l-11-30 5 2 12 31zM204 898l-12-23 6 11 11-9zM271 943l-11-16-11 0-11-11-12-4 6-7 11 13 11 25 11 7 12 21zM305 978l-11-15-11-12 5 24 11 0 12 14zM339 1001l-11-2 5 3 11 5zM362 1030l-12-22 6 6 11 33zM429 1085l-11-12-11-4-12-16-11-15-11-10 5 6 11 25 12-3 11 13 11 10 12 8z"/>
<path class="q19" d="M192 875l-11 9 6 3 11-1zM226 912l-11 1-11-15 5-21 11 34 12-6zM283 951l-12-8 6 28 11 4zM328 999l-12-19-11-2 6 11 11 16 11-3zM373 1028l-11 2 5 17 11-13zM452 1108l-12-5-11-18 6 2 11 15 11 17z"/>
<path class="q22" d="M164 849l-11-1 6-12 11 18zM266 943l-11-19-12-5 6 8 11 0 11 16zM390 1052l-11-24-12 0 6 0 11 10 11 15z"/>
<path class="q21" d="M187 881l-11-24-12-8 6 5 11 30 11-9zM243 919l-11 6 6-9 11 11zM334 1009l-12-15-11-10-11-14-12-9-11-2-11-16 5 0 12 8 11 12 11 15 11 2 12 19 11 2zM367 1028l-11 4 6-2 11-2zM401 1060l-11-8 5 1 12 16z"/>
<path class="q20" d="M232 925l-11-17-11-7-12-11-11-9 5-6 12 23 11 15 11-1 12 4zM356 1032l-11-5-11-18 5-8 11 7 12 22zM435 1096l-11-8-12-14-11-14 6 9 11 4 11 12 11 18z"/>
<path class="q19" d="M446 1125l-11-29 5 7 12 5z"/>
<path class="q21" d="M170 888l-11-22-11-1 5-17 11 1 12 8zM204 891l-11 0 5-1 12 11zM261 954l-12-3-11-8 5-24 12 5 11 19zM306 983l-12 10-11-24 5-8 12 9 11 14zM385 1060l-12-10-11-1 5-21 12 0 11 24z"/>
<path class="q20" d="M193 891l-11 7-12-10 6-31 11 24 11 9zM238 943l-11-16-12 0-11-36 6 10 11 7 11 17 11-6zM283 969l-11 3-11-18 5-11 11 16 11 2zM317 1016l-11-33 5 1 11 10zM362 1049l-11-13 5-4 11-4zM418 1100l-11-22-11-5-11-13 5-8 11 8 11 14 12 14z"/>
<path class="q19" d="M328 1039l-11-23 5-22 12 15zM351 1036l-12-7 6-2 11 5zM430 1110l-12-10 6-12 11 8z"/>
<path class="q18" d="M339 1029l-11 10 6-30 11 18z"/>
<path class="q17" d="M441 1141l-11-31 5-14 11 29z"/>
<path class="q18" d="M165 899l-11-7-12-17 6-10 11 1 11 22zM187 912l-11 3 6-17 11-7zM266 976l-11 4-11-13-11-21 5-3 11 8 12 3 11 18zM311 1033l-11-31 6-19 11 33zM368 1063l-11 2-12-19-11-1 5-16 12 7 11 13 11 1zM413 1116l-11-20-12-6 6-17 11 5 11 22z"/>
<path class="q17" d="M176 915l-11-16 5-11 12 10zM334 1045l-11-17 5 11 11-10z"/>
<path class="q20" d="M199 913l-12-1 6-21 11 0z"/>
<path class="q19" d="M233 946l-12-13-11-8-11-12 5-22 11 36 12 0 11 16zM300 1002l-11-1-11-21-12-4 6-4 11-3 11 24 12-10zM390 1090l-11-20-11-7 5-13 12 10 11 13z"/>
<path class="q16" d="M323 1028l-12 5 6-17 11 23zM424 1138l-11-22 5-16 12 10z"/>
<path class="q14" d="M435 1162l-11-24 6-28 11 31z"/>
<path class="q18" d="M148 877l-11-16 5 14 12 17zM182 894l-11 4 5 17 11-3zM205 928l-12-7 6-8 11 12zM227 954l-11-20 5-1 12 13zM261 984l-11-26 5 22 11-4zM351 1057l-11-18-11-6-12-11 6 6 11 17 11 1 12 19zM374 1080l-12-15 6-2 11 7z"/>
<path class="q17" d="M171 898l-11-2-12-19 6 15 11 7 11 16zM250 958l-12 8-11-12 6-8 11 21 11 13zM317 1022l-11 1-11-8-11-11-12-2-11-18 5-8 12 4 11 21 11 1 11 31 12-5zM362 1065l-11-8 6 8 11-2zM408 1116l-12-15-11-5-11-16 5-10 11 20 12 6 11 20z"/>
<path class="q19" d="M193 921l-11-27 5 18 12 1zM216 934l-11-6 5-3 11 8z"/>
<path class="q15" d="M419 1136l-11-20 5 0 11 22z"/>
<path class="q13" d="M430 1145l-11-9 5 2 11 24z"/>
<path class="q18" d="M165 895l-11-6-11 1-11-19 5-10 11 16 12 19 11 2zM233 951l-11-9 5 12 11 12zM312 1012l-11 9-12-18-11-14-11-17-11 11 5 1 11 18 12 2 11 11 11 8 11-1zM368 1073l-11-15 5 7 12 15zM402 1097l-11-1 5 5 12 15z"/>
<path class="q20" d="M210 925l-11-17-11-12-11 4-12-5 6 3 11-4 11 27 12 7 11 6zM244 940l-11 11 5 15 12-8zM346 1043l-12-16 6 12 11 18z"/>
<path class="q19" d="M222 942l-12-17 6 9 11 20zM256 983l-12-43 6 18 11 26zM334 1027l-11 14-11-29 5 10 12 11 11 6zM357 1058l-11-15 5 14 11 8z"/>
<path class="q17" d="M391 1096l-11-6-12-17 6 7 11 16 11 5zM413 1125l-11-28 6 19 11 20z"/>
<path class="q15" d="M425 1145l-12-20 6 11 11 9z"/>
<path class="q19" d="M160 890l-11-2-12-22-11-8 6 13 11 19 11-1 11 6zM295 1003l-11-8 5 8 12 18zM385 1075l-11-4-11 4-11-21 5 4 11 15 12 17 11 6zM408 1112l-11-26 5 11 11 28z"/>
<path class="q20" d="M171 891l-11-1 5 5 12 5zM228 943l-12 4-11-31 5 9 12 17 11 9zM261 968l-11 8-11-25 5-11 12 43 11-11zM284 995l-11-6 5 0 11 14zM329 1032l-11-6-11-20-12-3 6 18 11-9 11 29 11-14zM352 1054l-12-6 6-5 11 15zM397 1086l-12-11 6 21 11 1z"/>
<path class="q21" d="M183 917l-12-26 6 9 11-4zM239 951l-11-8 5 8 11-11zM273 989l-12-21 6 4 11 17zM340 1048l-11-16 5-5 12 16z"/>
<path class="q22" d="M205 916l-11-13-11 14 5-21 11 12 11 17z"/>
<path class="q16" d="M419 1150l-11-38 5 13 12 20z"/>
<path class="q21" d="M132 865l-11-8 5 1 11 8zM166 896l-11 4 5-10 11 1zM245 971l-11-29-12 19 6-18 11 8 11 25zM301 1026l-11-23-11-16 5 8 11 8 12 3zM346 1048l-11-6-11-16-12 4 6-4 11 6 11 16 12 6zM391 1105l-11-21 5-9 12 11z"/>
<path class="q20" d="M143 887l-11-22 5 1 12 22zM188 917l-11 2-11-23 5-5 12 26 11-14zM211 957l-11-36 5-5 11 31zM279 987l-12 18-11-33-11-1 5 5 11-8 12 21 11 6zM312 1030l-11-4 6-20 11 20zM357 1061l-11-13 6 6 11 21zM380 1084l-11 8 5-21 11 4zM403 1103l-12 2 6-19 11 26z"/>
<path class="q19" d="M155 900l-12-13 6 1 11 2zM222 961l-11-4 5-10 12-4zM369 1092l-12-31 6 14 11-4zM414 1111l-11-8 5 9 11 38z"/>
<path class="q22" d="M200 921l-12-4 6-14 11 13z"/>
<path class="q22" d="M127 869l-12-25 6 13 11 8zM251 972l-12-22-11 1 6-9 11 29 11 1zM284 991l-11-4 6 0 11 16z"/>
<path class="q21" d="M138 874l-11-5 5-4 11 22zM206 929l-12-2-11-2-11-29-12 9 6-9 11 23 11-2 12 4 11 36zM228 951l-11-6 5 16 12-19zM273 987l-11 4 5 14 12-18zM296 1020l-12-29 6 12 11 23zM352 1064l-11-16-11-4-12-7 6-11 11 16 11 6 11 13zM386 1095l-11-25 5 14 11 21z"/>
<path class="q20" d="M160 905l-11-17-11-14 5 13 12 13 11-4zM217 945l-11-16 5 28 11 4zM262 991l-11-19 5 0 11 33zM318 1037l-11 1 5-8 12-4zM375 1070l-12 6-11-12 5-3 12 31 11-8zM408 1128l-11-33-11 0 5 10 12-2 11 8z"/>
<path class="q19" d="M307 1038l-11-18 5 6 11 4z"/>
<path class="q22" d="M121 855l-11 8 5-19 12 25zM155 885l-11-2-11-19 5 10 11 14 11 17zM178 914l-12-25 6 7 11 29zM268 996l-11-25-12-6 6 7 11 19 11-4zM290 1012l-11-25 5 4 12 29zM392 1104l-12-23-11 2-11-17-11-20-12 6-11-24-11-11-11-6 5 27 11-1 12 7 11 4 11 16 11 12 12-6 11 25 11 0z"/>
<path class="q23" d="M133 864l-12-9 6 14 11 5zM166 889l-11-4 5 20 12-9zM200 901l-11 15 5 11 12 2zM245 965l-11-6-11-14-12-12 6 12 11 6 11-1 12 22zM279 987l-11 9 5-9 11 4z"/>
<path class="q21" d="M189 916l-11-2 5 11 11 2zM302 1011l-12 1 6 8 11 18z"/>
<path class="q24" d="M211 933l-11-32 6 28 11 16z"/>
<path class="q20" d="M403 1137l-11-33 5-9 11 33z"/>
<path class="q23" d="M116 844l-11 13 5 6 11-8zM138 879l-11-6 6-9 11 19zM183 914l-11-9-11-11-11 8 5-17 11 4 12 25 11 2zM240 959l-11 0-12-14-11 3 5-15 12 12 11 14 11 6zM296 1004l-11 3-11-13 5-7 11 25 12-1zM330 1045l-11-12 5-5 11 24zM386 1099l-11-26-11-10-11 2 5 1 11 17 11-2 12 23z"/>
<path class="q24" d="M127 873l-11-29 5 11 12 9zM206 948l-11-28 5-19 11 32zM274 994l-12-25-11-4-11-6 5 6 12 6 11 25 11-9zM319 1033l-12-14-11-15 6 7 11 6 11 11zM353 1065l-12-28-11 8 5 7 12-6 11 20z"/>
<path class="q22" d="M150 902l-12-23 6 4 11 2z"/>
<path class="q25" d="M195 920l-12-6 6 2 11-15z"/>
<path class="q20" d="M398 1113l-12-14 6 5 11 33z"/>
<path class="q23" d="M110 863l-11-1 6-5 11-13zM133 887l-11-17 5 3 11 6zM156 896l-12 1 6 5 11-8zM234 959l-11 6-11-15-11-18-12-1 6-11 11 28 11-3 12 14 11 0zM291 1012l-11 13 5-18 11-3zM313 1030l-11 5 5-16 12 14zM358 1081l-11-7 6-9 11-2z"/>
<path class="q24" d="M122 870l-12-7 6-19 11 29zM189 931l-11-25-11 4-11-14 5-2 11 11 11 9 12 6zM246 971l-12-12 6 0 11 6zM268 998l-11-18 5-11 12 25zM302 1035l-11-23 5-8 11 15zM347 1074l-11-27-11-13-12-4 6 3 11 12 11-8 12 28zM381 1089l-11-14-12 6 6-18 11 10 11 26z"/>
<path class="q22" d="M144 897l-11-10 5-8 12 23zM280 1025l-12-27 6-4 11 13zM392 1115l-11-26 5 10 12 14z"/>
<path class="q25" d="M257 980l-11-9 5-6 11 4z"/>
<path class="q21" d="M139 905l-11-4-12-5-11-14-11-14 5-6 11 1 12 7 11 17 11 10zM285 1024l-11 20 6-19 11-13zM308 1059l-11-6 5-18 11-5zM353 1089l-11 1 5-16 11 7zM387 1125l-11-11 5-25 11 26z"/>
<path class="q22" d="M161 918l-11-1-11-12 5-8 12-1 11 14zM229 976l-11-7-12-11-11-6-11 1-11-19 5-28 11 25 12 1 11 18 11 15 11-6zM263 1010l-11-9 5-21 11 18zM297 1053l-12-29 6-12 11 23zM342 1090l-12-25 6-18 11 27zM376 1114l-12-2-11-23 5-8 12-6 11 14z"/>
<path class="q23" d="M173 934l-12-16 6-8 11-4zM252 1001l-12-18-11-7 5-17 12 12 11 9zM330 1065l-11-12-11 6 5-29 12 4 11 13z"/>
<path class="q20" d="M274 1044l-11-34 5-12 12 27z"/>
<path class="q19" d="M167 971l-11-28-11-2-12-12-11-19-11-10-11 1-12-17 6-16 11 14 11 14 12 5 11 4 11 12 11 1 12 16zM190 973l-11-4 5-16 11-1zM224 1007l-12-5 6-33 11 7zM257 1030l-11-5 6-24 11 9zM291 1070l-11-14 5-32 12 29zM314 1078l-11-2 5-17 11-6zM359 1122l-11-30-12 15-11-18 5-24 12 25 11-1 11 23zM381 1141l-11-10 6-17 11 11z"/>
<path class="q18" d="M179 969l-12 2 6-37 11 19zM280 1056l-11-11-12-15 6-20 11 34 11-20zM303 1076l-12-6 6-17 11 6zM370 1131l-11-9 5-10 12 2z"/>
<path class="q20" d="M212 1002l-11-33-11 4 5-21 11 6 12 11zM246 1025l-11-17-11-1 5-31 11 7 12 18zM325 1089l-11-11 5-25 11 12z"/>
<path class="q17" d="M106 910l-12-3-11-2 5-21 12 17 11-1zM128 950l-11-26 5-14 11 19zM184 980l-11-4 6-7 11 4zM207 1010l-11-10 5-31 11 33zM263 1050l-11-6-11-9-12-12-11 2 6-18 11 1 11 17 11 5 12 15zM353 1128l-11 0-11-15 5-6 12-15 11 30z"/>
<path class="q18" d="M117 924l-11-14 5-10 11 10zM196 1000l-12-20 6-7 11-4z"/>
<path class="q15" d="M139 966l-11-16 5-21 12 12zM173 976l-11 22-11-46 5-9 11 28 12-2zM297 1096l-11-11 5-15 12 6zM376 1166l-11-5 5-30 11 10z"/>
<path class="q16" d="M151 952l-12 14 6-25 11 2zM218 1025l-11-15 5-8 12 5zM286 1085l-11-13-12-22 6-5 11 11 11 14zM331 1113l-11 10-12-22-11-5 6-20 11 2 11 11 11 18zM365 1161l-12-33 6-6 11 9z"/>
<path class="r8" d="M562 1125l4 29 4-29zM553 1130l4 29 4-29z"/>
<path class="r9" d="M731 1080l4 21 4-21zM556 1134l4 10 4-10zM554 1132l4 19 4-19z"/>
<path class="r10" d="M549 1122l4 28 4-28zM458 1147l4 27 4-27zM431 1157l4 18 4-18zM725 1071l4 28 4-28zM438 1136l4 57 4-57zM156 986l4 30 4-30z"/>
<path class="r11" d="M555 1133l3-13 3 13zM601 1098l4 28 4-28zM690 1069l4 34 4-34zM632 1096l4 16 4-16zM734 1068l4 20 4-20zM474 1131l4 36 4-36zM278 1077l4 38 4-38zM156 988l4 10 4-10zM269 1065l4 51 4-51zM365 1159l4 19 4-19zM363 1158l4 24 4-24z"/>
<path class="r12" d="M428 1147l4 15 4-15zM770 1053l4 16 4-16zM867 1028l4 11 4-11zM716 1055l4 39 4-39zM758 1060l4 9 4-9zM738 1054l4 22 4-22zM572 1095l4 39 4-39zM863 1024l4 14 4-14zM683 1072l4 20 4-20zM482 1129l4 25 4-25zM769 1056l4 9 4-9zM781 1043l4 21 4-21zM829 1026l4 37 4-37zM476 1134l4 21 4-21zM360 1154l4 17 4-17zM305 1099l4 31 4-31zM293 1092l4 18 4-18zM163 986l4 10 4-10zM362 1158l4 15 4-15zM318 1118l4 19 4-19zM316 1119l4 9 4-9zM319 1117l4 15 4-15zM370 1161l4 12 4-12zM126 950l4 21 4-21zM293 1092l4 26 4-26zM137 961l4 20 4-20zM363 1159l4 14 4-14z"/>
<path class="r13" d="M820 1022l4 32 4-32zM688 1068l4 21 4-21zM414 1138l4 29 4-29zM831 1032l4 13 4-13zM789 1036l4 26 4-26zM686 1067l4 18 4-18zM722 1059l4 18 4-18zM643 1083l4 13 4-13zM691 1069l4 20 4-20zM623 1077l4 40 4-40zM812 1028l4 28 4-28zM374 1156l4 18 4-18zM694 1061l4 23 4-23zM420 1142l4 21 4-21zM782 1043l4 11 4-11zM606 1081l4 31 4-31zM423 1142l4 22 4-22zM785 1041l4 15 4-15zM711 1062l4 14 4-14zM313 1115l4 8 4-8zM200 1004l4 24 4-24zM282 1082l4 18 4-18zM240 1034l4 33 4-33zM273 1071l4 23 4-23zM164 983l4 10 4-10zM337 1123l4 23 4-23zM213 1020l4 18 4-18z"/>
<path class="r14" d="M724 1070l3-13 3 13zM424 1148l3-17 3 17zM854 1007l4 27 4-27zM472 1122l4 21 4-21zM827 1020l4 21 4-21zM608 1087l4 12 4-12zM521 1109l4 14 4-14zM597 1093l4 10 4-10zM566 1090l4 28 4-28zM644 1078l4 10 4-10zM420 1143l4 13 4-13zM676 1059l4 26 4-26zM794 1032l4 15 4-15zM790 1035l4 15 4-15zM823 1020l4 27 4-27zM515 1103l4 30 4-30zM618 1080l4 19 4-19zM645 1077l4 14 4-14zM324 1112l4 17 4-17zM353 1135l4 17 4-17zM352 1132l4 19 4-19zM355 1142l4 11 4-11zM122 942l4 9 4-9zM303 1097l4 12 4-12zM190 993l4 17 4-17zM206 1010l4 13 4-13zM224 1020l4 29 4-29zM189 992l4 20 4-20zM167 978l4 17 4-17zM327 1110l4 18 4-18z"/>
<path class="r15" d="M537 1090l3-10 3 10zM538 1089l3-12 3 12zM727 991l3-9 3 9zM806 1045l3-16 3 16zM326 900l3-9 3 9zM724 1054l3-11 3 11zM510 1102l4 26 4-26zM452 1113l4 30 4-30zM576 1087l4 23 4-23zM505 1106l4 17 4-17zM624 1076l4 10 4-10zM841 1019l4 9 4-9zM623 1077l4 11 4-11zM85 903l4 10 4-10zM144 952l4 12 4-12zM251 1042l4 14 4-14zM95 905l4 18 4-18zM252 1043l4 15 4-15zM252 1043l4 13 4-13zM259 1046l4 18 4-18zM347 1125l4 16 4-16zM236 1031l4 14 4-14z"/>
<path class="r16" d="M335 909l3-15 3 15zM734 994l3-9 3 9zM838 1022l3-11 3 11zM531 1080l3-14 3 14zM330 907l3-14 3 14zM801 1036l3-18 3 18zM230 928l3-10 3 10zM414 984l3-24 3 24zM275 955l3-13 3 13zM294 1094l3-26 3 26zM269 1004l3-11 3 11zM845 996l3-12 3 12zM576 865l3-12 3 12zM500 884l3-18 3 18zM747 945l3-9 3 9zM438 1142l3-22 3 22zM625 1078l3-11 3 11zM755 1035l3-8 3 8zM827 1014l3-17 3 17zM417 981l3-19 3 19zM331 913l3-13 3 13zM275 868l3-24 3 24zM416 1071l3-11 3 11zM670 933l3-9 3 9zM315 901l3-10 3 10zM612 832l3-14 3 14zM768 960l3-11 3 11zM417 979l3-12 3 12zM589 1080l4 10 4-10zM533 1094l4 19 4-19zM502 1102l4 18 4-18zM540 1097l4 12 4-12zM665 1059l4 14 4-14zM536 1090l4 18 4-18zM581 1083l4 13 4-13zM836 1009l4 16 4-16zM446 1109l4 34 4-34zM443 1121l4 17 4-17zM255 1044l4 13 4-13zM179 976l4 16 4-16zM174 975l4 10 4-10zM95 905l4 11 4-11zM96 905l4 16 4-16zM148 956l4 8 4-8zM92 904l4 11 4-11zM99 906l4 12 4-12zM147 949l4 10 4-10zM179 976l4 12 4-12zM91 904l4 11 4-11z"/>
<path class="r17" d="M572 942l3-11 3 11zM562 932l3-15 3 15zM562 839l3-12 3 12zM825 974l3-18 3 18zM734 1005l3-8 3 8zM762 1046l3-34 3 34zM579 940l3-15 3 15zM576 882l3-9 3 9zM715 893l3-10 3 10zM563 839l3-17 3 17zM598 959l3-11 3 11zM452 825l3-10 3 10zM589 865l3-12 3 12zM611 793l3-17 3 17zM488 870l3-12 3 12zM506 784l3-10 3 10zM757 947l3-9 3 9zM619 972l3-15 3 15zM522 808l3-16 3 16zM608 1083l3-19 3 19zM833 1018l3-25 3 25zM521 1107l3-16 3 16zM407 977l3-13 3 13zM526 1083l3-10 3 10zM586 941l3-13 3 13zM550 927l3-8 3 8zM413 1132l3-23 3 23zM687 949l3-19 3 19zM700 994l3-15 3 15zM598 890l3-11 3 11zM471 853l3-10 3 10zM667 1041l3-12 3 12zM401 1111l3-15 3 15zM545 1098l3-31 3 31zM522 835l3-9 3 9zM451 1009l3-25 3 25zM643 819l3-17 3 17zM198 1006l3-17 3 17zM612 823l3-10 3 10zM226 927l3-20 3 20zM780 969l3-12 3 12zM464 1109l3-14 3 14zM552 920l3-15 3 15zM621 890l3-9 3 9zM735 930l3-17 3 17zM591 962l3-16 3 16zM414 986l3-13 3 13zM700 965l3-18 3 18zM588 859l3-12 3 12zM384 945l3-17 3 17zM214 1012l3-12 3 12zM612 798l3-16 3 16zM573 767l3-18 3 18zM606 1085l3-11 3 11zM662 898l3-10 3 10zM599 885l3-12 3 12zM281 974l3-10 3 10zM591 1077l4 10 4-10zM444 1117l4 15 4-15zM451 1110l4 14 4-14zM669 1053l4 16 4-16zM446 1111l4 24 4-24zM102 908l4 13 4-13z"/>
<path class="r18" d="M585 952l3-34 3 34zM310 894l3-37 3 37zM544 820l3-11 3 11zM591 791l3-10 3 10zM522 902l3-16 3 16zM228 925l3-20 3 20zM831 978l3-14 3 14zM459 1103l3-9 3 9zM486 937l3-13 3 13zM741 1000l3-12 3 12zM760 1010l3-9 3 9zM533 904l3-18 3 18zM292 1080l3-26 3 26zM619 987l3-18 3 18zM718 882l3-21 3 21zM671 877l3-32 3 32zM675 910l3-15 3 15zM618 1073l3-20 3 20zM279 948l3-19 3 19zM658 882l3-10 3 10zM517 1060l3-34 3 34zM770 960l3-17 3 17zM534 831l3-9 3 9zM620 1068l3-17 3 17zM509 965l3-15 3 15zM231 1022l3-10 3 10zM742 1016l3-22 3 22zM606 900l3-10 3 10zM367 958l3-11 3 11zM649 829l3-15 3 15zM392 809l3-15 3 15zM303 1025l3-15 3 15zM243 933l3-14 3 14zM383 1084l3-13 3 13zM514 1075l3-26 3 26zM665 919l3-17 3 17zM512 827l3-14 3 14zM760 909l3-14 3 14zM264 855l3-15 3 15zM348 1003l3-13 3 13zM706 972l3-22 3 22zM353 1016l3-16 3 16zM615 885l3-24 3 24zM758 1000l3-15 3 15zM619 887l3-19 3 19zM424 967l3-11 3 11zM336 826l3-11 3 11zM274 951l3-16 3 16zM267 859l3-12 3 12zM562 862l3-21 3 21zM529 900l3-26 3 26zM498 958l3-19 3 19zM480 940l3-9 3 9zM435 1012l3-14 3 14zM305 877l3-25 3 25zM504 783l3-15 3 15zM547 993l3-30 3 30zM578 948l3-19 3 19zM758 1000l3-19 3 19zM710 973l3-25 3 25zM534 831l3-20 3 20zM263 865l3-14 3 14zM602 872l3-16 3 16zM431 840l3-12 3 12zM607 962l3-23 3 23zM192 999l3-33 3 33zM348 1012l3-11 3 11zM708 976l3-24 3 24zM498 902l3-24 3 24zM420 1069l3-22 3 22zM538 777l3-13 3 13zM701 945l3-9 3 9zM682 1020l3-12 3 12zM646 981l3-10 3 10zM621 902l3-16 3 16zM802 983l3-16 3 16zM429 816l3-12 3 12zM521 900l3-18 3 18zM288 956l3-23 3 23zM726 892l3-23 3 23zM416 1121l3-33 3 33zM704 872l3-14 3 14zM333 1104l3-10 3 10zM311 1031l3-16 3 16zM629 911l3-18 3 18zM472 866l3-9 3 9zM693 1041l3-26 3 26zM658 1013l3-14 3 14zM716 976l3-13 3 13zM399 984l3-17 3 17zM566 770l3-10 3 10zM732 897l3-18 3 18zM689 1030l3-19 3 19zM457 1020l3-9 3 9zM305 891l3-15 3 15zM542 807l3-9 3 9zM552 927l3-14 3 14zM602 900l3-20 3 20zM417 876l3-14 3 14zM541 923l3-12 3 12zM772 1006l3-12 3 12zM563 861l3-23 3 23zM490 803l3-28 3 28zM304 886l3-22 3 22zM593 963l3-19 3 19zM685 886l3-21 3 21zM346 916l3-15 3 15zM386 1093l3-19 3 19zM648 830l3-18 3 18zM752 1002l3-27 3 27zM416 993l3-21 3 21zM579 846l3-25 3 25zM606 783l3-12 3 12zM296 893l3-15 3 15zM450 908l3-9 3 9zM647 922l3-9 3 9zM454 1016l3-11 3 11zM655 910l3-11 3 11zM711 876l3-25 3 25zM603 822l3-21 3 21zM320 903l3-22 3 22zM681 914l3-25 3 25zM507 1043l3-14 3 14zM642 901l3-12 3 12zM437 844l3-9 3 9zM610 892l3-9 3 9zM376 955l3-10 3 10zM276 874l3-27 3 27zM290 893l3-15 3 15zM541 924l3-24 3 24zM505 1099l3-11 3 11zM729 917l3-14 3 14zM534 1055l3-12 3 12zM519 777l3-9 3 9zM719 972l3-25 3 25zM661 949l3-12 3 12zM407 1105l3-9 3 9zM752 1009l3-18 3 18zM423 911l3-9 3 9zM282 857l3-19 3 19zM282 974l3-22 3 22zM688 878l3-18 3 18zM503 903l3-17 3 17zM656 1000l3-13 3 13zM508 857l3-9 3 9zM433 974l3-15 3 15zM489 805l3-24 3 24zM370 1023l3-17 3 17zM562 1079l3-10 3 10zM731 988l3-16 3 16zM785 1022l3-12 3 12zM474 1015l3-17 3 17zM611 980l3-27 3 27zM540 1004l3-9 3 9zM273 950l3-33 3 33zM457 841l3-15 3 15zM542 920l3-18 3 18zM680 944l3-15 3 15zM408 1062l3-21 3 21zM297 1078l3-20 3 20zM629 897l3-28 3 28zM297 967l3-16 3 16zM320 1007l3-19 3 19zM282 970l3-18 3 18zM517 863l3-24 3 24zM448 1105l4 15 4-15zM410 1111l4 30 4-30z"/>
<path class="r19" d="M330 927l3-24 3 24zM214 926l3-11 3 11zM328 887l3-29 3 29zM291 862l3-23 3 23zM552 861l3-10 3 10zM707 888l3-14 3 14zM332 880l3-19 3 19zM496 884l3-21 3 21zM494 969l3-9 3 9zM635 910l3-14 3 14zM456 791l3-16 3 16zM568 938l3-18 3 18zM483 778l3-16 3 16zM349 836l3-23 3 23zM642 923l3-23 3 23zM570 764l3-22 3 22zM299 871l3-20 3 20zM535 906l3-21 3 21zM729 892l3-10 3 10zM365 924l3-21 3 21zM680 857l3-18 3 18zM572 891l3-26 3 26zM402 974l3-25 3 25zM596 782l3-17 3 17zM494 929l3-10 3 10zM598 818l3-24 3 24zM403 818l3-8 3 8zM364 829l3-9 3 9zM534 999l3-27 3 27zM601 840l3-14 3 14zM717 1031l3-18 3 18zM530 969l3-8 3 8zM437 976l3-22 3 22zM492 796l3-22 3 22zM418 996l3-20 3 20zM193 876l3-30 3 30zM796 992l3-17 3 17zM249 932l3-16 3 16zM351 1011l3-14 3 14zM511 967l3-34 3 34zM503 831l3-27 3 27zM357 1065l3-14 3 14zM660 993l3-14 3 14zM612 1064l3-26 3 26zM585 832l3-22 3 22zM634 935l3-14 3 14zM248 847l3-13 3 13zM598 851l3-19 3 19zM422 891l3-9 3 9zM749 940l3-18 3 18zM766 938l3-19 3 19zM347 944l3-29 3 29zM437 898l3-21 3 21zM468 874l3-26 3 26zM664 900l3-23 3 23zM599 821l3-33 3 33zM656 854l3-24 3 24zM486 947l3-23 3 23zM517 904l3-19 3 19zM209 958l3-19 3 19zM533 904l3-23 3 23zM110 917l3-26 3 26zM681 845l3-17 3 17zM305 893l3-23 3 23zM529 777l3-14 3 14zM434 918l3-18 3 18zM450 799l3-19 3 19zM624 832l3-15 3 15zM679 911l3-27 3 27zM377 1040l3-13 3 13zM677 898l3-23 3 23zM511 892l3-13 3 13zM625 973l3-31 3 31zM580 945l3-17 3 17zM624 957l3-17 3 17zM558 1007l3-18 3 18zM312 905l3-11 3 11zM223 895l3-13 3 13zM806 963l3-18 3 18zM531 775l3-14 3 14zM538 908l3-23 3 23zM362 926l3-26 3 26zM346 932l3-11 3 11zM627 839l3-16 3 16zM502 976l3-15 3 15zM193 886l3-9 3 9zM434 1017l3-17 3 17zM712 997l3-26 3 26zM716 905l3-11 3 11zM428 1108l3-12 3 12zM421 817l3-17 3 17zM516 837l3-15 3 15zM362 828l3-13 3 13zM324 968l3-9 3 9zM299 899l3-21 3 21zM380 846l3-10 3 10zM292 971l3-18 3 18zM451 841l3-18 3 18zM327 1041l3-26 3 26zM494 1045l3-10 3 10zM308 970l3-12 3 12zM464 999l3-14 3 14zM795 994l3-13 3 13zM257 979l3-20 3 20zM770 955l3-13 3 13zM585 1015l3-9 3 9zM394 1053l3-12 3 12zM176 980l3-28 3 28zM665 988l3-11 3 11zM643 823l3-23 3 23zM788 969l3-31 3 31zM480 809l3-12 3 12zM353 843l3-19 3 19zM693 915l3-15 3 15zM261 924l3-21 3 21zM620 833l3-14 3 14zM231 948l3-17 3 17zM613 884l3-14 3 14zM411 997l3-15 3 15zM676 906l3-9 3 9zM769 1011l3-10 3 10zM717 919l3-20 3 20zM537 886l3-24 3 24zM414 994l3-27 3 27zM666 1033l3-24 3 24zM588 889l3-20 3 20zM290 997l3-14 3 14zM675 874l3-35 3 35zM477 936l3-25 3 25zM742 946l3-15 3 15zM522 786l3-12 3 12zM393 864l3-19 3 19zM467 849l3-30 3 30zM336 1103l3-15 3 15zM202 924l3-13 3 13zM441 1007l3-18 3 18zM609 934l3-12 3 12zM388 970l3-24 3 24zM383 1090l3-27 3 27zM654 899l3-15 3 15zM645 944l3-15 3 15zM549 851l3-21 3 21zM414 1066l3-10 3 10zM526 902l3-19 3 19zM628 843l3-11 3 11zM242 902l3-18 3 18zM260 838l3-11 3 11zM739 935l3-12 3 12zM459 1010l3-28 3 28zM259 849l3-18 3 18zM372 933l3-17 3 17zM466 866l3-20 3 20zM314 1001l3-19 3 19zM455 788l3-24 3 24zM428 897l3-10 3 10zM533 818l3-9 3 9zM507 805l3-21 3 21zM150 887l3-19 3 19zM613 871l3-20 3 20zM581 1033l3-15 3 15zM331 987l3-15 3 15zM754 945l3-25 3 25zM515 801l3-25 3 25zM354 833l3-17 3 17zM625 897l3-17 3 17zM561 865l3-15 3 15zM390 1111l4 23 4-23zM384 1121l4 13 4-13z"/>
<path class="r20" d="M635 865l3-19 3 19zM540 1051l3-19 3 19zM271 842l3-41 3 41zM465 927l3-28 3 28zM232 918l3-13 3 13zM213 884l3-34 3 34zM298 896l3-35 3 35zM221 995l3-10 3 10zM369 1080l3-18 3 18zM702 937l3-23 3 23zM323 852l3-19 3 19zM497 822l3-33 3 33zM618 922l3-26 3 26zM507 842l3-15 3 15zM427 871l3-9 3 9zM758 944l3-12 3 12zM560 943l3-11 3 11zM630 879l3-16 3 16zM623 863l3-35 3 35zM359 1073l3-9 3 9zM288 989l3-18 3 18zM310 1023l3-22 3 22zM436 958l3-19 3 19zM600 1019l3-18 3 18zM572 812l3-9 3 9zM671 942l3-27 3 27zM501 1063l3-10 3 10zM665 862l3-15 3 15zM450 1086l3-12 3 12zM325 823l3-15 3 15zM417 824l3-23 3 23zM244 891l3-16 3 16zM576 978l3-13 3 13zM397 1124l3-13 3 13zM497 834l3-11 3 11zM241 841l3-9 3 9zM324 1006l3-25 3 25zM207 932l3-15 3 15zM762 910l3-31 3 31zM433 840l3-26 3 26zM564 1010l3-12 3 12zM683 876l3-10 3 10zM326 933l3-11 3 11zM709 911l3-14 3 14zM453 925l3-10 3 10zM412 795l3-27 3 27zM536 1052l3-24 3 24zM553 861l3-20 3 20zM628 997l3-11 3 11zM496 878l3-38 3 38zM237 1013l3-21 3 21zM456 899l3-18 3 18zM571 894l3-16 3 16zM608 790l3-19 3 19zM662 875l3-19 3 19zM403 1125l3-14 3 14zM408 820l3-22 3 22zM501 1083l3-16 3 16zM606 904l3-47 3 47zM610 848l3-26 3 26zM502 932l3-8 3 8zM543 867l3-12 3 12zM519 929l3-12 3 12zM555 1013l3-18 3 18zM634 843l3-20 3 20zM358 920l3-9 3 9zM467 859l3-9 3 9zM651 1047l3-18 3 18zM674 976l3-11 3 11zM572 1005l3-17 3 17zM368 1081l3-13 3 13zM791 970l3-25 3 25zM593 916l3-12 3 12zM624 834l3-11 3 11zM501 798l3-23 3 23zM845 995l3-25 3 25zM180 959l3-14 3 14zM580 1044l3-12 3 12zM558 1007l3-22 3 22zM498 1051l3-27 3 27zM438 817l3-12 3 12zM586 908l3-13 3 13zM378 1065l3-14 3 14zM219 880l3-18 3 18zM237 923l3-15 3 15zM755 943l3-17 3 17zM456 798l3-18 3 18zM356 920l3-19 3 19zM383 958l3-21 3 21zM364 957l3-10 3 10zM484 947l3-11 3 11zM233 844l3-23 3 23zM142 878l3-14 3 14zM349 1011l3-25 3 25zM764 936l3-34 3 34zM359 1003l3-23 3 23zM491 967l3-30 3 30zM401 921l3-9 3 9zM241 951l3-24 3 24zM488 945l3-23 3 23zM538 810l3-21 3 21zM365 1006l3-18 3 18zM270 987l3-22 3 22zM677 877l3-23 3 23zM402 816l3-9 3 9zM468 947l3-16 3 16zM533 788l3-32 3 32zM648 933l3-9 3 9zM425 1055l3-14 3 14zM402 1124l3-14 3 14zM789 991l3-18 3 18zM601 941l3-28 3 28zM577 767l3-36 3 36zM605 1024l3-21 3 21zM320 983l3-21 3 21zM641 854l3-14 3 14zM526 954l3-12 3 12zM435 1098l3-12 3 12zM295 1056l3-16 3 16zM603 803l3-37 3 37zM512 1090l3-20 3 20zM668 966l3-15 3 15zM218 929l3-18 3 18zM752 948l3-23 3 23zM511 1033l3-24 3 24zM602 785l3-16 3 16zM524 835l3-13 3 13zM503 975l3-28 3 28zM430 894l3-27 3 27zM745 974l3-26 3 26zM426 986l3-28 3 28zM260 963l3-14 3 14zM387 873l3-19 3 19zM334 970l3-14 3 14zM306 990l3-30 3 30zM193 872l3-15 3 15zM500 892l3-11 3 11zM478 1032l3-22 3 22zM658 980l3-31 3 31zM251 971l3-20 3 20zM699 871l3-15 3 15zM525 902l3-24 3 24zM167 947l3-12 3 12zM411 1077l3-27 3 27zM221 839l3-9 3 9z"/>
<path class="r21" d="M543 1042l3-16 3 16zM373 956l3-16 3 16zM699 1001l3-11 3 11zM572 992l3-23 3 23zM277 996l3-14 3 14zM555 1015l3-12 3 12zM530 984l3-16 3 16zM545 1044l3-15 3 15zM692 863l3-26 3 26zM410 911l3-11 3 11zM647 879l3-30 3 30zM461 939l3-13 3 13zM303 1061l3-26 3 26zM261 969l3-28 3 28zM328 1003l3-15 3 15zM435 1008l3-16 3 16zM393 811l3-11 3 11zM588 883l3-13 3 13zM598 1033l3-39 3 39zM391 858l3-25 3 25zM402 1069l3-12 3 12zM355 862l3-9 3 9zM560 984l3-26 3 26zM519 930l3-8 3 8zM736 964l3-39 3 39zM473 930l3-16 3 16zM183 928l3-16 3 16zM490 982l3-14 3 14zM387 855l3-34 3 34zM342 859l3-13 3 13zM392 967l3-12 3 12zM358 991l3-16 3 16zM642 946l3-15 3 15zM364 804l3-14 3 14zM114 899l3-27 3 27zM628 947l3-26 3 26zM649 1000l3-14 3 14zM344 858l3-18 3 18zM371 837l3-17 3 17zM397 885l3-9 3 9zM466 874l3-12 3 12zM303 825l3-14 3 14zM392 1095l3-12 3 12zM384 909l3-13 3 13zM342 1008l3-19 3 19zM272 946l3-29 3 29zM349 871l3-18 3 18zM532 939l3-22 3 22zM449 1034l3-18 3 18zM230 852l3-15 3 15zM459 816l3-40 3 40zM259 941l3-19 3 19zM407 1072l3-24 3 24zM328 825l3-9 3 9zM782 938l3-56 3 56zM551 870l3-26 3 26zM491 968l3-23 3 23zM224 914l3-13 3 13zM300 828l3-17 3 17zM394 839l3-21 3 21zM347 1040l3-24 3 24zM475 993l3-19 3 19zM530 924l3-10 3 10zM443 963l3-25 3 25zM298 1028l3-23 3 23zM537 869l3-23 3 23zM603 896l3-16 3 16zM475 943l3-17 3 17zM414 994l3-18 3 18zM337 1082l3-8 3 8zM354 804l3-21 3 21zM644 981l3-38 3 38zM356 1037l3-10 3 10zM220 913l3-17 3 17zM560 1026l3-8 3 8zM318 908l3-16 3 16zM320 820l3-35 3 35zM417 1084l3-15 3 15zM386 918l3-28 3 28zM299 908l3-9 3 9zM306 1034l3-19 3 19zM311 1021l3-16 3 16zM501 1074l3-23 3 23zM566 1033l3-12 3 12zM339 1088l3-20 3 20zM488 819l3-30 3 30zM692 892l3-14 3 14zM253 847l3-32 3 32zM622 936l3-28 3 28zM359 1033l3-13 3 13zM324 907l3-29 3 29zM438 1060l3-25 3 25zM386 974l3-15 3 15zM533 922l3-43 3 43zM235 875l3-10 3 10zM699 997l3-9 3 9zM270 995l3-21 3 21zM644 999l3-15 3 15zM541 786l3-29 3 29zM744 946l3-35 3 35zM754 945l3-40 3 40zM339 1041l3-16 3 16zM643 949l3-16 3 16zM391 801l3-14 3 14zM210 878l3-14 3 14zM495 913l3-13 3 13zM780 931l3-10 3 10zM419 996l3-11 3 11zM504 897l3-16 3 16zM261 861l3-9 3 9zM435 1106l3-19 3 19zM743 905l3-24 3 24zM460 802l3-23 3 23zM649 1034l3-19 3 19zM673 967l3-31 3 31zM456 1112l3-50 3 50zM178 908l3-33 3 33zM223 918l3-13 3 13zM470 979l3-16 3 16zM758 943l3-13 3 13zM397 925l3-26 3 26zM441 793l3-35 3 35zM377 973l3-10 3 10zM302 849l3-36 3 36zM223 949l3-19 3 19zM547 878l3-17 3 17zM659 1029l3-17 3 17zM272 997l3-16 3 16zM460 928l3-27 3 27zM536 1007l3-33 3 33zM550 860l3-16 3 16zM546 871l3-16 3 16zM454 1040l3-10 3 10zM238 845l3-17 3 17zM164 905l3-12 3 12zM527 803l3-20 3 20zM466 904l3-25 3 25zM350 848l3-11 3 11z"/>
<path class="r22" d="M424 913l3-9 3 9zM249 865l3-33 3 33zM142 884l3-33 3 33zM607 986l3-23 3 23zM532 942l3-13 3 13zM398 987l3-20 3 20zM296 1023l3-13 3 13zM101 887l3-34 3 34zM390 976l3-33 3 33zM222 948l3-28 3 28zM169 856l3-14 3 14zM169 900l3-30 3 30zM413 816l3-17 3 17zM340 942l3-28 3 28zM526 932l3-13 3 13zM416 933l3-28 3 28zM637 847l3-28 3 28zM261 870l3-24 3 24zM466 1033l3-11 3 11zM244 869l3-14 3 14zM462 939l3-14 3 14zM441 944l3-35 3 35zM519 996l3-18 3 18zM530 911l3-11 3 11zM320 993l3-16 3 16zM377 800l3-27 3 27zM199 961l3-12 3 12zM314 1035l3-22 3 22zM650 1014l3-10 3 10zM706 916l3-18 3 18zM289 882l3-12 3 12zM385 981l3-26 3 26zM158 866l3-16 3 16zM435 919l3-10 3 10zM594 968l3-15 3 15zM317 822l3-9 3 9zM465 1029l3-11 3 11zM364 855l3-22 3 22zM282 998l3-10 3 10zM706 1010l3-41 3 41zM233 843l3-29 3 29zM504 893l3-28 3 28zM202 920l3-12 3 12zM362 1036l3-12 3 12zM406 819l3-15 3 15zM476 942l3-27 3 27zM441 1061l3-33 3 33zM373 1085l3-22 3 22zM568 968l3-28 3 28zM385 962l3-18 3 18zM314 900l3-15 3 15zM280 910l3-28 3 28zM513 926l3-27 3 27zM335 1080l3-26 3 26zM186 879l3-17 3 17zM244 954l3-13 3 13zM246 975l3-24 3 24zM422 915l3-9 3 9zM501 1080l3-31 3 31zM434 926l3-13 3 13zM565 1040l3-14 3 14zM409 828l3-19 3 19zM290 885l3-16 3 16zM420 835l3-12 3 12zM209 965l3-11 3 11zM248 933l3-26 3 26zM312 925l3-25 3 25zM330 852l3-41 3 41zM510 928l3-13 3 13zM175 900l3-24 3 24zM396 822l3-19 3 19zM376 863l3-27 3 27zM409 816l3-21 3 21zM289 967l3-10 3 10zM387 818l3-23 3 23zM515 897l3-18 3 18zM425 870l3-43 3 43zM408 995l3-12 3 12zM572 1046l3-18 3 18zM622 1012l3-22 3 22zM186 912l3-14 3 14zM387 880l3-19 3 19zM399 819l3-10 3 10zM288 1009l3-12 3 12zM294 1020l3-8 3 8zM427 1016l3-21 3 21zM423 1077l3-29 3 29zM406 892l3-19 3 19zM287 1038l3-13 3 13zM540 939l3-18 3 18zM142 888l3-16 3 16zM369 1075l3-21 3 21z"/>
<path class="r23" d="M433 859l3-31 3 31zM509 963l3-20 3 20zM472 962l3-21 3 21zM389 913l3-33 3 33zM420 928l3-28 3 28zM434 1028l3-10 3 10zM467 946l3-20 3 20zM427 1013l3-9 3 9zM241 944l3-11 3 11zM416 831l3-16 3 16zM188 909l3-20 3 20zM473 1069l3-30 3 30zM259 936l3-22 3 22zM475 1048l3-24 3 24zM281 1032l3-21 3 21zM335 1051l3-12 3 12zM260 1005l3-21 3 21zM378 1082l3-25 3 25zM477 950l3-21 3 21zM164 853l3-10 3 10zM174 913l3-23 3 23zM402 1000l3-15 3 15zM130 894l3-17 3 17zM201 897l3-30 3 30zM754 967l3-40 3 40zM122 867l3-21 3 21zM307 1025l3-13 3 13zM323 1031l3-16 3 16zM361 971l3-18 3 18zM329 1040l3-19 3 19zM126 877l3-8 3 8zM639 1008l3-16 3 16zM528 907l3-26 3 26zM295 900l3-12 3 12zM283 1022l3-8 3 8zM585 985l3-31 3 31zM424 908l3-24 3 24zM383 1100l3-14 3 14zM190 907l3-13 3 13zM552 929l3-37 3 37zM325 932l3-13 3 13zM235 954l3-19 3 19zM143 901l3-9 3 9zM361 961l3-25 3 25zM456 944l3-31 3 31zM483 970l3-14 3 14zM225 952l3-9 3 9zM319 1029l3-24 3 24zM370 1084l3-18 3 18z"/>
<path class="r24" d="M229 948l3-32 3 32zM156 902l3-9 3 9zM275 886l3-21 3 21zM312 919l3-16 3 16zM309 1027l3-11 3 11zM230 953l3-17 3 17zM132 890l3-24 3 24zM120 865l3-19 3 19zM382 1100l3-21 3 21zM150 893l3-24 3 24zM186 920l3-20 3 20zM259 933l3-24 3 24zM130 867l3-10 3 10zM194 951l3-26 3 26zM247 837l3-20 3 20zM392 984l3-34 3 34zM229 843l3-16 3 16zM440 1026l3-24 3 24zM119 860l3-29 3 29zM367 1078l3-28 3 28zM285 1014l3-21 3 21zM204 944l3-20 3 20zM316 1036l3-9 3 9zM240 977l3-9 3 9zM215 946l3-15 3 15zM242 966l3-10 3 10zM387 973l3-9 3 9zM125 868l3-13 3 13zM169 904l3-16 3 16zM319 1053l3-16 3 16zM156 843l3-15 3 15zM426 1013l3-13 3 13zM311 918l3-18 3 18zM506 894l3-42 3 42zM345 1055l3-28 3 28zM160 902l3-35 3 35zM514 988l3-21 3 21zM166 919l3-20 3 20zM387 988l3-18 3 18z"/>
<path class="r25" d="M197 914l3-30 3 30zM128 866l3-14 3 14zM233 962l3-14 3 14zM378 1088l3-22 3 22zM289 909l3-44 3 44zM296 1010l3-19 3 19zM376 966l3-22 3 22zM119 873l3-23 3 23zM262 980l3-9 3 9zM170 911l3-17 3 17zM273 1000l3-28 3 28z"/>
<path class="r26" d="M317 922l3-40 3 40z"/>
</g>
</g>
<path d="M94.5 305.0 V265.0" stroke="#6a6a70" stroke-width=".9" fill="none"/>
<rect x="254.0" y="180.0" width="1.2" height="130.5" fill="url(#cbc)"/>
<text x="253.0" y="182.9" font-size="5.3" text-anchor="end">4.00</text>
<text x="253.0" y="200.0" font-size="5.3" text-anchor="end">3.00</text>
<text x="253.0" y="220.2" font-size="5.3" text-anchor="end">2.00</text>
<text x="253.0" y="237.2" font-size="5.3" text-anchor="end">1.00</text>
<text x="253.0" y="257.0" font-size="5.3" text-anchor="end">0.00</text>
<text x="253.0" y="274.7" font-size="5.3" text-anchor="end">−1.00</text>
<text x="253.0" y="294.3" font-size="5.3" text-anchor="end">−2.00</text>
<text x="253.0" y="311.5" font-size="5.3" text-anchor="end">−3.00 µm</text>
<text x="18.5" y="245.1" font-size="5.3" text-anchor="end">y(mm)</text>
<text x="219.8" y="275.4" font-size="5.3" text-anchor="start">x(mm)</text>
<text x="97.8" y="311.5" font-size="5.3" text-anchor="middle">0.0</text>
<text x="123.3" y="304.3" font-size="5.3" text-anchor="middle">0.2</text>
<text x="148.8" y="297.1" font-size="5.3" text-anchor="middle">0.4</text>
<text x="174.3" y="289.9" font-size="5.3" text-anchor="middle">0.6</text>
<text x="199.8" y="282.7" font-size="5.3" text-anchor="middle">0.8</text>
<text x="86.6" y="310.0" font-size="5.3" text-anchor="middle">0.0 </text>
<text x="71.8" y="297.4" font-size="5.3" text-anchor="middle">0.2 </text>
<text x="57.0" y="284.7" font-size="5.3" text-anchor="middle">0.4 </text>
<text x="42.2" y="272.0" font-size="5.3" text-anchor="middle">0.6 </text>
<text x="27.4" y="259.3" font-size="5.3" text-anchor="middle">0.8 </text>
<text x="129.0" y="334.8" font-size="14.5" text-anchor="middle" class="cap">(<tspan font-weight="bold">c</tspan>)</text>
<!-- panel d -->
<path d="M379.0 303.6 L307.0 241.0 L432.4 204.9 L504.4 267.5 Z" fill="none" stroke="#444" stroke-width=".75"/>
<path d="M379.0 303.6 l2.0 1.7M379.0 303.6 l-2.5 0.7M404.1 296.4 l2.0 1.7M364.6 291.1 l-2.5 0.7M429.2 289.2 l2.0 1.7M350.2 278.6 l-2.5 0.7M454.2 281.9 l2.0 1.7M335.8 266.0 l-2.5 0.7M479.3 274.7 l2.0 1.7M321.4 253.5 l-2.5 0.7" stroke="#444" stroke-width=".6" fill="none"/>
<g filter="url(#bl)">
<g transform="scale(0.2500)">
<path class="q20" d="M1960 962l-10-32 0 0 11 21z"/>
<path class="q18" d="M1990 991l-10-20-10-2-10-7 1-11 11 18 11 11 11 15z"/>
<path class="q15" d="M1999 1015l-9-24 4 4 11 21z"/>
<path class="q22" d="M1916 912l-10-23-11-11 0 0 11 14 11 7zM1945 938l-10-22-10-4 3-2 11 10 11 10z"/>
<path class="q21" d="M1925 912l-9 0 1-13 11 11z"/>
<path class="q20" d="M1955 952l-10-14 5-8 10 32z"/>
<path class="q19" d="M1984 985l-10-13-10-11-9-9 5 10 10 7 10 2 10 20z"/>
<path class="q17" d="M1994 1003l-10-18 6 6 9 24z"/>
<path class="q22" d="M1851 843l-10-7 0 0 11 11zM1939 934l-10-7-9-15-10-15-10-3-10-7-9-11 3-6 11 8 11 11 10 23 9 0 10 4 10 22zM1969 951l-10-6 5 16 10 11z"/>
<path class="q21" d="M1861 859l-10-16 1 4 10 17zM1881 876l-10-1 2-7 11 2zM1959 945l-10 1-10-12 6 4 10 14 9 9zM1978 983l-9-32 5 21 10 13z"/>
<path class="q20" d="M1871 875l-10-16 1 5 11 4z"/>
<path class="q18" d="M1988 1010l-10-27 6 2 10 18z"/>
<path class="q19" d="M1816 839l-10-18-9-14 0 0 11 17 11-10zM1875 889l-10-2-10-8-9-8 5-28 10 16 10 16 10 1zM1894 913l-9-4 5-22 10 7z"/>
<path class="q21" d="M1836 850l-10-8-10-3 3-25 11-2 11 24zM1914 931l-10-18-10 0 6-19 10 3 10 15zM1963 984l-10-11 6-28 10 6z"/>
<path class="q20" d="M1846 871l-10-21 5-14 10 7zM1885 909l-10-20 6-13 9 11zM1953 973l-10-7-9-13-10-14-10-8 6-19 9 15 10 7 10 12 10-1zM1973 986l-10-2 6-33 9 32z"/>
<path class="q18" d="M1982 1007l-9-21 5-3 10 27z"/>
<path class="q16" d="M1781 821l-10-17-9-12-10-6-10-6 0 0 11-1 11 19 11 9 11 8zM1859 891l-9 0-10-19 6-1 9 8 10 8zM1947 984l-9-2-10-16 6-13 9 13 10 7zM1977 1028l-10-15 6-27 9 21z"/>
<path class="q17" d="M1791 828l-10-7 5-6 11-8zM1840 872l-10-7-10-8-9-16-10-11 5-9 10 18 10 3 10 8 10 21zM1928 966l-10-13-10-6-9-9-10-11-10-13-10-16 6-9 10 20 9 4 10 0 10 18 10 8 10 14zM1967 1013l-10-25-10-4 6-11 10 11 10 2z"/>
<path class="q18" d="M1801 830l-10-2 6-21 9 14zM1869 898l-10-7 6-4 10 2z"/>
<path class="q14" d="M1746 800l-10-9-9-6-10-28 3 2 11 20 11 1 10 6zM1785 840l-9-8 5-11 10 7zM1864 922l-10-1-10-31 6 1 9 0 10 7z"/>
<path class="q15" d="M1776 832l-10-17-10-9-10-6 6-14 10 6 9 12 10 17zM1795 847l-10-7 6-12 10 2zM1824 875l-9-14 5-4 10 8zM1903 947l-10-9 6 0 9 9zM1961 1012l-9-3-10-15-10-19 6 7 9 2 10 4 10 25z"/>
<path class="q16" d="M1815 861l-10-20-10 6 6-17 10 11 9 16zM1844 890l-10-20-10 5 6-10 10 7 10 19zM1893 938l-10-15-10-10-9 9 5-24 10 16 10 13 10 11zM1932 975l-10-14-10-1-9-13 5 0 10 6 10 13 10 16z"/>
<path class="q13" d="M1971 1031l-10-19 6 1 10 15z"/>
<path class="q15" d="M1731 773l-10-4-10-4 6-8 10 28 9 6zM1789 839l-9-15-10-6-10-18 6 15 10 17 9 8 10 7zM1887 942l-10-5 6-14 10 15zM1946 996l-10-10 6 8 10 15z"/>
<path class="q16" d="M1760 800l-10-12-9-10-10-5 5 18 10 9 10 6 10 9zM1819 858l-10-4-10-5-10-10 6 8 10-6 10 20 9 14zM1848 890l-10-12 6 12 10 31zM1877 937l-9-16 5-8 10 10zM1907 954l-10-7-10-5 6-4 10 9 9 13zM1936 986l-10-23 6 12 10 19z"/>
<path class="q17" d="M1838 878l-9-9-10-11 5 17 10-5 10 20zM1917 955l-10-1 5 6 10 1z"/>
<path class="q14" d="M1868 921l-10 0-10-31 6 31 10 1 9-9zM1956 1019l-10-23 6 13 9 3z"/>
<path class="q18" d="M1926 963l-9-8 5 6 10 14z"/>
<path class="q13" d="M1966 1038l-10-19 5-7 10 19z"/>
<path class="q17" d="M1715 758l-9-9 5 16 10 4zM1794 840l-10-18 5 17 10 10zM1891 941l-9-15-10-16 5 27 10 5 10 5z"/>
<path class="q18" d="M1725 761l-10-3 6 11 10 4zM1803 843l-9-3 5 9 10 5zM1872 910l-10-19-10-1-10-10-9 4-10-11-10-20 6 5 10 11 9 9 10 12 10 31 10 0 9 16zM1901 941l-10 0 6 6 10 7zM1940 990l-9-20-10 3 5-10 10 23 10 10z"/>
<path class="q19" d="M1735 771l-10-10 6 12 10 5zM1784 822l-10-18-10 0-10-14 6 10 10 18 10 6 9 15zM1813 853l-10-10 6 11 10 4zM1921 973l-10-32-10 0 6 13 10 1 9 8z"/>
<path class="q20" d="M1754 790l-9-14-10-5 6 7 9 10 10 12z"/>
<path class="q16" d="M1950 1000l-10-10 6 6 10 23z"/>
<path class="q14" d="M1960 1025l-10-25 6 19 10 19z"/>
<path class="q21" d="M1749 790l-10-9-10-21-10-2-9-15-10-14 6 20 9 9 10 3 10 10 10 5 9 14zM1788 825l-10-15-10-2 6-4 10 18 10 18zM1866 911l-10-21 6 1 10 19zM1905 955l-9-23 5 9 10 0z"/>
<path class="q20" d="M1768 808l-9 4-10-22 5 0 10 14 10 0zM1827 864l-10-15-10 7-9-19-10-12 6 15 9 3 10 10 10 20 10 11zM1847 884l-10 10 5-14 10 10zM1896 932l-10-5-10-12-10-4 6-1 10 16 9 15 10 0zM1935 981l-10-15-10-5-10-6 6-14 10 32 10-3 9 20z"/>
<path class="q19" d="M1837 894l-10-30 6 20 9-4zM1944 994l-9-13 5 9 10 10z"/>
<path class="q22" d="M1856 890l-9-6 5 6 10 1z"/>
<path class="q16" d="M1954 1033l-10-39 6 6 10 25z"/>
<path class="q21" d="M1714 756l-10 0-10-7 6-20 10 14 9 15zM1763 813l-10-23-10-2-10-16 6 9 10 9 10 22 9-4zM1841 877l-10 6 6 11 10-10zM1870 911l-9-5 5 5 10 4zM1919 970l-10-13-9-20 5 18 10 6 10 5z"/>
<path class="q22" d="M1733 772l-9-1-10-15 5 2 10 2 10 21zM1821 874l-9-16-10-20-10-4-10-15-10-3-9-3 5-5 10 2 10 15 10 12 9 19 10-7 10 15zM1861 906l-10-21 5 5 10 21zM1880 912l-10-1 6 4 10 12z"/>
<path class="q20" d="M1831 883l-10-9 6-10 10 30zM1939 990l-10-4-10-16 6-4 10 15 9 13z"/>
<path class="q23" d="M1851 885l-10-8 6 7 9 6zM1900 937l-10-23-10-2 6 15 10 5 9 23z"/>
<path class="q18" d="M1949 1013l-10-23 5 4 10 39z"/>
<path class="q20" d="M1698 748l-9 3 5-2 10 7zM1728 787l-10 0 6-16 9 1zM1826 893l-10-14-10-9 6-12 9 16 10 9zM1914 976l-10-9 5-10 10 13z"/>
<path class="q21" d="M1718 787l-10-28-10-11 6 8 10 0 10 15zM1737 794l-9-7 5-15 10 16zM1806 870l-10-14 6-18 10 20zM1835 895l-9-2 5-10 10-6zM1865 919l-10-6 6-7 9 5zM1904 967l-10-2 6-28 9 20z"/>
<path class="q22" d="M1777 827l-10-14-10-4-10-8-10-7 6-6 10 2 10 23 9 3 10 3zM1796 856l-10-23 6 1 10 4zM1855 913l-10-12-10-6 6-18 10 8 10 21zM1894 965l-10-14-10-12-9-20 5-8 10 1 10 2 10 23z"/>
<path class="q23" d="M1786 833l-9-6 5-8 10 15z"/>
<path class="q19" d="M1943 1018l-10-23-10 0-9-19 5-6 10 16 10 4 10 23z"/>
<path class="q20" d="M1702 773l-9-5-10-22 6 5 9-3 10 11zM1781 865l-10-12 6-26 9 6z"/>
<path class="q19" d="M1712 786l-10-13 6-14 10 28zM1742 821l-10-11 5-16 10 7zM1771 853l-10-4 6-36 10 14zM1791 876l-10-11 5-32 10 23zM1859 947l-10-24-10-5-9-15-10-10 6 0 9 2 10 6 10 12 10 6zM1918 991l-10-6-10-3 6-15 10 9 9 19z"/>
<path class="q18" d="M1732 810l-10-2-10-22 6 1 10 0 9 7zM1761 849l-10-2-9-26 5-20 10 8 10 4zM1820 893l-10-2-10-11-9-4 5-20 10 14 10 9 10 14zM1888 976l-9-20-10-8-10-1 6-28 9 20 10 12 10 14zM1927 1014l-9-23 5 4 10 0z"/>
<path class="q17" d="M1898 982l-10-6 6-11 10 2z"/>
<path class="q16" d="M1937 1042l-10-28 6-19 10 23z"/>
<path class="q18" d="M1707 798l-10-11-10-14-10-7 6-20 10 22 9 5 10 13z"/>
<path class="q17" d="M1736 826l-10-7-10-17-9-4 5-12 10 22 10 2 10 11zM1785 875l-10-13 6 3 10 11zM1824 931l-10-23-10-6 6-11 10 2 10 10zM1844 941l-10-11 5-12 10 5zM1912 1014l-10-26-10-5 6-1 10 3 10 6z"/>
<path class="q16" d="M1746 845l-10-19 6-5 9 26zM1775 862l-10 10 6-19 10 12zM1804 902l-9-13-10-14 6 1 9 4 10 11zM1834 930l-10 1 6-28 9 15zM1853 962l-9-21 5-18 10 24zM1892 983l-9-5-10-8-10 0 6-22 10 8 9 20 10 6zM1922 1020l-10-6 6-23 9 23z"/>
<path class="q14" d="M1756 861l-10-16 5 2 10 2z"/>
<path class="q15" d="M1765 872l-9-11 5-12 10 4zM1863 970l-10-8 6-15 10 1z"/>
<path class="q13" d="M1932 1065l-10-45 5-6 10 28z"/>
<path class="q16" d="M1691 799l-10-18-9-3 5-12 10 7 10 14zM1838 936l-10-15-10-9-9-8-10-9-10-6-10-5-10-15-9-11 5 14 10-10 10 13 10 14 9 13 10 6 10 23 10-1 10 11zM1877 967l-10-1 6 4 10 8zM1897 1012l-10-21 5-8 10 5z"/>
<path class="q15" d="M1730 847l-9-17-10-8-10-13-10-10 6-12 10 11 9 4 10 17 10 7zM1848 952l-10-16 6 5 9 21zM1867 966l-10-9 6 13 10 0zM1916 1028l-10-14-9-2 5-24 10 26 10 6z"/>
<path class="q14" d="M1760 858l-10-3-10 1-10-9 6-21 10 19 10 16 9 11zM1857 957l-9-5 5 10 10 8z"/>
<path class="q17" d="M1887 991l-10-24 6 11 9 5z"/>
<path class="q11" d="M1926 1062l-10-34 6-8 10 45z"/>
<path class="q16" d="M1686 793l-10-14-10-9 6 8 9 3 10 18zM1744 843l-10-10 6 23 10-1zM1891 986l-10-5 6 10 10 21z"/>
<path class="q15" d="M1734 833l-9-2-10-16-10-1-10-17-9-4 5 6 10 10 10 13 10 8 9 17 10 9z"/>
<path class="q17" d="M1754 849l-10-6 6 12 10 3zM1783 878l-9-13-10-9 5 13 10 15 10 5zM1852 953l-10-8-10-13 6 4 10 16 9 5zM1881 981l-10-7 6-7 10 24zM1911 1008l-10-15-10-7 6 26 9 2 10 14z"/>
<path class="q18" d="M1764 856l-10-7 6 9 9 11zM1793 887l-10-9 6 11 10 6zM1832 932l-10-19 6 8 10 15zM1871 974l-9-21-10 0 5 4 10 9 10 1z"/>
<path class="q19" d="M1822 913l-9-13-10-13-10 0 6 8 10 9 9 8 10 9z"/>
<path class="q13" d="M1920 1052l-9-44 5 20 10 34z"/>
<path class="q18" d="M1680 774l-10-7-10-8 6 11 10 9 10 14zM1709 803l-10 3-9-26 5 17 10 17 10 1z"/>
<path class="q19" d="M1690 780l-10-6 6 19 9 4zM1729 818l-10-5-10-10 6 12 10 16 9 2zM1748 843l-9-14 5 14 10 6zM1836 925l-9-4-10-8 5 0 10 19 10 13z"/>
<path class="q20" d="M1739 829l-10-11 5 15 10 10zM1797 887l-10 0-9-20-10-1-10-12-10-11 6 6 10 7 10 9 9 13 10 9 10 0zM1846 929l-10-4 6 20 10 8zM1905 992l-10 3-10-26 6 17 10 7 10 15z"/>
<path class="q21" d="M1817 913l-10-18-10-8 6 0 10 13 9 13zM1885 969l-9-13-10-10-10-9-10-8 6 24 10 0 9 21 10 7 10 5z"/>
<path class="q17" d="M1915 1021l-10-29 6 16 9 44z"/>
<path class="q21" d="M1684 780l-10-14-10-11-9-15 5 19 10 8 10 7 10 6zM1713 804l-9-5 5 4 10 10zM1743 835l-10-2-10-18 6 3 10 11 9 14zM1821 911l-10-5 6 7 10 8zM1899 999l-10-9 6 5 10-3z"/>
<path class="q20" d="M1704 799l-10-4-10-15 6 0 9 26 10-3zM1909 1013l-10-14 6-7 10 29z"/>
<path class="q22" d="M1723 815l-10-11 6 9 10 5zM1762 845l-10-6-9-4 5 8 10 11 10 12zM1811 906l-10-15-9-8-10-21 5 25 10 0 10 8 10 18zM1831 925l-10-14 6 10 9 4zM1889 990l-9-25 5 4 10 26z"/>
<path class="q23" d="M1782 862l-10-9-10-8 6 21 10 1 9 20zM1850 944l-9-19-10 0 5 0 10 4 10 8z"/>
<path class="q24" d="M1880 965l-10-19-10-4-10 2 6-7 10 9 10 10 9 13z"/>
<path class="q23" d="M1669 765l-10-7-10-7 6-11 9 15 10 11zM1737 828l-10-15-10-6-9-5 5 2 10 11 10 18 10 2zM1825 917l-10-12 6 6 10 14z"/>
<path class="q22" d="M1678 781l-9-16 5 1 10 14zM1708 802l-10 0 6-3 9 5zM1903 1011l-9-32 5 20 10 14z"/>
<path class="q21" d="M1698 802l-10-12-10-9 6-1 10 15 10 4z"/>
<path class="q24" d="M1747 835l-10-7 6 7 9 4zM1815 905l-9-11-10-16-10-9 6 14 9 8 10 15 10 5zM1854 940l-9-5-10-12-10-6 6 8 10 0 9 19 10-2zM1894 979l-10-23 5 34 10 9z"/>
<path class="q25" d="M1786 869l-10-8-10-11-9-14-10-1 5 4 10 6 10 8 10 9 10 21zM1884 956l-10 4-10-12 6-2 10 19 9 25z"/>
<path class="q26" d="M1864 948l-10-8 6 2 10 4z"/>
<path class="q21" d="M1663 785l-10-16-10-10 6-8 10 7 10 7zM1712 829l-10 2-10-23-10-3 6-15 10 12 10 0 9 5z"/>
<path class="q20" d="M1682 805l-9-5-10-15 6-20 9 16 10 9z"/>
<path class="q23" d="M1741 853l-10-10-9-12-10-2 5-22 10 6 10 15 10 7zM1780 898l-9-8-10-13 5-27 10 11 10 8zM1810 928l-10-12-10-17 6-21 10 16 9 11zM1849 959l-10 0 6-24 9 5z"/>
<path class="q24" d="M1761 877l-10-19-10-5 6-18 10 1 9 14zM1790 899l-10-1 6-29 10 9zM1878 991l-10-9-9-15-10-8 5-19 10 8 10 12 10-4z"/>
<path class="q22" d="M1839 959l-10-13-10-8-9-10 5-23 10 12 10 6 10 12zM1898 1025l-10-31 6-15 9 32z"/>
<path class="q25" d="M1888 994l-10-3 6-35 10 23z"/>
<path class="q18" d="M1647 797l-9-18 5-20 10 10zM1736 880l-10-5-10-3 6-41 9 12 10 10zM1804 950l-10-6-10-5-9-28-10-1-10-13 6-20 10 13 9 8 10 1 10 17 10 12zM1843 993l-10-11-9-24 5-12 10 13 10 0z"/>
<path class="q17" d="M1667 814l-10-10-10-7 6-28 10 16 10 15zM1696 846l-9-12-10-4 5-25 10 3 10 23zM1716 872l-10-8 6-35 10 2z"/>
<path class="q16" d="M1677 830l-10-16 6-14 9 5zM1706 864l-10-18 6-15 10-2z"/>
<path class="q19" d="M1755 897l-10-15-9-2 5-27 10 5 10 19zM1824 958l-10-13-10 5 6-22 9 10 10 8zM1892 1031l-10-8-10-2-9-16-10-8-10-4 6-34 10 8 9 15 10 9 10 3 10 31z"/>
<path class="q14" d="M1661 822l-9-5-10-14-10-4 6-20 9 18 10 7 10 10zM1720 875l-10-5-9-10-10-12 5-2 10 18 10 8 10 3z"/>
<path class="q15" d="M1691 848l-10-11-10-13-10-2 6-8 10 16 10 4 9 12zM1740 897l-10-5-10-17 6 0 10 5 9 2zM1798 949l-9-1-10-15 5 6 10 5 10 6zM1886 1071l-9-37-10-4-10-11-10-12-10-15 6 1 10 4 10 8 9 16 10 2 10 8z"/>
<path class="q16" d="M1759 903l-10 4-9-10 5-15 10 15 10 13zM1779 933l-10-12 6-10 9 28zM1837 992l-9-16 5 6 10 11z"/>
<path class="q17" d="M1769 921l-10-18 6 7 10 1zM1808 957l-10-8 6 1 10-5zM1828 976l-10-7 6-11 9 24z"/>
<path class="q18" d="M1818 969l-10-12 6-12 10 13z"/>
<path class="q14" d="M1636 792l-10-4 6 11 10 4zM1881 1043l-10-12 6 3 9 37z"/>
<path class="q15" d="M1666 823l-10-6-10-21-10-4 6 11 10 14 9 5 10 2zM1793 952l-10-5-10-19 6 5 10 15 9 1zM1871 1031l-10-11 6 10 10 4z"/>
<path class="q16" d="M1734 883l-10-3-10-12-9-11-10-14-10 0-10-22-9 2 5 1 10 13 10 11 10 12 9 10 10 5 10 17 10 5zM1773 928l-10-11 6 4 10 12zM1802 962l-9-10 5-3 10 8zM1861 1020l-10-17-9-11-10-6 5 6 10 15 10 12 10 11z"/>
<path class="q17" d="M1763 917l-9-10-10-17-10-7 6 14 9 10 10-4 10 18zM1832 986l-10-8-10-12-10-4 6-5 10 12 10 7 9 16z"/>
<path class="q18" d="M1660 805l-10-5-10-5-9-17-10-7 5 17 10 4 10 4 10 21 10 6zM1709 853l-10-1-10-3-10-33 6 27 10 0 10 14 9 11zM1728 897l-9-39 5 22 10 3zM1758 899l-10 9 6-1 9 10zM1777 922l-10-12 6 18 10 19zM1865 1017l-9-10-10 0-10-20-10-8-10-9-9-11 5 7 10 12 10 8 10 6 9 11 10 17 10 11z"/>
<path class="q19" d="M1679 816l-9-3-10-8 6 18 9-2 10 22zM1719 858l-10-5 5 15 10 12zM1767 910l-9-11 5 18 10 11z"/>
<path class="q17" d="M1748 908l-10-4-10-7 6-14 10 7 10 17zM1807 959l-10-1-10-13-10-23 6 25 10 5 9 10 10 4zM1875 1041l-10-24 6 14 10 12z"/>
<path class="q20" d="M1625 780l-10-25 6 16 10 7zM1654 801l-10-5-9-8 5 7 10 5 10 5zM1684 839l-10-20 5-3 10 33zM1703 857l-10-13 6 8 10 1zM1723 867l-10-6 6-3 9 39zM1840 977l-10 10-9-19-10-12-10-7-10-14-10-4-9-10 5 1 10 23 10 13 10 1 9 11 10 9 10 8 10 20zM1860 1019l-10-26 6 14 9 10z"/>
<path class="q19" d="M1635 788l-10-8 6-2 9 17zM1693 844l-9-5 5 10 10 3zM1732 885l-9-18 5 30 10 7zM1752 909l-10-8 6 7 10-9z"/>
<path class="q21" d="M1664 808l-10-7 6 4 10 8zM1713 861l-10-4 6-4 10 5zM1762 901l-10 8 6-10 9 11zM1850 993l-10-16 6 30 10 0z"/>
<path class="q22" d="M1674 819l-10-11 6 5 9 3zM1772 921l-10-20 5 9 10 12z"/>
<path class="q18" d="M1742 901l-10-16 6 19 10 4z"/>
<path class="q17" d="M1869 1066l-9-47 5-2 10 24z"/>
<path class="q21" d="M1619 778l-10-22 6-1 10 25zM1649 807l-10-10-10-12 6 3 9 8 10 5zM1707 856l-9-2-10-17-10-10 6 12 9 5 10 13 10 4zM1746 897l-9-16 5 20 10 8zM1834 990l-9-6-10-21 6 5 9 19 10-10z"/>
<path class="q20" d="M1629 785l-10-7 6 2 10 8z"/>
<path class="q22" d="M1678 827l-10-12-10-8-9 0 5-6 10 7 10 11 10 20zM1737 881l-10-6-10-8-10-11 6 5 10 6 9 18 10 16zM1756 906l-10-9 6 12 10-8zM1815 963l-10-1-10-12-9-5-10-24-10-12 6 12 9 10 10 4 10 14 10 7 10 12zM1854 1015l-10-25 6 3 10 26z"/>
<path class="q23" d="M1766 909l-10-3 6-5 10 20zM1844 990l-10 0 6-13 10 16z"/>
<path class="q18" d="M1864 1024l-10-9 6 4 9 47z"/>
<path class="q21" d="M1614 773l-10 8 5-25 10 22zM1721 891l-10-8-9-13-10-15-10-5-10-9-9-7-10-14-10-14-10-17 6 8 10 10 9 0 10 8 10 12 10 10 10 17 9 2 10 11 10 8zM1819 996l-10-21 6-12 10 21zM1848 1028l-9-27-10 5 5-16 10 0 10 25z"/>
<path class="q22" d="M1633 789l-10-12-9-4 5 5 10 7 10 12zM1809 975l-10-12-9-15-10-7-10-5-10-5-9-11-10-15-10-7-10-7 6-16 10 6 9 16 10 9 10 3 10 12 10 24 9 5 10 12 10 1z"/>
<path class="q20" d="M1829 1006l-10-10 6-12 9 6z"/>
<path class="q19" d="M1858 1042l-10-14 6-13 10 9z"/>
<path class="q18" d="M1608 801l-10-11 6-9 10-8zM1706 904l-10-14-10-8-10-4-9-17-10-16-10-9 6-16 10 14 9 7 10 9 10 5 10 15 9 13zM1725 912l-9 3 5-24 10 7zM1764 954l-9 2 5-25 10 5zM1833 1032l-10-17-10-18 6-1 10 10 10-5z"/>
<path class="q19" d="M1618 812l-10-11 6-28 9 4zM1647 836l-10-12 6-18 10 14zM1745 943l-10-21-10-10 6-14 10 7 10 15zM1813 997l-9-7-10-6-10-6-10-5-10-19 6-18 10 5 10 7 9 15 10 12 10 21z"/>
<path class="q20" d="M1637 824l-9-9-10-3 5-35 10 12 10 17z"/>
<path class="q17" d="M1716 915l-10-11 5-21 10 8zM1755 956l-10-13 6-23 9 11zM1843 1046l-10-14 6-31 9 27z"/>
<path class="q15" d="M1852 1083l-9-37 5-18 10 14z"/>
<path class="q14" d="M1602 816l-9-3 5-23 10 11zM1837 1057l-10-16 6-9 10 14z"/>
<path class="q15" d="M1612 818l-10-2 6-15 10 11zM1681 890l-10-14 5 2 10 4zM1827 1041l-10-13 6-13 10 17z"/>
<path class="q16" d="M1622 823l-10-5 6-6 10 3zM1671 876l-10-15-10-5-10-13 6-7 10 9 10 16 9 17zM1749 950l-10-8-10-5-9-9-10-17-10-5-10-14-9-2 5-8 10 8 10 14 10 11 9-3 10 10 10 21 10 13zM1817 1028l-9-6-10-18-10-3-10-24-9-9 5 5 10 5 10 6 10 6 9 7 10 18z"/>
<path class="q17" d="M1641 843l-9-7-10-13 6-8 9 9 10 12zM1769 968l-10-14-10-4 6 6 9-2 10 19z"/>
<path class="q12" d="M1847 1074l-10-17 6-11 9 37z"/>
<path class="q13" d="M1597 810l-10 0 6 3 9 3z"/>
<path class="q15" d="M1665 886l-10-10-9-11-10-9-10-15-10-11-10-8-9-12 5 6 10 2 10 5 10 13 9 7 10 13 10 5 10 15zM1753 973l-10-8-9-14-10-13-10-10-10 2 6-19 10 17 9 9 10 5 10 8 10 4zM1783 1007l-10-16 5-14 10 24z"/>
<path class="q14" d="M1704 930l-10-4-9-11-10-18-10-11 6-10 10 14 9 2 10 14 10 5zM1831 1053l-9-19-10-2-10-3-10-9-9-13 5-6 10 3 10 18 9 6 10 13 10 16z"/>
<path class="q16" d="M1773 991l-10-12-10-6 6-19 10 14 9 9z"/>
<path class="q12" d="M1841 1074l-10-21 6 4 10 17z"/>
<path class="q16" d="M1611 818l-10 2-10-25-10-10 6 25 10 0 9 12 10 8zM1669 878l-10-12-9-13-10-14-10-5 6 22 10 9 9 11 10 10 10 11zM1718 929l-10-6 6 5 10 10zM1796 1003l-9-15-10-7-10-5-10-4-9-16-10-11 5 20 10 8 10 6 10 12 10 16 9 13 10 9zM1826 1038l-10-17-10 1 6 10 10 2 9 19z"/>
<path class="q17" d="M1630 834l-10-12-9-4 5 12 10 11 10 15zM1738 945l-10-20-10 4 6 9 10 13 9 14z"/>
<path class="q15" d="M1689 898l-10-14-10-6 6 19 10 18 9 11zM1708 923l-9-7 5 14 10-2zM1806 1022l-10-19 6 26 10 3z"/>
<path class="q14" d="M1699 916l-10-18 5 28 10 4zM1836 1073l-10-35 5 15 10 21z"/>
<path class="q20" d="M1585 781l-9-8 5 12 10 10zM1644 855l-10-24-10-7 6 10 10 5 10 14zM1732 932l-10-11-9-6 5 14 10-4 10 20z"/>
<path class="q19" d="M1624 824l-9 4-10-22-10-8-10-17 6 14 10 25 10-2 9 4 10 12zM1673 884l-9-20-10-7-10-2 6-2 9 13 10 12 10 6zM1713 915l-10-5 5 13 10 6zM1742 946l-10-14 6 13 10 11zM1810 1018l-9-10-10-11-10 8 6-17 9 15 10 19 10-1z"/>
<path class="q18" d="M1703 910l-10-13-10-2-10-11 6 0 10 14 10 18 9 7zM1781 1005l-10-15-10-19-9 2-10-27 6 10 9 16 10 4 10 5 10 7zM1820 1038l-10-20 6 3 10 17z"/>
<path class="q14" d="M1830 1086l-10-48 6 0 10 35z"/>
<path class="q21" d="M1648 847l-10-5-9-11-10-4-10-16-10-7-10-10-9-7-10-11 6-3 9 8 10 17 10 8 10 22 9-4 10 7 10 24 10 2zM1687 885l-9-8-10-16 5 23 10 11 10 2zM1746 950l-10-16 6 12 10 27z"/>
<path class="q22" d="M1668 861l-10-11-10-3 6 10 10 7 9 20zM1736 934l-10-12-9-5-10-6-10-19-10-7 6 12 10 13 10 5 9 6 10 11 10 14z"/>
<path class="q20" d="M1766 974l-10-12-10-12 6 23 9-2 10 19zM1814 1023l-9-6-10-11-10-9 6 0 10 11 9 10 10 20z"/>
<path class="q19" d="M1785 997l-10-7-9-16 5 16 10 15 10-8z"/>
<path class="q15" d="M1824 1072l-10-49 6 15 10 48z"/>
<path class="q22" d="M1613 827l-10-15-9-15-10-4-10-10-10-24 6 17 10 11 9 7 10 10 10 7 10 16zM1643 852l-10-10-10-8 6-3 9 11 10 5zM1682 898l-10-14 6-7 9 8zM1740 947l-9-5-10 2-10-20-10-17 6 4 10 6 9 5 10 12 10 16zM1770 980l-10-17 6 11 9 16zM1809 1007l-10 0-10-10-10-11 6 11 10 9 10 11 9 6z"/>
<path class="q21" d="M1623 834l-10-7 6 0 10 4zM1779 986l-9-6 5 10 10 7z"/>
<path class="q23" d="M1672 884l-10-16-10-4-9-12 5-5 10 3 10 11 10 16zM1701 907l-10-9-9 0 5-13 10 7 10 19zM1760 963l-10-17-10 1 6 3 10 12 10 12z"/>
<path class="q20" d="M1819 1030l-10-23 5 16 10 49z"/>
<path class="q22" d="M1568 804l-9-31 5-14 10 24zM1696 919l-10-8 5-13 10 9zM1754 985l-10-7 6-32 10 17z"/>
<path class="q20" d="M1578 805l-10-1 6-21 10 10zM1647 878l-10-6-10-9-10-6-9-29 5-1 10 7 10 8 10 10 9 12zM1686 911l-10 6 6-19 9 0zM1793 1039l-9-17 5-25 10 10zM1813 1060l-10-20 6-33 10 23z"/>
<path class="q21" d="M1608 828l-10 0-10-16-10-7 6-12 10 4 9 15 10 15zM1666 903l-10-20-9-5 5-14 10 4 10 16zM1705 946l-9-27 5-12 10 17zM1744 978l-9-8-10-18 6-10 9 5 10-1zM1784 1022l-10-16-10-11-10-10 6-22 10 17 9 6 10 11zM1803 1040l-10-1 6-32 10 0z"/>
<path class="q19" d="M1676 917l-10-14 6-19 10 14zM1725 952l-10 8-10-14 6-22 10 20 10-2z"/>
<path class="q17" d="M1573 823l-10 0-10-9 6-41 9 31 10 1zM1621 870l-9-4-10-2-10-14 6-22 10 0 9 29 10 6zM1661 925l-10-23 5-19 10 20zM1680 936l-10-12 6-7 10-6zM1700 960l-10-13 6-28 9 27zM1729 992l-10-15-10-20 6 3 10-8 10 18zM1758 1011l-9 1 5-27 10 10zM1798 1053l-10-9 5-5 10 1z"/>
<path class="q18" d="M1592 850l-10-16-9-11 5-18 10 7 10 16zM1641 882l-10-1-10-11 6-7 10 9 10 6zM1690 947l-10-11 6-25 10 8zM1768 1024l-10-13 6-16 10 11z"/>
<path class="q19" d="M1651 902l-10-20 6-4 9 5z"/>
<path class="q16" d="M1670 924l-9 1 5-22 10 14zM1709 957l-9 3 5-14 10 14zM1749 1012l-10-8-10-12 6-22 9 8 10 7zM1778 1053l-10-29 6-18 10 16z"/>
<path class="q15" d="M1788 1044l-10 9 6-31 9 17zM1807 1082l-9-29 5-13 10 20z"/>
<path class="q14" d="M1557 826l-10-4 6-8 10 9zM1606 877l-10-10-10-7 6-10 10 14 10 2zM1665 937l-10-16 6 4 9-1zM1694 964l-10-9 6-8 10 13zM1743 1012l-10-9-10-7-9-16 5-3 10 15 10 12 10 8zM1792 1064l-10-2-10-30-9 7 5-15 10 29 10-9 10 9z"/>
<path class="q15" d="M1567 824l-10 2 6-3 10 0zM1586 860l-9-24 5-2 10 16zM1616 886l-10-9 6-11 9 4zM1655 921l-10-10 6-9 10 23zM1684 955l-10-13-9-5 5-13 10 12 10 11zM1714 980l-10-8-10-8 6-4 9-3 10 20zM1763 1039l-10-17-10-10 6 0 9-1 10 13z"/>
<path class="q16" d="M1577 836l-10-12 6-1 9 11zM1626 889l-10-3 5-16 10 11z"/>
<path class="q17" d="M1645 911l-10-19-9-3 5-8 10 1 10 20z"/>
<path class="q13" d="M1802 1095l-10-31 6-11 9 29z"/>
<path class="q15" d="M1551 809l-9-6 5 19 10 4zM1581 850l-10-17 6 3 9 24zM1610 868l-10 5 6 4 10 9zM1679 948l-10-11-10-15-10-7 6 6 10 16 9 5 10 13zM1718 984l-10-9 6 5 9 16zM1757 1018l-10-1-10-15 6 10 10 10 10 17zM1776 1051l-9-13 5-6 10 30z"/>
<path class="q17" d="M1571 833l-10-13-10-11 6 17 10-2 10 12zM1639 898l-9-4-10-14 6 9 9 3 10 19z"/>
<path class="q14" d="M1600 873l-9-3-10-20 5 10 10 7 10 10zM1786 1058l-10-7 6 11 10 2z"/>
<path class="q16" d="M1620 880l-10-12 6 18 10 3zM1649 915l-10-17 6 13 10 10zM1708 975l-10-14-10-17-9 4 5 7 10 9 10 8 10 8zM1737 1002l-9-16-10-2 5 12 10 7 10 9zM1767 1038l-10-20 6 21 9-7z"/>
<path class="q13" d="M1796 1082l-10-24 6 6 10 31z"/>
<path class="q18" d="M1565 835l-9-21-10-5-10-12 6 6 9 6 10 11 10 13zM1644 912l-10-20-10-3-10-10-10-17 6 6 10 12 10 14 9 4 10 17zM1732 990l-10-2-10-9-10-21-9 2-10-8 5-8 10 17 10 14 10 9 10 2 9 16zM1761 1021l-10-5 6 2 10 20z"/>
<path class="q17" d="M1575 843l-10-8 6-2 10 17zM1604 862l-9 2 5 9 10-5zM1683 952l-10-13-10-10-10-5-9-12 5 3 10 7 10 15 10 11 9-4zM1751 1016l-10-7-9-19 5 12 10 15 10 1zM1781 1047l-10-10-10-16 6 17 9 13 10 7z"/>
<path class="q16" d="M1595 864l-10-20-10-1 6 7 10 20 9 3z"/>
<path class="q14" d="M1790 1088l-9-41 5 11 10 24z"/>
<path class="q20" d="M1560 812l-10-4-10-7-10-11 6 7 10 12 10 5 9 21zM1599 859l-10-21-10 1 6 5 10 20 9-2zM1648 902l-10-13-10 0-10-20 6 20 10 3 10 20 9 12zM1706 973l-9-15-10-12-10-16-10-7 6 16 10 13 10 8 9-2 10 21zM1726 992l-10-19 6 15 10 2zM1755 1022l-9-30-10 10 5 7 10 7 10 5z"/>
<path class="q19" d="M1579 839l-10-6-9-21 5 23 10 8 10 1zM1618 869l-9 8-10-18 5 3 10 17 10 10zM1667 923l-9-2-10-19 5 22 10 5 10 10zM1716 973l-10 0 6 6 10 9zM1736 1002l-10-10 6-2 9 19zM1775 1049l-10-18-10-9 6-1 10 16 10 10z"/>
<path class="q16" d="M1785 1073l-10-24 6-2 9 41z"/>
<path class="q22" d="M1534 791l-9-18 5 17 10 11zM1593 854l-10-10-9-5 5 0 10-1 10 21zM1613 873l-10-12 6 16 9-8zM1652 907l-10-8-10-3 6-7 10 13 10 19zM1681 944l-10-6 6-8 10 16zM1750 1015l-10-18-10-6 6 11 10-10 9 30z"/>
<path class="q21" d="M1574 839l-10-13-10-7-10-8-10-20 6 10 10 7 10 4 9 21 10 6zM1603 861l-10-7 6 5 10 18zM1632 896l-9-5-10-18 5-4 10 20 10 0zM1671 938l-9-5-10-26 6 14 9 2 10 7zM1730 991l-10-6-9-14-10-7-10-13-10-7 6 2 10 12 9 15 10 0 10 19 10 10z"/>
<path class="q20" d="M1769 1030l-10-1-9-14 5 7 10 9 10 18z"/>
<path class="q19" d="M1779 1042l-10-12 6 19 10 24z"/>
<path class="q24" d="M1529 796l-10-23 6 0 9 18z"/>
<path class="q21" d="M1548 815l-9 2-10-21 5-5 10 20 10 8zM1568 836l-10-6 6-4 10 13zM1627 897l-10-12 6 6 9 5zM1656 938l-10-15 6-16 10 26zM1676 950l-10-10 5-2 10 6zM1715 991l-10-10-10-6-10-20 6-4 10 13 10 7 9 14zM1744 1030l-10-16 6-17 10 18zM1773 1054l-9-17-10-5 5-3 10 1 10 12z"/>
<path class="q22" d="M1558 830l-10-15 6 4 10 7zM1588 855l-10-5-10-14 6 3 9 5 10 10zM1617 885l-10-6-10-19 6 1 10 12 10 18zM1646 923l-10-10-9-16 5-1 10 3 10 8zM1685 955l-9-5 5-6 10 7zM1734 1014l-10-20-9-3 5-6 10 6 10 6z"/>
<path class="q23" d="M1597 860l-9-5 5-1 10 7z"/>
<path class="q20" d="M1666 940l-10-2 6-5 9 5zM1754 1032l-10-2 6-15 9 14z"/>
<path class="q20" d="M1523 826l-10-19 6-34 10 23zM1582 881l-10-18-10-9-9-5 5-19 10 6 10 14 10 5z"/>
<path class="q19" d="M1533 836l-10-10 6-30 10 21zM1553 849l-10 0 5-34 10 15zM1650 951l-9-15-10-14-10 0-10-11-10-12-9 1-10-19 6-26 9 5 10 19 10 6 10 12 9 16 10 10 10 15zM1689 996l-9-14-10-8 6-24 9 5 10 20zM1738 1027l-9-3-10 2-10-19-10-10 6-16 10 10 9 3 10 20 10 16z"/>
<path class="q18" d="M1543 849l-10-13 6-19 9-2zM1670 974l-10-4-10-19 6-13 10 2 10 10zM1699 997l-10-1 6-21 10 6zM1758 1069l-10-12-10-30 6 3 10 2 10 5z"/>
<path class="q17" d="M1768 1090l-10-21 6-32 9 17z"/>
<path class="q16" d="M1518 825l-10 12 5-30 10 19zM1557 873l-10-6-10-18-10-17 6 4 10 13 10 0 9 5zM1586 907l-10-22 6-4 10 19zM1615 933l-9-20-10 1 5-15 10 12 10 11zM1703 1022l-9-13-10-7-10-12-10-12 6-4 10 8 9 14 10 1 10 10zM1743 1060l-10-12 5-21 10 30z"/>
<path class="q17" d="M1527 832l-9-7 5 1 10 10zM1576 885l-10-7-9-5 5-19 10 9 10 18zM1625 934l-10-1 6-11 10 0zM1645 962l-10-23 6-3 9 15zM1733 1048l-10 1 6-25 9 3z"/>
<path class="q15" d="M1596 914l-10-7 6-7 9-1zM1664 978l-10-7-9-9 5-11 10 19 10 4zM1723 1049l-10-15-10-12 6-15 10 19 10-2zM1752 1061l-9-1 5-3 10 12z"/>
<path class="q18" d="M1635 939l-10-5 6-12 10 14z"/>
<path class="q14" d="M1762 1097l-10-36 6 8 10 21z"/>
<path class="q15" d="M1512 830l-10-8 6 15 10-12zM1551 867l-10-1-10-7 6-10 10 18 10 6zM1619 940l-9-5-10 0-10-19-10-17-9 5-10-20 5-6 10 7 10 22 10 7 10-1 9 20 10 1zM1639 968l-10-14 6-15 10 23zM1708 1034l-10-14-10 1-10-22-10-6-9-1 5-14 10 12 10 12 10 7 9 13 10 12zM1737 1068l-10-18 6-2 10 12z"/>
<path class="q17" d="M1522 835l-10-5 6-5 9 7z"/>
<path class="q16" d="M1531 859l-9-24 5-3 10 17zM1561 884l-10-17 6 6 9 5zM1629 954l-10-14 6-6 10 5z"/>
<path class="q14" d="M1659 992l-10-9-10-15 6-6 9 9 10 7zM1727 1050l-10-2-9-14 5 0 10 15 10-1zM1747 1086l-10-18 6-8 9 1z"/>
<path class="q12" d="M1756 1115l-9-29 5-25 10 36z"/>
<path class="q17" d="M1516 846l-10-30-10-7 6 13 10 8 10 5zM1575 879l-10 8 6 17 9-5zM1614 929l-10-6 6 12 9 5zM1673 983l-10-8 5 18 10 6z"/>
<path class="q15" d="M1536 852l-10 3-10-9 6-11 9 24 10 7zM1565 887l-10-8 6 5 10 20zM1653 970l-10-6-10-2-9-14 5 6 10 14 10 15 10 9z"/>
<path class="q16" d="M1555 879l-10-8-9-19 5 14 10 1 10 17zM1604 923l-10-14-10-13 6 20 10 19 10 0zM1624 948l-10-19 5 11 10 14zM1663 975l-10-5 6 22 9 1zM1731 1054l-10-16-9-6-10-12-10-9-10-9-9-19 5 16 10 22 10-1 10 14 9 14 10 2 10 18z"/>
<path class="q18" d="M1584 896l-9-17 5 20 10 17z"/>
<path class="q14" d="M1741 1071l-10-17 6 14 10 18z"/>
<path class="q12" d="M1751 1098l-10-27 6 15 9 29z"/>
<path class="q20" d="M1501 806l-10-13 5 16 10 7zM1589 907l-10-23-10-2 6-3 9 17 10 13z"/>
<path class="q19" d="M1510 827l-9-21 5 10 10 30zM1549 856l-9-13-10 2 6 7 9 19 10 8zM1569 882l-10 0 6 5 10-8zM1677 995l-10-15-10-2-10-14-9-10-10-22-10 1-10-10-10-3 6 3 10 6 10 19 9 14 10 2 10 6 10 5 10 8 9 19zM1716 1034l-10-14-10-2 6 2 10 12 9 6z"/>
<path class="q17" d="M1520 843l-10-16 6 19 10 9zM1735 1059l-9-3 5-2 10 17z"/>
<path class="q18" d="M1530 845l-10-2 6 12 10-3zM1559 882l-10-26 6 23 10 8zM1598 920l-9-13 5 2 10 14zM1696 1018l-10-12-9-11 5 7 10 9 10 9zM1726 1056l-10-22 5 4 10 16z"/>
<path class="q16" d="M1745 1074l-10-15 6 12 10 27z"/>
<path class="q21" d="M1505 819l-10-3-10-13 6-10 10 13 9 21zM1534 846l-10-10 6 9 10-2zM1573 882l-10 3-9-27-10 1 5-3 10 26 10 0 10 2zM1612 918l-9-4 5 9 10 10zM1671 992l-10-18-10-11-9-11-10-9 6 11 9 10 10 14 10 2 10 15zM1710 1024l-10-10-9-17-10-1 5 10 10 12 10 2 10 14z"/>
<path class="q20" d="M1524 836l-10-7-9-10 5 8 10 16 10 2zM1603 914l-10-1-10-24 6 18 9 13 10 3zM1681 996l-10-4 6 3 9 11zM1730 1046l-10-13-10-9 6 10 10 22 9 3z"/>
<path class="q22" d="M1544 859l-10-13 6-3 9 13zM1583 889l-10-7 6 2 10 23zM1632 943l-10-15-10-10 6 15 10-1 10 22z"/>
<path class="q19" d="M1739 1069l-9-23 5 13 10 15z"/>
<path class="q22" d="M1519 847l-10-22-10-16-10-9-9-4 5 7 10 13 10 3 9 10 10 7zM1538 854l-10-5 6-3 10 13zM1568 888l-10-18 5 15 10-3zM1636 957l-10-15 6 1 10 9zM1675 990l-10-16-9-3 5 3 10 18 10 4zM1724 1041l-10-7-10-16 6 6 10 9 10 13z"/>
<path class="q21" d="M1528 849l-9-2 5-11 10 10zM1597 917l-10 0-10-21 6-7 10 24 10 1z"/>
<path class="q23" d="M1558 870l-10-7-10-9 6 5 10-1 9 27zM1577 896l-9-8 5-6 10 7zM1626 942l-10-11-9-12-10-2 6-3 9 4 10 10 10 15zM1656 971l-10-12-10-2 6-5 9 11 10 11zM1704 1018l-9-10-10-9-10-9 6 6 10 1 9 17 10 10z"/>
<path class="q20" d="M1734 1082l-10-41 6 5 9 23z"/>
<path class="q21" d="M1484 814l-10 9 6-27 9 4zM1503 848l-10-14 6-25 10 16zM1562 906l-10-12-10-11-9-13-10-13 5-8 10 5 10 9 10 7 10 18zM1601 938l-10-4 6-17 10 2zM1650 984l-10 0-10-14-9-16 5-12 10 15 10 2 10 12zM1669 1017l-9-18 5-25 10 16zM1689 1022l-10 6 6-29 10 9zM1709 1055l-10-24 5-13 10 16z"/>
<path class="q22" d="M1493 834l-9-20 5-14 10 9zM1621 954l-10-12-10-4 6-19 9 12 10 11zM1660 999l-10-15 6-13 9 3zM1699 1031l-10-9 6-14 9 10z"/>
<path class="q20" d="M1523 857l-10-5-10-4 6-23 10 22 9 2zM1591 934l-10-10-9-11-10-7 6-18 9 8 10 21 10 0zM1679 1028l-10-11 6-27 10 9zM1718 1067l-9-12 5-21 10 7z"/>
<path class="q17" d="M1728 1104l-10-37 6-26 10 41z"/>
<path class="q17" d="M1478 846l-10-16 6-7 10-9zM1507 870l-9-10-10-14 5-12 10 14 10 4zM1566 942l-10-27-10-4-9-5-10-17 6-19 9 13 10 11 10 12 10 7zM1595 960l-9-9 5-17 10 4zM1634 1001l-9-5-10-15 6-27 9 16 10 14zM1664 1030l-10-6 6-25 9 18zM1683 1046l-9 6 5-24 10-6zM1713 1073l-10-7 6-11 9 12z"/>
<path class="q18" d="M1488 846l-10 0 6-32 9 20zM1527 889l-10-10-10-9 6-18 10 5 10 13zM1615 981l-10-10-10-11 6-22 10 4 10 12zM1654 1024l-10-22-10-1 6-17 10 0 10 15zM1703 1066l-10-13 6-22 10 24z"/>
<path class="q16" d="M1586 951l-10 1-10-10 6-29 9 11 10 10zM1674 1052l-10-22 5-13 10 11z"/>
<path class="q19" d="M1693 1053l-10-7 6-24 10 9z"/>
<path class="q15" d="M1723 1103l-10-30 5-6 10 37z"/>
<path class="q15" d="M1541 913l-10-14-10 1-10-9-9-9-10-14-10-4-10-12-9-19 5-3 10 16 10 0 10 14 9 10 10 9 10 10 10 17 9 5zM1580 952l-10-19-10 3-9-8 5-13 10 27 10 10 10-1zM1619 997l-10-16 6 0 10 15zM1658 1042l-10-20-9-5-10-5 5-11 10 1 10 22 10 6zM1678 1049l-10 1 6 2 9-6zM1707 1098l-10-23 6-9 10 7z"/>
<path class="q16" d="M1551 928l-10-15 5-2 10 4zM1609 981l-10-13-9-8-10-8 6-1 9 9 10 11 10 10zM1697 1075l-9-15-10-11 5-3 10 7 10 13z"/>
<path class="q14" d="M1629 1012l-10-15 6-1 9 5zM1668 1050l-10-8 6-12 10 22z"/>
<path class="q13" d="M1717 1119l-10-21 6-25 10 30z"/>
<path class="q16" d="M1467 834l-10 1 6-2 9 19zM1516 880l-10-6-10-7 6 15 9 9 10 9zM1584 954l-10-1-9-11-10-18-10-5-10-6-10-20 6 6 10 14 10 15 9 8 10-3 10 19 10 8zM1643 1024l-10-21 6 14 9 5zM1672 1042l-10-12 6 20 10-1zM1692 1070l-10-19 6 9 9 15z"/>
<path class="q15" d="M1496 867l-10-5-10-10-9-18 5 18 10 12 10 4 10 14zM1633 1003l-10-1-10-11-9-9 5-1 10 16 10 15 10 5zM1662 1030l-9 8 5 4 10 8zM1701 1077l-9-7 5 5 10 23z"/>
<path class="q17" d="M1525 893l-9-13 5 20 10-1zM1604 982l-10-22-10-6 6 6 9 8 10 13zM1682 1051l-10-9 6 7 10 11z"/>
<path class="q14" d="M1653 1038l-10-14 5-2 10 20z"/>
<path class="q13" d="M1711 1095l-10-18 6 21 10 21z"/>
<path class="q18" d="M1471 842l-10-16-10 2 6 7 10-1 9 18zM1559 931l-10-11-10-15-9-3-10-8-10-10-10-13-10-7 6 3 10 7 10 6 9 13 10 20 10 6 10 5 10 18zM1598 972l-10-7-10-9-9-21 5 18 10 1 10 6 10 22zM1686 1060l-10-7-10-11-9-11-10-17 6 24 9-8 10 12 10 9 10 19z"/>
<path class="q17" d="M1490 864l-9-9-10-13 5 10 10 10 10 5zM1569 935l-10-4 6 11 9 11zM1647 1014l-10-3-10-7-9-12-10-6-10-14 6 10 9 9 10 11 10 1 10 21 10 14zM1706 1088l-10-20-10-8 6 10 9 7 10 18z"/>
<path class="q20" d="M1455 830l-9-19 5 17 10-2zM1563 932l-10-16-10-6-9-9-10-10-10-8-10-12 6 13 10 10 10 8 9 3 10 15 10 11 10 4z"/>
<path class="q19" d="M1504 871l-9-3-10-15-10-10-10-5-10-8 6-4 10 16 10 13 9 9 10 7 10 13zM1690 1063l-10-3-9-12-10-14-10-10-10 0-10-18-9-12-10-9-10-10-10-9-9-15-10-1-10-18 6 3 9 21 10 9 10 7 10 14 10 6 9 12 10 7 10 3 10 17 9 11 10 11 10 7 10 8z"/>
<path class="q18" d="M1700 1093l-10-30 6 5 10 20z"/>
<path class="q22" d="M1479 841l-10-1-9-22-10-15-10 1 6 7 9 19 10 8 10 5 10 10zM1538 897l-10 6-10-19-10-7 6 6 10 8 10 10 9 9zM1567 932l-10-11 6 11 10 18zM1626 988l-10-2 6 8 9 12z"/>
<path class="q21" d="M1508 877l-9-3-10-10-10-23 6 12 10 15 9 3 10 12zM1616 986l-10-9-10-1-9-20-10-7-10-17 6 18 10 1 9 15 10 9 10 10 10 9zM1655 1035l-10-18-9-14-10-15 5 18 10 18 10 0 10 10z"/>
<path class="q24" d="M1548 898l-10-1 5 13 10 6z"/>
<path class="q23" d="M1557 921l-9-23 5 18 10 16z"/>
<path class="q20" d="M1684 1061l-9-6-10-18-10-2 6-1 10 14 9 12 10 3z"/>
<path class="q19" d="M1694 1082l-10-21 6 2 10 30z"/>
<path class="q23" d="M1454 836l-10-12-10-9 6-11 10-1 10 15zM1571 944l-10-11-9-4-10-2-10-11 6-19 10 1 9 23 10 11 10 17z"/>
<path class="q22" d="M1483 865l-10-12-9-8-10-9 6-18 9 22 10 1 10 23zM1532 916l-10-22-9-1-10-6 5-10 10 7 10 19 10-6zM1581 965l-10-21 6 5 10 7zM1659 1036l-9-9-10-14-10 2-10-14-10-6-9-17 5-1 10 9 10 2 10 15 9 14 10 18 10 2z"/>
<path class="q21" d="M1503 887l-10-13-10-9 6-1 10 10 9 3zM1601 978l-10-4-10-9 6-9 9 20 10 1zM1679 1061l-10-6-10-19 6 1 10 18 9 6z"/>
<path class="q19" d="M1689 1103l-10-42 5 0 10 21z"/>
<path class="q20" d="M1438 838l-9-8 5-15 10 9zM1507 905l-10-7-10-12-9-15-10-2-10-6 6-18 9 8 10 12 10 9 10 13 10 6zM1526 929l-9-12 5-23 10 22zM1575 977l-9-7-10-3-10-13 6-25 9 4 10 11 10 21zM1644 1054l-10-12-10-15-9-7-10-20-10-1 6-21 9 17 10 6 10 14 10-2 10 14z"/>
<path class="q19" d="M1458 863l-10-4-10-21 6-14 10 12 10 9zM1546 954l-10-10-10-15 6-13 10 11 10 2zM1595 999l-10-3-10-19 6-12 10 9 10 4zM1663 1078l-9-8-10-16 6-27 9 9 10 19z"/>
<path class="q21" d="M1517 917l-10-12 6-12 9 1z"/>
<path class="q18" d="M1673 1089l-10-11 6-23 10 6z"/>
<path class="q16" d="M1683 1105l-10-16 6-28 10 42z"/>
<path class="q16" d="M1462 890l-10-15-9-8-10-4-10-10 6-23 9 8 10 21 10 4 10 6zM1540 970l-9-9-10-19 5-13 10 15 10 10zM1589 1020l-9-17-10-1-10-17-10 2 6-20 10 3 9 7 10 19 10 3zM1648 1082l-10-24 6-4 10 16z"/>
<path class="q17" d="M1472 892l-10-2 6-21 10 2zM1521 942l-10-5-10-12-10-11-9-13 5-15 10 12 10 7 10 12 9 12zM1638 1058l-10-13-9-5-10-7-10-12-10-1 6-21 10 1 10 20 9 7 10 15 10 12z"/>
<path class="q18" d="M1482 901l-10-9 6-21 9 15z"/>
<path class="q15" d="M1550 987l-10-17 6-16 10 13zM1668 1100l-10-7-10-11 6-12 9 8 10 11z"/>
<path class="q13" d="M1677 1138l-9-38 5-11 10 16z"/>
<path class="q15" d="M1466 898l-10-11-9-4-10-13-10-16-10-3 6 2 10 10 10 4 9 8 10 15 10 2zM1505 934l-9-7-10-10-10-8 6-8 9 13 10 11 10 12zM1525 958l-10-18 6 2 10 19zM1584 1021l-10-17-10-1 6-1 10 1 9 17zM1613 1045l-10-7-10-2 6-15 10 12 10 7zM1642 1081l-9-15 5-8 10 24z"/>
<path class="q16" d="M1476 909l-10-11 6-6 10 9zM1515 940l-10-6 6 3 10 5zM1633 1066l-10-5-10-16 6-5 9 5 10 13z"/>
<path class="q14" d="M1545 990l-10-22-10-10 6 3 9 9 10 17zM1564 1003l-10-4 6-14 10 17zM1593 1036l-9-15 5-1 10 1zM1662 1102l-10-8 6-1 10 7z"/>
<path class="q13" d="M1554 999l-9-9 5-3 10-2zM1652 1094l-10-13 6 1 10 11z"/>
<path class="q11" d="M1672 1135l-10-33 6-2 9 38z"/>
<path class="q18" d="M1421 839l-9-12 5 24 10 3z"/>
<path class="q17" d="M1431 854l-10-15 6 15 10 16zM1519 947l-9-7-10-18-10-2 6 7 9 7 10 6 10 18zM1607 1029l-9-6 5 15 10 7z"/>
<path class="q16" d="M1490 920l-10-12-10-4-9-10-10-14-10-7-10-19 6 16 10 13 9 4 10 11 10 11 10 8 10 10zM1529 968l-10-21 6 11 10 10zM1578 1020l-10-27-10-9-9-10 5 25 10 4 10 1 10 17zM1617 1052l-10-23 6 16 10 16zM1656 1087l-10-15 6 22 10 8z"/>
<path class="q15" d="M1549 974l-10-2-10-4 6 0 10 22 9 9zM1598 1023l-10 5 5 8 10 2zM1646 1072l-9 0-10-4-10-16 6 9 10 5 9 15 10 13z"/>
<path class="q14" d="M1588 1028l-10-8 6 1 9 15zM1666 1109l-10-22 6 15 10 33z"/>
<path class="q20" d="M1426 842l-10-3-10-6 6-6 9 12 10 15z"/>
<path class="q19" d="M1445 869l-10-18-9-9 5 12 10 19 10 7zM1504 930l-10-8-10-12 6 10 10 2 10 18zM1563 982l-10 1-10-14-10-14 6 17 10 2 9 10 10 9zM1651 1080l-10-14 5 6 10 15z"/>
<path class="q18" d="M1455 887l-10-18 6 11 10 14zM1484 910l-9-11-10-1 5 6 10 4 10 12zM1533 955l-10-7-9-9-10-9 6 10 9 7 10 21 10 4zM1572 1000l-9-18 5 11 10 27zM1641 1066l-10-7-10-15-10-3-9-2-10-14 6-2 9 6 10 23 10 16 10 4 9 0z"/>
<path class="q17" d="M1465 898l-10-11 6 7 9 10zM1592 1025l-10-7-10-18 6 20 10 8 10-5z"/>
<path class="q16" d="M1660 1112l-9-32 5 7 10 22z"/>
<path class="q20" d="M1410 831l-10-3 6 5 10 6zM1547 973l-10-6-9-15-10-5-10-8-10-13-10-5-9-18-10-8-10-15-10-12 6 19 10 11 10 1 9 11 10 12 10 8 10 9 9 9 10 7 10 14 10 14zM1596 1016l-10-6-10-13 6 21 10 7 10 14zM1645 1073l-10-16 6 9 10 14z"/>
<path class="q21" d="M1420 839l-10-8 6 8 10 3zM1449 868l-9-7-10-13 5 3 10 18 10 18zM1557 970l-10 3 6 10 10-1zM1576 997l-9-15 5 18 10 18zM1635 1057l-10-2-9-17-10-17-10-5 6 23 9 2 10 3 10 15 10 7z"/>
<path class="q22" d="M1430 848l-10-9 6 3 9 9zM1567 982l-10-12 6 12 9 18z"/>
<path class="q18" d="M1655 1104l-10-31 6 7 9 32z"/>
<path class="q22" d="M1473 897l-10-5-10-12-9-3-10-15-10-10-10-13-9-8-10-13 5 10 10 3 10 8 10 9 10 13 9 7 10 12 10 15 10 8zM1512 931l-10 2 6 6 10 8zM1541 961l-9-7-10-14 6 12 9 15 10 6zM1590 1014l-9-2-10-18 5 3 10 13 10 6zM1630 1062l-10-14-10-15 6 5 9 17 10 2z"/>
<path class="q21" d="M1502 933l-9-8-10-13-10-15 6 6 9 18 10 5 10 13zM1639 1077l-9-15 5-5 10 16z"/>
<path class="q23" d="M1522 940l-10-9 6 16 10 5zM1551 971l-10-10 6 12 10-3zM1571 994l-10-13 6 1 9 15zM1610 1033l-10-13-10-6 6 2 10 5 10 17z"/>
<path class="q24" d="M1561 981l-10-10 6-1 10 12z"/>
<path class="q18" d="M1649 1108l-10-31 6-4 10 31z"/>
<path class="q21" d="M1399 839l-10 0 6-21 10 13zM1418 868l-9-19 5-10 10 13zM1506 953l-9-5-10-18-10-2-10-9 6-22 10 15 10 13 9 8 10-2zM1585 1027l-10-3-10-12-10-5-9-6 5-30 10 10 10 13 10 18 9 2zM1614 1069l-10-16 6-20 10 15z"/>
<path class="q22" d="M1409 849l-10-10 6-8 9 8zM1546 1001l-10-22-10-9-10-8-10-9 6-22 10 9 10 14 9 7 10 10zM1604 1053l-9-16-10-10 5-13 10 6 10 13z"/>
<path class="q20" d="M1428 884l-10-16 6-16 10 10zM1467 919l-9-8-10-11-10 0 6-23 9 3 10 12 10 5zM1624 1081l-10-12 6-21 10 14z"/>
<path class="q19" d="M1438 900l-10-16 6-22 10 15zM1634 1098l-10-17 6-19 9 15z"/>
<path class="q16" d="M1643 1127l-9-29 5-21 10 31z"/>
<path class="q18" d="M1403 872l-10-5-10-13 6-15 10 0 10 10zM1423 889l-10-17 5-4 10 16zM1462 935l-10-20 6-4 9 8zM1491 958l-10 6 6-34 10 18zM1540 1014l-10-11-10-11-9-8 5-22 10 8 10 9 10 22zM1599 1070l-10-6-10-6-10-14-9-10-10-17 5-10 10 5 10 12 10 3 10 10 9 16z"/>
<path class="q19" d="M1413 872l-10 0 6-23 9 19zM1511 984l-10-25-10-1 6-10 9 5 10 9z"/>
<path class="q16" d="M1442 916l-10-8-9-19 5-5 10 16 10 0zM1628 1107l-10-12-10-8 6-18 10 12 10 17z"/>
<path class="q17" d="M1452 915l-10 1 6-16 10 11zM1481 964l-10-16-9-13 5-16 10 9 10 2zM1550 1017l-10-3 6-13 9 6zM1608 1087l-9-17 5-17 10 16z"/>
<path class="q14" d="M1638 1131l-10-24 6-9 9 29z"/>
<path class="q16" d="M1388 867l-10-11 5-2 10 13zM1407 881l-10 3 6-12 10 0zM1427 910l-10-11 6-10 9 19zM1466 947l-10-14-10-1-10-17 6 1 10-1 10 20 9 13zM1485 961l-9-10 5 13 10-6zM1554 1034l-10-13-10 0 6-7 10 3 10 17zM1603 1088l-10-21-10 2 6-5 10 6 9 17zM1622 1095l-9-3 5 3 10 12z"/>
<path class="q15" d="M1397 884l-9-17 5 0 10 5zM1436 915l-9-5 5-2 10 8zM1476 951l-10-4 5 1 10 16zM1534 1021l-9-9-10-9-10-18 6-1 9 8 10 11 10 11zM1583 1069l-10-13-9-1-10-21 6 0 9 10 10 14 10 6zM1613 1092l-10-4 5-1 10 8z"/>
<path class="q17" d="M1417 899l-10-18 6-9 10 17zM1505 985l-10-17-10-7 6-3 10 1 10 25z"/>
<path class="q14" d="M1632 1138l-10-43 6 12 10 24z"/>
<path class="q17" d="M1382 858l-10-13 6 11 10 11zM1470 947l-10-15-10-5-9-10-10-14-10-3 6 10 9 5 10 17 10 1 10 14 10 4zM1548 1028l-10-8 6 1 10 13zM1587 1068l-9-14 5 15 10-2zM1617 1109l-10-26 6 9 9 3z"/>
<path class="q16" d="M1421 900l-10 0-10-16-9-7-10-19 6 9 9 17 10-3 10 18 10 11zM1519 999l-10-5-10-11-9 0-10-10-10-26 6 4 9 10 10 7 10 17 10 18 10 9zM1538 1020l-9-3 5 4 10 0zM1578 1054l-10-3 5 5 10 13zM1607 1083l-10 7-10-22 6-1 10 21 10 4z"/>
<path class="q15" d="M1529 1017l-10-18 6 13 9 9zM1568 1051l-10 1-10-24 6 6 10 21 9 1z"/>
<path class="q13" d="M1626 1146l-9-37 5-14 10 43z"/>
<path class="q19" d="M1376 855l-10-13 6 3 10 13zM1464 938l-9-5-10-12-10-19-10 0 6 1 10 14 9 10 10 5 10 15zM1543 1022l-10-15 5 13 10 8zM1582 1064l-10-20-10 0 6 7 10 3 9 14zM1601 1074l-10-9 6 25 10-7z"/>
<path class="q18" d="M1406 887l-10-23-10-3-10-6 6 3 10 19 9 7 10 16zM1425 902l-10 5 6-7 10 3zM1474 954l-10-16 6 9 10 26zM1533 1007l-10-3 6 13 9 3zM1591 1065l-9-1 5 4 10 22zM1611 1093l-10-19 6 9 10 26z"/>
<path class="q17" d="M1415 907l-9-20 5 13 10 0zM1523 1004l-10-2-10-17-9-6-10-14-10-11 6 19 10 10 9 0 10 11 10 5 10 18zM1562 1044l-10-7-9-15 5 6 10 24 10-1z"/>
<path class="q15" d="M1621 1115l-10-22 6 16 9 37z"/>
<path class="q20" d="M1380 853l-9-6-10-11 5 6 10 13 10 6zM1400 879l-10-8 6-7 10 23zM1478 954l-10-6-9-10-10-13-10 3-10-20-9-6 5 0 10 0 10 19 10 12 9 5 10 16 10 11zM1537 1017l-10-13-10-7 6 7 10 3 10 15zM1556 1031l-9 0 5 6 10 7zM1586 1066l-10-2-10-20 6 0 10 20 9 1zM1605 1087l-9-17 5 4 10 19z"/>
<path class="q21" d="M1390 871l-10-18 6 8 10 3zM1566 1044l-10-13 6 13 10 0zM1596 1070l-10-4 5-1 10 9z"/>
<path class="q19" d="M1420 902l-10-16-10-7 6 8 9 20 10-5zM1517 997l-9-7-10-12-10-4-10-20 6 11 10 14 9 6 10 17 10 2zM1547 1031l-10-14 6 5 9 15z"/>
<path class="q17" d="M1615 1131l-10-44 6 6 10 22z"/>
<path class="q22" d="M1414 890l-10-12-10-13-9-2-10-17-10-1-10-21 6 12 10 11 9 6 10 18 10 8 10 7 10 16zM1473 951l-10-9-10-22-10-2-10-11 6 21 10-3 10 13 9 10 10 6zM1600 1086l-10-22-10-9-10-12-9-6-10-13-10-4 6 11 9 0 10 13 10 20 10 2 10 4 9 17z"/>
<path class="q21" d="M1433 907l-9 3-10-20 6 12 9 6 10 20zM1521 1011l-9-21-10-4-10-17-10-8-9-10 5 3 10 20 10 4 10 12 9 7 10 7z"/>
<path class="q20" d="M1541 1020l-10 5-10-14 6-7 10 13 10 14z"/>
<path class="q19" d="M1610 1097l-10-11 5 1 10 44z"/>
<path class="q23" d="M1398 889l-9-20-10-6-10-9-10-15-9 1 5-16 10 21 10 1 10 17 9 2 10 13zM1447 937l-9-8 5-11 10 2zM1584 1076l-9-17-10-2-10-17-10-2 6-14 10 13 9 6 10 12 10 9z"/>
<path class="q22" d="M1418 904l-10-3-10-12 6-11 10 12 10 20zM1438 929l-10 0 5-22 10 11zM1486 977l-9-12-10-9-10-4-10-15 6-17 10 22 10 9 9 10 10 8zM1516 1009l-10-20 6 1 9 21zM1545 1038l-10-3 6-15 10 4zM1594 1089l-10-13 6-12 10 22z"/>
<path class="q21" d="M1428 929l-10-25 6 6 9-3zM1506 989l-10 7-10-19 6-8 10 17 10 4z"/>
<path class="q20" d="M1535 1035l-9-14-10-12 5 2 10 14 10-5z"/>
<path class="q19" d="M1604 1122l-10-33 6-3 10 11z"/>
<path class="q20" d="M1354 868l-10-6 6-22 9-1zM1393 910l-10-13 6-28 9 20zM1451 965l-9-15-10-6 6-15 9 8 10 15zM1579 1096l-10-13-10-11 6-15 10 2 9 17z"/>
<path class="q21" d="M1383 897l-10-21-10-5-9-3 5-29 10 15 10 9 10 6zM1559 1072l-10-21-9 1 5-14 10 2 10 17z"/>
<path class="q19" d="M1432 944l-10-13-10-3-9-10-10-8 5-21 10 12 10 3 10 25 10 0zM1481 1001l-10-12-10-12-10-12 6-13 10 4 10 9 9 12zM1540 1052l-10-1-10-17-10-5-10-8 6-32 10 20 10 12 9 14 10 3z"/>
<path class="q18" d="M1500 1021l-9-1-10-19 5-24 10 19 10-7zM1588 1118l-9-22 5-20 10 13z"/>
<path class="q15" d="M1598 1151l-10-33 6-29 10 33z"/>
<path class="q16" d="M1358 897l-10-13-10-13 6-9 10 6 9 3zM1387 929l-10-22 6-10 10 13zM1407 938l-10-1 6-19 9 10zM1514 1047l-9-6-10-8 5-12 10 8 10 5zM1573 1114l-10-23 6-8 10 13z"/>
<path class="q17" d="M1377 907l-9-10-10 0 5-26 10 5 10 21zM1416 945l-9-7 5-10 10 3zM1465 1003l-9-24-10-6-10-4-10-17 6-8 10 6 9 15 10 12 10 12zM1563 1091l-10 1-9-12-10-15-10-10-10-8 6-13 10 17 10 1 9-1 10 21 10 11z"/>
<path class="q15" d="M1397 937l-10-8 6-19 10 8zM1475 1026l-10-23 6-14 10 12zM1495 1033l-10-4 6-9 9 1zM1583 1131l-10-17 6-18 9 22z"/>
<path class="q18" d="M1426 952l-10-7 6-14 10 13z"/>
<path class="q14" d="M1485 1029l-10-3 6-25 10 19z"/>
<path class="q13" d="M1593 1137l-10-6 5-13 10 33z"/>
<path class="q15" d="M1381 922l-9-9-10-9-10-14-10-4-9-15 5 0 10 13 10 13 10 0 9 10 10 22zM1401 942l-10-4 6-1 10 1zM1430 975l-9-11 5-12 10 17zM1460 1009l-10-20 6-10 9 24zM1567 1103l-9 0-10-16-10-6-10-8-10-1-9-19-10-8-10-12 6 0 10 8 9 6 10 8 10 10 10 15 9 12 10-1 10 23z"/>
<path class="q14" d="M1391 938l-10-16 6 7 10 8zM1489 1033l-10-11 6 7 10 4zM1577 1127l-10-24 6 11 10 17z"/>
<path class="q16" d="M1421 964l-10-21-10-1 6-4 9 7 10 7zM1450 989l-10-13-10-1 6-6 10 4 10 6z"/>
<path class="q13" d="M1479 1022l-9-5-10-8 5-6 10 23 10 3z"/>
<path class="q12" d="M1587 1161l-10-34 6 4 10 6z"/>
<path class="q17" d="M1337 868l-10-14 6 17 9 15zM1395 926l-9-8 5 20 10 4zM1415 952l-10-18 6 9 10 21zM1435 967l-10-6 5 14 10 1zM1454 977l-10-5 6 17 10 20zM1542 1080l-10-24-9-5 5 22 10 8 10 6zM1571 1103l-9-6 5 6 10 24z"/>
<path class="q16" d="M1366 911l-10-20-9-7-10-16 5 18 10 4 10 14 10 9zM1386 918l-10 3 5 1 10 16zM1425 961l-10-9 6 12 9 11zM1474 1018l-10-17-10-24 6 32 10 8 9 5zM1523 1051l-10-4-10-5-10-6 6 9 10 8 9 19 10 1zM1562 1097l-10-1-10-16 6 7 10 16 9 0z"/>
<path class="q15" d="M1376 921l-10-10 6 2 9 9zM1493 1036l-10-4-9-14 5 4 10 11 10 12z"/>
<path class="q18" d="M1405 934l-10-8 6 16 10 1zM1444 972l-9-5 5 9 10 13z"/>
<path class="q14" d="M1581 1130l-10-27 6 24 10 34z"/>
<path class="q20" d="M1351 874l-10-14-10-5-10-10 6 9 10 14 10 16 9 7zM1409 936l-9-19 5 17 10 18zM1439 962l-10-2 6 7 9 5zM1527 1062l-10-12-10-11-10-20-9-11 5 28 10 6 10 5 10 4 9 5zM1566 1095l-10-21-10-3 6 25 10 1 9 6z"/>
<path class="q19" d="M1360 887l-9-13 5 17 10 20zM1380 904l-10-3 6 20 10-3zM1429 960l-10-10-10-14 6 16 10 9 10 6zM1468 999l-10-24 6 26 10 17zM1546 1071l-10 0-9-9 5-6 10 24 10 16z"/>
<path class="q18" d="M1370 901l-10-14 6 24 10 10zM1488 1008l-10 5-10-14 6 19 9 14 10 4z"/>
<path class="q21" d="M1400 917l-10-10-10-3 6 14 9 8 10 8zM1458 975l-10-5-9-8 5 10 10 5 10 24z"/>
<path class="q17" d="M1576 1146l-10-51 5 8 10 27z"/>
<path class="q24" d="M1394 912l-10-18-10-7-9-19-10-10-10-5-10-3-10-12-9-9 5 16 10 10 10 5 10 14 9 13 10 14 10 3 10 3 10 10zM1462 975l-9-5-10-7-10-19-10-12 6 28 10 2 9 8 10 5 10 24zM1482 987l-10 1 6 25 10-5zM1511 1026l-10-23 6 36 10 11zM1550 1074l-9-23-10-10 5 30 10 0 10 3z"/>
<path class="q23" d="M1423 932l-10-9-9-1-10-10 6 5 9 19 10 14 10 10zM1472 988l-10-13 6 24 10 14zM1531 1041l-10-1-10-14 6 24 10 12 9 9zM1560 1088l-10-14 6 0 10 21z"/>
<path class="q25" d="M1501 1003l-9-10-10-6 6 21 9 11 10 20z"/>
<path class="q18" d="M1570 1128l-10-40 6 7 10 51z"/>
<path class="q26" d="M1330 842l-10-10-10-6 6 3 9 9 10 12zM1398 912l-10-13 6 13 10 10zM1447 956l-10 0-10-20 6 8 10 19 10 7zM1545 1055l-10-5 6 1 9 23z"/>
<path class="q27" d="M1339 845l-9-3 5 8 10 3zM1388 899l-10-13-9-4-10-9 6-5 9 19 10 7 10 18zM1408 914l-10-2 6 10 9 1zM1466 973l-9-12-10-5 6 14 9 5 10 13zM1535 1050l-10-16-10-12-9-11 5 15 10 14 10 1 10 10z"/>
<path class="q28" d="M1359 873l-10-15-10-13 6 8 10 5 10 10zM1427 936l-9-14-10-8 5 9 10 9 10 12zM1506 1011l-10-6-10-2-10-19-10-11 6 15 10-1 10 6 9 10 10 23z"/>
<path class="q25" d="M1555 1075l-10-20 5 19 10 14z"/>
<path class="q22" d="M1564 1104l-9-29 5 13 10 40z"/>
<path class="q25" d="M1324 867l-10-9-10-17 6-15 10 6 10 10zM1392 931l-9-11 5-21 10 13zM1441 980l-9 1-10-21 5-24 10 20 10 0zM1490 1030l-10-4-9-9-10-8 5-36 10 11 10 19 10 2zM1549 1089l-10-8-10-12-9 0-10-6 5-41 10 12 10 16 10 5 10 20z"/>
<path class="q26" d="M1334 859l-10 8 6-25 9 3zM1383 920l-10-15-10-10-10-7-10-10 6-20 10 15 10 9 9 4 10 13zM1402 935l-10-4 6-19 10 2zM1422 960l-10-17 6-21 9 14zM1461 1009l-10-18-10-11 6-24 10 5 9 12zM1510 1063l-10-27-10-6 6-25 10 6 9 11z"/>
<path class="q27" d="M1343 878l-9-19 5-14 10 13zM1412 943l-10-8 6-21 10 8z"/>
<path class="q23" d="M1559 1114l-10-25 6-14 9 29z"/>
<path class="q21" d="M1348 912l-10-1-10-4-10-18-10-20-9-2 5-26 10 17 10 9 10-8 9 19 10 10zM1377 953l-10-18 6-30 10 15zM1426 997l-10-18 6-19 10 21zM1455 1028l-10-18-9 7 5-37 10 11 10 18zM1494 1064l-9 2 5-36 10 6zM1543 1117l-10-12-9-21-10-1 6-14 9 0 10 12 10 8z"/>
<path class="q22" d="M1367 935l-10-10-9-13 5-24 10 7 10 10zM1416 979l-10-5-9-6 5-33 10 8 10 17z"/>
<path class="q20" d="M1397 968l-10 8-10-23 6-33 9 11 10 4zM1436 1017l-10-20 6-16 9-1zM1504 1081l-10-17 6-28 10 27z"/>
<path class="q19" d="M1485 1066l-10-9-10-12-10-17 6-19 10 8 9 9 10 4zM1514 1083l-10-2 6-18 10 6z"/>
<path class="q18" d="M1553 1155l-10-38 6-28 10 25z"/>
<path class="q18" d="M1313 901l-10-14-10-4 6-16 9 2 10 20zM1362 949l-10-14-10-13-10-6 6-5 10 1 9 13 10 10zM1420 1011l-10-18-9 3 5-22 10 5 10 18z"/>
<path class="q16" d="M1332 916l-10-1-9-14 5-12 10 18 10 4zM1381 968l-10-4 6-11 10 23zM1401 996l-10-5 6-23 9 6zM1440 1035l-10-10-10-14 6-14 10 20 9-7zM1459 1054l-9-18 5-8 10 17zM1489 1078l-10 1 6-13 9-2zM1508 1109l-10-14 6-14 10 2zM1538 1137l-10-18 5-14 10 12z"/>
<path class="q17" d="M1371 964l-9-15 5-14 10 18zM1450 1036l-10-1 5-25 10 18zM1498 1095l-9-17 5-14 10 17zM1528 1119l-10-1-10-9 6-26 10 1 9 21z"/>
<path class="q15" d="M1391 991l-10-23 6 8 10-8zM1479 1079l-10-7-10-18 6-9 10 12 10 9z"/>
<path class="q13" d="M1547 1164l-9-27 5-20 10 38z"/>
<path class="q17" d="M1307 893l-10-9-10-6 6 5 10 4 10 14zM1454 1037l-10 2 6-3 9 18z"/>
<path class="q16" d="M1385 976l-10-7-9-7-10-11-10-8-10-4-9-9-10-23-10-14 6 8 9 14 10 1 10 6 10 13 10 14 9 15 10 4 10 23zM1424 1017l-9-8-10-7-10-8 6 2 9-3 10 18 10 14zM1444 1039l-10-6 6 2 10 1zM1463 1050l-9-13 5 17 10 18zM1493 1091l-10-16-10-11 6 15 10-1 9 17zM1532 1130l-10-18-10-2 6 8 10 1 10 18z"/>
<path class="q15" d="M1395 994l-10-18 6 15 10 5zM1434 1033l-10-16 6 8 10 10zM1473 1064l-10-14 6 22 10 7zM1512 1110l-9-20-10 1 5 4 10 14 10 9z"/>
<path class="q13" d="M1542 1166l-10-36 6 7 9 27z"/>
<path class="q18" d="M1311 898l-10-7-9-6-10-13 5 6 10 6 10 9 10 14zM1370 955l-10-8 6 15 9 7zM1428 1022l-9-20-10-13-10 4 6 9 10 7 9 8 10 16zM1517 1106l-10-6-10-10-10-16-10-12-9 2-10-22 5 8 10 14 10 11 10 16 10-1 9 20 10 2z"/>
<path class="q17" d="M1321 913l-10-15 6 9 10 23zM1360 947l-10-1 6 5 10 11zM1399 993l-10-11-9-3-10-24 5 14 10 7 10 18 10 8zM1438 1030l-10-8 6 11 10 6zM1526 1129l-9-23 5 6 10 18z"/>
<path class="q16" d="M1350 946l-10-4-9-14-10-15 6 17 9 9 10 4 10 8z"/>
<path class="q19" d="M1448 1022l-10 8 6 9 10-2z"/>
<path class="q20" d="M1458 1042l-10-20 6 15 9 13z"/>
<path class="q14" d="M1536 1152l-10-23 6 1 10 36z"/>
<path class="q19" d="M1296 883l-10-10-10 0 6-1 10 13 9 6zM1345 928l-10-11-10-15 6 26 9 14 10 4zM1393 984l-9-15-10-8 6 18 9 3 10 11zM1472 1066l-10-16 6 14 9-2zM1521 1114l-10-19 6 11 9 23z"/>
<path class="q20" d="M1325 902l-10-6-10-5-9-8 5 8 10 7 10 15 10 15zM1354 935l-9-7 5 18 10 1zM1374 961l-10-17 6 11 10 24zM1403 993l-10-9 6 9 10-4zM1433 1017l-10-18 5 23 10 8zM1462 1050l-10-13 6 5 10 22zM1511 1095l-10-2-10-21-9-6-10 0 5-4 10 12 10 16 10 10 10 6z"/>
<path class="q21" d="M1364 944l-10-9 6 12 10 8zM1423 999l-10-4-10-2 6-4 10 13 9 20zM1452 1037l-10-4-9-16 5 13 10-8 10 20z"/>
<path class="q16" d="M1530 1141l-9-27 5 15 10 23z"/>
<path class="q21" d="M1280 865l-10-7 6 15 10 0zM1358 955l-9-10-10-13-10-9 6-6 10 11 9 7 10 9zM1398 992l-10-14 5 6 10 9zM1456 1048l-9-9 5-2 10 13zM1515 1112l-10-23 6 6 10 19z"/>
<path class="q22" d="M1329 923l-10-15-9-14-10-14-10-9-10-6 6 8 10 10 9 8 10 5 10 6 10 15zM1388 978l-10-22-10-6-10 5 6-11 10 17 10 8 9 15zM1447 1039l-10-19-10-6-10-7-10-15-9 0 5 1 10 2 10 4 10 18 9 16 10 4zM1505 1089l-10-4-9-16-10 3 6-6 9 6 10 21 10 2z"/>
<path class="q20" d="M1476 1072l-10-5-10-19 6 2 10 16 10 0z"/>
<path class="q18" d="M1525 1147l-10-35 6 2 9 27z"/>
<path class="q22" d="M1275 865l-10-1 5-6 10 7zM1343 938l-10-13-10-8-9-8-10-12-10-2 6-15 10 14 9 14 10 15 10 9 10 13zM1363 957l-10-10 5 8 10-5zM1382 988l-10-16 6-16 10 22zM1402 1001l-10-15 6 6 9 0zM1451 1042l-10 0-10-10-10-8 6-10 10 6 10 19 9 9zM1509 1102l-9-5-10-11-10-9-10-8 6 3 10-3 9 16 10 4 10 23z"/>
<path class="q23" d="M1294 895l-10-26-9-4 5 0 10 6 10 9zM1372 972l-9-15 5-7 10 6z"/>
<path class="q21" d="M1353 947l-10-9 6 7 9 10zM1392 986l-10 2 6-10 10 14zM1421 1024l-9-5-10-18 5-9 10 15 10 7zM1460 1070l-9-28 5 6 10 19z"/>
<path class="q20" d="M1470 1069l-10 1 6-3 10 5zM1519 1117l-10-15 6 10 10 35z"/>
<path class="q19" d="M1269 897l-10-12 6-21 10 1zM1337 967l-9-8 5-34 10 13zM1377 997l-10-4-10-9 6-27 9 15 10 16zM1425 1055l-9-14-10-14-10-1 6-25 10 18 9 5 10 8zM1445 1081l-10-10 6-29 10 0zM1484 1126l-10-30 6-19 10 9z"/>
<path class="q20" d="M1298 920l-10-4-9-15-10-4 6-32 9 4 10 26 10 2zM1328 959l-10-21 5-21 10 8zM1357 984l-10-22-10 5 6-29 10 9 10 10zM1396 1026l-10-19-9-10 5-9 10-2 10 15zM1474 1096l-9-2 5-25 10 8z"/>
<path class="q21" d="M1318 938l-10-16-10-2 6-23 10 12 9 8z"/>
<path class="q18" d="M1435 1071l-10-16 6-23 10 10zM1465 1094l-10-2-10-11 6-39 9 28 10-1zM1516 1161l-11-21-11 0-10-14 6-40 10 11 9 5 10 15z"/>
<path class="q16" d="M1273 906l-10 3-10-20 6-4 10 12 10 4zM1293 945l-10-19 5-10 10 4zM1332 971l-10-8-10-13 6-12 10 21 9 8zM1410 1063l-10-11-10-21-9-6-10-4-10-10 6-18 10 4 9 10 10 19 10 1 10 14z"/>
<path class="q17" d="M1283 926l-10-20 6-5 9 15zM1302 939l-9 6 5-25 10 2zM1351 1004l-9-28-10-5 5-4 10-5 10 22z"/>
<path class="q18" d="M1312 950l-10-11 6-17 10 16z"/>
<path class="q15" d="M1361 1011l-10-7 6-20 10 9zM1430 1088l-10-23-10-2 6-22 9 14 10 16zM1483 1124l-11-2-11-13 4-15 9 2 10 30z"/>
<path class="q14" d="M1461 1109l-11-4-11-14-9-3 5-17 10 10 10 11 10 2zM1516 1161l-11-21-11 0-11-16 1 2 10 14 11 0 11 21z"/>
<path class="q16" d="M1267 913l-9-13-10-2 5-9 10 20 10-3zM1336 985l-10-4 6-10 10 5z"/>
<path class="q15" d="M1277 933l-10-20 6-7 10 20zM1307 969l-10-12 5-18 10 11zM1326 981l-10-7 6-11 10 8zM1346 995l-10-10 6-9 9 28z"/>
<path class="q14" d="M1297 957l-10-17-10-7 6-7 10 19 9-6zM1316 974l-9-5 5-19 10 13zM1365 1029l-10-21-9-13 5 9 10 7 10 10zM1395 1056l-10-12-10-7 6-12 9 6 10 21z"/>
<path class="q13" d="M1375 1037l-10-8 6-8 10 4zM1472 1122l-11-13-11-4-11-11-11-11-11-1-11-23-11-3 5-4 10 11 10 2 10 23 9 3 11 14 11 4 11 13z"/>
<path class="q17" d="M1252 890l-10-3 6 11 10 2zM1272 911l-10-10 5 12 10 20z"/>
<path class="q18" d="M1262 901l-10-11 6 10 9 13z"/>
<path class="q16" d="M1281 927l-9-16 5 22 10 7zM1352 1005l-11-14 5 4 9 13z"/>
<path class="q15" d="M1291 951l-10-24 6 13 10 17zM1320 979l-9-15-10-12 6 17 9 5 10 7zM1341 991l-11 5 6-11 10 10z"/>
<path class="q14" d="M1301 952l-10-1 6 6 10 12zM1330 996l-10-17 6 2 10 4zM1362 1019l-10-14 3 3 10 21z"/>
<path class="q13" d="M1395 1056l-11-13-11-10-11-14 3 10 10 8 10 7 10 12z"/>
<path class="q18" d="M1276 919l-10-1-10-4-10-17-9-12 5 2 10 3 10 11 10 10 9 16z"/>
<path class="q17" d="M1286 937l-10-18 5 8 10 24z"/>
<path class="q16" d="M1297 956l-11-19 5 14 10 1z"/>
<path class="q15" d="M1319 979l-11-2-11-21 4-4 10 12 9 15zM1341 991l-11 3 0 2 11-5z"/>
<path class="q14" d="M1330 994l-11-15 1 0 10 17z"/>
<path class="q17" d="M1242 900l-11 2 6-17 9 12zM1275 940l-11-16-11-18 3 8 10 4 10 1z"/>
<path class="q18" d="M1253 906l-11-6 4-3 10 17zM1286 937l-11 3 1-21 10 18z"/>
<path class="r6" d="M1623 1141l4 40 4-40z"/>
<path class="r7" d="M1667 1131l4 20 4-20zM1924 1060l4 17 4-17zM1752 1112l4 10 4-10z"/>
<path class="r8" d="M1672 1134l4 9 4-9zM1584 1152l4 23 4-23zM1926 1061l4 8 4-8zM1846 1076l4 24 4-24z"/>
<path class="r9" d="M1629 1133l4 18 4-18zM1827 1079l4 12 4-12zM1755 1102l4 14 4-14zM1919 1054l4 10 4-10zM1881 1061l4 19 4-19z"/>
<path class="r10" d="M1512 1158l4 29 4-29zM1666 1124l4 13 4-13zM1548 1153l4 24 4-24z"/>
<path class="r11" d="M1963 1032l4 9 4-9zM1512 1158l4 21 4-21zM1758 1093l4 11 4-11zM1637 1125l4 13 4-13zM1722 1101l4 11 4-11zM1790 1080l4 13 4-13zM1512 1158l4 24 4-24zM1758 1093l4 10 4-10zM1961 1034l4 13 4-13zM1512 1158l4 26 4-26zM1634 1127l4 13 4-13zM1864 1054l4 28 4-28zM1442 1098l4 17 4-17z"/>
<path class="r12" d="M1918 1052l3-9 3 9zM1974 1017l4 27 4-27zM1610 1121l4 29 4-29zM1934 1035l4 16 4-16zM2000 1013l4 18 4-18zM1512 1158l4 9 4-9zM1492 1137l4 18 4-18zM1433 1089l4 15 4-15zM1490 1137l4 12 4-12zM1378 1039l4 16 4-16z"/>
<path class="r13" d="M1449 1109l3-10 3 10zM1737 857l3-10 3 10zM1800 1089l3-26 3 26zM1417 1085l3-11 3 11zM1863 1044l4 32 4-32zM1573 1137l4 12 4-12zM1957 1025l4 12 4-12zM1656 1108l4 19 4-19zM1569 1136l4 16 4-16zM1574 1135l4 15 4-15zM1468 1118l4 8 4-8zM1470 1119l4 6 4-6zM1467 1118l4 9 4-9zM1306 974l4 12 4-12zM1476 1120l4 16 4-16zM1427 1083l4 9 4-9zM1454 1105l4 8 4-8z"/>
<path class="r14" d="M1548 987l3-10 3 10zM1778 839l3-8 3 8zM1473 1025l3-16 3 16zM1454 1110l3-9 3 9zM1394 1059l3-18 3 18zM1484 1132l3-7 3 7zM1809 1033l3-7 3 7zM1448 1106l3-16 3 16zM1719 1051l3-18 3 18zM1511 1160l3-19 3 19zM1447 1108l3-19 3 19zM1463 1013l3-9 3 9zM1544 993l3-15 3 15zM1987 1003l4 32 4-32zM1654 1106l4 16 4-16zM1974 1019l4 8 4-8zM1527 1140l4 20 4-20zM1352 1008l4 10 4-10zM1480 1122l4 10 4-10zM1316 979l4 10 4-10zM1313 976l4 15 4-15zM1356 1013l4 17 4-17zM1483 1127l4 8 4-8zM1296 961l4 9 4-9zM1358 1016l4 13 4-13zM1311 975l4 13 4-13zM1310 975l4 10 4-10z"/>
<path class="r15" d="M1475 854l3-7 3 7zM1383 932l3-13 3 13zM1761 864l3-7 3 7zM1695 803l3-7 3 7zM1507 1152l3-15 3 15zM1707 926l3-11 3 11zM1516 1006l3-7 3 7zM1434 1036l3-9 3 9zM1472 956l3-11 3 11zM1788 1081l3-25 3 25zM1937 985l3-7 3 7zM1553 996l3-13 3 13zM1875 1046l3-9 3 9zM1726 778l3-14 3 14zM1845 906l3-24 3 24zM1706 1032l3-10 3 10zM1575 1118l3-14 3 14zM1733 782l3-11 3 11zM1654 927l3-10 3 10zM1693 966l3-9 3 9zM1371 918l3-7 3 7zM1818 1054l4 17 4-17zM1577 1127l4 8 4-8zM1941 1013l4 29 4-29zM1343 997l4 10 4-10zM1265 930l4 9 4-9zM1270 936l4 6 4-6zM1348 1004l4 9 4-9zM1261 924l4 13 4-13z"/>
<path class="r16" d="M1738 1059l3-10 3 10zM1457 1057l3-16 3 16zM1631 965l3-12 3 12zM1623 1067l3-18 3 18zM1740 782l3-7 3 7zM1527 965l3-14 3 14zM1719 766l3-11 3 11zM1765 820l3-10 3 10zM1479 1013l3-13 3 13zM1503 1036l3-9 3 9zM1602 1041l3-17 3 17zM1554 819l3-16 3 16zM1674 999l3-8 3 8zM1677 943l3-13 3 13zM1596 1038l3-24 3 24zM1390 1041l3-16 3 16zM1556 1036l3-12 3 12zM1601 1088l3-14 3 14zM1522 898l3-10 3 10zM1562 1057l3-21 3 21zM1952 1016l3-9 3 9zM1430 1034l3-9 3 9zM1941 999l3-20 3 20zM1676 1051l3-11 3 11zM1537 915l3-9 3 9zM1477 1026l3-16 3 16zM1444 876l3-13 3 13zM1364 966l3-9 3 9zM1609 818l3-15 3 15zM1726 779l3-7 3 7zM1709 927l3-19 3 19zM1692 1022l3-21 3 21zM1437 875l3-16 3 16zM1814 860l3-7 3 7zM1719 765l3-14 3 14zM1430 915l3-10 3 10zM1467 952l3-12 3 12zM1506 988l3-9 3 9zM1667 992l3-11 3 11zM1572 1014l3-8 3 8zM1573 1006l3-10 3 10zM1731 1075l4 10 4-10zM1519 1138l4 11 4-11zM1740 1071l4 14 4-14zM1260 923l4 8 4-8zM1288 946l4 8 4-8zM1287 943l4 16 4-16z"/>
<path class="r17" d="M1607 1042l3-10 3 10zM1541 910l3-23 3 23zM1738 845l3-30 3 30zM1438 926l3-21 3 21zM1411 1009l3-12 3 12zM1879 977l3-15 3 15zM1602 975l3-18 3 18zM1475 948l3-13 3 13zM1859 1024l3-15 3 15zM1544 873l3-13 3 13zM1402 890l3-10 3 10zM1606 807l3-16 3 16zM1868 965l3-13 3 13zM1552 1035l3-15 3 15zM1518 1006l3-10 3 10zM1865 1021l3-23 3 23zM1614 977l3-7 3 7zM1884 982l3-16 3 16zM1781 816l3-19 3 19zM1676 881l3-20 3 20zM1512 830l3-11 3 11zM1674 818l3-13 3 13zM1722 1049l3-10 3 10zM1566 948l3-13 3 13zM1755 907l3-11 3 11zM1340 995l3-14 3 14zM1708 981l3-19 3 19zM1537 1019l3-17 3 17zM1494 873l3-10 3 10zM1616 827l3-15 3 15zM1588 953l3-15 3 15zM1498 987l3-10 3 10zM1764 802l3-7 3 7zM1732 891l3-14 3 14zM1304 966l3-16 3 16zM1902 999l3-12 3 12zM1803 1025l3-7 3 7zM1987 993l3-8 3 8zM1928 962l3-8 3 8zM1717 827l3-11 3 11zM1797 1057l3-22 3 22zM1817 974l3-9 3 9zM1548 864l3-18 3 18zM1381 929l3-21 3 21zM1826 928l3-12 3 12zM1462 946l3-20 3 20zM1440 878l3-14 3 14zM1677 994l3-19 3 19zM1944 1010l4 11 4-11zM1737 1068l4 11 4-11zM1889 1027l4 11 4-11zM1942 1012l4 10 4-10zM1940 1014l4 10 4-10zM1255 914l4 10 4-10zM1285 940l4 7 4-7zM1282 935l4 14 4-14zM1237 897l4 11 4-11z"/>
<path class="r18" d="M1642 1002l3-13 3 13zM1737 988l3-17 3 17zM1584 1005l3-19 3 19zM1647 921l3-11 3 11zM1804 965l3-12 3 12zM1579 1021l3-11 3 11zM1464 902l3-27 3 27zM1481 902l3-16 3 16zM1803 839l3-10 3 10zM1251 899l3-12 3 12zM1630 825l3-10 3 10zM1622 940l3-21 3 21zM1765 913l3-21 3 21zM1721 916l3-11 3 11zM1820 1011l3-7 3 7zM1945 971l3-9 3 9zM1389 932l3-15 3 15zM1653 962l3-21 3 21zM1439 966l3-14 3 14zM1517 1008l3-7 3 7zM1877 930l3-12 3 12zM1498 877l3-20 3 20zM1611 825l3-11 3 11zM1260 920l3-13 3 13zM1686 955l3-11 3 11zM1821 1039l3-9 3 9zM1788 952l3-15 3 15zM1887 995l3-13 3 13zM1279 940l3-9 3 9zM1728 929l3-21 3 21zM1556 969l3-8 3 8zM1611 876l3-9 3 9zM1571 1119l3-8 3 8zM1655 926l3-15 3 15zM1403 1001l3-8 3 8zM1603 1105l4 13 4-13zM1896 1015l4 18 4-18zM1517 1124l4 20 4-20zM1563 1115l4 15 4-15zM1277 926l4 8 4-8zM1249 903l4 8 4-8z"/>
<path class="r19" d="M1871 954l3-19 3 19zM1764 979l3-8 3 8zM1658 870l3-10 3 10zM1826 985l3-13 3 13zM1721 933l3-15 3 15zM1570 834l3-32 3 32zM1676 1001l3-11 3 11zM1473 935l3-20 3 20zM1872 1011l3-18 3 18zM1376 894l3-8 3 8zM1807 966l3-8 3 8zM1592 916l3-9 3 9zM1757 891l3-7 3 7zM1810 969l3-10 3 10zM1648 1083l3-7 3 7zM1372 915l3-18 3 18zM1507 886l3-8 3 8zM1675 808l3-17 3 17zM1691 770l3-7 3 7zM1746 885l3-9 3 9zM1461 1058l3-11 3 11zM1828 1016l3-7 3 7zM1737 1009l3-14 3 14zM1654 1065l3-17 3 17zM1617 887l3-17 3 17zM1459 1053l3-8 3 8zM1636 796l3-7 3 7zM1672 993l3-19 3 19zM1649 860l3-9 3 9zM1920 999l3-8 3 8zM1874 1012l3-8 3 8zM1757 974l3-11 3 11zM1350 865l3-16 3 16zM1471 959l3-8 3 8zM1814 901l3-15 3 15zM1555 1109l4 18 4-18z"/>
<path class="r20" d="M1631 788l3-17 3 17zM1649 972l3-11 3 11zM1670 1054l3-11 3 11zM1444 1066l3-14 3 14zM1312 885l3-16 3 16zM1459 1053l3-15 3 15zM1681 861l3-7 3 7zM1571 915l3-10 3 10zM1908 1013l3-7 3 7zM1768 1045l3-11 3 11zM1835 991l3-21 3 21zM1371 851l3-23 3 23zM1793 891l3-8 3 8zM1418 842l3-11 3 11zM1527 1011l3-10 3 10zM1536 967l3-9 3 9zM1615 938l3-12 3 12zM1730 939l3-11 3 11zM1483 1104l3-19 3 19zM1582 848l3-9 3 9zM1347 969l3-10 3 10zM1545 1033l3-22 3 22zM1797 864l3-8 3 8zM1782 917l3-20 3 20zM1503 819l3-17 3 17zM1808 878l3-9 3 9zM1664 841l3-12 3 12zM1522 1007l3-13 3 13zM1527 1019l3-7 3 7zM1582 1068l3-9 3 9zM1578 784l3-9 3 9zM1834 881l3-21 3 21zM1900 1009l4 10 4-10z"/>
<path class="r21" d="M1669 1058l3-11 3 11zM1570 905l3-8 3 8zM1593 933l3-14 3 14zM1898 913l3-10 3 10zM1544 811l3-8 3 8zM1460 944l3-10 3 10zM1650 803l3-11 3 11zM1464 949l3-16 3 16zM1267 916l3-27 3 27zM1777 1008l3-14 3 14zM1458 955l3-8 3 8zM1664 987l3-10 3 10zM1560 824l3-7 3 7zM1437 953l3-30 3 30zM1562 989l3-9 3 9zM1625 1059l3-10 3 10zM1732 801l3-14 3 14zM1459 1055l3-13 3 13zM1304 875l3-21 3 21zM1799 958l3-24 3 24zM1700 928l3-11 3 11zM1417 1009l3-12 3 12zM1727 769l3-14 3 14zM1642 807l3-8 3 8zM1664 874l3-14 3 14zM1353 950l3-7 3 7zM1498 1035l3-20 3 20zM1467 951l3-16 3 16zM1556 930l3-20 3 20zM1500 1066l3-16 3 16zM1513 887l3-7 3 7zM1527 1067l3-19 3 19z"/>
<path class="r22" d="M1902 944l3-14 3 14zM1782 883l3-17 3 17zM1613 1055l3-11 3 11zM1751 1024l3-28 3 28zM1578 1007l3-8 3 8zM1620 881l3-7 3 7zM1511 905l3-15 3 15zM1677 850l3-19 3 19zM1446 821l3-19 3 19zM1533 923l3-15 3 15zM1509 835l3-8 3 8zM1658 882l3-11 3 11zM1728 825l3-8 3 8zM1451 952l3-16 3 16zM1830 986l3-13 3 13zM1930 930l3-8 3 8zM1569 842l3-8 3 8zM1445 833l3-15 3 15zM1433 967l3-19 3 19zM1598 934l3-18 3 18zM1376 936l3-13 3 13zM1852 856l3-20 3 20zM1605 829l3-16 3 16zM1414 899l3-20 3 20zM1713 827l3-8 3 8zM1390 886l3-16 3 16zM1735 776l3-7 3 7zM1431 992l3-21 3 21zM1481 918l3-13 3 13zM1406 836l3-15 3 15zM1595 861l3-10 3 10zM1559 984l3-17 3 17zM1417 1020l3-9 3 9zM1769 995l3-10 3 10zM1649 758l3-11 3 11zM1703 860l3-13 3 13zM1576 1079l3-18 3 18zM1376 980l3-18 3 18zM1435 967l3-11 3 11zM1437 921l3-9 3 9zM1692 1013l3-23 3 23zM1517 836l3-7 3 7zM1684 1025l3-20 3 20zM1686 789l3-15 3 15zM1671 956l3-24 3 24zM1394 840l3-15 3 15z"/>
<path class="r23" d="M1470 954l3-15 3 15zM1613 876l3-15 3 15zM1378 866l3-11 3 11zM1701 747l3-24 3 24zM1598 813l3-8 3 8zM1766 931l3-14 3 14zM1597 919l3-16 3 16zM1437 865l3-17 3 17zM1489 977l3-10 3 10zM1545 1028l3-16 3 16zM1395 927l3-32 3 32zM1440 1040l3-16 3 16zM1366 957l3-23 3 23zM1667 819l3-8 3 8zM1565 938l3-7 3 7zM1764 912l3-13 3 13zM1657 988l3-15 3 15zM1684 952l3-18 3 18zM1681 957l3-16 3 16zM1764 813l3-20 3 20zM1651 979l3-13 3 13zM1838 839l3-19 3 19zM1388 989l3-8 3 8zM1653 1036l3-23 3 23zM1570 789l3-21 3 21zM1447 928l3-22 3 22zM1735 998l3-8 3 8zM1656 752l3-11 3 11zM1592 855l3-19 3 19zM1692 906l3-11 3 11zM1565 840l3-16 3 16zM1843 843l3-14 3 14zM1854 942l3-7 3 7zM1301 854l3-14 3 14zM1574 887l3-19 3 19zM1562 953l3-20 3 20zM1614 1052l3-14 3 14zM1401 998l3-11 3 11zM1661 982l3-19 3 19z"/>
<path class="r24" d="M1649 851l3-7 3 7zM1758 910l3-8 3 8zM1484 807l3-17 3 17zM1574 1056l3-17 3 17zM1948 934l3-28 3 28zM1848 896l3-17 3 17zM1607 1036l3-10 3 10zM1637 901l3-13 3 13zM1739 850l3-20 3 20zM1871 918l3-12 3 12zM1531 855l3-21 3 21zM1317 913l3-32 3 32zM1473 955l3-32 3 32z"/>
<path class="r25" d="M1878 971l3-15 3 15zM1884 990l3-17 3 17zM1825 814l3-10 3 10zM1745 842l3-13 3 13zM1441 808l3-20 3 20zM1835 982l3-28 3 28zM1740 838l3-13 3 13z"/>
<path class="r26" d="M1428 960l3-13 3 13zM1482 1014l3-12 3 12zM1790 884l3-22 3 22zM1390 913l3-23 3 23z"/>
<path class="r27" d="M1504 1018l3-9 3 9zM1549 1078l3-16 3 16zM1377 893l3-7 3 7zM1318 837l3-8 3 8zM1788 878l3-18 3 18z"/>
<path class="r28" d="M1445 963l3-11 3 11zM1357 866l3-10 3 10zM1308 829l3-25 3 25z"/>
<path class="r30" d="M1459 971l3-15 3 15z"/>
</g>
<path d="M448.2 204.0 L449.1 198.4 L449.7 190.7 L450.2 186.2 L450.4 185.5 L450.7 186.2 L451.2 190.7 L451.8 198.4 L452.6 204.0Z" fill="url(#gd0)"/>
<path d="M407.7 192.0 L408.4 189.0 L408.9 184.8 L409.3 182.4 L409.5 182.0 L409.7 182.4 L410.2 184.8 L410.7 189.0 L411.3 192.0Z" fill="url(#gd1)"/>
</g>
<path d="M379.5 303.6 V264.0" stroke="#6a6a70" stroke-width=".9" fill="none"/>
<rect x="534.0" y="184.0" width="1.2" height="125.4" fill="url(#cbd)"/>
<text x="533.0" y="186.7" font-size="5.2" text-anchor="end">4.00</text>
<text x="533.0" y="203.1" font-size="5.2" text-anchor="end">3.00</text>
<text x="533.0" y="222.7" font-size="5.2" text-anchor="end">2.00</text>
<text x="533.0" y="239.7" font-size="5.2" text-anchor="end">1.00</text>
<text x="533.0" y="257.7" font-size="5.2" text-anchor="end">0.00</text>
<text x="533.0" y="274.3" font-size="5.2" text-anchor="end">−1.00</text>
<text x="533.0" y="293.7" font-size="5.2" text-anchor="end">−2.00</text>
<text x="533.0" y="310.7" font-size="5.2" text-anchor="end">−3.00 µm</text>
<text x="306.0" y="242.7" font-size="5.2" text-anchor="end">y(mm)</text>
<text x="503.0" y="273.7" font-size="5.2" text-anchor="start">x(mm)</text>
<text x="383.3" y="309.3" font-size="5.2" text-anchor="middle">0.0</text>
<text x="408.4" y="302.1" font-size="5.2" text-anchor="middle">0.2</text>
<text x="433.5" y="294.9" font-size="5.2" text-anchor="middle">0.4</text>
<text x="458.5" y="287.7" font-size="5.2" text-anchor="middle">0.6</text>
<text x="483.6" y="280.4" font-size="5.2" text-anchor="middle">0.8</text>
<text x="372.4" y="306.3" font-size="5.2" text-anchor="middle">0.0 </text>
<text x="358.0" y="293.8" font-size="5.2" text-anchor="middle">0.2 </text>
<text x="343.6" y="281.3" font-size="5.2" text-anchor="middle">0.4 </text>
<text x="329.2" y="268.8" font-size="5.2" text-anchor="middle">0.6 </text>
<text x="314.8" y="256.2" font-size="5.2" text-anchor="middle">0.8 </text>
<text x="413.5" y="334.8" font-size="14.5" text-anchor="middle" class="cap">(<tspan font-weight="bold">d</tspan>)</text>
<!-- panel e -->
<path d="M244.0 464.0 L175.0 404.0 L295.7 369.0 L364.7 429.0 Z" fill="none" stroke="#444" stroke-width=".75"/>
<path d="M244.0 464.0 l2.0 1.7M244.0 464.0 l-2.5 0.7M268.1 457.0 l2.0 1.7M230.2 452.0 l-2.5 0.7M292.3 450.0 l2.0 1.7M216.4 440.0 l-2.5 0.7M316.4 443.0 l2.0 1.7M202.6 428.0 l-2.5 0.7M340.6 436.0 l2.0 1.7M188.8 416.0 l-2.5 0.7" stroke="#444" stroke-width=".6" fill="none"/>
<g filter="url(#bl)">
<g transform="scale(0.2500)">
<path class="q16" d="M1413 1619l-9-2-10-9-10-13 0 0 10 13 11 7 10 13zM1432 1635l-10 5 4 2 10 1z"/>
<path class="q15" d="M1422 1640l-9-21 2 9 11 14z"/>
<path class="q13" d="M1441 1671l-9-36 4 8 11 56z"/>
<path class="q17" d="M1351 1568l-9-15 0 0 10 16zM1426 1641l-9-9-9-12-10-12-9-9-10-6-9-13-9-4 2 3 10 5 11 11 10 13 10 9 9 2 9 21 10-5z"/>
<path class="q16" d="M1361 1576l-10-8 1 1 11 10z"/>
<path class="q15" d="M1436 1675l-10-34 6-6 9 36z"/>
<path class="q19" d="M1299 1513l-10-15 0 0 11 20zM1327 1547l-9-19-10-10 2 3 11 13 10-5zM1393 1605l-10-11 6 5 9 9z"/>
<path class="q18" d="M1308 1518l-9-5 1 5 10 3zM1365 1585l-10-27-9 1-10-3-9-9 4-18 11 24 9 15 10 8 9 4zM1383 1594l-9 0 5-1 10 6zM1421 1632l-9-15-10 0-9-12 5 3 10 12 9 12 9 9z"/>
<path class="q17" d="M1374 1594l-9-9 5-5 9 13z"/>
<path class="q16" d="M1430 1654l-9-22 5 9 10 34z"/>
<path class="q18" d="M1246 1468l-9 2 0 0 10-11zM1293 1521l-9-8 5-15 10 15zM1340 1564l-9-9-9-9 5 1 9 9 10 3zM1378 1608l-9-18-10-7 6 2 9 9 9 0zM1406 1637l-9-17 5-3 10 0z"/>
<path class="q19" d="M1265 1493l-9-10-10-15 1-9 11 2 10 20zM1322 1546l-10-18-9-8-10 1 6-8 9 5 10 10 9 19zM1359 1583l-9-14-10-5 6-5 9-1 10 27zM1397 1620l-10-20-9 8 5-14 10 11 9 12zM1416 1640l-10-3 6-20 9 15z"/>
<path class="q17" d="M1284 1513l-9-3-10-17 3-12 11 19 10-2zM1425 1661l-9-21 5-8 9 22z"/>
<path class="q18" d="M1203 1441l-9-19-10-10-11-6 0 0 11 6 11 10 10 6zM1222 1450l-9 1 3-7 10 6zM1316 1553l-9-7-10-6 6-20 9 8 10 18zM1401 1629l-10-2-9-9-9-9-10-22-9 7 5-11 10 7 9 18 9-8 10 20 9 17z"/>
<path class="q17" d="M1213 1451l-10-10 2-13 11 16zM1241 1482l-10-15-9-17 4 0 11 20 9-2zM1297 1540l-9-12-10-15-9-14-9-8-10 4 6-12 9 10 10 17 9 3 9 8 10-1zM1354 1594l-10-7-9-15-9-9-10-10 6-7 9 9 9 9 10 5 9 14zM1410 1649l-9-20 5 8 10 3z"/>
<path class="q16" d="M1250 1495l-9-13 5-14 10 15z"/>
<path class="q15" d="M1420 1682l-10-33 6-9 9 21z"/>
<path class="q16" d="M1179 1433l-9-13 3-14 11 6zM1198 1452l-10-17 6-13 9 19zM1217 1467l-10-2 6-14 9-1zM1235 1484l-9-10 5-7 10 15zM1348 1591l-9-6-9-1-10-13-9-3-10-24-9-6-10-13-9-2-9-8-10-2 6-22 9 8 9 14 10 15 9 12 10 6 9 7 10 10 9 9 9 15 10 7zM1386 1633l-9-2-10-14 6-8 9 9 9 9z"/>
<path class="q17" d="M1188 1435l-9-2 5-21 10 10zM1226 1474l-9-7 5-17 9 17zM1367 1617l-9-9-10-17 6 3 9-7 10 22zM1405 1653l-10-9-9-11 5-6 10 2 9 20z"/>
<path class="q15" d="M1207 1465l-9-13 5-11 10 10zM1254 1513l-9-16-10-13 6-2 9 13 10-4z"/>
<path class="q14" d="M1414 1679l-9-26 5-4 10 33z"/>
<path class="q15" d="M1174 1439l-10-26 6 7 9 13zM1211 1470l-9-18-10 2 6-2 9 13 10 2zM1268 1523l-10-9-9-15-10-8-9 4-9-26 5 5 9 10 10 13 9 16 10 2 9 8zM1352 1617l-9-11-10-10-9-16 6 4 9 1 9 6 10 17zM1381 1633l-10 2 6-4 9 2zM1399 1659l-9-11 5-4 10 9z"/>
<path class="q14" d="M1192 1454l-9-1-9-14 5-6 9 2 10 17zM1371 1635l-9-8-10-10 6-9 9 9 10 14z"/>
<path class="q16" d="M1221 1469l-10 1 6-3 9 7zM1324 1580l-9-26-10-4-9 7-10-17-9-9-9-8 5 0 9 2 10 13 9 6 10 24 9 3 10 13zM1390 1648l-9-15 5 0 9 11z"/>
<path class="q13" d="M1409 1690l-10-31 6-6 9 26z"/>
<path class="q15" d="M1168 1436l-9-8 5-15 10 26zM1187 1437l-9 1 5 15 9 1zM1234 1493l-9-5-10-10 6-9 9 26 9-4zM1281 1548l-9-10-10-12-9-1-10-22 6-4 9 15 10 9 9 8 9 9zM1300 1563l-10 6 6-12 9-7zM1337 1604l-9-13-9-8 5-3 9 16 10 10zM1394 1663l-10-10-9-12 6-8 9 15 9 11z"/>
<path class="q14" d="M1178 1438l-10-2 6 3 9 14zM1290 1569l-9-21 5-8 10 17zM1375 1641l-9 6-10-27-9-8-10-8 6 2 9 11 10 10 9 8 10-2z"/>
<path class="q17" d="M1196 1444l-9-7 5 17 10-2zM1309 1578l-9-15 5-13 10 4z"/>
<path class="q16" d="M1215 1478l-9-11-10-23 6 8 9 18 10-1zM1243 1503l-9-10 5-2 10 8zM1319 1583l-10-5 6-24 9 26z"/>
<path class="q11" d="M1403 1710l-9-47 5-4 10 31z"/>
<path class="q15" d="M1163 1430l-10-14 6 12 9 8zM1294 1559l-9-2-9-14-10-3-9-20-10-6-9 1-9-6 5-16 9 10 10 22 9 1 10 12 9 10 9 21 10-6zM1360 1617l-9 2 5 1 10 27z"/>
<path class="q16" d="M1172 1425l-9 5 5 6 10 2zM1229 1509l-10-29-9-7 5 5 10 10 9 5zM1351 1619l-10-8-9-14-9-14-10-7-9-9-10-8 6 4 9 15 10 5 9 8 9 13 10 8 9 8zM1388 1646l-9-1-9-16-10-12 6 30 9-6 9 12 10 10z"/>
<path class="q17" d="M1210 1473l-10-16-9 5-9-10-10-27 6 13 9-1 9 7 10 23 9 11z"/>
<path class="q13" d="M1398 1671l-10-25 6 17 9 47z"/>
<path class="q17" d="M1157 1420l-9-8 5 4 10 14zM1176 1446l-9-11 5-10 10 27zM1195 1461l-9-8 5 9 9-5zM1251 1525l-9-13 5 2 10 6zM1270 1532l-9 1 5 7 10 3zM1345 1598l-9 7-9-11-10-12-9-3-10-13-9-14 5 7 10 8 9 9 10 7 9 14 9 14 10 8zM1383 1649l-9-5-10-11 6-4 9 16 9 1z"/>
<path class="q18" d="M1167 1435l-10-15 6 10 9-5zM1214 1483l-10-20-9-2 5-4 10 16 9 7zM1289 1552l-9-19-10-1 6 11 9 14 9 2zM1364 1633l-9-21 5 5 10 12z"/>
<path class="q16" d="M1186 1453l-10-7 6 6 9 10zM1223 1495l-9-12 5-3 10 29zM1242 1512l-9-11 5 14 9-1zM1261 1533l-10-8 6-5 9 20zM1392 1687l-9-38 5-3 10 25z"/>
<path class="q15" d="M1233 1501l-10-6 6 14 9 6z"/>
<path class="q19" d="M1355 1612l-10-14 6 21 9-2z"/>
<path class="q19" d="M1152 1411l-10-6 6 7 9 8zM1199 1460l-10-7 6 8 9 2zM1274 1548l-9-14-10-18-9-11 5 20 10 8 9-1 10 1zM1331 1588l-10-1-9-8 5 3 10 12 9 11zM1359 1626l-10-7 6-7 9 21z"/>
<path class="q18" d="M1161 1436l-9-25 5 9 10 15zM1189 1453l-9-4-9-8 5 5 10 7 9 8zM1218 1488l-10-25 6 20 9 12zM1246 1505l-9-1-10-1 6-2 9 11 9 13zM1312 1579l-10-7-9-9-9 1-10-16 6-15 9 19 9 14 10 13 9 3zM1378 1648l-10-12-9-10 5 7 10 11 9 5z"/>
<path class="q17" d="M1171 1441l-10-5 6-1 9 11zM1227 1503l-9-15 5 7 10 6z"/>
<path class="q20" d="M1208 1463l-9-3 5 3 10 20zM1349 1619l-9-15-9-16 5 17 9-7 10 14z"/>
<path class="q15" d="M1387 1680l-9-32 5 1 9 38z"/>
<path class="q19" d="M1146 1435l-9-17 5-13 10 6zM1203 1481l-10-6 6-15 9 3zM1259 1537l-9-7 5-14 10 18zM1306 1587l-9-15-9-10 5 1 9 9 10 7zM1363 1637l-10-7-9-22-9 6-10-2 6-24 9 16 9 15 10 7 9 10z"/>
<path class="q18" d="M1193 1475l-9 1-9-24-10-11-9-8-10 2 6-24 9 25 10 5 9 8 9 4 10 7zM1231 1506l-9-1-10-23 6 6 9 15 10 1zM1288 1562l-10-8-9-10-10-7 6-3 9 14 10 16 9-1zM1325 1612l-9-5-10-20 6-8 9 8 10 1zM1372 1659l-9-22 5-1 10 12z"/>
<path class="q20" d="M1212 1482l-9-1 5-18 10 25zM1250 1530l-10-19-9-5 6-2 9 1 9 11z"/>
<path class="q15" d="M1382 1689l-10-30 6-11 9 32z"/>
<path class="q17" d="M1141 1438l-9-21 5 1 9 17zM1160 1463l-10-14 6-16 9 8zM1197 1491l-9-12 5-4 10 6zM1216 1524l-9-29 5-13 10 23zM1244 1551l-9-21-9-2 5-22 9 5 10 19zM1301 1602l-9-9-10-18-9-1-10-22-9 3 5-18 10 7 9 10 10 8 9 10 9 15zM1367 1667l-10-11 6-19 9 22z"/>
<path class="q16" d="M1150 1449l-9-11 5-3 10-2zM1188 1479l-9-5-10-1-9-10 5-22 10 11 9 24 9-1zM1226 1528l-10-4 6-19 9 1zM1254 1555l-10-4 6-21 9 7zM1310 1607l-9-5 5-15 10 20zM1329 1625l-9 9 5-22 10 2z"/>
<path class="q18" d="M1207 1495l-10-4 6-10 9 1zM1339 1629l-10-4 6-11 9-6zM1357 1656l-9-18 5-8 10 7z"/>
<path class="q15" d="M1320 1634l-10-27 6 0 9 5z"/>
<path class="q19" d="M1348 1638l-9-9 5-21 9 22z"/>
<path class="q14" d="M1376 1695l-9-28 5-8 10 30z"/>
<path class="q16" d="M1154 1452l-9-6-9-8-10-2 6-19 9 21 9 11 10 14zM1201 1513l-9-15-9-6 5-13 9 12 10 4zM1239 1535l-9-11-10 4 6 0 9 2 9 21zM1352 1662l-9-15-10-2 6-16 9 9 9 18z"/>
<path class="q15" d="M1183 1492l-10-10-9-16-10-14 6 11 9 10 10 1 9 5zM1211 1517l-10-4 6-18 9 29zM1248 1568l-9-33 5 16 10 4zM1286 1597l-9-8-10-9-9-5 5-23 10 22 9 1 10 18zM1305 1619l-10-11 6-6 9 5zM1333 1645l-9-11 5-9 10 4zM1361 1677l-9-15 5-6 10 11z"/>
<path class="q14" d="M1220 1528l-9-11 5 7 10 4zM1258 1575l-10-7 6-13 9-3zM1295 1608l-9-11 6-4 9 9zM1324 1634l-10-13-9-2 5-12 10 27 9-9z"/>
<path class="q12" d="M1371 1711l-10-34 6-10 9 28z"/>
<path class="q15" d="M1140 1452l-10-6-9-18 5 8 10 2 9 8zM1177 1491l-9-14-10-2-9-6 5-17 10 14 9 16 10 10zM1215 1529l-10-16-9 1 5-1 10 4 9 11zM1243 1552l-9-7 5-10 9 33zM1271 1584l-9-12 5 8 10 9zM1356 1672l-10-17-9 1 6-9 9 15 9 15z"/>
<path class="q16" d="M1149 1469l-9-17 5-6 9 6zM1234 1545l-10-7-9-9 5-1 10-4 9 11z"/>
<path class="q14" d="M1196 1514l-9-3-10-20 6 1 9 6 9 15zM1262 1572l-10-2-9-18 5 16 10 7 9 5zM1318 1643l-9-17-10-7-9-6-9-15-10-14 6 5 9 8 9 11 10 11 9 2 10 13zM1337 1656l-9 4 5-15 10 2z"/>
<path class="q13" d="M1328 1660l-10-17 6-9 9 11z"/>
<path class="q12" d="M1365 1701l-9-29 5 5 10 34z"/>
<path class="q16" d="M1125 1438l-10-13 6 3 9 18zM1191 1499l-10-18-9 12 5-2 10 20 9 3zM1275 1582l-9-3-10-2 6-5 9 12 10 14z"/>
<path class="q15" d="M1172 1493l-10-10-9-11-9-9-10-10-9-15 5 8 10 6 9 17 9 6 10 2 9 14zM1219 1547l-10-25 6 7 9 9zM1256 1577l-9-11-9-12-10 7 6-16 9 7 9 18 10 2zM1313 1631l-10-14-9-4-9-13-10-18 6 16 9 15 9 6 10 7 9 17zM1350 1666l-9 3-9-15 5 2 9-1 10 17z"/>
<path class="q17" d="M1209 1522l-9-18-9-5 5 15 9-1 10 16z"/>
<path class="q14" d="M1228 1561l-9-14 5-9 10 7zM1332 1654l-10-10-9-13 5 12 10 17 9-4z"/>
<path class="q13" d="M1360 1702l-10-36 6 6 9 29z"/>
<path class="q17" d="M1129 1449l-10-16-9-4 5-4 10 13 9 15zM1176 1499l-10-15 6 9 9-12zM1204 1526l-9-10 5-12 9 18zM1251 1554l-9 6-10-13 6 7 9 12 9 11zM1298 1620l-9-14-10-15 6 9 9 13 9 4zM1345 1652l-9-6-10-8 6 16 9 15 9-3z"/>
<path class="q16" d="M1166 1484l-9-7-9-10-10-7-9-11 5 4 10 10 9 9 9 11 10 10zM1213 1536l-9-10 5-4 10 25zM1232 1547l-9 0 5 14 10-7zM1326 1638l-9 0-10-12-9-6 5-3 10 14 9 13 10 10z"/>
<path class="q18" d="M1195 1516l-10-18-9 1 5-18 10 18 9 5zM1260 1560l-9-6 5 23 10 2zM1279 1591l-9-10 5 1 10 18z"/>
<path class="q14" d="M1223 1547l-10-11 6 11 9 14zM1354 1706l-9-54 5 14 10 36z"/>
<path class="q19" d="M1270 1581l-10-21 6 19 9 3z"/>
<path class="q17" d="M1114 1431l-10 5 6-7 9 4zM1151 1471l-9-8-9-9 5 6 10 7 9 10zM1180 1501l-10 4-9-25 5 4 10 15 9-1zM1208 1538l-9-25 5 13 9 10zM1227 1551l-10-9 6 5 9 0zM1302 1619l-9 1-10-16 6 2 9 14 9 6z"/>
<path class="q18" d="M1133 1454l-10-20-9-3 5 2 10 16 9 11zM1161 1480l-10-9 6 6 9 7zM1199 1513l-10-12-9 0 5-3 10 18 9 10zM1236 1548l-9 3 5-4 10 13zM1283 1604l-9-9-10-11 6-3 9 10 10 15zM1340 1662l-10-4-9-13-10-11-9-15 5 7 10 12 9 0 10 8 9 6z"/>
<path class="q16" d="M1217 1542l-9-4 5-2 10 11z"/>
<path class="q19" d="M1246 1556l-10-8 6 12 9-6zM1264 1584l-9-11 5-13 10 21z"/>
<path class="q20" d="M1255 1573l-9-17 5-2 9 6z"/>
<path class="q15" d="M1349 1688l-9-26 5-10 9 54z"/>
<path class="q18" d="M1108 1433l-9-6 5 9 10-5zM1184 1513l-10-8-9-19-10-9 6 3 9 25 10-4 9 0zM1221 1543l-9-5-10-16 6 16 9 4 10 9zM1297 1620l-10-8-9-11-10 1-9-17-9 0-10-14 6-15 9 17 9 11 10 11 9 9 10 16 9-1zM1334 1670l-9-20-10-12-9-9 5 5 10 11 9 13 10 4z"/>
<path class="q20" d="M1127 1452l-9-24-10 5 6-2 9 3 10 20zM1193 1505l-9 8 5-12 10 12z"/>
<path class="q19" d="M1155 1477l-9-15-9-9-10-1 6 2 9 9 9 8 10 9zM1202 1522l-9-17 6 8 9 25zM1240 1571l-9-21-10-7 6 8 9-3 10 8zM1306 1629l-9-9 5-1 9 15z"/>
<path class="q15" d="M1344 1711l-10-41 6-8 9 26z"/>
<path class="q18" d="M1103 1440l-9-17 5 4 9 6zM1141 1485l-10-12-9-6-10-14 6-25 9 24 10 1 9 9zM1169 1506l-10-11 6-9 9 19zM1188 1522l-10-1 6-8 9-8zM1206 1539l-9-1 5-16 10 16zM1235 1568l-10 10-9-27 5-8 10 7 9 21zM1319 1660l-9-9-9-13-10-10-9 3 5-19 10 8 9 9 9 9 10 12z"/>
<path class="q19" d="M1112 1453l-9-13 5-7 10-5zM1159 1495l-9-11-9 1 5-23 9 15 10 9zM1197 1538l-9-16 5-17 9 17zM1216 1551l-10-12 6-1 9 5z"/>
<path class="q17" d="M1178 1521l-9-15 5-1 10 8zM1282 1631l-10-15-9-14-9 1-10-13-9-22 5 3 10 14 9 0 9 17 10-1 9 11zM1329 1671l-10-11 6-10 9 20z"/>
<path class="q14" d="M1338 1701l-9-30 5-1 10 41z"/>
<path class="q16" d="M1107 1465l-9-13-10-2 6-27 9 17 9 13zM1135 1484l-9-10-10 4 6-11 9 6 10 12zM1163 1520l-9-5-9-16 5-15 9 11 10 11zM1201 1564l-9-18-10-5 6-19 9 16 9 1zM1239 1601l-10-20-9-11-10-11 6-8 9 27 10-10 9 22zM1267 1619l-10-7 6-10 9 14zM1295 1661l-9-22-10-1 6-7 9-3 10 10zM1323 1681l-9-7 5-14 10 11z"/>
<path class="q15" d="M1116 1478l-9-13 5-12 10 14zM1257 1612l-9 8 6-17 9-1zM1276 1638l-9-19 5-3 10 15zM1314 1674l-9 4-10-17 6-23 9 13 9 9z"/>
<path class="q17" d="M1145 1499l-10-15 6 1 9-1zM1182 1541l-9-24-10 3 6-14 9 15 10 1zM1210 1559l-9 5 5-25 10 12z"/>
<path class="q14" d="M1248 1620l-9-19 5-11 10 13zM1333 1708l-10-27 6-10 9 30z"/>
<path class="q14" d="M1111 1470l-9 2-10-9-9-13 5 0 10 2 9 13 9 13zM1186 1547l-9 7-10-11-9-10-9-17 5-1 9 5 10-3 9 24 10 5zM1243 1601l-10-9 6 9 9 19zM1290 1662l-10-14-9-8 5-2 10 1 9 22z"/>
<path class="q15" d="M1120 1481l-9-11 5 8 10-4zM1149 1516l-10-17 6 0 9 16zM1205 1562l-9 1-10-16 6-1 9 18 9-5zM1233 1592l-9-5-10-7 6-10 9 11 10 20zM1271 1640l-10-18-9-6-9-15 5 19 9-8 10 7 9 19zM1318 1678l-10 3 6-7 9 7z"/>
<path class="q16" d="M1139 1499l-9-13-10-5 6-7 9 10 10 15zM1214 1580l-9-18 5-3 10 11z"/>
<path class="q13" d="M1308 1681l-9-12-9-7 5-1 10 17 9-4zM1327 1705l-9-27 5 3 10 27z"/>
<path class="q15" d="M1087 1451l-10-8 6 7 9 13zM1162 1526l-9-26-10 11-9-5-10-9-9-7-9-15 5-5 9 11 10 5 9 13 10 17 9 17 9 10zM1200 1560l-10 7 6-4 9-1zM1256 1628l-9-5-10-19 6-3 9 15 9 6zM1312 1689l-9-18-9-11-10-19-9 1 5 6 10 14 9 7 9 12 10-3z"/>
<path class="q14" d="M1106 1475l-10-4-9-20 5 12 10 9 9-2zM1190 1567l-9-7 5-13 10 16zM1275 1642l-10 1-9-15 5-6 10 18 9 8z"/>
<path class="q13" d="M1181 1560l-10-10-9-24 5 17 10 11 9-7zM1322 1720l-10-31 6-11 9 27z"/>
<path class="q16" d="M1237 1604l-9-5-10-17-9-14-9-8 5 2 9 18 10 7 9 5 10 9z"/>
<path class="q17" d="M1081 1445l-9-14 5 12 10 8zM1222 1588l-9-10-9 1-10-28-9 0 5 16 10-7 9 8 9 14 10 17zM1288 1654l-9-1 5-12 10 19z"/>
<path class="q16" d="M1100 1469l-9-14-10-10 6 6 9 20 10 4zM1138 1502l-10-4-9-18 5 17 10 9 9 5zM1166 1533l-9-15 5 8 9 24zM1241 1609l-9-7-10-14 6 11 9 5 10 19zM1279 1653l-10-9 6-2 9-1zM1298 1677l-10-23 6 6 9 11z"/>
<path class="q15" d="M1119 1480l-9 5-10-16 6 6 9 15 9 7zM1185 1551l-10-12-9-6 5 17 10 10 9 7zM1269 1644l-9-6-9-14-10-15 6 14 9 5 9 15 10-1zM1307 1675l-9 2 5-6 9 18z"/>
<path class="q18" d="M1157 1518l-10-8-9-8 5 9 10-11 9 26z"/>
<path class="q13" d="M1316 1715l-9-40 5 14 10 31z"/>
<path class="q18" d="M1132 1498l-9-10-10-7-9-19-9-8-10-5-9-3-10-8 6-7 9 14 10 10 9 14 10 16 9-5 9 18 10 4zM1198 1570l-9-14-10-5-9-8-9-19-10-4 6-2 9 15 9 6 10 12 9 0 10 28zM1273 1631l-9-3 5 16 10 9zM1292 1662l-9-17 5 9 10 23z"/>
<path class="q19" d="M1151 1520l-9-16-10-6 6 4 9 8 10 8zM1283 1645l-10-14 6 22 9 1z"/>
<path class="q17" d="M1236 1611l-10-15-9-6-9-7-10-13 6 9 9-1 9 10 10 14 9 7zM1264 1628l-9-2 5 12 9 6zM1302 1669l-10-7 6 15 9-2z"/>
<path class="q16" d="M1255 1626l-10 2-9-17 5-2 10 15 9 14zM1311 1686l-9-17 5 6 9 40z"/>
<path class="q19" d="M1127 1494l-10-2-9-7-9-7-10-7-9-14-10-23-9 2 5 2 10 8 9 3 10 5 9 8 9 19 10 7 9 10zM1164 1541l-9-19 6 2 9 19zM1202 1571l-9-19-10 1-9-10 5 8 10 5 9 14 10 13zM1296 1672l-9-11-10-3-9-10-9-11-10-20 6 9 9 2 9 3 10 14 9 17 10 7z"/>
<path class="q20" d="M1155 1522l-9-11-10-11-9-6 5 4 10 6 9 16 10 4z"/>
<path class="q18" d="M1174 1543l-10-2 6 2 9 8zM1249 1617l-9-8-10-8-9-8-9-9-10-13 6 12 9 7 9 6 10 15 9 17 10-2z"/>
<path class="q17" d="M1306 1699l-10-27 6-3 9 17z"/>
<path class="q18" d="M1074 1462l-9-13-9-4 5-9 9-2 10 23zM1112 1499l-9-11-10-6 6-4 9 7 9 7zM1225 1611l-9-4-10-13 6-10 9 9 9 8z"/>
<path class="q17" d="M1093 1482l-9-14-10-6 6-5 9 14 10 7z"/>
<path class="q19" d="M1121 1503l-9-4 5-7 10 2zM1178 1566l-10-21-9-6-9-13 5-4 9 19 10 2 9 10zM1206 1594l-9-15 5-8 10 13zM1234 1615l-9-4 5-10 10 8zM1291 1676l-10-17-9-11-9-17-10-5 6 11 9 11 9 10 10 3 9 11z"/>
<path class="q20" d="M1150 1526l-10-3-9-12-10-8 6-9 9 6 10 11 9 11zM1197 1579l-10-14-9 1 5-13 10-1 9 19zM1253 1626l-9-5-10-6 6-6 9 8 10 20z"/>
<path class="q16" d="M1300 1712l-9-36 5-4 10 27z"/>
<path class="q15" d="M1060 1472l-10-7 6-20 9 4zM1219 1631l-9-5 6-19 9 4zM1295 1712l-10-29 6-7 9 36z"/>
<path class="q16" d="M1088 1496l-10-5-9-21-9 2 5-23 9 13 10 6 9 14zM1210 1626l-9-26 5-6 10 13zM1229 1632l-10-1 6-20 9 4z"/>
<path class="q17" d="M1116 1515l-9-5-10-18-9 4 5-14 10 6 9 11 9 4zM1144 1551l-9-12 5-16 10 3zM1172 1578l-9-14 5-19 10 21zM1238 1641l-9-9 5-17 10 6z"/>
<path class="q18" d="M1135 1539l-10-24-9 0 5-12 10 8 9 12zM1163 1564l-9-17-10 4 6-25 9 13 9 6zM1182 1565l-10 13 6-12 9-1zM1201 1600l-10-25 6 4 9 15zM1285 1683l-9-12-9 5-10-20-9 1-10-16 6-20 9 5 10 5 9 17 9 11 10 17z"/>
<path class="q19" d="M1191 1575l-9-10 5 0 10 14z"/>
<path class="q14" d="M1054 1462l-9-2 5 5 10 7zM1082 1497l-9-9 5 3 10 5zM1214 1629l-9-11 5 8 9 5z"/>
<path class="q15" d="M1073 1488l-9-15-10-11 6 10 9-2 9 21zM1092 1500l-10-3 6-1 9-4zM1167 1575l-9 1-10-15 6-14 9 17 9 14zM1205 1618l-10-12 6-6 9 26zM1223 1632l-9-3 5 2 10 1zM1252 1663l-10-5-9-17 5 0 10 16 9-1zM1289 1712l-9-27 5-2 10 29z"/>
<path class="q16" d="M1111 1513l-10 5-9-18 5-8 10 18 9 5zM1148 1561l-9-13-10-14 6 5 9 12 10-4zM1176 1592l-9-17 5 3 10-13zM1195 1606l-9 1 5-32 10 25zM1233 1641l-10-9 6 0 9 9zM1280 1685l-10-2-9-15-9-5 5-7 10 20 9-5 9 12z"/>
<path class="q17" d="M1129 1534l-9-7-9-14 5 2 9 0 10 24zM1186 1607l-10-15 6-27 9 10z"/>
<path class="q15" d="M1049 1472l-10-20 6 8 9 2zM1077 1492l-9-1-10-23 6 5 9 15 9 9zM1105 1526l-9-14 5 6 10-5zM1237 1644l-10 9-9-20-9-6-10-9-9-15-10-11-9-8-9-1-10-19-9-5-10-6-9-8 5-11 10 14 9 13 10 15 9-1 9 17 10 15 9-1 10 12 9 11 9 3 10 9 9 17zM1284 1701l-10-12 6-4 9 27z"/>
<path class="q16" d="M1058 1468l-9 4 5-10 10 11zM1096 1512l-10-19-9-1 5 5 10 3 9 18zM1124 1545l-9-19-10 0 6-13 9 14 9 7zM1246 1652l-9-8 5 14 10 5zM1274 1689l-9-9 5 3 10 2z"/>
<path class="q17" d="M1265 1680l-9-23-10-5 6 11 9 5 9 15z"/>
<path class="q16" d="M1062 1474l-9 0-10-23-9 4 5-3 10 20 9-4 10 23zM1137 1551l-9 0-9-21 5 15 9 8 10 6z"/>
<path class="q17" d="M1072 1475l-10-1 6 17 9 1zM1090 1517l-9-27 5 3 10 19zM1119 1530l-10-15-9 7 5 4 10 0 9 19zM1175 1587l-9-11 5 8 9 8zM1222 1627l-9-4-10-12-9-6 5 13 10 9 9 6 9 20zM1278 1695l-9-22 5 16 10 12z"/>
<path class="q18" d="M1081 1490l-9-15 5 17 9 1zM1166 1576l-10-23-9-4-10 2 6 8 9 5 10 19 9 1zM1194 1605l-10-19-9 1 5 5 10 11 9 15zM1241 1653l-10-14-9-12 5 26 10-9 9 8zM1269 1673l-9-1-10-17 6 2 9 23 9 9z"/>
<path class="q15" d="M1100 1522l-10-5 6-5 9 14z"/>
<path class="q19" d="M1250 1655l-9-2 5-1 10 5z"/>
<path class="q20" d="M1038 1440l-10-11 6 26 9-4zM1057 1450l-10 4 6 20 9 0zM1141 1547l-9-12 5 16 10-2zM1170 1569l-10 2-9-21 5 3 10 23 9 11zM1198 1599l-10-9 6 15 9 6zM1264 1669l-10-8 6 11 9 1z"/>
<path class="q19" d="M1047 1454l-9-14 5 11 10 23zM1094 1488l-9 5-10-25 6 22 9 27 10 5zM1132 1535l-9-8-10-8 6 11 9 21 9 0z"/>
<path class="q21" d="M1066 1456l-9-6 5 24 10 1zM1113 1519l-9-24-10-7 6 34 9-7 10 15zM1151 1550l-10-3 6 2 9 4zM1188 1590l-9-13-9-8 5 18 9-1 10 19zM1217 1611l-10-13-9 1 5 12 10 12 9 4zM1254 1661l-9-25-10-6-9-15 5 24 10 14 9 2 10 17z"/>
<path class="q22" d="M1075 1468l-9-12 6 19 9 15zM1226 1615l-9-4 5 16 9 12z"/>
<path class="q18" d="M1273 1712l-9-43 5 4 9 22z"/>
<path class="q24" d="M1042 1425l-10-2-9-9 5 15 10 11 9 14zM1108 1498l-10-4-9-16-10-14-9-10 5 14 10 25 9-5 10 7 9 24zM1127 1502l-10 8 6 17 9 8zM1145 1536l-9-14 5 25 10 3zM1174 1570l-10-11 6 10 9 8zM1192 1575l-9 2 5 13 10 9zM1211 1611l-9-17 5 4 10 13z"/>
<path class="q25" d="M1051 1431l-9-6 5 29 10-4zM1136 1522l-9-20 5 33 9 12zM1202 1594l-10-19 6 24 9-1zM1221 1603l-10 8 6 0 9 4zM1239 1636l-9-21 5 15 10 6z"/>
<path class="q26" d="M1070 1454l-9-14-10-9 6 19 9 6 9 12zM1230 1615l-9-12 5 12 9 15z"/>
<path class="q23" d="M1117 1510l-9-12 5 21 10 8zM1164 1559l-9-13-10-10 6 14 9 21 10-2zM1183 1577l-9-7 5 7 9 13zM1258 1650l-9 1-10-15 6 0 9 25 10 8z"/>
<path class="q21" d="M1268 1665l-10-15 6 19 9 43z"/>
<path class="q24" d="M1027 1442l-9-18 5-10 9 9zM1243 1652l-9-21 5 5 10 15z"/>
<path class="q25" d="M1036 1439l-9 3 5-19 10 2zM1112 1510l-10-9-9-10 5 3 10 4 9 12zM1149 1548l-9-6 5-6 10 10zM1178 1573l-10-2-9-18 5 6 10 11 9 7zM1206 1607l-10-14 6 1 9 17zM1262 1665l-9-19-10 6 6-1 9-1 10 15z"/>
<path class="q26" d="M1046 1441l-10-2 6-14 9 6zM1093 1491l-10-15-9-2-9-8-10-8 6-18 9 14 9 10 10 14 9 16zM1140 1542l-10-13 6-7 9 14zM1159 1553l-10-5 6-2 9 13zM1196 1593l-9 2-9-22 5 4 9-2 10 19zM1215 1610l-9-3 5 4 10-8zM1234 1631l-9-15 5-1 9 21z"/>
<path class="q27" d="M1055 1458l-9-17 5-10 10 9zM1130 1529l-9-16-9-3 5 0 10-8 9 20zM1225 1616l-10-6 6-7 9 12z"/>
<path class="q22" d="M1059 1493l-9-13-10 2-9-13-9-26-10-1 6-18 9 18 9-3 10 2 9 17 10 8zM1144 1575l-10 0-9-12-9-12 5-38 9 16 10 13 9 6zM1181 1624l-9-31 6-20 9 22zM1210 1646l-10-10-9-6 5-37 10 14 9 3zM1247 1693l-9-30 5-11 10-6z"/>
<path class="q23" d="M1069 1494l-10-1 6-27 9 8zM1116 1551l-10-14-9-15-10 3-9-21 5-28 10 15 9 10 10 9 9 3zM1153 1576l-9-1 5-27 10 5zM1219 1656l-9-10 5-36 10 6z"/>
<path class="q24" d="M1078 1504l-9-10 5-20 9 2zM1172 1593l-9-5-10-12 6-23 9 18 10 2zM1238 1663l-9-22-10 15 6-40 9 15 9 21z"/>
<path class="q21" d="M1191 1630l-10-6 6-29 9-2z"/>
<path class="q20" d="M1257 1722l-10-29 6-47 9 19z"/>
<path class="q18" d="M1026 1487l-10-10-9-10 5-25 10 1 9 26zM1073 1540l-10-12 6-34 9 10zM1120 1569l-10-13-9 3-10 0 6-37 9 15 10 14 9 12zM1148 1609l-10-9 6-25 9 1zM1214 1669l-10-16-9 4 5-21 10 10 9 10z"/>
<path class="q16" d="M1035 1501l-9-14 5-18 9 13zM1242 1719l-10-20 6-36 9 30z"/>
<path class="q17" d="M1063 1528l-9-12-10-13-9-2 5-19 10-2 9 13 10 1zM1091 1559l-9-15-9-4 5-36 9 21 10-3zM1138 1600l-9-13-9-18 5-6 9 12 10 0zM1195 1657l-10-14-9-16 5-3 10 6 9 6z"/>
<path class="q19" d="M1176 1627l-9-8-10-6-9-4 5-33 10 12 9 5 9 31zM1232 1699l-9-19-9-11 5-13 10-15 9 22z"/>
<path class="q12" d="M1251 1751l-9-32 5-26 10 29z"/>
<path class="q15" d="M1039 1496l-9 1-10-17-9-2-10-2 6-9 9 10 10 10 9 14 9 2zM1077 1544l-10-15-9-4-10-11 6 2 9 12 10 12 9 4zM1218 1699l-10-19 6-11 9 11z"/>
<path class="q16" d="M1048 1514l-9-18 5 7 10 13zM1208 1680l-9-13-10-18-9-9-9 2-10-9-9-18-10-12-9-12-9-8 5 4 9 13 10 9 9 4 10 6 9 8 9 16 10 14 9-4 10 16z"/>
<path class="q14" d="M1095 1563l-9 4-9-23 5 0 9 15 10 0zM1227 1708l-9-9 5-19 9 19z"/>
<path class="q17" d="M1124 1583l-10-8-9-11-10-1 6-4 9-3 10 13 9 18z"/>
<path class="q13" d="M1236 1716l-9-8 5-9 10 20z"/>
<path class="q11" d="M1246 1720l-10-4 6 3 9 32z"/>
<path class="q17" d="M1005 1458l-9-4 5 22 10 2zM1043 1513l-9-17-10-11-9-17 5 12 10 17 9-1 9 18zM1071 1541l-9-25-10-2 6 11 9 4 10 15zM1118 1580l-9-9-10-8-9-10 5 10 10 1 9 11 10 8zM1193 1654l-9-3-9-14-10-21-9-1-10-3-9-15 5 6 10 12 9 18 10 9 9-2 9 9 10 18z"/>
<path class="q18" d="M1015 1468l-10-10 6 20 9 2zM1137 1597l-9-19-10 2 6 3 9 8 9 12z"/>
<path class="q16" d="M1052 1514l-9-1 5 1 10 11zM1090 1553l-9-10 5 24 9-4zM1203 1678l-10-24 6 13 9 13z"/>
<path class="q15" d="M1081 1543l-10-2 6 3 9 23zM1240 1714l-9-23-9-5-10-2 6 15 9 9 9 8 10 4z"/>
<path class="q14" d="M1212 1684l-9-6 5 2 10 19z"/>
<path class="q20" d="M1019 1459l-10 7-9-8-10-17 6 13 9 4 10 10 9 17zM1066 1503l-10 8-9-17-10-19-9-2 6 23 9 17 9 1 10 2 9 25zM1085 1534l-10-20 6 29 9 10zM1141 1579l-9 3-10-1-9-18-10-11 6 19 9 9 10-2 9 19 9 15zM1188 1638l-9-18-10-4 6 21 9 14 9 3zM1226 1675l-10-15-9 0 5 24 10 2 9 5z"/>
<path class="q21" d="M1028 1473l-9-14 5 26 10 11zM1075 1514l-9-11 5 38 10 2zM1150 1589l-9-10 5 33 10 3zM1169 1616l-9-9 5 9 10 21z"/>
<path class="q19" d="M1103 1552l-9 4-9-22 5 19 9 10 10 8zM1197 1656l-9-18 5 16 10 24zM1235 1695l-9-20 5 16 9 23z"/>
<path class="q22" d="M1160 1607l-10-18 6 26 9 1z"/>
<path class="q18" d="M1207 1660l-10-4 6 22 9 6z"/>
<path class="q23" d="M1004 1451l-10-19-9-1 5 10 10 17 9 8zM1051 1497l-10-3-9-10 5-9 10 19 9 17zM1126 1572l-9-15-10-7 6 13 9 18 10 1zM1230 1684l-10-21-9 2-10-19-9-14-9-4 5 10 9 18 10 4 9 0 10 15 9 20z"/>
<path class="q24" d="M1013 1446l-9 5 5 15 10-7zM1032 1484l-9-21 5 10 9 2zM1060 1494l-9 3 5 14 10-8zM1107 1550l-9-14-9-12-10-10 6 20 9 22 9-4 10 11zM1136 1582l-10-10 6 10 9-3zM1183 1628l-10-18 6 10 9 18z"/>
<path class="q25" d="M1023 1463l-10-17 6 13 9 14zM1079 1514l-9-9 5 9 10 20zM1173 1610l-9-10-10-10-9-12-9 4 5-3 9 10 10 18 9 9 10 4z"/>
<path class="q26" d="M1070 1505l-10-11 6 9 9 11z"/>
<path class="q27" d="M989 1430l-9-22 5 23 9 1zM1017 1453l-9-3 5-4 10 17zM1111 1552l-9-18-10-2-9-12-9-10-10-11-9-1 5-4 10 11 9 9 10 10 9 12 9 14 10 7zM1140 1567l-10 1 6 14 9-4zM1196 1629l-9-1-10-22-9-7-10-2-9-5 5-2 10 10 9 10 10 18 9 4 9 14z"/>
<path class="q26" d="M1008 1450l-10-12-9-8 5 2 10 19 9-5zM1027 1465l-10-12 6 10 9 21zM1055 1498l-10-15 6 14 9-3zM1130 1568l-9-11-10-5 6 5 9 15 10 10zM1205 1646l-9-17 5 17 10 19z"/>
<path class="q25" d="M1045 1483l-9-1-9-17 5 19 9 10 10 3zM1215 1658l-10-12 6 19 9-2z"/>
<path class="q28" d="M1149 1592l-9-25 5 11 9 12z"/>
<path class="q24" d="M1224 1690l-9-32 5 5 10 21z"/>
<path class="q25" d="M993 1462l-9-17-10 6 6-43 9 22 9 8zM1031 1503l-10-21-9 4 5-33 10 12 9 17zM1115 1575l-9 0-10-7-9-14-9-9-10-6-9-4 5-36 10 11 9 10 9 12 10 2 9 18 10 5zM1143 1621l-9-13-9-14 5-26 10-1 9 25zM1200 1677l-9-23-10-4 6-22 9 1 9 17z"/>
<path class="q24" d="M1012 1486l-10-5-9-19 5-24 10 12 9 3zM1059 1535l-10-9-9-10-9-13 5-21 9 1 10 15 9 1zM1181 1650l-9 10-10-9-9-30-10 0 6-29 9 5 10 2 9 7 10 22z"/>
<path class="q26" d="M1125 1594l-10-19 6-18 9 11z"/>
<path class="q23" d="M1209 1694l-9-17 5-31 10 12z"/>
<path class="q21" d="M1219 1721l-10-27 6-36 9 32z"/>
<path class="q19" d="M978 1478l-9 3 5-30 10-6zM1035 1536l-10-17 6-16 9 13zM1053 1549l-9 4 5-27 10 9zM1100 1606l-9-4-9-12-10-14 6-31 9 9 9 14 10 7zM1138 1637l-9-10 5-19 9 13zM1157 1660l-10-16 6-23 9 30zM1194 1700l-9 2-9-14 5-38 10 4 9 23z"/>
<path class="q20" d="M988 1491l-10-13 6-33 9 17zM1016 1507l-10 6 6-27 9-4zM1072 1576l-9-17-10-10 6-14 9 4 10 6zM1129 1627l-10-7-9-11-10-3 6-31 9 0 10 19 9 14zM1147 1644l-9-7 5-16 10 0z"/>
<path class="q18" d="M997 1518l-9-27 5-29 9 19zM1044 1553l-9-17 5-20 9 10zM1176 1688l-10-11 6-17 9-10zM1204 1705l-10-5 6-23 9 17z"/>
<path class="q17" d="M1006 1513l-9 5 5-37 10 5zM1166 1677l-9-17 5-9 10 9z"/>
<path class="q21" d="M1025 1519l-9-12 5-25 10 21z"/>
<path class="q16" d="M1213 1740l-9-35 5-11 10 27z"/>
<path class="q16" d="M982 1501l-9-13-10-9 6 2 9-3 10 13zM1029 1551l-9-7-10-15-9-5 5-11 10-6 9 12 10 17zM1151 1668l-9-4-9-13-10-9-9-6-10-8 6-19 9 11 10 7 9 10 9 7 10 16zM1198 1716l-9-9 5-7 10 5z"/>
<path class="q14" d="M1001 1524l-9-13-10-10 6-10 9 27 9-5zM1180 1696l-10-4 6-4 9 14z"/>
<path class="q15" d="M1039 1551l-10 0 6-15 9 17zM1104 1628l-9-15-9-14-10 0-9-21 5-2 10 14 9 12 9 4 10 3zM1170 1692l-9-13-10-11 6-8 9 17 10 11zM1189 1707l-9-11 5 6 9-2z"/>
<path class="q17" d="M1048 1552l-9-1 5 2 9-4zM1067 1578l-10-12 6-7 9 17z"/>
<path class="q18" d="M1057 1566l-9-14 5-3 10 10z"/>
<path class="q13" d="M1208 1758l-10-42 6-11 9 35z"/>
<path class="q16" d="M977 1485l-10-2-9-8 5 4 10 9 9 13zM1005 1526l-9-30 5 28 9 5zM1043 1565l-10-5 6-9 9 1zM1080 1589l-9-5-10-4-9-9 5-5 10 12 9 21 10 0zM1118 1636l-10-14-9-10-9-10 5 11 9 15 10 8 9 6zM1155 1671l-9-12 5 9 10 11zM1184 1696l-10-1 6 1 9 11z"/>
<path class="q17" d="M996 1496l-10-5-9-6 5 16 10 10 9 13zM1052 1571l-9-6 5-13 9 14zM1090 1602l-10-13 6 10 9 14zM1146 1659l-9-19-10-12-9 8 5 6 10 9 9 13 9 4zM1193 1698l-9-2 5 11 9 9z"/>
<path class="q15" d="M1033 1560l-9-16-10-6-9-12 5 3 10 15 9 7 10 0zM1174 1695l-9-5-10-19 6 8 9 13 10 4z"/>
<path class="q14" d="M1202 1729l-9-31 5 18 10 42z"/>
<path class="q18" d="M962 1468l-10-1 6 8 9 8zM1056 1559l-9-1-10-16-9-11-10-7-9-13-10-7 6 22 9 12 10 6 9 16 10 5 9 6 9 9zM1159 1674l-9-22 5 19 10 19zM1188 1705l-10-10-9-12 5 12 10 1 9 2z"/>
<path class="q19" d="M971 1477l-9-9 5 15 10 2zM999 1504l-9-3 6-5 9 30zM1075 1581l-10-14-9-8 5 21 10 4 9 5zM1112 1614l-9-2-9-11-10-20 6 21 9 10 9 10 10 14zM1150 1652l-9-6-10 0 6-6 9 19 9 12z"/>
<path class="q20" d="M990 1501l-9-15-10-9 6 8 9 6 10 5zM1084 1581l-9 0 5 8 10 13zM1131 1646l-9-19-10-13 6 22 9-8 10 12z"/>
<path class="q17" d="M1169 1683l-10-9 6 16 9 5zM1197 1721l-9-16 5-7 9 31z"/>
<path class="q23" d="M956 1438l-9-1 5 30 10 1zM985 1472l-10-7-9-17 5 29 10 9 9 15zM1032 1529l-10-24 6 26 9 11zM1107 1590l-9-1-10-10-9-13 5 15 10 20 9 11 9 2zM1154 1642l-9-5-10-11-9-18-10-6 6 25 9 19 10 0 9 6 9 22z"/>
<path class="q24" d="M966 1448l-10-10 6 30 9 9zM994 1466l-9 6 5 29 9 3zM1022 1505l-9-12-10-7 6 25 9 13 10 7zM1079 1566l-10-12-9-21 5 34 10 14 9 0zM1116 1602l-9-12 5 24 10 13z"/>
<path class="q25" d="M1003 1486l-9-20 5 38 10 7zM1060 1533l-9 3 5 23 9 8z"/>
<path class="q22" d="M1051 1536l-10 7-9-14 5 13 10 16 9 1zM1192 1683l-10-16-9 2-10-13-9-14 5 32 10 9 9 12 10 10 9 16z"/>
<path class="q28" d="M960 1445l-9-18-9-12 5 22 9 1 10 10zM998 1488l-9-17-10-15 6 16 9-6 9 20zM1083 1559l-10-13-9 7-10-18-9-11 6 12 9-3 9 21 10 12 9 13zM1130 1613l-10-17-9-9-9-6 5 9 9 12 10 6 9 18z"/>
<path class="q27" d="M979 1456l-9 8-10-19 6 3 9 17 10 7zM1026 1504l-9-3-10-6-9-7 5-2 10 7 9 12 10 24zM1045 1524l-9-7 5 26 10-7zM1102 1581l-10-5-9-17 5 20 10 10 9 1zM1186 1676l-9-17-10-16-9 1-9-11-10-6-9-14 5 13 10 11 9 5 9 14 10 13 9-2 10 16z"/>
<path class="q26" d="M1036 1517l-10-13 6 25 9 14z"/>
<path class="q28" d="M955 1451l-9-2-10-15 6-19 9 12 9 18zM993 1483l-10-5-9-2 5-20 10 15 9 17zM1096 1593l-9-12-10-7-9-3-10-15 6-3 9-7 10 13 9 17 10 5zM1153 1657l-10-27 6 3 9 11zM1171 1669l-9 2 5-28 10 16z"/>
<path class="q27" d="M974 1476l-10-6-9-19 5-6 10 19 9-8zM1002 1505l-9-22 5 5 9 7zM1058 1556l-9-7-9 0-10-15-9-12-10 3 6-24 9 3 10 13 9 7 9 11 10 18zM1162 1671l-9-14 5-13 9-1z"/>
<path class="q26" d="M1011 1525l-9-20 5-10 10 6zM1181 1697l-10-28 6-10 9 17z"/>
<path class="q29" d="M1143 1630l-9-13-10-4-9-1-10-13-9-6 6-12 9 6 9 9 10 17 9 14 10 6z"/>
<path class="q22" d="M940 1487l-9-4 5-49 10 15zM1062 1611l-9-7-9-17-10-16-9-1 5-36 10 15 9 0 9 7 10 15zM1156 1689l-9 6 6-38 9 14z"/>
<path class="q23" d="M950 1474l-10 13 6-38 9 2zM978 1510l-10-2-9-17 5-21 10 6 9 2zM997 1544l-10-19 6-42 9 22zM1100 1641l-9-9-10-7-9-18-10 4 6-40 9 3 10 7 9 12 9 6zM1147 1695l-9-16 5-49 10 27zM1166 1711l-10-22 6-18 9-2z"/>
<path class="q24" d="M959 1491l-9-17 5-23 9 19zM987 1525l-9-15 5-32 10 5zM1128 1665l-9-5-10-19-9 0 5-42 10 13 9 1 10 4z"/>
<path class="q21" d="M1006 1559l-9-15 5-39 9 20zM1025 1570l-10 4 6-52 9 12z"/>
<path class="q20" d="M1015 1574l-9-15 5-34 10-3zM1175 1744l-9-33 5-42 10 28z"/>
<path class="q25" d="M1138 1679l-10-14 6-48 9 13z"/>
<path class="q17" d="M935 1491l-10-9 6 1 9 4zM991 1551l-9-6 5-20 10 19zM1029 1587l-10 4 6-21 9 1zM1066 1634l-9-21-9-7-10-7 6-12 9 17 9 7 10-4zM1142 1701l-10-7 6-15 9 16zM1160 1737l-9-32 5-16 10 22z"/>
<path class="q18" d="M944 1501l-9-10 5-4 10-13zM982 1545l-10-7-9-13-9-11 5-23 9 17 10 2 9 15zM1038 1599l-9-12 5-16 10 16zM1132 1694l-9-12-10-5-9-11-9-6-10-21-9-9-10 4 6-27 9 18 10 7 9 9 9 0 10 19 9 5 10 14zM1151 1705l-9-4 5-6 9-6z"/>
<path class="q19" d="M954 1514l-10-13 6-27 9 17z"/>
<path class="q16" d="M1001 1569l-10-18 6-7 9 15z"/>
<path class="q15" d="M1019 1591l-9-13-9-9 5-10 9 15 10-4z"/>
<path class="q13" d="M1170 1771l-10-34 6-26 9 33z"/>
<path class="q15" d="M929 1509l-9-13 5-14 10 9zM976 1545l-9 7 5-14 10 7zM995 1571l-9-15 5-5 10 18zM1023 1599l-9-10 5 2 10-4zM1070 1641l-9 1-9-25 5-4 9 21 10-4zM1155 1733l-9-8 5-20 9 32z"/>
<path class="q16" d="M958 1535l-10-19-9-5-10-2 6-18 9 10 10 13 9 11zM986 1556l-10-11 6 0 9 6zM1052 1617l-10-2-9-12-10-4 6-12 9 12 10 7 9 7zM1146 1725l-10-19-9-9-10-6-9-10-9-19-10 1-9-12 5-12 10 21 9 6 9 11 10 5 9 12 10 7 9 4z"/>
<path class="q14" d="M967 1552l-9-17 5-10 9 13zM1014 1589l-9 3-10-21 6-2 9 9 9 13z"/>
<path class="q17" d="M1080 1651l-10-10 6-11 9 9z"/>
<path class="q11" d="M1164 1761l-9-28 5 4 10 34z"/>
<path class="q17" d="M924 1484l-10-11 6 23 9 13zM990 1553l-10-9 6 12 9 15zM1027 1599l-9-21-9-5 5 16 9 10 10 4zM1112 1672l-9-3-10-10-9 2 5 2 10-1 9 19 9 10zM1131 1704l-10-26 6 19 9 9z"/>
<path class="q16" d="M961 1527l-9-15-9 8-10-13-9-23 5 25 10 2 9 5 10 19 9 17zM980 1544l-9 7 5-6 10 11zM1009 1573l-10-6-9-14 5 18 10 21 9-3zM1084 1661l-10-14-9-7-9-19-10-7-9-3-10-12 6 4 9 12 10 2 9 25 9-1 10 10 9 12zM1140 1711l-9-7 5 2 10 19z"/>
<path class="q15" d="M971 1551l-10-24 6 25 9-7zM1150 1722l-10-11 6 14 9 8z"/>
<path class="q18" d="M1121 1678l-9-6 5 19 10 6z"/>
<path class="q14" d="M1159 1739l-9-17 5 11 9 28z"/>
<path class="q21" d="M918 1475l-9-16 5 14 10 11zM956 1510l-9-20-10-6 6 36 9-8 9 15zM1022 1565l-9-7-10-3-9-15 5 27 10 6 9 5 9 21zM1116 1672l-9-5 5 5 9 6z"/>
<path class="q20" d="M937 1484l-9-12-10 3 6 9 9 23 10 13zM994 1540l-10 6-9-22-10-5 6 32 9-7 10 9 9 14zM1041 1600l-10-20-9-15 5 34 10 12 9 3zM1069 1617l-9-6 5 29 9 7zM1107 1667l-10-17-9-12-10 1 6 22 9-2 10 10 9 3zM1144 1701l-9-19-10-1-9-9 5 6 10 26 9 7 10 11z"/>
<path class="q19" d="M965 1519l-9-9 5 17 10 24zM1060 1611l-10 4-9-15 5 14 10 7 9 19zM1078 1639l-9-22 5 30 10 14z"/>
<path class="q18" d="M1154 1721l-10-20 6 21 9 17z"/>
<path class="q26" d="M922 1460l-9-25-9 4 5 20 9 16 10-3zM1026 1565l-10-13-9-12-9-7 5 22 10 3 9 7 9 15zM1092 1622l-10-8 6 24 9 12z"/>
<path class="q25" d="M951 1491l-10-4-9-10-10-17 6 12 9 12 10 6 9 20zM998 1533l-10-7 6 14 9 15zM1035 1566l-9-1 5 15 10 20zM1082 1614l-9-2-9-11-10-12-9-12 5 38 10-4 9 6 9 22 10-1zM1101 1645l-9-23 5 28 10 17zM1139 1674l-10-10-9-8 5 25 10 1 9 19z"/>
<path class="q24" d="M988 1526l-9 0-10-13-9-9-9-13 5 19 9 9 10 5 9 22 10-6zM1045 1577l-10-11 6 34 9 15zM1120 1656l-9-2-10-9 6 22 9 5 9 9z"/>
<path class="q21" d="M1148 1736l-9-62 5 27 10 20z"/>
<path class="q28" d="M908 1446l-10 4 6-11 9-4zM1011 1555l-9-15-10-3 6-4 9 7 9 12zM1039 1589l-9-13 5-10 10 11zM1067 1607l-9-8 6 2 9 11z"/>
<path class="q29" d="M917 1457l-9-11 5-11 9 25z"/>
<path class="q27" d="M926 1478l-9-21 5 3 10 17zM992 1537l-9-11 5 0 10 7zM1030 1576l-10-5-9-16 5-3 10 13 9 1zM1058 1599l-9-2-10-8 6-12 9 12 10 12zM1086 1649l-9-21-10-21 6 5 9 2 10 8z"/>
<path class="q26" d="M955 1508l-10-15-9-8-10-7 6-1 9 10 10 4 9 13zM983 1526l-10-4 6 4 9 0zM1096 1656l-10-7 6-27 9 23zM1133 1690l-9-11-9-9-10-9 6-7 9 2 9 8 10 10z"/>
<path class="q25" d="M973 1522l-9 0-9-14 5-4 9 9 10 13zM1105 1661l-9-5 5-11 10 9z"/>
<path class="q24" d="M1143 1696l-10-6 6-16 9 62z"/>
<path class="q23" d="M902 1486l-9-2 5-34 10-4zM959 1533l-10-4-9-9 5-27 10 15 9 14zM1081 1658l-10 3 6-33 9 21zM1109 1695l-9-15-10-7 6-17 9 5 10 9z"/>
<path class="q24" d="M921 1492l-9 3-10-9 6-40 9 11 9 21zM940 1520l-10-20 6-15 9 8zM968 1544l-9-11 5-11 9 0zM996 1577l-9-11 5-29 10 3zM1043 1614l-9 1-10-11-9-12-9-8 5-29 9 16 10 5 9 13 10 8zM1071 1661l-9-19 5-35 10 21z"/>
<path class="q25" d="M930 1500l-9-8 5-14 10 7zM987 1566l-10-17-9-5 5-22 10 4 9 11zM1006 1584l-10-7 6-37 9 15zM1062 1642l-9-16-10-12 6-17 9 2 9 8z"/>
<path class="q22" d="M1090 1673l-9-15 5-9 10 7zM1137 1735l-9-20-9-1-10-19 6-25 9 9 9 11 10 6z"/>
<path class="q18" d="M906 1509l-9 0-10-16 6-9 9 2 10 9zM1057 1679l-10-19 6-34 9 16zM1122 1735l-9-23-9 0-10-2-9-12-10-8-9-5 5-24 10-3 9 15 10 7 9 15 10 19 9 1z"/>
<path class="q19" d="M981 1602l-9-25-9 0-10-12-9-13-10-10-9 0-9-13-10-20 6-14 9-3 9 8 10 20 9 9 10 4 9 11 9 5 10 17zM1028 1627l-9 9-9-19-10-4 6-29 9 8 9 12 10 11zM1047 1660l-9-14 5-32 10 12z"/>
<path class="q17" d="M1000 1613l-9 8-10-19 6-36 9 11 10 7zM1066 1685l-9-6 5-37 9 19z"/>
<path class="q20" d="M1038 1646l-10-19 6-12 9-1z"/>
<path class="q16" d="M1132 1765l-10-30 6-20 9 20z"/>
<path class="q16" d="M901 1516l-10-6-9-3 5-14 10 16 9 0zM929 1555l-9-25-10-10 6 9 9 13 9 0zM967 1582l-10-13-9-3 5-1 10 12 9 0zM1042 1659l-10-4-9-7-9-20-10-1 6-10 9 19 9-9 10 19 9 14zM1098 1713l-9-10 5 7 10 2zM1117 1741l-9-12 5-17 9 23z"/>
<path class="q17" d="M910 1520l-9-4 5-7 10 20zM1108 1729l-10-16 6-1 9 0z"/>
<path class="q15" d="M948 1566l-10 4-9-15 5-13 10 10 9 13zM976 1607l-9-25 5-5 9 25zM1004 1627l-9-5 5-9 10 4zM1089 1703l-10 3-9-14-9-18-10-5-9-10 5 1 10 19 9 6 9 5 10 8 9 12z"/>
<path class="q13" d="M985 1616l-9-9 5-5 10 19zM1126 1770l-9-29 5-6 10 30z"/>
<path class="q14" d="M995 1622l-10-6 6 5 9-8z"/>
<path class="q17" d="M905 1515l-10 6-9-27-10-14 6 27 9 3 10 6 9 4zM980 1590l-9-22-10 10-9-4-10-19-9-15-10-7 6 22 9 15 10-4 9 3 10 13 9 25 9 9zM1008 1614l-9 4 5 9 10 1zM1083 1697l-9-13-9-16 5 24 9 14 10-3zM1102 1726l-9-21 5 8 10 16z"/>
<path class="q18" d="M923 1533l-9-13-9-5 5 5 10 10 9 25zM1018 1624l-10-10 6 14 9 20zM1065 1668l-10 7 6-1 9 18zM1093 1705l-10-8 6 6 9 10z"/>
<path class="q16" d="M999 1618l-10-10-9-18 5 26 10 6 9 5zM1027 1651l-9-27 5 24 9 7zM1055 1675l-9 3 5-9 10 5zM1112 1738l-10-12 6 3 9 12z"/>
<path class="q15" d="M1046 1678l-10-10-9-17 5 4 10 4 9 10z"/>
<path class="q14" d="M1121 1756l-9-18 5 3 9 29z"/>
<path class="q21" d="M880 1488l-9-20 5 12 10 14zM927 1532l-9-15-9-7-10-4 6 9 9 5 9 13 10 7zM965 1575l-9-25 5 28 10-10zM1022 1615l-10 0-9-3 5 2 10 10 9 27zM1069 1679l-10-16 6 5 9 16z"/>
<path class="q19" d="M899 1506l-9 3-10-21 6 6 9 27 10-6zM946 1546l-9 3 5 6 10 19zM1003 1612l-10-3-9-17-9-4 5 2 9 18 10 10 9-4zM1050 1661l-10-22-9-3-9-21 5 36 9 17 10 10 9-3zM1106 1717l-9-15-10 0 6 3 9 21 10 12z"/>
<path class="q20" d="M937 1549l-10-17 6 8 9 15zM956 1550l-10-4 6 28 9 4zM975 1588l-10-13 6-7 9 22zM1059 1663l-9-2 5 14 10-7zM1087 1702l-9-22-9-1 5 5 9 13 10 8z"/>
<path class="q17" d="M1116 1748l-10-31 6 21 9 18z"/>
<path class="q24" d="M875 1463l-9-7 5 12 9 20zM941 1532l-10-12-9-5-9-7-10-8 6 10 9 7 9 15 10 17 9-3zM969 1557l-9-17 5 35 10 13zM988 1571l-10 0 6 21 9 17zM1101 1701l-10-29-9-1-9-10-10-7-9-3-10-21 6 31 9 2 10 16 9 1 9 22 10 0 9 15z"/>
<path class="q23" d="M903 1500l-9-8-10-20-9-9 5 25 10 21 9-3 10 4zM978 1571l-9-14 6 31 9 4z"/>
<path class="q25" d="M960 1540l-10-1-9-7 5 14 10 4 9 25zM1044 1630l-9-8-9-11-10-10-9-9-10-22-9 1 5 38 10 3 9 3 10 0 9 21 9 3 10 22z"/>
<path class="q21" d="M1110 1719l-9-18 5 16 10 31z"/>
<path class="q28" d="M879 1464l-9-15-10-2 6 9 9 7 9 9zM926 1510l-9-9 5 14 9 5zM945 1526l-10 0 6 6 9 7zM982 1564l-9-9-9-16 5 18 9 14 10 0zM1029 1611l-9-4-9-5 5-1 10 10 9 11zM1095 1682l-9-11 5 1 10 29z"/>
<path class="q27" d="M917 1501l-10-11-9-6-10-6-9-14 5 8 10 20 9 8 10 8 9 7zM935 1526l-9-16 5 10 10 12zM1011 1602l-10-6 6-4 9 9zM1058 1634l-10 7-9-20 5 9 10 21 9 3z"/>
<path class="q29" d="M964 1539l-10-5-9-8 5 13 10 1 9 17zM1001 1596l-9-20-10-12 6 7 9-1 10 22zM1039 1621l-10-10 6 11 9 8zM1086 1671l-9-13-10-11-9-13 5 20 10 7 9 10 9 1z"/>
<path class="q26" d="M1105 1697l-10-15 6 19 9 18z"/>
<path class="q27" d="M864 1474l-9-14 5-13 10 2zM911 1531l-9-18-10-12-9-15-9-8 5-14 9 14 10 6 9 6 10 11zM930 1534l-9 1 5-25 9 16zM996 1606l-10-11-9-9 5-22 10 12 9 20zM1015 1620l-10-6 6-12 9 5zM1052 1671l-9-20-10-11 6-19 9 20 10-7zM1090 1699l-9-12-10 1 6-30 9 13 9 11z"/>
<path class="q28" d="M874 1478l-10-4 6-25 9 15zM977 1586l-9-14-10-2-9-9-10-21-9-6 5-8 10 0 9 8 10 5 9 16 9 9zM1033 1640l-9-12-9-8 5-13 9 4 10 10zM1071 1688l-9-20-10 3 6-37 9 13 10 11z"/>
<path class="q26" d="M921 1535l-10-4 6-30 9 9zM1005 1614l-9-8 5-10 10 6zM1099 1720l-9-21 5-17 10 15z"/>
<path class="q22" d="M878 1538l-10-24-9-5-10-14 6-35 9 14 10 4 9 8zM934 1589l-9-11 5-44 9 6zM972 1622l-10-6-9-11 5-35 10 2 9 14zM1009 1654l-9-6-10-9 6-33 9 8 10 6zM1047 1697l-10-15-9-6 5-36 10 11 9 20z"/>
<path class="q21" d="M896 1557l-9-12-9-7 5-52 9 15 10 12zM925 1578l-10-1 6-42 9-1zM953 1605l-10-8-9-8 5-49 10 21 9 9zM990 1639l-9 3-9-20 5-36 9 9 10 11zM1084 1746l-9-15-9-11-10-2-9-21 5-26 10-3 9 20 10-1 9 12z"/>
<path class="q20" d="M906 1570l-10-13 6-44 9 18zM1094 1760l-10-14 6-47 9 21z"/>
<path class="q19" d="M915 1577l-9-7 5-39 10 4z"/>
<path class="q23" d="M1028 1676l-9-12-10-10 6-34 9 8 9 12z"/>
<path class="q16" d="M853 1522l-9 2 5-29 10 14zM882 1550l-10-11-9-4 5-21 10 24 9 7zM957 1618l-10 9-9-14 5-16 10 8 9 11zM985 1660l-9-17-10-6 6-15 9 20 9-3zM1060 1736l-9-13-10-16 6-10 9 21 10 2z"/>
<path class="q17" d="M863 1535l-10-13 6-13 9 5zM966 1637l-9-19 5-2 10 6zM1004 1678l-10-18-9 0 5-21 10 9 9 6zM1041 1707l-9-3-9-7-10-23 6-10 9 12 9 6 10 15z"/>
<path class="q15" d="M938 1613l-9-4-10-15-9-10-10-8-9-8-9-18 5-5 9 12 10 13 9 7 10 1 9 11 9 8zM1079 1756l-9-1-10-19 6-16 9 11 9 15z"/>
<path class="q18" d="M1013 1674l-9 4 5-24 10 10z"/>
<path class="q14" d="M1088 1785l-9-29 5-10 10 14z"/>
<path class="q15" d="M848 1523l-10-11 6 12 9-2zM895 1567l-10-11-9-1-9-13 5-3 10 11 9 18 9 8zM942 1616l-9-11-10-12-9-7 5 8 10 15 9 4 9 14zM998 1677l-9-13 5-4 10 18zM1027 1706l-10-6 6-3 9 7zM1074 1753l-10-21 6 23 9 1z"/>
<path class="q16" d="M867 1542l-10-18-9-1 5-1 10 13 9 4zM914 1586l-10-16-9-3 5 9 10 8 9 10zM989 1664l-9-16-10-1-9-16-10-7-9-8 5 11 10-9 9 19 10 6 9 17 9 0zM1017 1700l-9-23-10 0 6 1 9-4 10 23zM1036 1702l-9 4 5-2 9 3zM1064 1732l-9-15 5 19 10 19z"/>
<path class="q17" d="M1055 1717l-10-9-9-6 5 5 10 16 9 13z"/>
<path class="q12" d="M1083 1780l-9-27 5 3 9 29z"/>
<path class="q16" d="M842 1517l-9-10 5 5 10 11z"/>
<path class="q17" d="M889 1559l-9-6-9-23-10 5-9-5-10-13 6 6 9 1 10 18 9 13 9 1 10 11zM974 1645l-9-9-10-2-9-22-9-7-10-9-9-2-10-19 6 11 9 7 10 12 9 11 9 8 10 7 9 16 10 1zM1021 1683l-9-10-10 3-9-22 5 23 10 0 9 23 10 6z"/>
<path class="q18" d="M908 1575l-9-12-10-4 6 8 9 3 10 16zM993 1654l-9-4-10-5 6 3 9 16 9 13zM1040 1711l-9-11-10-17 6 23 9-4 9 6zM1068 1733l-9-17 5 16 10 21z"/>
<path class="q19" d="M1049 1708l-9 3 5-3 10 9z"/>
<path class="q20" d="M1059 1716l-10-8 6 9 9 15z"/>
<path class="q15" d="M1078 1765l-10-32 6 20 9 27z"/>
<path class="q19" d="M856 1519l-10-13-9-5-9-9 5 15 9 10 10 13 9 5zM959 1615l-9 7-10-15 6 5 9 22 10 2zM1072 1756l-9-43 5 20 10 32z"/>
<path class="q20" d="M865 1527l-9-8 5 16 10-5zM922 1580l-10-14-9 3-10-19 6 13 9 12 10 19 9 2zM940 1607l-9-19 6 17 9 7zM1035 1691l-10-5 6 14 9 11z"/>
<path class="q21" d="M893 1550l-9-12-9-13-10 2 6 3 9 23 9 6 10 4zM931 1588l-9-8 5 16 10 9zM1006 1658l-9-9-9-5-10-11-9-17-10-1 6 21 9 9 10 5 9 4 9 22 10-3zM1025 1686l-9-12 5 9 10 17z"/>
<path class="q22" d="M1016 1674l-10-16 6 15 9 10zM1044 1682l-9 9 5 20 9-3z"/>
<path class="q24" d="M1053 1696l-9-14 5 26 10 8z"/>
<path class="q23" d="M1063 1713l-10-17 6 20 9 17z"/>
<path class="q23" d="M832 1484l-10-8 6 16 9 9zM935 1595l-9-15 5 8 9 19zM954 1604l-10-11 6 29 9-7zM1067 1719l-10-19 6 13 9 43z"/>
<path class="q24" d="M860 1507l-10-15-9-10-9 2 5 17 9 5 10 13 9 8zM907 1551l-10-7-9-6 5 12 10 19 9-3zM1029 1681l-9-15 5 20 10 5z"/>
<path class="q25" d="M869 1504l-9 3 5 20 10-2zM888 1538l-9-18 5 18 9 12zM926 1580l-10-30-9 1 5 15 10 14 9 8zM963 1607l-9-3 5 11 10 1zM1020 1666l-10-14-9-8-10-2-9-15-9-19 5 25 10 11 9 5 9 9 10 16 9 12zM1039 1686l-10-5 6 10 9-9z"/>
<path class="q26" d="M879 1520l-10-16 6 21 9 13zM973 1608l-10-1 6 9 9 17zM1057 1700l-9-7-9-7 5-4 9 14 10 17z"/>
<path class="q22" d="M944 1593l-9 2 5 12 10 15z"/>
<path class="q26" d="M854 1509l-9-9-9-3-10-18-9-12 5 9 10 8 9-2 9 10 10 15zM892 1545l-9-6-10-7 6-12 9 18 9 6zM958 1620l-10-21-9-7 5 1 10 11 9 3zM995 1655l-9-13-9-5 5-10 9 15 10 2zM1033 1695l-9-21 5 7 10 5z"/>
<path class="q27" d="M873 1532l-9-19-10-4 6-2 9-3 10 16zM901 1544l-9 1 5-1 10 7zM977 1637l-10-18-9 1 5-13 10 1 9 19zM1005 1657l-10-2 6-11 9 8zM1024 1674l-10-19 6 11 9 15z"/>
<path class="q28" d="M920 1568l-9-15-10-9 6 7 9-1 10 30zM1014 1655l-9 2 5-5 10 14z"/>
<path class="q25" d="M939 1592l-9-6-10-18 6 12 9 15 9-2zM1052 1727l-9-15-10-17 6-9 9 7 9 7z"/>
<path class="q24" d="M1061 1744l-9-17 5-27 10 19z"/>
<path class="q23" d="M849 1534l-9-4-10-9-9-12-10 8 6-50 9 12 10 18 9 3 9 9zM868 1562l-10-21 6-28 9 19zM896 1592l-9-16 5-31 9-1zM934 1618l-10-5-9-5 5-40 10 18 9 6zM962 1654l-10-11-9-9 5-35 10 21 9-1zM1018 1708l-9 9-10-27-9-14-9-1 5-33 9 13 10 2 9-2 10 19z"/>
<path class="q24" d="M858 1541l-9-7 5-25 10 4zM915 1608l-10-10-9-6 5-48 10 9 9 15zM943 1634l-9-16 5-26 9 7zM1028 1709l-10-1 6-34 9 21z"/>
<path class="q22" d="M887 1576l-10 3-9-17 5-30 10 7 9 6zM981 1675l-10-6-9-15 5-35 10 18 9 5zM1037 1734l-9-25 5-14 10 17z"/>
<path class="q21" d="M1046 1741l-9-7 6-22 9 15z"/>
<path class="q19" d="M1056 1767l-10-26 6-14 9 17z"/>
<path class="q17" d="M825 1548l-10-15-9-9 5-7 10-8 9 12zM881 1600l-9-1 5-20 10-3zM909 1627l-9-9-9-13 5-13 9 6 10 10zM975 1700l-9-15-10-8-9-9-9-3-10-4-9-21 5-27 10 5 9 16 9 9 10 11 9 15 10 6zM1003 1727l-9-20 5-17 10 27zM1041 1769l-9-21 5-14 9 7z"/>
<path class="q18" d="M862 1583l-9-8-9-11-10-15-9-1 5-27 10 9 9 4 9 7 10 21zM891 1605l-10-5 6-24 9 16zM919 1640l-10-13 6-19 9 5zM994 1707l-9-7-10 0 6-25 9 1 9 14zM1032 1748l-10-5-9-4 5-31 10 1 9 25z"/>
<path class="q16" d="M872 1599l-10-16 6-21 9 17zM1013 1739l-10-12 6-10 9-9z"/>
<path class="q14" d="M1050 1805l-9-36 5-28 10 26z"/>
<path class="q15" d="M819 1550l-9-9-10-10 6-7 9 9 10 15zM866 1593l-9-13-9 1-10-17-9 1 5-16 10 15 9 11 9 8 10 16zM895 1621l-10-6-9-8 5-7 10 5 9 13zM913 1650l-9-34 5 11 10 13zM970 1702l-10-22-9 1 5-4 10 8 9 15zM989 1711l-10 8 6-19 9 7zM1017 1738l-10-9 6 10 9 4zM1036 1769l-10-15 6-6 9 21z"/>
<path class="q14" d="M829 1565l-10-15 6-2 9 1zM876 1607l-10-14 6 6 9 1zM951 1681l-9 3-10-21 6 2 9 3 9 9zM979 1719l-9-17 5-2 10 0z"/>
<path class="q16" d="M904 1616l-9 5 5-3 9 9zM1007 1729l-9-16-9-2 5-4 9 20 10 12zM1026 1754l-9-16 5 5 10 5z"/>
<path class="q13" d="M932 1663l-9-5-10-8 6-10 9 21 10 4z"/>
<path class="q11" d="M1045 1800l-9-31 5 0 9 36z"/>
<path class="q15" d="M823 1547l-9-3-10-15-9-2 5 4 10 10 9 9 10 15zM946 1668l-10-3-9-9-10-3-9-29 5 26 10 8 9 5 10 21 9-3z"/>
<path class="q16" d="M842 1557l-9 2-10-12 6 18 9-1 10 17zM880 1597l-10-8 6 18 9 8zM983 1705l-9-15-10-8 6 20 9 17 10-8zM1011 1740l-9-4 5-7 10 9zM1030 1748l-9-8 5 14 10 15z"/>
<path class="q17" d="M851 1559l-9-2 6 24 9-1zM870 1589l-9-14 5 18 10 14zM889 1607l-9-10 5 18 10 6zM964 1682l-9-15-9 1 5 13 9-1 10 22zM1002 1736l-9-21-10-10 6 6 9 2 9 16zM1021 1740l-10 0 6-2 9 16z"/>
<path class="q18" d="M861 1575l-10-16 6 21 9 13zM908 1624l-9-17-10 0 6 14 9-5 9 34z"/>
<path class="q14" d="M1040 1786l-10-38 6 21 9 31z"/>
<path class="q19" d="M827 1536l-9-8-10-13-9-11-9-6 5 29 9 2 10 15 9 3 10 12zM940 1654l-9-3 5 14 10 3zM968 1689l-9-12 5 5 10 8zM1025 1758l-10-30-9-8 5 20 10 0 9 8z"/>
<path class="q20" d="M837 1544l-10-8 6 23 9-2zM893 1606l-9-10-10-15-9-5 5 13 10 8 9 10 10 0zM912 1621l-10-12 6 15 9 29zM959 1677l-9-10-10-13 6 14 9-1 9 15z"/>
<path class="q21" d="M865 1576l-10-18-9-4-9-10 5 13 9 2 10 16 9 14zM902 1609l-9-3 6 1 9 17z"/>
<path class="q18" d="M931 1651l-10-16-9-14 5 32 10 3 9 9zM1006 1720l-9-4-10-12-9 6-10-21 6 1 9 15 10 10 9 21 9 4z"/>
<path class="q16" d="M1034 1779l-9-21 5-10 10 38z"/>
<path class="q24" d="M803 1494l-9 5-10-22 6 21 9 6 9 11zM831 1520l-9 0 5 16 10 8zM869 1560l-10-8 6 24 9 5zM916 1609l-10-1-9-10-9-21 5 29 9 3 10 12 9 14z"/>
<path class="q25" d="M822 1520l-10-25-9-1 5 21 10 13 9 8zM859 1552l-9-11-9-14-10-7 6 24 9 10 9 4 10 18zM888 1577l-10-16-9-1 5 21 10 15 9 10z"/>
<path class="q23" d="M925 1631l-9-22 5 26 10 16z"/>
<path class="q22" d="M944 1656l-9-9-10-16 6 20 9 3 10 13z"/>
<path class="q21" d="M953 1673l-9-17 6 11 9 10z"/>
<path class="q20" d="M963 1691l-10-18 6 4 9 12zM1010 1745l-9-19-10-11-9-14-10-12 6 21 9-6 10 12 9 4 9 8z"/>
<path class="q19" d="M972 1689l-9 2 5-2 10 21zM1019 1748l-9-3 5-17 10 30z"/>
<path class="q17" d="M1029 1765l-10-17 6 10 9 21z"/>
<path class="q27" d="M798 1489l-10-6-9-9 5 3 10 22 9-5zM845 1548l-10-17 6-4 9 14zM863 1561l-9 0 5-9 10 8z"/>
<path class="q28" d="M835 1531l-9-15-10-12-9 0-9-15 5 5 9 1 10 25 9 0 10 7zM882 1590l-9-22-10-7 6-1 9 1 10 16z"/>
<path class="q26" d="M854 1561l-9-13 5-7 9 11zM892 1604l-10-14 6-13 9 21z"/>
<path class="q25" d="M901 1613l-9-9 5-6 9 10z"/>
<path class="q24" d="M939 1655l-10-19-9-2-10 6-9-27 5-5 10 1 9 22 10 16 9 9z"/>
<path class="q22" d="M948 1678l-9-23 5 1 9 17z"/>
<path class="q20" d="M986 1730l-10-16-9-11-10-4-9-21 5-5 10 18 9-2 10 12 9 14z"/>
<path class="q19" d="M1023 1771l-9-26-9 0-10-10-9-5 5-15 10 11 9 19 9 3 10 17z"/>
<path class="q26" d="M830 1553l-10-11-9-9-9-17-10-1-9-7-10-21 6-13 9 9 10 6 9 15 9 0 10 12 9 15z"/>
<path class="q24" d="M839 1578l-9-25 5-22 10 17zM867 1604l-9-12-9-12 5-19 9 0 10 7z"/>
<path class="q23" d="M849 1580l-10-2 6-30 9 13zM886 1621l-9-3-10-14 6-36 9 22 10 14z"/>
<path class="q22" d="M896 1642l-10-21 6-17 9 9zM933 1680l-9-11-10-17 6-18 9 2 10 19z"/>
<path class="q21" d="M914 1652l-9-2-9-8 5-29 9 27 10-6z"/>
<path class="q20" d="M943 1691l-10-11 6-25 9 23z"/>
<path class="q19" d="M952 1696l-9-5 5-13 9 21zM1008 1752l-9-3 6-4 9 0z"/>
<path class="q18" d="M971 1729l-10-17-9-16 5 3 10 4 9 11zM999 1749l-9-2 5-12 10 10zM1018 1772l-10-20 6-7 9 26z"/>
<path class="q17" d="M990 1747l-10-13-9-5 5-15 10 16 9 5z"/>
<path class="q20" d="M777 1544l-9-17 5-40 10 21zM824 1587l-9-8-9-11-10-7-9-2 5-44 10 1 9 17 9 9 10 11z"/>
<path class="q19" d="M787 1559l-10-15 6-36 9 7zM853 1631l-10-36-9 6-10-14 6-34 9 25 10 2 9 12z"/>
<path class="q17" d="M871 1639l-9-6-9-2 5-39 9 12 10 14zM890 1666l-9-13 5-32 10 21zM956 1730l-9-16-10-13-9-6-10-8 6-18 9 11 10 11 9 5 9 16zM1003 1779l-9-21-10-16-9-3-10-13 6 3 9 5 10 13 9 2 9 3z"/>
<path class="q18" d="M881 1653l-10-14 6-21 9 3zM918 1687l-9-17-9 0 5-20 9 2 10 17z"/>
<path class="q16" d="M900 1670l-10-4 6-24 9 8zM965 1726l-9 4 5-18 10 17z"/>
<path class="q14" d="M1012 1820l-9-41 5-27 10 20z"/>
<path class="q15" d="M772 1555l-10-17 6-11 9 17zM800 1579l-9-12-10-10 6 2 9 2 10 7zM875 1658l-9-18-9-11-10-10 6 12 9 2 9 6 10 14zM904 1683l-10-13 6 0 9 0zM969 1749l-9-6-9-17-10-10-9-5 5-10 10 13 9 16 9-4 10 13zM998 1771l-10-10 6-3 9 21z"/>
<path class="q14" d="M781 1557l-9-2 5-11 10 15zM894 1670l-9-5-10-7 6-5 9 13 10 4z"/>
<path class="q16" d="M828 1599l-9-1-9-15-10-4 6-11 9 11 9 8 10 14zM847 1619l-9-12 5-12 10 36zM932 1711l-10-17-9-11-9 0 5-13 9 17 10 8 9 6zM988 1761l-9-6-10-6 6-10 9 3 10 16z"/>
<path class="q17" d="M838 1607l-10-8 6 2 9-6z"/>
<path class="q12" d="M1007 1798l-9-27 5 8 9 41z"/>
<path class="q15" d="M823 1608l-10-8-9-8-9-15-10-8-9-20-10-4-9-3 5-4 10 17 9 2 10 10 9 12 10 4 9 15 9 1zM898 1677l-9-8-10-16-9-6-9-1-10 1-9-22 5-6 10 10 9 11 9 18 10 7 9 5 10 13zM955 1736l-10-13-9 1-10-13-9-10 5-7 10 17 9 5 10 10 9 17zM973 1747l-9 6 5-4 10 6zM992 1784l-9-19 5-4 10 10z"/>
<path class="q16" d="M842 1625l-10-13-9-4 5-9 10 8 9 12zM917 1701l-9-13-10-11 6 6 9 0 9 11zM983 1765l-10-18 6 8 9 6z"/>
<path class="q14" d="M964 1753l-9-17 5 7 9 6z"/>
<path class="q13" d="M1002 1800l-10-16 6-13 9 27z"/>
<path class="q15" d="M761 1551l-9-14 5 5 9 3zM799 1585l-10-10 6 2 9 15zM827 1611l-10 10 6-13 9 4zM855 1642l-9-16-10-1 6 0 9 22 10-1zM893 1679l-10 1 6-11 9 8zM930 1717l-9-6 5 0 10 13zM959 1748l-10-15 6 3 9 17zM987 1775l-10-8 6-2 9 19z"/>
<path class="q16" d="M789 1575l-9-16-10-3-9-5 5-6 10 4 9 20 10 8zM836 1625l-9-14 5 1 10 13zM864 1645l-9-3 6 4 9 1zM883 1680l-9-20 5-7 10 16zM921 1711l-9-30 5 20 9 10zM940 1714l-10 3 6 7 9-1zM977 1767l-9-13-9-6 5 5 9-6 10 18z"/>
<path class="q14" d="M808 1608l-9-23 5 7 9 8zM996 1794l-9-19 5 9 10 16z"/>
<path class="q13" d="M817 1621l-9-13 5-8 10 8z"/>
<path class="q17" d="M874 1660l-10-15 6 2 9 6zM912 1681l-10-9-9 7 5-2 10 11 9 13zM949 1733l-9-19 5 9 10 13z"/>
<path class="q17" d="M774 1557l-9-10-9-7-10-13 6 10 9 14 9 5 10 3zM793 1578l-9-15 5 12 10 10zM840 1620l-9-5-10-15-9-15 5 36 10-10 9 14 10 1zM868 1652l-9-6-9-17 5 13 9 3 10 15zM897 1685l-10-11 6 5 9-7zM915 1717l-9-31 6-5 9 30zM972 1758l-9-8-10-20-9 1-10-6-9-12 5 4 10-3 9 19 10 15 9 6 9 13z"/>
<path class="q18" d="M784 1563l-10-6 6 2 9 16zM850 1629l-10-9 6 6 9 16z"/>
<path class="q16" d="M812 1585l-9 3-10-10 6 7 9 23 9 13zM887 1674l-9-5-10-17 6 8 9 20 10-1zM925 1713l-10 4 6-6 9 6zM981 1769l-9-11 5 9 10 8z"/>
<path class="q19" d="M906 1686l-9-1 5-13 10 9z"/>
<path class="q15" d="M991 1798l-10-29 6 6 9 19z"/>
<path class="q18" d="M750 1535l-9-6 5-2 10 13zM854 1638l-10-6-9 1-10-18 6 0 9 5 10 9 9 17zM901 1685l-10-3-9-18-10-10-9-8 5 6 10 17 9 5 10 11 9 1zM948 1744l-10-13-9-16-10-7 6 5 9 12 10 6 9-1zM976 1773l-9-23 5 8 9 11z"/>
<path class="q19" d="M760 1538l-10-3 6 5 9 7zM825 1615l-9-18 5 3 10 15zM863 1646l-9-8 5 8 9 6zM967 1750l-10-17-9 11 5-14 10 20 9 8z"/>
<path class="q20" d="M816 1597l-9-9-10-23-9-14-10 5-9-21-9 3 5 9 9 10 10 6 9 15 10 10 9-3 9 15z"/>
<path class="q17" d="M919 1708l-9-3-9-20 5 1 9 31 10-4z"/>
<path class="q15" d="M985 1795l-9-22 5-4 10 29z"/>
<path class="q18" d="M745 1544l-10-11 6-4 9 6zM839 1632l-10-5-9-22 5 10 10 18 9-1zM914 1710l-9-5-10-6-9-17 5 0 10 3 9 20 9 3zM970 1767l-9-6 6-11 9 23z"/>
<path class="q19" d="M754 1553l-9-9 5-9 10 3zM848 1639l-9-7 5 0 10 6zM886 1682l-10-8-9-14 5-6 10 10 9 18zM923 1705l-9 5 5-2 10 7zM961 1761l-9-13-10-12-9-19 5 14 10 13 9-11 10 17z"/>
<path class="q20" d="M764 1553l-10 0 6-15 9-3zM820 1605l-9-12-10 1-9 1-10-13-9-19 5-7 10-5 9 14 10 23 9 9 9 18zM867 1660l-9-14-10-7 6-1 9 8 9 8zM933 1717l-10-12 6 10 9 16z"/>
<path class="q21" d="M773 1563l-9-10 5-18 9 21z"/>
<path class="q16" d="M980 1793l-10-26 6 6 9 22z"/>
<path class="q17" d="M758 1576l-9-9-10-15-9-3 5-16 10 11 9 9 10 0zM786 1608l-9-30 5 4 10 13zM824 1642l-9-7 5-30 9 22zM862 1687l-10-16 6-25 9 14zM899 1718l-9-18-10-8-9-3 5-15 10 8 9 17 10 6zM946 1767l-9-12-10-1 6-37 9 19 10 12z"/>
<path class="q18" d="M777 1578l-9-4-10 2 6-23 9 10 9 19zM815 1635l-10-19-9-3 5-19 10-1 9 12zM852 1671l-9-21-10-14-9 6 5-15 10 5 9 7 10 7zM927 1754l-9-25-9 0 5-19 9-5 10 12z"/>
<path class="q16" d="M796 1613l-10-5 6-13 9-1zM871 1689l-9-2 5-27 9 14zM909 1729l-10-11 6-13 9 5zM965 1782l-9 7-10-22 6-19 9 13 9 6z"/>
<path class="q15" d="M976 1809l-11-27 5-15 10 26z"/>
<path class="q15" d="M743 1573l-9-7-10-16 6-1 9 3 10 15zM762 1597l-9-12 5-9 10-2zM800 1616l-10 10 6-13 9 3zM828 1657l-9-5-10-25 6 8 9 7 9-6zM894 1722l-10-1-9-15-9-14-10-11-9-7-10-1 6-23 9 21 10 16 9 2 9 3 10 8 9 18zM923 1740l-10 12 5-23 9 25z"/>
<path class="q14" d="M753 1585l-10-12 6-6 9 9zM790 1626l-9-22 5 4 10 5zM913 1752l-10-16-9-14 5-4 10 11 9 0zM934 1770l-11-30 4 14 10 1zM976 1809l-11-27-10 6 1 1 9-7 11 27z"/>
<path class="q16" d="M781 1604l-9-8-10 1 6-23 9 4 9 30zM809 1627l-9-11 5 0 10 19zM837 1673l-9-16 5-21 10 14z"/>
<path class="q13" d="M955 1788l-11-6-10-12 3-15 9 12 10 22z"/>
<path class="q14" d="M747 1589l-9-16-10-6-9-16 5-1 10 16 9 7 10 12zM775 1626l-9-22-9-12 5 5 10-1 9 8zM794 1630l-9-3 5-1 10-10zM823 1665l-10-15 6 2 9 5zM871 1705l-11 1-9-12-10-7 6-13 9 7 10 11 9 14z"/>
<path class="q13" d="M757 1592l-10-3 6-4 9 12zM785 1627l-10-1 6-22 9 22zM841 1687l-9-8-9-14 5-8 9 16 10 1zM902 1751l-10-19-11-5-10-22 4 1 9 15 10 1 9 14z"/>
<path class="q16" d="M804 1634l-10-4 6-14 9 11z"/>
<path class="q15" d="M813 1650l-9-16 5-7 10 25z"/>
<path class="q12" d="M913 1752l-11-1 1-15 10 16z"/>
<path class="q14" d="M723 1564l-9-6 5-7 9 16zM761 1610l-10-24-9-5-10-14 6 6 9 16 10 3 9 12z"/>
<path class="q15" d="M732 1567l-9-3 5 3 10 6zM789 1615l-10 2 6 10 9 3zM808 1654l-10-24 6 4 9 16z"/>
<path class="q13" d="M779 1617l-9-4-9-3 5-6 9 22 10 1zM881 1727l-10-22-11 1-10-22-11-3-10-10 3 8 9 8 10 7 9 12 11-1 10 22z"/>
<path class="q16" d="M798 1630l-9-15 5 15 10 4z"/>
<path class="q12" d="M829 1671l-11 10-10-27 5-4 10 15 9 14z"/>
<path class="q15" d="M755 1599l-9-11-10-4-9-13-9-6-10-14 6 7 9 6 9 3 10 14 9 5 10 24zM797 1648l-10-7-11-12 3-12 10-2 9 15z"/>
<path class="q14" d="M776 1629l-10-15-11-15 6 11 9 3 9 4zM808 1654l-11-6 1-18 10 24z"/>
<path class="q15" d="M745 1586l-11 0-10-11-11-21-10 4 5-7 10 14 9 6 9 13 10 4z"/>
<path class="q16" d="M755 1599l-10-13 1 2 9 11z"/>
<path class="r6" d="M1008 1813l4 19 4-19z"/>
<path class="r7" d="M1402 1697l4 11 4-11zM1401 1698l4 9 4-9z"/>
<path class="r8" d="M1364 1703l4 17 4-17zM1082 1780l4 21 4-21z"/>
<path class="r9" d="M1357 1699l4 19 4-19zM999 1796l4 35 4-35zM972 1806l4 28 4-28z"/>
<path class="r10" d="M1408 1680l4 23 4-23zM1000 1796l4 25 4-25zM1349 1701l4 12 4-12zM1208 1740l4 16 4-16zM1415 1678l4 20 4-20zM1327 1704l4 15 4-15zM1327 1704l4 14 4-14zM1395 1681l4 24 4-24zM897 1746l4 8 4-8zM948 1783l4 20 4-20zM901 1748l4 7 4-7zM818 1674l4 17 4-17z"/>
<path class="r11" d="M972 1806l4 8 4-8zM1342 1697l4 14 4-14zM972 1806l4 12 4-12zM1395 1681l4 11 4-11zM972 1806l4 12 4-12zM1087 1770l4 20 4-20zM1334 1698l4 17 4-17zM996 1796l4 19 4-19zM1170 1745l4 11 4-11zM1120 1762l4 11 4-11zM821 1671l4 22 4-22zM778 1634l4 14 4-14zM778 1633l4 21 4-21zM944 1781l4 10 4-10zM932 1769l4 9 4-9zM883 1726l4 13 4-13zM819 1673l4 9 4-9z"/>
<path class="r12" d="M902 1754l3-22 3 22zM907 1755l3-8 3 8zM812 1677l3-21 3 21zM1003 1800l3-12 3 12zM1035 1782l4 11 4-11zM1268 1705l4 29 4-29zM981 1792l4 29 4-29zM1088 1765l4 15 4-15zM978 1791l4 24 4-24zM1347 1694l4 11 4-11zM1293 1709l4 7 4-7zM1430 1666l4 14 4-14zM1342 1694l4 13 4-13zM966 1791l4 19 4-19zM883 1727l4 8 4-8zM789 1642l4 7 4-7zM852 1698l4 11 4-11zM873 1715l4 9 4-9zM851 1698l4 11 4-11zM911 1746l4 11 4-11zM797 1648l4 9 4-9z"/>
<path class="r13" d="M929 1768l3-8 3 8zM952 1790l3-8 3 8zM951 1790l3-7 3 7zM943 1785l3-23 3 23zM808 1665l3-16 3 16zM1240 1716l4 16 4-16zM980 1792l4 17 4-17zM1284 1706l4 12 4-12zM803 1651l4 7 4-7zM850 1690l4 13 4-13zM830 1674l4 6 4-6zM726 1579l4 18 4-18zM801 1646l4 18 4-18z"/>
<path class="r14" d="M929 1762l3-9 3 9zM1399 1675l3-13 3 13zM1073 1754l3-7 3 7zM807 1662l3-14 3 14zM873 1720l3-17 3 17zM773 1617l3-14 3 14zM971 1713l3-10 3 10zM1094 1474l3-8 3 8zM861 1708l3-17 3 17zM1291 1706l3-10 3 10zM889 1732l3-9 3 9zM1284 1661l3-13 3 13zM1301 1696l4 11 4-11zM1422 1657l4 18 4-18zM979 1791l4 9 4-9zM977 1791l4 11 4-11zM842 1680l4 9 4-9zM913 1744l4 7 4-7zM964 1786l4 8 4-8zM732 1583l4 11 4-11zM960 1780l4 13 4-13zM725 1578l4 11 4-11z"/>
<path class="r15" d="M1213 1525l3-14 3 14zM1065 1536l3-9 3 9zM852 1645l3-8 3 8zM1250 1573l3-16 3 16zM754 1604l3-13 3 13zM876 1656l3-13 3 13zM1354 1623l3-11 3 11zM1264 1644l3-8 3 8zM1170 1739l3-7 3 7zM797 1578l3-11 3 11zM987 1793l3-11 3 11zM1369 1638l3-14 3 14zM956 1531l3-8 3 8zM1046 1470l3-9 3 9zM957 1787l3-19 3 19zM1157 1576l3-8 3 8zM1087 1449l3-12 3 12zM1059 1643l3-12 3 12zM1144 1733l4 19 4-19zM1422 1656l4 9 4-9zM1424 1653l4 19 4-19zM738 1583l4 10 4-10zM747 1592l4 14 4-14zM753 1598l4 8 4-8z"/>
<path class="r16" d="M1301 1625l3-27 3 27zM1236 1487l3-10 3 10zM1157 1430l3-7 3 7zM963 1784l3-8 3 8zM1243 1502l3-18 3 18zM1160 1486l3-10 3 10zM808 1545l3-20 3 20zM1090 1662l3-7 3 7zM1001 1680l3-10 3 10zM923 1498l3-13 3 13zM1102 1514l3-14 3 14zM938 1514l3-15 3 15zM924 1662l3-24 3 24zM1231 1711l3-17 3 17zM1109 1739l3-9 3 9zM1251 1617l3-7 3 7zM1181 1702l3-12 3 12zM1075 1547l3-9 3 9zM930 1603l3-14 3 14zM1194 1455l3-7 3 7zM790 1580l3-9 3 9zM1262 1676l3-8 3 8zM874 1669l3-9 3 9zM956 1788l3-27 3 27zM910 1689l3-7 3 7zM902 1725l3-12 3 12zM1093 1510l3-7 3 7zM941 1623l3-12 3 12zM1240 1490l3-15 3 15zM1175 1595l3-8 3 8zM1112 1691l3-7 3 7zM1046 1514l3-12 3 12zM1173 1488l3-19 3 19zM921 1700l3-7 3 7zM880 1671l3-7 3 7zM814 1635l3-13 3 13zM1018 1768l4 9 4-9zM1052 1761l4 10 4-10zM706 1552l4 11 4-11zM705 1552l4 6 4-6zM715 1562l4 6 4-6z"/>
<path class="r17" d="M1050 1614l3-8 3 8zM1093 1665l3-16 3 16zM1145 1611l3-10 3 10zM1242 1500l3-10 3 10zM1115 1684l3-8 3 8zM1260 1674l3-9 3 9zM1133 1654l3-23 3 23zM855 1686l3-22 3 22zM1381 1599l3-14 3 14zM1005 1740l3-13 3 13zM1131 1543l3-10 3 10zM1243 1628l3-15 3 15zM1243 1630l3-26 3 26zM952 1526l3-8 3 8zM953 1525l3-23 3 23zM1337 1611l3-15 3 15zM1239 1514l3-8 3 8zM1209 1606l3-10 3 10zM773 1555l3-10 3 10zM880 1663l3-10 3 10zM1054 1726l3-19 3 19zM1301 1547l3-9 3 9zM1333 1647l3-34 3 34zM928 1719l3-8 3 8zM907 1579l3-25 3 25zM1406 1654l3-11 3 11zM1223 1597l3-9 3 9zM1169 1545l3-19 3 19zM1379 1649l3-7 3 7zM1234 1494l3-12 3 12zM1257 1628l3-19 3 19zM1043 1604l3-9 3 9zM948 1624l3-7 3 7zM1234 1472l3-14 3 14zM896 1515l3-11 3 11zM1157 1631l3-20 3 20zM914 1629l3-10 3 10zM1302 1601l3-12 3 12zM1121 1536l3-14 3 14zM1122 1533l3-9 3 9zM1192 1703l3-12 3 12zM1130 1444l3-27 3 27zM1368 1617l3-14 3 14zM1147 1658l3-10 3 10zM1321 1671l3-9 3 9zM1160 1532l3-19 3 19zM1350 1573l3-11 3 11zM1370 1614l3-10 3 10zM953 1746l3-15 3 15zM1104 1732l3-9 3 9zM1021 1765l4 11 4-11zM1055 1747l4 22 4-22zM1217 1705l4 13 4-13z"/>
<path class="r18" d="M1231 1611l3-8 3 8zM1285 1657l3-11 3 11zM991 1751l3-9 3 9zM1235 1471l3-17 3 17zM1327 1553l3-7 3 7zM1277 1505l3-15 3 15zM1164 1492l3-17 3 17zM1128 1593l3-21 3 21zM1297 1521l3-9 3 9zM1237 1512l3-8 3 8zM1040 1653l3-14 3 14zM1241 1472l3-11 3 11zM1170 1548l3-9 3 9zM1129 1484l3-15 3 15zM1207 1442l3-9 3 9zM1037 1699l3-10 3 10zM899 1683l3-19 3 19zM1265 1505l3-14 3 14zM1155 1425l3-13 3 13zM1085 1705l3-7 3 7zM827 1627l3-7 3 7zM1225 1458l3-12 3 12zM1191 1539l3-15 3 15zM1148 1436l3-16 3 16zM1164 1504l3-8 3 8zM941 1562l3-8 3 8zM1037 1615l3-16 3 16zM922 1747l3-23 3 23zM942 1563l3-12 3 12zM1237 1560l3-9 3 9zM857 1646l3-12 3 12zM1285 1657l3-11 3 11zM1175 1568l3-12 3 12zM1234 1473l3-19 3 19zM1007 1678l3-19 3 19zM1308 1634l3-8 3 8zM1029 1704l3-7 3 7zM1216 1483l3-16 3 16zM1091 1711l3-23 3 23zM780 1566l3-29 3 29zM941 1732l3-9 3 9zM1135 1645l3-12 3 12zM1140 1427l3-9 3 9zM1031 1597l3-17 3 17zM1196 1646l3-8 3 8zM1209 1477l3-10 3 10zM1386 1603l3-18 3 18zM1127 1465l3-10 3 10zM1094 1715l3-9 3 9zM1369 1660l3-17 3 17zM905 1673l3-14 3 14zM1286 1655l3-23 3 23zM913 1727l3-13 3 13zM1002 1624l3-9 3 9zM1084 1505l3-19 3 19zM1174 1715l4 8 4-8zM1255 1691l4 15 4-15z"/>
<path class="r19" d="M1293 1515l3-10 3 10zM1315 1533l3-20 3 20zM774 1560l3-18 3 18zM965 1693l3-22 3 22zM1344 1618l3-7 3 7zM867 1671l3-8 3 8zM1098 1473l3-28 3 28zM1151 1436l3-12 3 12zM1275 1592l3-22 3 22zM1243 1572l3-8 3 8zM1125 1499l3-22 3 22zM1281 1602l3-12 3 12zM946 1734l3-13 3 13zM1151 1657l3-20 3 20zM1180 1414l3-16 3 16zM903 1519l3-8 3 8zM1242 1515l3-10 3 10zM1096 1593l3-9 3 9zM1173 1545l3-16 3 16zM1156 1438l3-12 3 12zM1314 1541l3-7 3 7zM1104 1491l3-12 3 12zM1273 1692l3-20 3 20zM1265 1682l3-14 3 14zM1254 1593l3-19 3 19zM995 1460l3-17 3 17zM1012 1716l3-11 3 11zM1197 1428l3-9 3 9zM846 1553l3-9 3 9zM897 1516l3-8 3 8zM769 1557l3-9 3 9zM1256 1529l3-7 3 7zM772 1589l3-24 3 24zM997 1745l3-10 3 10zM820 1549l3-21 3 21zM904 1517l3-23 3 23zM825 1624l3-20 3 20zM1116 1487l3-7 3 7zM1178 1413l3-10 3 10zM1302 1681l3-11 3 11zM1264 1648l3-13 3 13zM1197 1616l3-19 3 19zM1330 1611l3-9 3 9zM1176 1412l3-12 3 12zM1197 1428l3-7 3 7zM1351 1646l3-32 3 32zM878 1582l3-11 3 11zM1051 1675l3-18 3 18zM1061 1564l3-22 3 22zM776 1536l3-16 3 16zM743 1548l3-23 3 23zM1017 1536l3-12 3 12zM1205 1548l3-14 3 14zM1190 1701l4 16 4-16zM1057 1742l4 11 4-11z"/>
<path class="r20" d="M1125 1696l3-9 3 9zM1192 1512l3-7 3 7zM889 1612l3-20 3 20zM772 1567l3-9 3 9zM1103 1567l3-13 3 13zM1147 1557l3-8 3 8zM1085 1458l3-12 3 12zM927 1723l3-8 3 8zM962 1705l3-9 3 9zM1230 1551l3-7 3 7zM1082 1630l3-20 3 20zM956 1743l3-9 3 9zM1031 1602l3-20 3 20zM1240 1566l3-10 3 10zM865 1566l3-17 3 17zM1374 1597l3-19 3 19zM1158 1542l3-10 3 10zM1392 1615l3-12 3 12zM1110 1678l3-13 3 13zM1052 1719l3-10 3 10zM1265 1678l4 15 4-15zM1107 1724l4 7 4-7z"/>
<path class="r21" d="M1259 1474l3-14 3 14zM1141 1513l3-17 3 17zM1238 1509l3-9 3 9zM965 1530l3-9 3 9zM874 1483l3-8 3 8zM1260 1475l3-7 3 7zM991 1659l3-18 3 18zM948 1510l3-9 3 9zM1065 1679l3-8 3 8zM819 1538l3-11 3 11zM1262 1479l3-20 3 20zM1214 1623l3-8 3 8zM1186 1647l3-19 3 19zM1249 1660l3-16 3 16zM1147 1717l3-12 3 12zM1094 1659l3-13 3 13zM970 1662l3-9 3 9zM945 1641l3-11 3 11zM815 1609l3-15 3 15zM924 1535l3-10 3 10zM1238 1675l3-19 3 19zM1094 1720l4 12 4-12z"/>
<path class="r22" d="M873 1540l3-18 3 18zM758 1541l3-18 3 18zM1019 1711l3-16 3 16zM956 1739l3-15 3 15zM1111 1570l3-16 3 16zM1234 1640l3-10 3 10zM929 1722l3-17 3 17zM928 1540l3-15 3 15zM897 1614l3-16 3 16zM996 1456l3-10 3 10zM1256 1564l3-18 3 18zM790 1572l3-21 3 21zM794 1579l3-16 3 16zM920 1659l3-12 3 12zM1142 1708l3-18 3 18zM950 1674l3-13 3 13zM1001 1460l3-10 3 10zM989 1531l3-27 3 27z"/>
<path class="r23" d="M1010 1673l3-13 3 13zM925 1653l3-12 3 12zM866 1558l3-35 3 35zM975 1534l3-8 3 8zM920 1653l3-13 3 13zM1097 1555l3-24 3 24zM898 1635l3-26 3 26zM1140 1702l4 11 4-11zM1177 1691l4 9 4-9z"/>
<path class="r24" d="M1092 1560l3-9 3 9zM920 1495l3-7 3 7zM1006 1588l3-23 3 23zM1219 1672l3-8 3 8zM912 1635l3-12 3 12zM1195 1610l3-12 3 12zM1139 1701l3-8 3 8zM924 1640l3-16 3 16zM1074 1522l3-8 3 8zM1045 1500l3-15 3 15zM891 1605l3-16 3 16zM1228 1629l3-10 3 10zM940 1521l3-22 3 22zM1158 1688l3-28 3 28zM847 1520l3-8 3 8zM1110 1561l3-8 3 8zM1093 1514l3-14 3 14z"/>
<path class="r25" d="M948 1565l3-7 3 7zM1035 1499l3-11 3 11zM1050 1674l3-17 3 17zM1013 1584l3-17 3 17zM896 1515l3-12 3 12zM939 1490l3-11 3 11zM885 1594l3-16 3 16zM1062 1462l3-25 3 25zM1241 1649l3-18 3 18zM953 1554l3-11 3 11zM1023 1573l3-10 3 10zM1061 1456l3-12 3 12zM939 1490l3-7 3 7zM1181 1675l4 20 4-20z"/>
<path class="r26" d="M940 1602l3-7 3 7zM1069 1463l3-11 3 11zM1002 1658l3-20 3 20zM1033 1689l3-15 3 15zM1200 1649l3-8 3 8zM950 1547l3-13 3 13zM991 1593l3-18 3 18zM932 1594l3-17 3 17z"/>
<path class="r27" d="M1043 1690l3-21 3 21zM939 1595l3-18 3 18zM1074 1524l3-15 3 15zM948 1545l3-14 3 14zM967 1464l3-17 3 17zM991 1587l3-19 3 19zM896 1560l3-17 3 17zM1116 1563l3-24 3 24zM909 1511l3-21 3 21zM936 1600l3-14 3 14zM882 1542l3-18 3 18zM1001 1608l3-10 3 10zM1092 1535l3-7 3 7zM1137 1632l3-11 3 11zM933 1448l3-26 3 26zM1045 1694l3-10 3 10zM948 1496l3-12 3 12z"/>
<path class="r28" d="M970 1618l3-12 3 12zM946 1537l3-9 3 9zM962 1613l3-8 3 8zM996 1546l3-8 3 8zM1012 1452l3-17 3 17zM883 1481l3-8 3 8zM980 1529l3-10 3 10zM1037 1579l3-7 3 7zM842 1500l3-20 3 20zM1056 1498l3-11 3 11zM894 1499l3-15 3 15zM999 1540l3-9 3 9z"/>
<path class="r29" d="M954 1557l3-19 3 19zM866 1569l3-23 3 23zM912 1558l3-9 3 9zM1160 1649l3-11 3 11zM809 1507l3-13 3 13zM1062 1607l3-17 3 17zM910 1449l3-8 3 8zM963 1553l3-15 3 15z"/>
<path class="r30" d="M1014 1611l3-23 3 23zM1063 1556l3-26 3 26zM1123 1611l3-13 3 13zM942 1532l3-15 3 15z"/>
<path class="r31" d="M1076 1665l3-20 3 20zM1035 1624l3-26 3 26z"/>
</g>
<path d="M333.1 406.0 L334.1 400.0 L334.7 391.6 L335.3 386.8 L335.6 386.0 L335.9 386.8 L336.6 391.6 L337.2 400.0 L338.1 406.0Z" fill="url(#ge0)"/>
<path d="M336.4 411.0 L337.4 405.6 L338.1 398.0 L338.7 393.7 L339.0 393.0 L339.3 393.7 L340.0 398.0 L340.7 405.6 L341.6 411.0Z" fill="url(#ge1)"/>
<path d="M341.0 411.0 L341.8 407.4 L342.3 402.4 L342.8 399.5 L343.0 399.0 L343.2 399.5 L343.8 402.4 L344.3 407.4 L345.0 411.0Z" fill="url(#ge2)"/>
<path d="M347.5 409.0 L348.3 405.7 L348.8 401.1 L349.3 398.4 L349.5 398.0 L349.7 398.4 L350.3 401.1 L350.8 405.7 L351.5 409.0Z" fill="url(#ge3)"/>
<path d="M268.8 408.0 L269.7 404.7 L270.3 400.1 L270.8 397.4 L271.0 397.0 L271.3 397.4 L271.8 400.1 L272.4 404.7 L273.2 408.0Z" fill="url(#ge4)"/>
<path d="M300.0 415.0 L300.8 411.1 L301.3 405.6 L301.8 402.5 L302.0 402.0 L302.2 402.5 L302.8 405.6 L303.3 411.1 L304.0 415.0Z" fill="url(#ge5)"/>
<path d="M247.5 362.0 L248.3 359.3 L248.8 355.5 L249.3 353.4 L249.5 353.0 L249.7 353.4 L250.3 355.5 L250.8 359.3 L251.5 362.0Z" fill="url(#ge6)"/>
</g>
<path d="M244.5 464.0 V425.0" stroke="#6a6a70" stroke-width=".9" fill="none"/>
<rect x="393.0" y="347.0" width="1.2" height="124.6" fill="url(#cbe)"/>
<text x="392.0" y="349.7" font-size="5.2" text-anchor="end">4.00</text>
<text x="392.0" y="365.7" font-size="5.2" text-anchor="end">3.00</text>
<text x="392.0" y="384.7" font-size="5.2" text-anchor="end">2.00</text>
<text x="392.0" y="401.7" font-size="5.2" text-anchor="end">1.00</text>
<text x="392.0" y="420.3" font-size="5.2" text-anchor="end">0.00</text>
<text x="392.0" y="437.1" font-size="5.2" text-anchor="end">−1.00</text>
<text x="392.0" y="456.1" font-size="5.2" text-anchor="end">−2.00</text>
<text x="392.0" y="472.7" font-size="5.2" text-anchor="end">−3.00 µm</text>
<text x="170.5" y="407.7" font-size="5.2" text-anchor="end">y(mm)</text>
<text x="360.0" y="435.7" font-size="5.2" text-anchor="start">x(mm)</text>
<text x="245.5" y="470.0" font-size="5.2" text-anchor="middle">0.0</text>
<text x="269.6" y="463.0" font-size="5.2" text-anchor="middle">0.2</text>
<text x="293.8" y="456.0" font-size="5.2" text-anchor="middle">0.4</text>
<text x="317.9" y="449.0" font-size="5.2" text-anchor="middle">0.6</text>
<text x="342.1" y="442.0" font-size="5.2" text-anchor="middle">0.8</text>
<text x="233.0" y="469.1" font-size="5.2" text-anchor="middle">0.0 </text>
<text x="219.2" y="457.1" font-size="5.2" text-anchor="middle">0.2 </text>
<text x="205.4" y="445.1" font-size="5.2" text-anchor="middle">0.4 </text>
<text x="191.6" y="433.1" font-size="5.2" text-anchor="middle">0.6 </text>
<text x="177.8" y="421.1" font-size="5.2" text-anchor="middle">0.8 </text>
<text x="274.0" y="497.4" font-size="14.5" text-anchor="middle" class="cap">(<tspan font-weight="bold">e</tspan>)</text>
</svg>
</body></html>
